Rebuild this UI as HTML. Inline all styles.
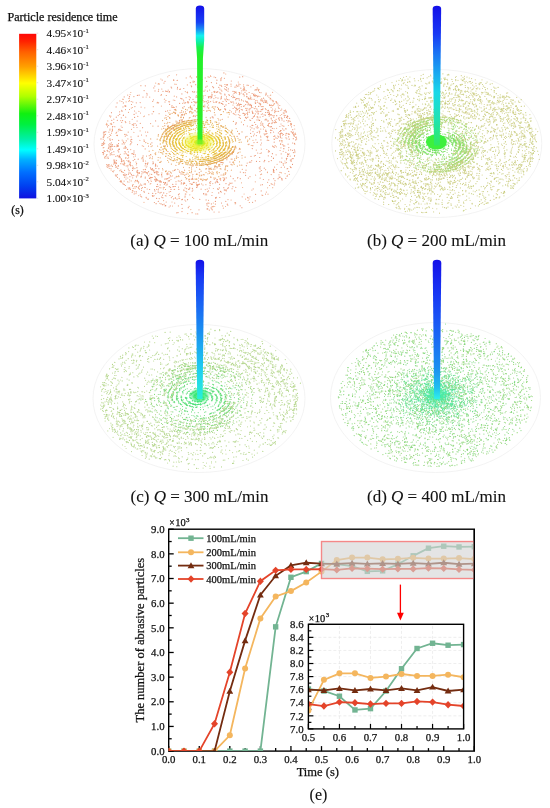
<!DOCTYPE html>
<html><head><meta charset="utf-8"><title>Particle residence time</title>
<style>
html,body{margin:0;padding:0;background:#fff;width:550px;height:808px;overflow:hidden}
svg{display:block;filter:blur(0.3px)}
text{font-family:'Liberation Serif','Times New Roman',serif;fill:#111;stroke:#111;stroke-width:0.25px}
</style></head><body>
<svg width="550" height="808" viewBox="0 0 550 808">
<text x="7.5" y="21.0" font-size="12.1">Particle residence time</text>
<defs><linearGradient id="cb" x1="0" y1="0" x2="0" y2="1"><stop offset="0" stop-color="#ff0808"/><stop offset="0.044" stop-color="#ff2000"/><stop offset="0.11" stop-color="#ff6000"/><stop offset="0.2" stop-color="#ffa000"/><stop offset="0.3" stop-color="#ffff00"/><stop offset="0.38" stop-color="#b0ff00"/><stop offset="0.485" stop-color="#10f010"/><stop offset="0.55" stop-color="#00f040"/><stop offset="0.64" stop-color="#00f0a8"/><stop offset="0.705" stop-color="#00ffff"/><stop offset="0.765" stop-color="#00b0ff"/><stop offset="0.84" stop-color="#0070ff"/><stop offset="0.925" stop-color="#0040f0"/><stop offset="1" stop-color="#1010e0"/></linearGradient></defs>
<rect x="19.1" y="33.8" width="17.2" height="164.6" fill="url(#cb)"/>
<text x="46.5" y="37.1" font-size="11.3" style="stroke-width:0.12px">4.95<tspan font-size="10">×</tspan>10<tspan font-size="6.6" dy="-4.6">-1</tspan></text>
<line x1="36.6" x2="38.2" y1="33.2" y2="33.2" stroke="#ccc" stroke-width="0.6"/>
<text x="46.5" y="53.6" font-size="11.3" style="stroke-width:0.12px">4.46<tspan font-size="10">×</tspan>10<tspan font-size="6.6" dy="-4.6">-1</tspan></text>
<line x1="36.6" x2="38.2" y1="49.7" y2="49.7" stroke="#ccc" stroke-width="0.6"/>
<text x="46.5" y="70.1" font-size="11.3" style="stroke-width:0.12px">3.96<tspan font-size="10">×</tspan>10<tspan font-size="6.6" dy="-4.6">-1</tspan></text>
<line x1="36.6" x2="38.2" y1="66.2" y2="66.2" stroke="#ccc" stroke-width="0.6"/>
<text x="46.5" y="86.6" font-size="11.3" style="stroke-width:0.12px">3.47<tspan font-size="10">×</tspan>10<tspan font-size="6.6" dy="-4.6">-1</tspan></text>
<line x1="36.6" x2="38.2" y1="82.7" y2="82.7" stroke="#ccc" stroke-width="0.6"/>
<text x="46.5" y="103.1" font-size="11.3" style="stroke-width:0.12px">2.97<tspan font-size="10">×</tspan>10<tspan font-size="6.6" dy="-4.6">-1</tspan></text>
<line x1="36.6" x2="38.2" y1="99.2" y2="99.2" stroke="#ccc" stroke-width="0.6"/>
<text x="46.5" y="119.7" font-size="11.3" style="stroke-width:0.12px">2.48<tspan font-size="10">×</tspan>10<tspan font-size="6.6" dy="-4.6">-1</tspan></text>
<line x1="36.6" x2="38.2" y1="115.8" y2="115.8" stroke="#ccc" stroke-width="0.6"/>
<text x="46.5" y="136.2" font-size="11.3" style="stroke-width:0.12px">1.99<tspan font-size="10">×</tspan>10<tspan font-size="6.6" dy="-4.6">-1</tspan></text>
<line x1="36.6" x2="38.2" y1="132.3" y2="132.3" stroke="#ccc" stroke-width="0.6"/>
<text x="46.5" y="152.7" font-size="11.3" style="stroke-width:0.12px">1.49<tspan font-size="10">×</tspan>10<tspan font-size="6.6" dy="-4.6">-1</tspan></text>
<line x1="36.6" x2="38.2" y1="148.8" y2="148.8" stroke="#ccc" stroke-width="0.6"/>
<text x="46.5" y="169.2" font-size="11.3" style="stroke-width:0.12px">9.98<tspan font-size="10">×</tspan>10<tspan font-size="6.6" dy="-4.6">-2</tspan></text>
<line x1="36.6" x2="38.2" y1="165.3" y2="165.3" stroke="#ccc" stroke-width="0.6"/>
<text x="46.5" y="185.7" font-size="11.3" style="stroke-width:0.12px">5.04<tspan font-size="10">×</tspan>10<tspan font-size="6.6" dy="-4.6">-2</tspan></text>
<line x1="36.6" x2="38.2" y1="181.8" y2="181.8" stroke="#ccc" stroke-width="0.6"/>
<text x="46.5" y="202.2" font-size="11.3" style="stroke-width:0.12px">1.00<tspan font-size="10">×</tspan>10<tspan font-size="6.6" dy="-4.6">-3</tspan></text>
<line x1="36.6" x2="38.2" y1="198.3" y2="198.3" stroke="#ccc" stroke-width="0.6"/>
<text x="11.3" y="213.5" font-size="11.8">(s)</text>
<defs><filter id="bl" x="-5%" y="-5%" width="110%" height="110%"><feGaussianBlur stdDeviation="0.45"/></filter></defs>
<ellipse cx="199.5" cy="144.0" rx="105.5" ry="75.5" fill="none" stroke="#f0f0f0" stroke-width="0.8"/>
<g filter="url(#bl)">
<path d="M223.4 159.4h0M200.5 120.2h0M201.2 165.4h0M226.8 157.0h0M190.0 165.0h0M223.3 127.0h0M231.1 153.6h0M229.0 130.7h0M179.6 122.5h0M221.6 125.8h0M232.2 130.7h0M210.0 164.3h0M235.7 146.7h0M177.1 123.8h0M194.3 163.6h0M168.3 155.6h0M224.4 158.7h0M165.9 130.4h0M195.3 119.7h0M194.6 120.1h0M187.7 120.9h0M210.0 164.0h0M208.4 163.9h0M213.6 163.3h0M192.6 164.8h0M208.6 164.2h0M222.8 159.6h0M166.5 130.3h0M207.8 164.4h0M161.3 137.1h0M216.4 122.1h0M190.4 164.9h0M187.9 120.8h0M223.4 159.5h0M163.3 151.0h0M226.4 157.1h0M170.0 159.2h0M219.8 160.9h0M167.8 158.0h0M230.0 154.8h0M170.1 127.6h0M225.4 158.0h0M218.7 161.5h0M217.6 124.5h0M166.6 129.5h0M234.6 149.0h0M161.0 147.4h0M212.5 163.4h0M194.1 120.0h0M179.2 122.9h0M211.5 163.6h0M229.1 155.7h0M161.6 152.7h0M161.1 137.9h0M234.8 149.0h0M218.7 161.5h0M167.8 129.1h0M233.4 152.4h0M235.1 147.6h0M183.1 121.5h0M193.7 120.0h0M206.7 120.0h0M187.0 121.0h0M165.8 130.7h0M238.0 138.2h0M171.2 126.6h0M169.5 127.7h0M186.0 162.4h0M161.3 147.0h0M210.7 121.0h0M234.4 149.6h0M199.3 120.1h0M230.3 154.0h0M231.2 131.6h0M223.4 158.7h0M205.1 164.6h0M235.6 140.9h0M234.3 149.7h0M221.0 125.8h0M164.1 131.9h0M168.2 128.5h0M170.3 126.7h0M225.7 158.1h0M180.3 161.2h0M183.6 122.0h0M191.1 120.6h0M160.3 143.7h0M225.3 158.5h0M213.6 162.9h0M234.1 149.6h0M199.4 165.2h0M232.9 151.6h0M160.5 138.9h0M217.2 162.0h0M189.8 164.8h0M182.4 122.3h0M172.8 160.6h0M233.7 150.5h0M174.3 158.9h0M166.8 153.7h0M227.3 157.1h0M235.3 146.0h0M197.1 119.6h0M229.8 154.9h0M210.9 163.7h0M183.6 121.7h0M185.0 121.1h0M195.8 120.0h0M232.7 134.0h0M200.4 165.1h0M181.8 122.1h0M206.6 164.1h0M165.9 153.6h0M221.5 160.1h0M192.5 120.3h0M171.5 157.7h0M166.8 129.4h0M235.0 147.3h0M158.2 136.1h0M180.0 122.9h0M225.4 125.8h0M166.8 129.6h0M159.5 149.6h0M234.0 136.0h0M225.9 128.1h0M165.6 129.8h0M210.7 122.4h0M174.6 125.4h0M159.8 139.9h0M165.7 130.0h0M160.2 144.1h0M211.2 163.6h0M220.7 160.8h0M220.8 160.6h0M173.7 125.3h0M183.4 121.6h0M184.6 121.3h0M223.8 126.8h0M227.0 157.2h0M183.9 121.6h0M188.6 120.4h0M158.2 135.8h0M162.8 134.5h0M182.2 163.5h0M161.6 136.0h0M171.7 126.0h0M191.9 163.3h0M196.9 165.3h0M178.8 162.9h0M214.4 163.0h0M173.4 160.6h0M199.6 120.5h0M186.3 121.2h0M215.2 162.8h0M233.8 150.2h0M198.0 119.7h0M234.6 137.0h0M168.9 127.7h0M235.1 138.4h0M210.8 120.9h0M216.4 162.6h0M206.1 164.4h0M210.8 122.7h0M160.3 140.7h0M219.1 161.2h0M231.1 153.9h0M228.1 156.0h0M221.9 160.1h0M207.6 120.5h0M176.8 162.2h0M170.0 127.4h0M231.3 132.7h0M217.2 162.2h0M215.6 162.6h0M216.7 162.3h0M206.9 164.4h0M192.2 120.1h0M226.6 128.3h0M234.0 151.0h0M207.4 120.2h0M230.0 154.7h0M171.4 126.3h0M172.3 125.7h0M167.4 129.0h0M226.6 157.6h0M196.8 165.2h0M221.4 160.2h0M186.4 164.1h0M162.9 154.1h0M232.0 130.1h0M231.4 153.9h0M186.4 121.0h0M197.2 120.1h0M189.0 120.8h0M173.7 125.4h0M171.6 157.7h0M178.7 122.8h0M202.6 164.7h0M181.4 161.5h0M210.4 120.6h0M162.9 133.5h0M209.9 164.0h0M217.0 162.0h0M197.7 119.6h0M179.6 163.1h0M194.6 119.8h0M198.1 119.6h0M203.9 164.9h0M210.3 120.5h0M235.5 139.7h0M174.8 159.1h0M221.0 125.7h0M197.1 165.1h0M191.6 120.5h0M181.7 161.4h0M193.6 165.0h0M195.6 165.1h0M170.5 126.9h0M234.6 148.8h0M167.7 128.9h0M181.6 122.1h0M170.8 159.5h0M190.9 164.9h0M225.2 128.1h0M186.0 164.1h0M171.2 160.0h0M174.5 124.9h0M176.9 124.0h0M184.8 121.1h0M173.9 160.8h0M174.4 159.0h0M187.9 164.7h0M176.6 123.8h0M173.7 160.8h0M209.5 163.9h0M235.3 139.7h0M234.5 136.9h0M167.4 128.3h0M219.2 161.2h0M201.7 120.0h0M201.7 165.2h0M225.4 158.1h0M188.3 163.1h0M201.9 163.5h0M239.0 140.1h0M200.0 164.9h0M187.8 163.0h0M239.2 142.4h0M170.1 156.6h0M176.6 159.7h0M210.0 163.8h0M161.0 137.7h0M185.8 163.8h0M172.5 125.4h0M234.0 136.2h0M210.5 164.2h0M166.9 129.5h0M228.9 155.9h0M210.0 164.0h0M202.9 165.3h0M214.9 162.6h0M221.1 160.5h0M223.1 159.9h0M189.8 120.7h0M187.8 164.5h0M216.7 122.5h0M209.7 164.3h0M231.8 152.7h0M168.2 127.8h0M203.2 165.0h0M191.1 120.3h0M201.6 164.9h0M182.2 122.1h0M214.6 162.7h0M218.4 124.7h0M179.8 122.7h0M235.0 147.0h0M214.8 162.6h0M223.3 127.3h0M233.5 151.5h0M225.1 158.3h0M163.8 151.7h0M164.8 131.0h0M228.4 156.4h0M167.7 128.8h0M220.5 125.7h0M190.0 120.8h0M232.7 152.4h0M214.7 162.6h0M175.7 124.6h0M182.3 122.0h0M216.9 162.0h0M165.6 156.5h0M172.0 126.1h0M220.7 160.6h0M232.5 153.1h0M162.2 134.3h0M165.5 131.3h0M182.9 163.6h0M162.9 149.3h0M232.7 151.8h0M215.1 121.9h0M200.7 165.1h0M163.4 132.7h0M227.7 129.5h0M199.3 163.6h0M225.0 158.5h0M207.5 120.4h0M231.9 133.0h0" stroke="#e0a040" stroke-width="1.1" stroke-linecap="round" fill="none" stroke-opacity="0.9"/>
<path d="M165.8 134.1h0M213.5 127.3h0M227.3 153.6h0M229.5 144.7h0M223.0 156.9h0M230.1 151.1h0M178.9 124.9h0M171.1 128.6h0M227.7 149.6h0M230.2 150.2h0M225.2 152.1h0M178.3 127.5h0M184.1 123.5h0M230.0 142.0h0M228.8 147.3h0M199.6 121.7h0M163.4 140.1h0M216.9 157.9h0M185.8 162.2h0M199.4 161.6h0M202.2 123.5h0M209.5 160.0h0M169.7 130.0h0M181.7 126.6h0M190.3 124.0h0M167.0 133.1h0M176.2 125.8h0M186.4 160.7h0M193.0 159.5h0M175.1 129.1h0M224.3 152.6h0M220.6 158.2h0M216.8 158.1h0M165.7 140.7h0M170.4 129.7h0M229.1 151.4h0M178.9 158.4h0M166.9 138.7h0M183.2 123.5h0M180.1 127.1h0M177.2 128.2h0M222.0 157.9h0M186.4 122.8h0M224.8 152.9h0M176.6 125.9h0M229.0 152.2h0M192.8 161.4h0M177.3 125.7h0M222.8 154.1h0M165.2 136.4h0M183.0 124.0h0M211.8 124.8h0M179.7 158.9h0M203.6 163.2h0M202.7 121.7h0M222.5 126.9h0M228.7 138.6h0M169.1 153.2h0M230.2 150.2h0M169.4 130.8h0M229.9 151.4h0M208.1 160.1h0M226.1 155.0h0M229.1 146.1h0M226.4 155.0h0M166.3 133.6h0M189.1 161.3h0M215.9 158.1h0M183.1 124.1h0M181.9 125.9h0M212.9 157.5h0M180.8 160.9h0M172.3 128.8h0M230.8 148.9h0M227.6 136.7h0M232.2 139.6h0M200.0 123.1h0M195.3 123.7h0M166.7 141.5h0M201.4 121.8h0M193.4 122.0h0M214.7 160.1h0M202.2 161.4h0M222.8 157.2h0M181.8 126.1h0M212.5 161.4h0M167.9 131.8h0M229.5 143.4h0M199.5 121.5h0M169.7 130.4h0M226.4 154.7h0M183.2 123.8h0M219.0 159.5h0M164.4 137.8h0M171.3 132.1h0M169.8 133.8h0M229.2 151.1h0M212.8 161.2h0M187.4 160.6h0M173.2 127.5h0M184.5 125.1h0M225.1 155.4h0M220.0 128.0h0M175.7 129.1h0M219.1 156.6h0M217.3 159.9h0M179.6 124.8h0M169.1 133.9h0M226.8 154.2h0M204.4 159.3h0M229.5 145.8h0M174.0 156.4h0M215.5 158.3h0M229.2 139.4h0M172.5 152.5h0M211.4 161.4h0M218.7 129.4h0M164.7 147.7h0M229.6 151.4h0M199.9 125.2h0M167.3 145.1h0M202.7 123.8h0M224.5 156.4h0M183.0 123.8h0M170.5 154.2h0M186.4 123.2h0M213.3 125.3h0M176.7 128.7h0M182.6 125.9h0M171.8 131.7h0M188.6 122.5h0M193.1 125.4h0M176.4 129.0h0M180.4 126.8h0M170.3 132.9h0M231.5 148.7h0M216.9 159.9h0M166.2 143.0h0M223.5 156.8h0M216.5 160.3h0M173.6 153.4h0M163.7 146.0h0M169.5 133.2h0M186.4 124.7h0M165.7 134.5h0M188.7 122.7h0M166.5 144.1h0M187.5 124.9h0M204.7 161.0h0M209.7 161.9h0M183.6 125.7h0M174.7 126.9h0M182.1 159.8h0M219.2 156.2h0M197.9 163.1h0M217.5 157.3h0M168.9 134.3h0M190.3 159.3h0M191.9 123.7h0M181.5 126.2h0M208.0 158.9h0M167.5 137.3h0M184.5 125.5h0M227.5 153.5h0M205.1 162.9h0M175.2 126.7h0M182.3 159.6h0M221.9 154.9h0M209.1 124.5h0M167.8 131.4h0M225.2 152.7h0M166.4 149.8h0M222.3 157.2h0M180.5 126.7h0M171.9 131.6h0M221.4 155.1h0M187.7 124.7h0M203.9 159.4h0M224.6 152.9h0M208.0 162.4h0M227.1 151.2h0M200.4 123.8h0M176.2 126.3h0M169.4 134.0h0M165.8 134.2h0M228.4 148.0h0M163.4 141.0h0M189.9 122.0h0M226.8 154.5h0M177.4 128.1h0M176.3 128.5h0M176.0 126.2h0M182.7 157.3h0M207.3 122.2h0M194.0 121.8h0M180.7 161.0h0M177.2 126.0h0M216.9 160.1h0M175.3 126.7h0M224.1 156.6h0M206.2 122.0h0M214.5 160.8h0M216.9 128.7h0M229.8 142.9h0M221.6 158.0h0M181.8 123.8h0M177.1 157.4h0M224.0 153.4h0M192.0 123.7h0M175.8 129.0h0M181.2 126.3h0M227.9 132.9h0M180.6 124.4h0M215.6 158.5h0M164.1 146.0h0M166.2 133.4h0M222.7 155.0h0M168.6 134.8h0M203.5 161.0h0M228.9 147.2h0M221.4 154.5h0M220.0 130.2h0M228.6 147.4h0M188.1 162.6h0M181.2 126.2h0M164.6 136.4h0M189.5 159.1h0M190.8 122.2h0M226.5 131.4h0M212.3 159.1h0M218.6 156.9h0M189.7 161.0h0M213.1 127.4h0M167.0 132.5h0M232.7 142.0h0M170.3 134.2h0M224.1 153.0h0M178.4 127.3h0M180.6 126.6h0M224.5 153.3h0M219.0 129.7h0M165.8 134.7h0M205.0 163.1h0M221.2 155.4h0M173.4 130.2h0M191.2 161.1h0M174.6 130.4h0M202.6 161.4h0M227.9 148.2h0M173.9 130.2h0M189.6 122.2h0M229.5 144.8h0M189.3 160.8h0M170.6 133.3h0M186.5 122.8h0M171.2 151.3h0M228.3 148.5h0M180.9 126.6h0M185.9 123.3h0M169.7 153.9h0M177.4 125.8h0M184.7 122.9h0M167.5 146.5h0M163.9 137.8h0M181.2 126.3h0M223.3 156.6h0M225.1 155.6h0M179.7 125.2h0M208.8 160.4h0M205.6 161.0h0M229.2 146.4h0M182.0 126.3h0M163.1 142.0h0M218.1 159.7h0M166.6 139.8h0M220.8 158.4h0M199.7 122.0h0M164.6 136.5h0M229.3 142.1h0M190.0 122.6h0M223.7 154.2h0M213.8 158.9h0M206.7 122.1h0M211.2 161.8h0M162.9 142.6h0M176.8 125.7h0M175.9 154.7h0M222.5 157.3h0M178.8 125.1h0M196.4 163.2h0M229.1 145.5h0M228.0 136.9h0M166.4 150.6h0M192.1 161.2h0M232.5 147.3h0M191.8 163.0h0M227.9 152.9h0M182.3 126.4h0M184.3 161.8h0M229.8 135.1h0M202.2 163.1h0M224.0 153.9h0M167.4 136.3h0M177.3 128.2h0M185.7 123.2h0M229.7 141.3h0M179.5 158.6h0M229.0 146.6h0M173.5 127.6h0M183.4 125.7h0M220.0 159.1h0M190.9 124.4h0M223.7 153.5h0M232.4 146.6h0M229.2 146.8h0M208.5 160.6h0M185.1 123.4h0M207.7 124.1h0M180.9 159.1h0M174.9 129.1h0M170.2 130.1h0M216.0 156.3h0M195.0 123.7h0M192.3 122.0h0M209.4 160.4h0M219.3 156.5h0M221.8 155.6h0M190.2 122.1h0M201.6 161.2h0M180.6 126.9h0M231.4 138.3h0M225.3 152.5h0M208.5 160.2h0M221.5 158.1h0M221.7 130.8h0M216.4 157.8h0M178.9 127.7h0M190.6 161.0h0M166.5 139.0h0M180.1 127.0h0M210.3 162.0h0M192.5 161.4h0M164.9 136.8h0M196.4 163.3h0M204.1 124.0h0M164.2 139.1h0M213.7 161.1h0M220.5 155.6h0M176.1 126.2h0M200.2 161.5h0M195.5 161.2h0M228.1 149.1h0M228.8 152.2h0M190.6 124.1h0M228.2 153.0h0M174.4 126.6h0M190.9 162.9h0M223.6 153.2h0M232.9 146.6h0M174.2 154.4h0M174.5 126.7h0M199.7 161.4h0M169.4 133.6h0M166.9 142.1h0M224.6 155.5h0M223.6 156.7h0M190.7 124.3h0M219.5 158.7h0M228.8 140.0h0M166.1 134.0h0M214.3 158.8h0M222.8 156.8h0M225.2 152.3h0M195.0 121.9h0M193.1 161.4h0M227.6 153.8h0M172.0 128.7h0M164.7 148.6h0M203.1 121.8h0M196.3 161.6h0M201.1 125.3h0M225.5 131.1h0M191.7 122.1h0M166.0 133.8h0M194.7 121.9h0M229.1 147.5h0M229.4 141.2h0M183.1 159.7h0M211.8 124.9h0M177.5 159.9h0M169.4 130.6h0M171.2 132.6h0M163.2 140.3h0M171.9 128.6h0M165.1 148.0h0M163.7 140.9h0M168.3 135.3h0M220.9 155.8h0M205.5 162.7h0M207.5 160.8h0M233.2 141.5h0M225.7 152.1h0M183.8 125.7h0M183.1 124.3h0M205.1 162.9h0M218.4 126.9h0M179.6 125.2h0M223.5 154.1h0M211.8 161.8h0M177.8 128.2h0M218.8 156.4h0M179.6 125.0h0M168.3 131.4h0M166.7 138.9h0M206.4 159.2h0M228.0 153.1h0M222.8 157.1h0M229.0 147.3h0M189.8 124.3h0M216.3 160.1h0M217.4 159.7h0M210.9 161.3h0M185.8 125.2h0M203.7 161.2h0M179.0 127.5h0M166.8 133.2h0M166.7 144.1h0M205.8 124.1h0M195.0 160.0h0M231.0 148.6h0M165.8 141.8h0M199.4 122.0h0M168.3 135.7h0M214.8 160.6h0M227.8 136.7h0M226.5 154.2h0M219.0 158.9h0M204.6 125.6h0M225.9 154.5h0M183.9 123.6h0M215.3 158.4h0M224.4 156.3h0M223.7 153.8h0M206.7 160.6h0M201.3 161.4h0M168.5 135.5h0M166.8 133.4h0M219.6 158.8h0M213.5 158.5h0M228.3 147.4h0M229.4 140.0h0M228.9 146.3h0M167.2 138.4h0M188.7 124.2h0M190.9 125.5h0M202.8 121.9h0M195.2 121.8h0M182.4 126.4h0M228.5 152.5h0M163.3 141.9h0M184.1 123.6h0M211.7 157.9h0M204.2 125.4h0M182.1 125.8h0M197.6 123.5h0M186.8 126.3h0M229.2 146.3h0M216.8 160.0h0M226.1 134.3h0M164.2 136.3h0M208.3 162.4h0M164.7 146.5h0M188.9 124.6h0M216.4 158.2h0M229.3 140.6h0M205.1 160.9h0M163.2 140.0h0M188.2 124.2h0M189.5 124.5h0M171.2 128.8h0M215.3 160.3h0M229.0 152.7h0M208.2 162.4h0M225.5 130.6h0M196.8 163.1h0M176.6 126.0h0M215.6 160.2h0M229.3 152.2h0M184.6 125.5h0M168.4 131.7h0M162.9 143.2h0M171.3 129.0h0M176.1 126.1h0M167.1 138.8h0M230.7 150.6h0M189.8 123.7h0M229.6 141.3h0M210.6 160.2h0M196.3 161.9h0M199.9 161.4h0M187.5 124.6h0M178.9 125.4h0M205.5 122.1h0M229.5 151.8h0M164.1 145.8h0M219.5 157.0h0M170.7 133.0h0M192.1 121.9h0M177.6 159.7h0M165.9 149.4h0M212.7 127.0h0M202.4 161.3h0M210.6 160.2h0M222.2 154.8h0M214.0 160.7h0M229.3 144.5h0M177.0 125.9h0M192.5 125.5h0M228.1 148.2h0M190.9 122.0h0M187.1 122.5h0M187.4 124.6h0M196.0 121.6h0M166.9 132.3h0M229.1 146.6h0M203.6 123.8h0M232.2 140.3h0M229.7 140.9h0M198.3 121.5h0M171.7 132.0h0M215.8 160.4h0M227.1 150.7h0M216.7 126.3h0M224.6 152.7h0M185.9 123.0h0M229.1 148.3h0M167.0 138.9h0M174.4 129.9h0M212.1 159.1h0M186.5 124.9h0M220.7 155.5h0M229.0 141.5h0M208.1 124.1h0M189.2 124.0h0M222.7 127.0h0M191.3 125.7h0M191.8 123.7h0M224.8 156.1h0M177.7 125.4h0M204.0 161.2h0M168.0 135.9h0M210.9 161.8h0M229.4 147.1h0M228.1 148.0h0M192.0 121.8h0M174.2 126.8h0M227.9 153.0h0M184.1 125.4h0M181.6 124.1h0M229.0 147.4h0M177.6 157.8h0M169.4 134.2h0M168.0 131.6h0M228.6 137.7h0M174.2 129.8h0M185.9 126.7h0M167.1 137.9h0M215.7 158.3h0M196.9 163.3h0M184.0 125.5h0M190.7 124.2h0M191.3 162.9h0M229.0 145.7h0M231.9 147.5h0M171.2 131.9h0M227.1 132.4h0M203.5 123.7h0M196.0 121.6h0M179.6 124.7h0M208.0 160.3h0M223.5 157.1h0M176.3 128.3h0M212.5 123.2h0M200.1 121.7h0M228.8 139.6h0M230.6 135.2h0M214.6 157.9h0M182.2 161.4h0M164.8 136.3h0M213.3 161.1h0M180.7 159.5h0M219.2 156.7h0M232.2 140.6h0M185.2 123.3h0M222.3 154.5h0M201.5 123.5h0M198.0 123.4h0M203.6 121.8h0M197.6 123.3h0M183.8 125.8h0M169.4 130.5h0M226.4 154.5h0M164.1 136.5h0M211.0 159.6h0M232.2 147.2h0M193.5 124.1h0M199.6 163.1h0M185.4 123.3h0M165.9 149.1h0M226.2 152.5h0M225.0 130.7h0M200.5 161.1h0M167.1 138.1h0M171.3 132.2h0M228.6 147.9h0M164.0 137.9h0M171.0 132.2h0M187.5 124.8h0M216.5 124.3h0" stroke="#e1ab35" stroke-width="1.1" stroke-linecap="round" fill="none" stroke-opacity="0.9"/>
<path d="M170.4 145.9h0M203.6 127.7h0M190.8 125.9h0M169.8 144.5h0M175.9 131.8h0M220.4 136.0h0M170.0 140.9h0M202.3 157.8h0M173.3 142.0h0M216.5 155.1h0M174.4 133.2h0M221.7 148.7h0M180.1 131.9h0M175.5 148.9h0M214.9 156.2h0M195.2 156.3h0M175.5 132.0h0M223.1 140.8h0M202.1 157.9h0M185.3 127.5h0M198.6 128.9h0M218.1 154.6h0M207.6 158.5h0M170.4 138.7h0M174.5 136.4h0M188.5 126.6h0M187.7 126.5h0M177.2 133.0h0M218.7 151.1h0M226.1 145.4h0M173.3 145.3h0M172.2 135.1h0M172.7 142.6h0M220.3 132.7h0M223.9 150.1h0M222.1 147.4h0M181.9 130.8h0M225.4 142.6h0M175.5 135.9h0M217.7 131.3h0M172.6 143.4h0M222.9 142.3h0M176.8 134.0h0M175.9 132.0h0M174.3 146.1h0M223.4 145.4h0M215.0 156.3h0M209.9 130.6h0M222.9 143.0h0M225.0 139.2h0M176.9 133.6h0M221.6 133.4h0M176.4 134.1h0M174.0 136.9h0M174.7 147.5h0M189.9 128.2h0M170.2 138.0h0M172.9 144.3h0M215.8 153.3h0M170.5 137.7h0M173.1 145.5h0M221.1 148.6h0M173.6 150.4h0M227.0 143.1h0M223.9 150.5h0M176.4 149.5h0M222.4 152.0h0M178.7 129.7h0M225.3 137.5h0M174.9 136.6h0M169.4 141.8h0M206.0 127.6h0M175.8 134.8h0M220.0 150.6h0M215.5 132.8h0M219.5 151.4h0M176.8 153.1h0M184.3 129.9h0M182.2 153.1h0M223.4 143.9h0M201.7 155.8h0M174.1 138.4h0M177.5 153.3h0M227.0 146.0h0M175.6 131.6h0M172.4 149.4h0M221.3 136.6h0M173.2 138.6h0M197.5 129.0h0M223.1 150.5h0M210.9 157.8h0M173.3 140.4h0M177.1 130.8h0M175.6 151.6h0M226.3 145.3h0M195.7 128.8h0M175.3 135.3h0M225.6 143.5h0M178.4 129.8h0M216.6 155.6h0M177.5 130.6h0M173.9 138.4h0M197.2 159.6h0M193.9 129.1h0M223.2 145.2h0M176.5 134.1h0M224.7 149.9h0M171.5 148.2h0M191.8 129.4h0M220.0 135.6h0M217.1 155.4h0M173.8 137.6h0M218.7 154.4h0M217.4 131.5h0M182.5 130.2h0M218.2 154.7h0M220.4 153.2h0M206.5 157.1h0M225.3 138.6h0M173.1 139.4h0M198.5 157.9h0M221.2 134.1h0M219.6 154.2h0M219.9 154.0h0M170.1 140.1h0M222.8 140.0h0M220.3 153.3h0M174.1 138.1h0M222.2 146.6h0M179.6 131.6h0M177.3 130.8h0M212.8 155.0h0M171.7 136.5h0M172.3 134.5h0M174.7 136.8h0M221.8 148.2h0M221.8 147.9h0M223.1 143.7h0M221.3 136.5h0M223.4 144.7h0M203.0 129.3h0M200.2 159.5h0M201.0 127.1h0M182.9 155.7h0M169.3 142.9h0M214.3 156.5h0M170.1 138.9h0M223.1 142.3h0M220.9 152.4h0M183.5 128.4h0M208.6 158.3h0M213.7 154.6h0M223.9 149.4h0M226.4 141.7h0M173.9 137.8h0M216.1 132.8h0M174.2 133.1h0M169.8 143.5h0M213.6 157.1h0M218.1 154.1h0M187.3 126.7h0M226.4 142.3h0M204.6 127.4h0M173.9 137.0h0M191.7 126.1h0M208.2 156.3h0M219.1 154.4h0M225.5 146.4h0M174.4 146.4h0M223.1 144.9h0M177.5 133.5h0M213.9 152.4h0M172.7 134.6h0M175.9 134.8h0M171.0 137.2h0M175.8 135.0h0M223.9 150.0h0M217.7 131.4h0M174.6 136.1h0M178.3 130.3h0M219.5 153.4h0M223.3 149.8h0M186.6 128.7h0M176.5 134.1h0M173.0 143.8h0M207.3 158.7h0M176.8 133.7h0M225.2 148.7h0M175.8 151.5h0M178.0 130.2h0M223.3 143.8h0M214.6 153.6h0M222.6 146.8h0M224.5 148.5h0M186.2 156.5h0M182.6 155.9h0M213.3 157.2h0M223.7 149.8h0M210.4 157.9h0M173.9 133.2h0M220.4 149.6h0M222.1 147.1h0M171.1 136.6h0M174.9 136.5h0M185.0 128.9h0M175.4 132.2h0M170.5 138.7h0M223.4 142.2h0M221.2 148.5h0M185.3 127.0h0M181.3 129.0h0M172.6 134.4h0M207.7 158.7h0M171.0 146.8h0M183.4 127.9h0M202.9 157.3h0M175.5 148.6h0M218.9 134.8h0M169.5 140.8h0M169.7 142.4h0M221.1 136.8h0M219.5 150.8h0M170.4 137.9h0M201.0 157.8h0M199.9 159.6h0M214.9 154.4h0M215.4 132.9h0M218.4 154.9h0M188.0 126.4h0M177.4 153.5h0M208.9 156.4h0M170.0 141.0h0M180.0 152.3h0M219.6 151.0h0M174.3 136.2h0M172.4 134.6h0M179.3 129.4h0M174.3 136.7h0M183.4 127.9h0M174.0 145.0h0M219.8 135.6h0M170.3 139.1h0M205.2 157.2h0M200.9 159.4h0M185.4 127.1h0M180.9 128.4h0M221.5 138.5h0M174.8 150.9h0M177.9 132.8h0M214.7 153.8h0M215.8 153.5h0M181.0 155.3h0M172.0 135.2h0M217.5 155.4h0M170.4 143.9h0M169.6 140.9h0M226.1 145.8h0M208.5 158.4h0M169.7 139.8h0M176.5 149.7h0M182.2 155.2h0M177.3 150.1h0M178.7 154.1h0M219.6 150.9h0M214.8 153.7h0M179.8 129.0h0M221.9 152.6h0M171.9 135.5h0M218.2 154.4h0M226.5 142.3h0M172.3 135.7h0M193.5 129.1h0M174.9 133.3h0M180.2 129.5h0M221.3 152.8h0M198.6 159.6h0M196.4 125.6h0M210.0 130.7h0M171.1 136.8h0M180.0 131.7h0M220.9 148.7h0M177.1 150.4h0M223.5 143.2h0M197.3 157.6h0M172.5 141.9h0M224.4 149.5h0M219.8 132.0h0M170.2 138.2h0M173.4 137.8h0M214.5 156.4h0M198.8 126.9h0M225.0 136.8h0M185.6 127.1h0M217.1 133.5h0M170.6 137.4h0M207.3 129.5h0M215.5 155.8h0M212.2 127.3h0M220.2 135.8h0M174.5 148.3h0M202.4 126.9h0M171.7 135.8h0M225.0 147.9h0M189.0 128.4h0M181.0 131.2h0M226.3 144.9h0M220.1 150.6h0M189.3 126.0h0M223.7 150.6h0M169.3 143.1h0M175.2 151.4h0M221.9 138.1h0M180.3 128.9h0M174.3 136.8h0M225.5 138.6h0M209.0 158.1h0M209.0 156.2h0M207.4 156.2h0M171.9 135.3h0M188.3 126.6h0M223.4 144.4h0M217.1 133.9h0M220.0 150.0h0M226.7 141.7h0M225.0 138.4h0M175.7 132.0h0M173.4 138.1h0M215.0 156.1h0M172.0 135.4h0M173.5 137.6h0M204.7 159.3h0M222.6 139.9h0M176.0 134.8h0M223.0 145.4h0M170.3 139.6h0M198.9 127.2h0M216.9 155.3h0M202.9 159.5h0M169.3 139.8h0M169.7 140.0h0M169.9 141.2h0M172.6 143.6h0M216.6 152.8h0M172.2 134.8h0M183.6 130.1h0M215.2 153.7h0M223.1 141.0h0M174.9 135.7h0M169.7 141.2h0M219.6 132.6h0M203.6 159.1h0M188.8 128.0h0M198.1 156.2h0M220.2 153.2h0M170.2 145.1h0M222.9 142.6h0M178.2 132.6h0M173.6 145.1h0M196.5 157.8h0M186.7 130.8h0M208.3 156.5h0M179.2 132.7h0M177.6 132.9h0M172.3 141.6h0M173.8 137.3h0M225.6 139.2h0M177.7 130.3h0M221.7 137.9h0M176.1 131.0h0M170.5 137.9h0M194.9 158.2h0M189.2 128.4h0M215.1 156.2h0M225.5 145.9h0M221.0 133.7h0M171.1 148.1h0M181.8 155.1h0M225.9 143.9h0M219.3 151.0h0M174.8 135.6h0M226.2 145.8h0M176.5 149.5h0M216.9 153.0h0M189.2 128.2h0M173.3 145.9h0M210.0 126.8h0M176.2 134.6h0M173.1 142.9h0M173.0 138.8h0M218.3 154.6h0M176.6 130.9h0M221.8 148.2h0M223.0 140.5h0M202.1 125.5h0M223.0 146.0h0M183.3 155.4h0M222.6 140.2h0M176.0 131.6h0M205.7 156.7h0M185.1 128.9h0M223.1 143.4h0M178.2 132.8h0M183.6 128.1h0M172.2 144.2h0M221.9 138.3h0M222.9 146.3h0M225.2 138.0h0M173.7 146.6h0M175.4 136.3h0M175.8 134.7h0M221.7 147.7h0M182.3 130.6h0M174.2 133.1h0M171.5 136.8h0M170.5 137.8h0M173.4 137.8h0M222.9 145.3h0M196.6 156.1h0M208.5 156.3h0M219.4 135.7h0M220.1 153.7h0M174.2 137.3h0M170.1 138.0h0M222.4 151.7h0M213.3 156.8h0M216.3 155.5h0M173.0 143.3h0M173.9 137.7h0M172.3 142.1h0M205.6 159.1h0M195.5 158.0h0M210.8 158.0h0M220.3 149.6h0M175.3 148.0h0M220.4 153.0h0M225.4 147.7h0M218.8 154.5h0M181.2 128.8h0M220.8 152.9h0M172.7 140.9h0M224.1 137.1h0M176.6 149.2h0M170.1 138.7h0M196.7 127.3h0M169.5 139.3h0M220.6 149.8h0M174.3 137.0h0M192.5 157.8h0M221.1 148.7h0M210.8 157.7h0" stroke="#e3b52b" stroke-width="1.1" stroke-linecap="round" fill="none" stroke-opacity="0.9"/>
<path d="M215.0 114.9h0M162.9 169.8h0M240.4 149.0h0M206.5 111.1h0M174.3 112.4h0M173.4 128.4h0M151.1 146.6h0M166.9 139.0h0M214.4 112.6h0M165.7 129.1h0M175.9 165.3h0M179.7 121.2h0M207.2 110.8h0M181.1 116.0h0M189.3 167.7h0M227.4 157.8h0M197.7 107.2h0M174.0 125.5h0M188.9 107.7h0M203.5 106.2h0M207.7 165.1h0M200.4 179.1h0M210.4 117.9h0M219.1 166.0h0M175.2 169.7h0M239.2 133.9h0M150.6 144.2h0M234.8 160.4h0M164.5 140.7h0M225.7 166.4h0M177.3 122.0h0M238.1 157.5h0M205.8 168.9h0M249.6 138.9h0M170.6 172.2h0M171.4 164.1h0M162.2 136.2h0M201.5 105.5h0M150.7 138.9h0M210.3 168.9h0M233.4 121.4h0M165.9 156.2h0M220.7 114.6h0M199.7 112.1h0M242.0 155.6h0M183.5 117.4h0M201.1 171.2h0M179.4 171.0h0M170.4 114.0h0M189.7 112.6h0M210.8 176.9h0M237.4 166.1h0M225.9 172.9h0M221.3 126.3h0M164.8 125.7h0M204.8 106.8h0M185.4 177.3h0M197.4 108.5h0M231.1 132.4h0M155.1 153.7h0M182.2 119.7h0M186.3 178.9h0M169.8 122.5h0M220.2 156.3h0M169.6 117.7h0M211.9 173.6h0M237.5 131.3h0M222.2 162.6h0M223.2 162.8h0M176.0 121.0h0M238.3 152.5h0M166.8 134.8h0M209.2 168.3h0M245.1 157.2h0M168.7 127.1h0M152.9 126.1h0M203.3 174.7h0M162.6 120.6h0M179.5 120.4h0M158.4 134.6h0M215.2 166.2h0M242.0 131.9h0M173.3 125.5h0M225.1 169.8h0M201.1 114.7h0M191.1 172.7h0M219.0 123.1h0M218.8 166.1h0M213.4 169.1h0M211.0 168.2h0M178.6 175.8h0M178.9 127.8h0M208.9 110.3h0M228.5 155.6h0M241.8 165.2h0M196.9 112.1h0M217.2 166.9h0M171.3 173.1h0" stroke="#e49a60" stroke-width="1.2" stroke-linecap="round" fill="none" stroke-opacity="0.9"/>
<path d="M216.8 144.5h0M212.1 136.0h0M182.3 148.3h0M176.2 143.0h0M207.6 132.3h0M190.7 133.7h0M212.1 135.9h0M177.8 137.6h0M215.0 151.2h0M205.8 133.5h0M220.5 142.7h0M175.6 142.6h0M212.2 136.0h0M179.1 135.2h0M214.7 138.3h0M217.2 143.6h0M217.2 148.3h0M191.2 154.1h0M214.7 151.3h0M208.6 132.1h0M200.9 132.5h0M179.9 145.1h0M180.7 150.1h0M188.7 130.3h0M179.5 144.8h0M218.5 138.0h0M190.3 151.4h0M179.6 149.1h0M220.3 143.5h0M181.3 150.4h0M184.0 152.0h0M193.9 155.7h0M208.9 154.3h0M176.6 139.0h0M179.8 145.2h0M205.3 151.3h0M175.6 139.4h0M185.0 149.6h0M207.7 133.7h0M212.1 135.9h0M216.1 140.2h0M216.4 146.1h0M175.7 143.1h0M216.4 136.1h0M215.1 151.3h0M208.7 150.0h0M190.1 151.7h0M216.2 139.6h0M179.1 139.9h0M219.0 139.7h0M217.7 137.6h0M179.4 144.4h0M180.7 150.1h0M215.2 138.0h0M184.2 132.0h0M180.1 145.2h0M209.0 131.9h0M197.6 152.6h0M197.5 154.2h0M181.3 147.0h0M176.0 140.4h0M181.2 147.2h0M219.1 147.3h0M182.5 135.5h0M191.3 151.9h0M216.8 143.0h0M176.7 144.2h0M188.5 151.4h0M216.6 150.5h0M211.8 135.9h0M181.0 133.5h0M219.7 139.1h0M179.0 140.1h0M178.2 147.8h0M183.8 134.2h0M178.4 136.5h0M197.1 152.2h0M219.1 139.1h0M215.5 135.1h0M179.7 144.0h0M215.1 138.3h0M216.7 142.9h0M182.2 150.7h0M181.1 147.1h0M210.5 135.1h0M180.2 150.0h0M179.9 145.1h0M219.8 142.0h0M178.9 148.3h0M215.7 150.9h0M197.6 154.3h0M192.0 133.5h0M217.2 149.2h0M179.0 143.0h0M180.1 145.6h0M188.8 132.2h0M217.3 141.9h0M213.3 136.8h0M176.6 145.3h0M216.6 144.4h0M219.5 139.6h0M219.1 146.5h0M219.2 147.0h0M212.9 150.2h0M176.7 139.3h0M181.0 134.1h0M190.0 153.6h0M180.2 143.9h0M218.9 139.3h0M215.6 146.9h0M199.5 132.8h0M176.4 138.6h0M177.8 147.3h0M179.3 139.4h0M194.1 152.1h0M220.6 142.7h0M216.5 143.2h0M180.3 134.4h0M179.4 134.8h0M182.5 148.5h0M208.5 150.1h0M190.6 153.6h0M176.3 138.5h0M219.8 145.5h0M179.2 142.9h0M181.8 147.2h0M210.0 151.6h0M212.2 135.8h0M182.6 148.8h0M214.4 137.3h0M200.2 152.2h0M219.2 146.8h0M211.4 153.3h0M176.0 139.3h0M187.4 150.9h0M218.4 138.4h0M220.6 145.3h0M211.4 135.3h0M216.2 136.3h0M209.6 134.1h0M182.3 136.0h0M212.7 152.4h0M175.8 141.9h0M220.1 143.5h0M212.6 133.7h0M184.6 149.5h0M217.6 136.9h0M217.1 141.1h0M214.1 148.6h0M195.4 130.8h0M179.8 143.6h0M212.9 149.6h0M181.4 147.7h0M208.7 132.3h0M176.1 140.4h0M219.7 140.2h0M219.7 142.9h0M220.1 141.6h0M178.7 135.7h0M216.9 145.7h0M219.4 146.6h0M178.8 141.5h0M216.9 136.6h0M176.4 143.6h0M214.8 137.6h0M176.0 144.5h0M214.3 137.2h0M199.8 132.6h0M185.0 131.5h0M207.5 154.5h0M200.1 131.0h0M213.8 136.9h0M187.0 153.0h0M181.4 146.8h0M186.3 133.7h0M204.7 153.3h0M178.8 143.6h0M211.4 150.7h0M213.1 134.1h0M183.8 132.4h0M176.5 143.6h0M216.7 143.6h0M192.1 153.8h0M176.1 140.1h0M200.5 130.5h0M180.8 145.9h0M216.9 143.7h0M209.6 134.5h0M208.3 132.2h0M178.7 135.8h0M210.2 134.8h0M217.2 142.4h0M190.4 152.2h0M197.4 152.4h0M190.2 151.8h0M217.1 136.8h0M182.2 133.6h0M176.8 139.7h0M219.5 140.9h0M178.3 136.4h0M179.7 149.6h0M178.9 142.3h0M176.1 142.8h0M180.5 145.7h0M211.4 153.2h0M219.5 146.8h0M184.3 133.9h0M218.5 147.5h0M218.9 137.2h0M213.7 149.9h0M176.3 139.8h0M175.9 142.3h0M216.0 139.0h0M219.8 143.7h0M181.5 133.7h0M181.4 137.0h0M218.8 147.5h0M217.1 145.5h0M219.2 147.0h0M175.5 143.0h0M191.1 129.7h0M178.8 142.2h0M180.7 146.1h0M176.2 140.4h0M180.9 134.4h0M186.6 131.0h0M181.9 150.8h0M216.0 139.3h0M175.7 142.7h0M200.7 152.1h0M178.9 143.7h0M218.7 138.8h0M179.1 139.3h0M215.0 138.3h0M208.4 154.4h0M179.9 134.7h0M176.8 138.6h0M194.3 154.3h0M178.4 135.4h0M175.4 141.9h0M187.8 151.4h0M179.0 148.4h0M219.6 140.7h0M219.9 144.9h0M216.7 140.8h0M179.6 138.9h0M202.8 132.6h0M190.1 130.1h0M218.3 138.9h0M177.0 146.2h0M216.7 142.8h0M215.2 151.1h0M213.4 152.4h0M205.7 153.1h0M206.4 131.4h0M212.0 132.9h0M180.0 134.7h0M203.2 132.8h0M179.4 142.4h0M195.1 132.7h0M204.5 153.8h0M183.0 132.6h0M214.7 147.7h0M220.1 145.7h0M177.9 136.2h0M216.2 139.6h0M180.4 138.2h0M216.5 145.7h0M189.5 130.4h0M214.3 148.5h0M203.8 132.8h0M178.9 140.8h0M180.1 138.4h0M183.3 132.2h0M178.7 148.2h0M176.5 139.8h0M197.6 152.4h0M213.8 148.9h0M177.4 138.8h0M213.0 136.7h0M217.6 149.2h0M200.1 132.5h0M216.2 140.0h0M176.0 143.4h0M182.4 148.2h0M219.2 142.3h0M185.0 149.8h0M180.5 146.6h0M190.5 151.7h0M217.1 142.6h0M215.8 139.8h0M219.6 140.2h0M177.2 138.7h0M217.1 141.8h0M184.0 149.5h0M219.4 147.1h0M179.7 144.8h0M215.7 139.0h0M182.8 148.2h0M176.6 143.9h0M209.5 151.9h0M194.4 152.4h0M185.5 152.0h0M219.7 144.8h0M218.3 147.9h0M183.6 151.8h0M203.5 131.1h0M216.3 141.1h0M220.1 145.5h0M220.1 140.3h0M194.9 152.3h0M208.4 133.8h0M218.4 138.7h0M217.4 143.0h0M203.7 132.7h0M180.5 138.1h0M216.5 146.1h0M178.2 136.0h0M182.8 148.4h0M191.4 152.0h0M176.9 147.0h0M206.5 133.7h0M219.6 146.1h0M186.5 150.2h0M183.5 137.6h0M218.1 148.2h0M189.3 133.9h0M212.8 152.4h0M176.1 143.3h0M186.2 150.6h0M175.9 140.8h0M179.2 148.6h0M182.3 151.1h0M214.0 152.1h0M180.6 146.2h0M211.2 135.2h0M176.3 145.7h0M183.5 148.5h0M190.2 151.7h0M218.1 137.6h0M182.4 151.1h0M203.0 130.9h0M179.6 139.0h0M216.7 141.2h0M216.3 139.7h0M216.1 146.4h0M175.7 141.6h0M211.9 135.5h0M203.2 153.5h0M183.7 132.4h0" stroke="#e4c020" stroke-width="1.1" stroke-linecap="round" fill="none" stroke-opacity="0.9"/>
<path d="M182.6 140.0h0M187.6 145.9h0M200.8 134.4h0M188.4 146.2h0M188.9 146.6h0M208.0 136.3h0M206.6 135.6h0M212.6 147.0h0M196.9 148.9h0M193.9 148.6h0M200.3 135.9h0M201.2 148.3h0M206.9 148.7h0M201.2 136.4h0M197.4 136.2h0M183.4 145.5h0M199.8 136.3h0M197.3 150.8h0M208.7 139.6h0M190.9 149.9h0M184.6 147.1h0M210.9 138.5h0M205.1 135.1h0M213.6 141.4h0M183.1 145.5h0M213.2 144.9h0M190.0 147.5h0M202.9 136.4h0M182.4 143.0h0M204.3 147.4h0M211.5 147.8h0M193.1 148.6h0M189.6 134.4h0M200.9 134.5h0M190.7 138.1h0M182.3 142.1h0M188.5 146.2h0M186.3 145.4h0M197.5 133.0h0M201.8 136.1h0M189.3 146.8h0M185.6 147.5h0M184.1 138.2h0M191.2 147.9h0M213.7 142.0h0M185.0 147.4h0M206.4 148.7h0M196.5 150.8h0M182.5 145.1h0M203.0 136.9h0M209.5 140.6h0M209.4 149.4h0M192.9 148.5h0M210.9 143.3h0M200.5 150.7h0M192.5 150.1h0M196.7 148.9h0M188.2 146.2h0M203.1 136.9h0M213.2 140.6h0M212.8 138.4h0M185.3 147.1h0M210.3 145.3h0M185.8 144.0h0M212.4 140.0h0M207.9 138.7h0M191.0 149.7h0M207.3 137.9h0M213.0 140.3h0M194.1 148.5h0M188.8 146.6h0M202.7 147.9h0M190.8 138.4h0M204.5 135.0h0M214.3 143.5h0M209.5 139.8h0M208.8 147.0h0M213.5 144.4h0M188.0 145.8h0M200.9 148.6h0M185.5 140.3h0M211.9 138.9h0M213.5 141.0h0M212.8 140.2h0M191.2 138.1h0M206.5 137.8h0M188.6 147.0h0M204.7 135.2h0M203.5 137.0h0M183.3 138.2h0M202.7 134.7h0M193.9 136.6h0M210.9 137.9h0M201.5 150.3h0M182.7 145.1h0M206.5 145.6h0M191.6 147.8h0M187.1 138.3h0M207.5 135.9h0M201.1 150.2h0M196.2 148.5h0M188.7 146.4h0M190.6 147.2h0M204.8 135.2h0M185.4 147.5h0M188.0 141.8h0M203.8 137.0h0M199.0 134.6h0M183.0 144.5h0M191.9 149.9h0M190.5 136.2h0M198.0 135.9h0M190.2 149.3h0M191.7 150.0h0M208.0 136.1h0M192.4 150.4h0M185.7 142.0h0M199.5 150.4h0M188.1 149.1h0M195.3 149.1h0M208.0 136.1h0M192.8 150.3h0M195.6 150.5h0M198.3 149.0h0M184.8 146.7h0M195.8 148.5h0M188.9 147.1h0M185.8 141.0h0M196.3 149.0h0M209.6 136.4h0M204.9 137.4h0M206.8 135.9h0M210.4 145.0h0M182.0 142.7h0M196.0 136.3h0M204.9 135.2h0M208.8 149.6h0M191.4 147.9h0M185.6 143.0h0M207.5 136.0h0M186.0 147.8h0M193.3 148.7h0M192.0 137.4h0M203.6 134.6h0M200.4 148.5h0M191.4 150.1h0M205.0 135.4h0M207.6 138.5h0M185.4 142.0h0M210.7 143.9h0M195.9 150.5h0M184.8 146.7h0M182.4 141.9h0M198.0 149.0h0M206.4 145.9h0M209.8 139.7h0M209.9 137.5h0M213.7 140.8h0M188.9 146.8h0M208.4 135.9h0M183.6 145.5h0M202.7 136.3h0M184.7 137.1h0M207.3 145.3h0M199.8 148.8h0M193.2 136.9h0M197.0 136.2h0M194.7 150.9h0M201.1 134.4h0M206.3 134.9h0M187.2 138.7h0M200.4 136.1h0M184.4 146.7h0M209.3 136.8h0M213.2 142.1h0M182.8 143.7h0M211.8 139.3h0M193.5 136.8h0M207.6 138.7h0M208.3 136.3h0M213.3 140.3h0M182.4 141.8h0M211.8 138.9h0M182.1 142.2h0M187.7 146.2h0M182.2 144.0h0M201.4 150.1h0M213.4 141.8h0M211.4 138.0h0M184.5 146.6h0M195.0 136.6h0M208.9 137.2h0M182.0 140.6h0M204.3 136.7h0M196.4 148.9h0M213.9 141.2h0M209.5 136.7h0M209.2 136.6h0M212.6 139.0h0M211.1 137.8h0M186.4 144.5h0M187.6 145.9h0M182.9 138.9h0M212.1 139.4h0M183.1 145.6h0M182.4 141.1h0M195.0 150.4h0M195.3 148.9h0M192.4 150.2h0M182.3 142.9h0M211.5 138.5h0M202.4 136.5h0M204.0 136.3h0M198.0 136.3h0M208.7 136.8h0M185.6 147.5h0M184.5 146.6h0M193.8 148.7h0M197.5 149.1h0M194.3 136.8h0M187.3 145.8h0M191.1 150.1h0M210.5 137.0h0M210.1 149.0h0M214.0 144.0h0M185.9 139.7h0M207.8 136.0h0M203.5 149.8h0M211.4 137.9h0M194.2 148.5h0M210.0 137.1h0M213.8 141.0h0M206.1 146.0h0M186.1 145.4h0M183.3 144.8h0M203.6 134.7h0M212.4 138.8h0M207.3 138.1h0M208.0 147.4h0M212.7 140.3h0M190.0 136.1h0M209.8 149.0h0M201.7 148.3h0M185.7 141.4h0" stroke="#e5cb15" stroke-width="1.1" stroke-linecap="round" fill="none" stroke-opacity="0.9"/>
<path d="M265.8 130.2h0M175.5 109.3h0M253.6 135.8h0M121.9 101.5h0M195.9 102.6h0M294.5 156.1h0M252.6 202.3h0M136.9 171.0h0M173.7 79.9h0M265.5 134.0h0M255.6 194.3h0M128.6 155.3h0M280.1 177.0h0M210.1 183.4h0M233.2 178.7h0M158.0 172.3h0M119.0 149.3h0M279.0 108.4h0M116.0 175.2h0M191.7 102.4h0M185.7 201.0h0M169.0 174.0h0M111.3 154.0h0M215.3 182.8h0M215.6 77.6h0M134.0 152.8h0M271.3 160.6h0M223.0 101.5h0M137.6 172.5h0M211.8 209.0h0M258.7 106.4h0M201.2 91.6h0M141.7 185.2h0M118.3 165.8h0M106.9 154.6h0M221.2 98.1h0M123.4 115.2h0M255.8 111.0h0M232.0 183.1h0M124.2 143.9h0M146.7 172.5h0M283.4 165.1h0M145.1 171.7h0M134.0 150.9h0M203.1 96.9h0M259.4 120.4h0M243.1 113.3h0M273.4 171.3h0M187.2 92.4h0M129.1 170.7h0M260.8 111.4h0M251.5 105.6h0M287.4 116.7h0M108.7 147.2h0M125.3 146.4h0M154.4 202.5h0M296.6 138.9h0M134.9 106.6h0M256.9 112.0h0M259.7 161.5h0M145.2 178.1h0M185.3 194.0h0M137.1 172.2h0M214.3 179.2h0M122.0 111.5h0M272.3 120.6h0M249.3 112.2h0M253.0 131.6h0M211.1 207.9h0M223.9 72.9h0M268.2 112.0h0M199.9 87.5h0M159.2 198.6h0M245.0 92.3h0M127.0 135.3h0M261.6 174.1h0M191.6 86.7h0M276.2 122.4h0M267.3 140.2h0M155.9 180.3h0M193.0 99.4h0M265.5 112.5h0M268.5 123.9h0M126.3 140.8h0M121.1 181.9h0M141.7 188.6h0M272.4 128.3h0M119.4 156.6h0M275.9 137.9h0M294.5 143.3h0M183.4 183.9h0M211.4 82.6h0M108.8 144.9h0M286.8 158.4h0M107.8 151.2h0M262.1 124.8h0M128.2 155.3h0M288.6 136.8h0M110.2 139.0h0M226.5 96.8h0M264.7 100.0h0M225.1 86.5h0M151.7 174.4h0M197.0 185.4h0M280.4 137.6h0M102.7 145.0h0M235.0 202.6h0M216.1 181.8h0M265.4 115.2h0M268.5 126.0h0M126.0 134.3h0M291.2 131.7h0M208.6 97.4h0M292.7 129.7h0M250.6 120.3h0M269.6 104.8h0M112.8 126.6h0M186.7 188.7h0M262.9 108.9h0M200.5 96.8h0M197.2 185.8h0M257.7 153.0h0M161.8 89.0h0M165.6 91.1h0M219.9 85.2h0M287.7 168.5h0M253.6 94.6h0M143.1 155.9h0M280.6 130.6h0M184.9 103.2h0M235.5 92.3h0M270.5 130.2h0M158.8 174.7h0M103.7 137.1h0M247.1 117.4h0M295.7 139.9h0M257.1 116.8h0M234.9 87.1h0M120.2 181.4h0M133.6 125.2h0M152.6 170.0h0M271.9 123.6h0M266.1 94.3h0M157.0 180.0h0M128.2 132.1h0M145.8 142.6h0M196.6 77.1h0M121.8 130.5h0M246.9 96.8h0M132.3 124.7h0M165.1 182.6h0M246.3 110.4h0M136.4 191.8h0M103.7 144.2h0M271.3 114.8h0M162.8 197.7h0M112.3 166.4h0M153.4 163.2h0M288.8 147.6h0M156.3 178.9h0M265.3 102.3h0M260.5 104.2h0M236.4 85.2h0M247.9 197.8h0M254.1 128.8h0M104.3 132.6h0M166.2 202.0h0M270.1 98.8h0M294.8 144.1h0M219.3 187.9h0M152.7 101.3h0M286.3 162.6h0M254.6 122.3h0M183.8 88.5h0M241.3 109.5h0M259.0 89.6h0M292.4 150.3h0M173.3 107.0h0M252.9 113.2h0M127.9 165.3h0M117.5 177.3h0M147.2 172.7h0M235.0 180.8h0M193.2 82.2h0M257.3 96.8h0M250.8 97.5h0M273.7 117.2h0M238.6 103.3h0M193.9 92.1h0M266.1 93.2h0M166.3 95.5h0M284.2 115.6h0M164.8 179.1h0M165.0 102.0h0M207.1 208.9h0M243.4 172.6h0M233.0 101.8h0M155.9 168.4h0M261.1 100.8h0M111.3 142.8h0M155.8 181.4h0M224.7 193.8h0M152.4 195.6h0M145.1 183.6h0M128.4 174.2h0M173.4 107.3h0M204.8 101.6h0M160.9 181.6h0M120.1 157.1h0M117.8 168.4h0M124.0 161.0h0M118.5 143.6h0M134.7 159.4h0M162.0 176.8h0M123.4 115.4h0M168.3 180.9h0M293.5 132.0h0M265.3 119.3h0M219.6 184.3h0M110.5 146.7h0M132.6 168.6h0M103.8 147.5h0M273.5 158.4h0M219.8 197.5h0M259.5 92.3h0M270.0 126.7h0M207.2 189.0h0M178.5 194.7h0M196.0 97.1h0M166.8 179.1h0M210.1 185.3h0M152.8 196.0h0M294.9 151.1h0M255.3 103.0h0M160.2 180.5h0M248.8 98.7h0M281.3 117.8h0M119.3 149.4h0M163.0 91.3h0M248.0 104.8h0M128.3 169.1h0M125.4 185.5h0M143.2 159.1h0M260.1 117.1h0M291.1 161.3h0M118.7 140.4h0M181.8 199.7h0M118.2 115.6h0M272.6 146.1h0M114.3 161.8h0M214.8 92.0h0M200.0 82.1h0M157.8 171.9h0M176.8 212.8h0M167.7 178.5h0M255.7 102.9h0M119.2 129.9h0M144.0 191.4h0M164.0 83.1h0M260.8 137.0h0M293.4 152.6h0M260.3 166.8h0M240.2 104.3h0M240.3 172.1h0M105.2 156.7h0M199.3 76.7h0M160.0 192.9h0M283.8 148.7h0M138.3 187.5h0M124.1 181.1h0M220.5 191.4h0M106.5 155.1h0M251.9 127.9h0M260.9 139.9h0M180.0 181.2h0M273.4 158.1h0M250.2 126.8h0M154.4 172.5h0M250.4 98.7h0M255.0 90.1h0M147.6 180.4h0M208.8 97.8h0M244.2 105.8h0M248.8 99.0h0M225.4 109.0h0M118.6 129.3h0M151.7 169.7h0M110.9 150.0h0M139.1 186.4h0M246.6 101.8h0M197.3 101.3h0M176.3 106.8h0M128.2 161.6h0M203.0 185.0h0M260.1 153.5h0M283.8 126.2h0M224.9 84.5h0M283.9 148.5h0M268.1 125.4h0M216.3 197.3h0M271.2 174.6h0M239.5 110.6h0M259.3 167.9h0M226.2 177.9h0M192.8 190.0h0M279.1 177.0h0M149.9 178.3h0M135.0 186.6h0M153.0 161.8h0M192.1 212.7h0M154.5 189.6h0M225.6 109.8h0M133.9 96.6h0M198.5 184.6h0M104.1 135.2h0M287.8 154.8h0M293.3 138.7h0M290.2 156.1h0M115.4 175.0h0M248.4 178.1h0M137.7 174.1h0M118.4 146.1h0M142.4 187.5h0M129.5 109.5h0M279.0 174.8h0M161.1 203.9h0M265.8 131.3h0M241.3 104.5h0M274.9 120.6h0M193.9 101.5h0M284.2 110.7h0M157.4 102.3h0M268.7 140.3h0M119.3 178.9h0M292.8 133.6h0M238.3 105.0h0M167.1 184.7h0M288.9 120.8h0M124.2 165.1h0M156.6 198.4h0M276.2 101.9h0M131.5 104.5h0M267.9 110.6h0M112.8 146.5h0M290.2 121.3h0M266.7 101.1h0M233.4 96.9h0M260.1 178.1h0M265.1 120.0h0M283.5 145.9h0M163.6 182.4h0M110.7 135.5h0M133.0 167.0h0M144.1 90.6h0M133.1 184.6h0M165.1 205.8h0M278.1 178.7h0M224.3 189.9h0M155.8 193.6h0" stroke="#e6906a" stroke-width="1.2" stroke-linecap="round" fill="none" stroke-opacity="0.9"/>
<path d="M196.2 140.5h0M197.5 147.1h0M206.4 145.4h0M206.9 144.8h0M197.7 137.6h0M197.5 147.2h0M204.0 143.4h0M191.1 142.4h0M194.5 142.4h0M201.1 137.9h0M201.4 137.8h0M198.5 145.0h0M203.9 144.2h0M192.5 146.5h0M197.9 145.3h0M192.3 146.4h0M196.2 138.0h0M197.0 138.1h0M201.6 138.1h0M192.2 140.9h0M193.4 139.2h0M193.6 146.6h0M203.2 145.3h0M191.6 141.1h0M196.1 138.3h0M203.4 144.7h0M197.8 137.8h0M195.0 144.9h0M192.9 139.5h0M196.4 147.0h0M193.5 144.4h0M203.7 144.9h0M204.4 143.6h0M192.1 140.5h0M191.2 138.6h0M191.4 142.4h0M204.1 144.5h0M194.6 147.0h0M202.7 140.5h0M204.2 143.3h0M191.7 141.1h0M205.0 139.3h0M193.7 144.9h0M191.1 138.4h0M202.2 145.8h0M198.3 138.0h0M201.5 146.4h0M196.7 147.1h0M206.5 145.2h0M196.8 138.0h0M202.3 146.1h0M197.7 139.9h0M193.4 139.3h0M199.1 147.0h0M203.7 141.6h0M193.7 139.0h0M192.5 140.2h0M194.8 141.1h0M192.7 146.1h0M192.9 139.7h0M191.8 140.8h0M207.1 140.8h0M199.6 137.9h0M207.6 142.2h0M195.1 141.5h0M204.7 143.9h0M198.9 147.1h0M207.5 143.2h0M202.8 145.8h0M195.3 147.0h0M202.3 138.3h0M206.6 140.8h0M189.2 143.1h0M198.8 147.1h0M203.1 145.1h0M197.7 138.0h0M192.2 140.0h0M192.9 146.3h0M201.4 143.9h0M198.7 139.8h0M199.5 146.7h0M201.6 138.4h0M202.8 138.3h0M195.3 144.8h0M204.3 142.7h0M194.9 147.2h0M192.4 140.1h0M202.1 145.6h0M191.4 141.4h0M190.8 145.1h0M192.7 137.7h0M198.9 138.0h0M192.0 141.1h0M199.5 145.2h0M203.0 145.5h0M197.0 140.0h0M191.4 142.4h0M201.8 140.0h0M197.4 146.7h0M195.9 140.8h0M198.1 146.7h0M196.3 145.3h0M197.4 137.7h0M206.9 143.9h0M196.9 138.1h0M203.8 143.9h0M203.6 143.0h0M191.2 142.4h0M204.0 144.3h0M195.9 138.0h0M200.2 139.8h0M203.0 145.1h0M205.2 143.4h0M189.1 143.5h0M194.7 141.4h0M202.0 145.7h0M192.2 140.5h0M204.5 138.9h0M198.8 139.6h0" stroke="#e7d50b" stroke-width="1.1" stroke-linecap="round" fill="none" stroke-opacity="0.9"/>
<path d="M272.9 115.6h0M133.5 154.3h0M132.1 175.7h0M268.4 151.9h0M165.0 81.3h0M154.9 190.9h0M194.7 91.8h0M155.6 164.0h0M130.9 141.5h0M281.6 162.2h0M103.8 142.1h0M208.7 102.2h0M147.4 173.8h0M262.6 101.1h0M165.5 182.6h0M269.4 113.4h0M244.3 87.8h0M139.3 173.2h0M116.1 106.9h0M274.6 167.1h0M155.5 165.2h0M104.0 136.1h0M258.1 113.9h0M294.4 149.9h0M188.6 102.0h0M194.2 105.2h0M268.5 114.4h0M164.4 184.2h0M141.4 176.1h0M156.1 203.7h0M109.3 151.8h0M284.0 121.1h0M221.3 97.9h0M263.6 98.2h0M156.9 173.6h0M254.1 99.3h0M171.0 189.4h0M124.4 184.6h0M234.7 97.4h0M220.9 80.6h0M244.4 89.0h0M285.0 112.0h0M134.6 117.4h0M130.0 162.1h0M190.2 97.7h0M115.5 165.7h0M225.2 190.2h0M130.9 143.7h0M217.2 181.4h0M108.4 148.5h0M252.3 148.6h0M236.7 108.3h0M217.1 91.9h0M270.7 132.7h0M117.7 145.4h0M197.4 86.0h0M290.4 160.1h0M245.6 101.1h0M280.6 144.2h0M116.2 176.2h0M213.6 87.7h0M261.3 109.7h0M255.1 95.9h0M233.1 108.5h0M266.7 119.8h0M107.5 126.8h0M177.0 199.1h0M238.9 84.1h0M227.3 84.9h0M149.6 189.5h0M112.4 144.5h0M224.6 106.3h0M149.4 178.5h0M252.1 93.5h0M182.5 199.3h0M121.8 160.2h0M130.7 140.0h0M224.6 179.2h0M157.2 179.9h0M243.5 101.0h0M139.1 95.2h0M158.4 91.2h0M239.2 92.5h0M130.5 165.7h0M117.3 120.3h0M151.0 168.9h0M292.3 158.6h0M262.3 109.6h0M268.9 161.6h0M115.8 163.8h0M223.7 180.4h0M250.6 133.3h0M261.3 170.5h0M240.1 104.3h0M174.1 186.5h0M286.2 133.4h0M239.6 108.0h0M189.4 188.9h0M276.5 102.8h0M137.1 121.0h0M136.9 167.7h0M103.3 152.4h0M286.0 129.0h0M104.8 151.4h0M197.7 185.6h0M112.3 139.6h0M274.2 147.5h0M154.4 172.7h0M265.3 101.1h0M108.8 166.2h0M188.3 207.7h0M290.8 123.6h0M181.4 182.8h0M271.4 126.5h0M226.0 183.6h0M234.6 107.2h0M256.4 89.8h0M195.7 84.7h0M165.5 189.5h0M292.5 164.4h0M130.4 189.3h0M158.2 191.0h0M247.0 108.3h0M221.5 203.0h0M252.2 118.4h0M180.5 89.0h0M219.9 89.1h0M122.6 120.6h0M227.3 204.2h0M211.3 97.6h0M146.9 93.3h0M167.3 173.8h0M220.6 179.9h0M126.0 179.0h0M169.9 195.5h0M289.0 153.8h0M207.4 91.1h0M250.1 108.7h0M293.9 135.2h0M209.6 90.0h0M281.5 133.2h0M169.3 186.7h0M146.3 135.8h0M207.1 86.2h0M106.8 164.7h0M237.6 109.7h0M272.0 110.6h0M165.6 205.5h0M156.7 179.4h0M161.4 182.0h0M268.4 110.3h0M124.1 164.0h0M122.0 161.5h0M162.7 204.7h0M286.0 137.8h0M136.6 163.3h0M279.5 140.8h0M238.9 98.7h0M209.8 96.6h0M108.3 158.5h0M113.8 160.0h0M165.7 111.3h0M259.7 157.5h0M121.6 171.4h0M113.7 164.0h0M111.8 120.3h0M273.5 170.4h0M266.1 100.9h0M177.2 80.4h0M252.8 145.7h0M136.3 176.1h0M218.7 192.9h0M190.3 82.7h0M131.7 139.4h0M143.0 97.1h0M280.5 133.3h0M153.6 111.6h0M181.9 204.4h0M257.5 126.1h0M254.4 134.0h0M259.6 132.8h0M206.6 81.3h0M174.2 189.5h0M245.7 104.6h0M156.8 171.4h0M116.0 167.3h0M127.6 149.4h0M138.2 136.2h0M208.9 203.2h0M147.2 163.4h0M110.1 149.6h0M217.6 188.9h0M228.8 103.5h0M282.1 179.9h0M213.9 102.5h0M122.1 127.3h0M229.9 110.3h0M271.2 118.2h0M193.4 182.4h0M272.1 184.3h0M137.7 170.3h0M259.6 120.5h0M207.0 205.0h0M240.2 205.8h0M292.7 143.0h0M215.8 198.2h0M114.3 162.4h0M216.9 80.2h0M278.4 136.9h0M226.6 87.6h0M221.0 79.0h0M242.3 109.9h0M157.1 174.3h0M235.7 99.7h0M203.6 193.8h0M215.4 201.4h0M125.0 151.5h0M119.5 155.9h0M136.5 186.7h0M267.6 137.7h0M246.3 118.5h0M274.9 136.1h0M111.3 146.6h0M280.0 172.4h0M159.9 181.9h0M180.9 98.4h0M248.7 98.1h0M239.3 111.9h0M255.3 200.8h0M286.5 111.9h0M227.6 99.6h0M279.5 140.8h0M214.4 92.1h0M133.2 160.6h0M137.4 95.4h0M147.1 94.9h0M124.9 174.1h0M228.3 88.9h0M260.0 103.9h0M145.3 85.8h0M282.0 119.9h0M264.7 134.8h0M105.8 131.7h0M280.3 136.2h0M281.9 158.0h0M253.2 85.3h0M273.9 170.3h0M225.0 95.0h0M165.1 183.5h0M129.5 96.7h0M206.0 193.9h0M199.8 199.3h0M155.3 177.8h0M245.6 175.3h0M254.0 94.0h0M182.0 211.6h0M173.0 186.7h0M286.8 120.5h0M226.5 90.1h0M151.4 177.6h0M157.0 186.6h0M217.8 182.4h0M276.7 115.7h0M116.1 162.3h0M150.4 167.8h0M287.6 156.4h0M280.4 136.2h0M217.8 91.8h0M251.1 105.5h0M165.7 205.7h0M134.6 111.0h0M167.7 174.0h0M130.4 164.1h0M117.1 135.4h0M270.9 114.8h0M116.4 163.3h0M247.8 197.3h0M182.0 98.9h0M208.3 105.0h0M258.9 111.3h0M235.8 108.2h0M269.9 114.8h0M221.4 103.4h0M175.2 198.2h0M172.8 184.4h0M141.5 135.0h0M170.6 187.3h0M255.7 124.5h0M271.8 130.3h0M129.0 98.4h0M145.2 169.3h0M236.3 98.6h0M116.3 117.2h0M121.8 160.1h0M221.0 93.8h0M204.0 91.2h0M235.6 202.9h0M169.5 91.7h0M141.0 196.4h0M176.1 177.0h0M137.9 181.6h0M258.0 96.1h0M134.1 114.4h0M219.0 212.0h0M218.0 98.1h0M282.5 135.0h0M141.1 176.6h0M177.5 87.3h0M187.6 199.7h0M174.7 203.0h0M249.1 92.5h0M101.9 145.4h0M163.7 192.9h0M120.4 130.2h0M145.5 169.6h0M288.2 154.6h0M207.7 208.9h0M257.6 111.0h0M125.8 148.1h0M222.5 103.8h0M123.6 142.6h0M171.1 87.0h0M264.7 160.4h0M246.8 96.3h0M246.4 165.7h0M281.0 130.5h0M138.2 159.2h0M272.8 100.3h0M145.6 163.9h0M178.0 212.6h0M216.6 83.2h0M287.8 116.3h0M227.8 188.6h0M101.0 138.9h0M111.7 124.3h0M289.2 139.2h0M182.2 208.3h0M171.6 107.0h0M221.2 192.1h0M158.6 102.8h0M290.6 149.8h0M187.9 102.2h0M233.0 97.6h0M211.0 97.9h0M158.9 168.7h0M262.3 184.7h0M153.9 170.1h0M108.0 157.1h0M257.2 142.4h0M231.6 102.2h0M156.6 186.5h0M272.4 153.7h0M259.1 103.2h0M133.8 175.3h0M226.0 104.9h0M273.4 169.4h0M243.3 94.0h0M274.4 122.7h0M234.1 93.3h0" stroke="#e88866" stroke-width="1.2" stroke-linecap="round" fill="none" stroke-opacity="0.9"/>
<path d="M192.5 178.2h0M199.3 172.7h0M165.7 171.6h0M165.4 145.9h0M243.5 124.7h0M239.3 149.2h0M177.9 169.3h0M184.6 170.2h0M236.7 156.0h0M232.0 159.2h0M192.3 179.0h0M220.2 109.8h0M212.9 117.1h0M181.7 112.2h0M174.6 170.4h0M199.3 111.0h0M236.0 147.9h0M212.2 116.9h0M235.6 124.2h0M182.3 114.3h0M181.0 173.9h0M193.2 116.3h0M172.3 125.5h0M175.0 125.7h0M165.9 115.3h0M213.1 117.8h0M208.8 169.0h0M218.5 109.4h0M151.9 142.8h0M189.1 179.2h0M167.9 151.4h0M220.8 162.6h0M185.5 111.8h0M179.9 172.4h0M189.6 111.5h0M150.6 154.5h0M181.0 119.9h0M221.7 162.4h0M229.9 162.0h0M245.8 136.8h0M175.1 113.6h0M178.7 123.3h0M232.7 152.6h0M236.2 122.6h0M180.3 162.1h0M152.5 156.8h0M249.0 144.2h0M210.9 177.3h0M221.1 175.0h0M215.0 166.4h0M201.7 175.6h0M192.9 165.9h0M231.1 164.4h0M184.7 175.2h0M201.3 112.7h0M158.1 126.2h0M225.5 174.2h0M207.4 106.9h0M195.3 116.6h0M182.5 121.3h0M239.1 133.6h0M236.1 123.5h0M182.0 115.2h0M168.3 126.1h0M217.0 167.8h0M182.3 172.0h0M175.6 112.9h0M192.9 174.3h0M232.9 162.3h0M232.3 153.9h0M193.7 116.0h0M182.8 107.5h0M191.3 179.2h0M148.5 146.1h0M181.7 114.5h0M171.7 128.9h0M237.1 136.4h0M184.3 114.9h0M222.2 119.3h0" stroke="#e89070" stroke-width="1.2" stroke-linecap="round" fill="none" stroke-opacity="0.9"/>
<path d="M209.0 171.2h0M190.0 117.5h0M214.0 177.9h0M183.3 172.5h0M181.7 110.5h0M168.8 136.3h0M164.8 118.1h0M248.2 144.6h0M178.9 164.4h0M169.1 158.5h0M225.0 169.2h0M247.0 136.3h0M214.9 169.1h0M214.6 109.8h0M220.7 109.5h0M182.2 174.0h0M192.3 109.1h0M166.1 117.7h0M239.8 165.2h0M179.0 176.6h0M217.2 173.7h0M173.0 170.8h0M186.4 113.6h0M208.8 166.8h0M158.8 152.0h0M215.0 165.9h0M158.1 160.2h0M197.8 115.6h0M186.1 174.4h0M157.6 146.1h0M185.5 109.4h0M195.2 110.9h0M158.2 157.5h0M181.9 120.3h0M176.7 176.3h0M223.9 174.9h0M242.1 158.0h0M196.5 108.7h0M196.9 173.8h0M175.1 160.5h0M196.3 174.3h0M163.7 146.3h0M206.1 117.3h0M221.0 169.0h0M229.8 153.7h0M219.7 110.2h0M149.2 151.2h0M247.6 141.6h0M226.1 165.7h0M166.6 119.4h0M161.1 161.3h0M191.5 167.9h0M183.5 117.9h0M197.2 174.5h0M209.9 110.3h0M190.5 106.4h0M178.4 116.0h0M206.6 168.7h0M152.2 145.8h0M218.0 161.4h0M199.5 169.2h0M163.7 128.4h0M157.2 139.2h0M199.3 175.0h0M212.2 107.2h0M228.6 112.4h0M199.9 169.3h0M218.7 164.7h0M189.3 118.0h0M166.6 135.0h0M165.3 133.2h0M192.8 179.5h0M184.2 114.5h0M169.9 118.2h0M183.5 167.3h0M167.0 123.6h0M212.5 106.8h0M209.3 173.3h0M160.6 162.2h0M210.1 172.6h0M251.3 136.6h0M191.0 108.6h0M219.8 164.5h0M167.5 126.5h0M185.1 113.6h0M196.8 179.0h0M166.2 170.9h0M218.5 108.4h0M172.1 113.4h0M162.6 153.0h0M209.0 171.4h0M160.2 157.8h0M201.2 179.6h0M220.2 168.7h0M190.8 107.3h0M175.8 109.8h0M201.7 114.5h0M211.7 169.5h0M159.7 162.4h0" stroke="#e8a060" stroke-width="1.2" stroke-linecap="round" fill="none" stroke-opacity="0.9"/>
<path d="M152.2 158.7h0M197.7 164.9h0M232.1 164.9h0M201.2 175.1h0M208.8 107.9h0M169.8 128.2h0M155.7 152.8h0M216.6 172.2h0M239.5 148.3h0M240.1 139.7h0M223.0 175.0h0M189.6 172.4h0M200.6 111.0h0M247.8 140.2h0M233.3 161.9h0M216.5 163.7h0M214.8 167.6h0M201.7 116.1h0M210.0 162.7h0M237.8 153.3h0M199.0 113.0h0M177.9 176.6h0M177.3 123.0h0M209.8 169.1h0M183.5 111.9h0M221.5 114.5h0M214.0 106.8h0M197.7 106.0h0M184.0 172.4h0M191.8 165.9h0M212.0 173.8h0M203.8 110.5h0M236.5 158.5h0M191.6 169.8h0M195.7 179.2h0M236.4 157.1h0M188.2 174.0h0M192.3 113.1h0M180.9 117.6h0M152.9 150.3h0M208.4 108.2h0M213.9 108.4h0M178.5 115.6h0M199.7 175.9h0M203.1 180.0h0M162.9 126.5h0M183.7 172.5h0M206.4 179.8h0M219.4 160.9h0M168.9 112.8h0M193.9 115.6h0M199.6 113.8h0M165.6 171.3h0M220.4 120.1h0M218.8 176.7h0M175.9 110.6h0M227.7 165.9h0M231.6 149.7h0M239.5 161.8h0M196.1 115.3h0M176.8 127.1h0M188.7 176.4h0M175.4 113.4h0M160.9 150.1h0M206.8 179.5h0M228.2 117.0h0M160.6 152.5h0M222.6 160.3h0M206.0 172.6h0M227.1 112.7h0M205.1 179.5h0M190.4 106.2h0M190.8 111.3h0M232.6 147.0h0M234.2 164.5h0M187.2 109.9h0M167.6 160.5h0M232.2 153.0h0M147.9 143.4h0M241.2 142.2h0M196.7 179.1h0M203.4 106.6h0M169.7 114.4h0M173.5 112.2h0M213.4 172.8h0M155.7 154.6h0M168.0 125.8h0M225.4 167.9h0M229.3 114.1h0M173.0 124.1h0M168.6 162.1h0M234.7 158.8h0M191.6 112.8h0M196.5 164.2h0M229.1 112.5h0M167.8 122.3h0M161.7 129.0h0M219.3 172.6h0M225.3 172.9h0M176.2 122.0h0M163.2 148.9h0M183.0 108.5h0M207.1 165.6h0M240.1 152.0h0M223.4 111.7h0M217.3 171.9h0M233.1 151.7h0M233.8 163.1h0M219.1 165.7h0M189.1 170.5h0" stroke="#e8a458" stroke-width="1.2" stroke-linecap="round" fill="none" stroke-opacity="0.9"/>
<path d="M201.0 143.1h0M195.6 143.0h0M200.4 142.0h0M200.8 142.5h0M195.4 143.3h0M200.8 142.2h0M200.4 142.1h0M200.9 141.9h0M195.4 142.5h0" stroke="#e8e000" stroke-width="1.1" stroke-linecap="round" fill="none" stroke-opacity="0.9"/>
<path d="M136.4 125.2h0M111.8 152.6h0M136.3 102.8h0M208.0 100.6h0M280.3 134.7h0M150.7 177.6h0M254.0 142.6h0M268.7 150.6h0M161.4 94.6h0M274.2 142.2h0M181.9 93.9h0M132.5 185.3h0M265.7 95.1h0M183.9 182.9h0M141.9 171.6h0M225.7 89.6h0M237.8 177.6h0M110.0 166.0h0M199.2 184.4h0M109.9 143.7h0M198.4 180.9h0M121.3 117.8h0M189.8 187.9h0M129.8 188.7h0M117.5 146.5h0M167.6 110.8h0M191.8 184.4h0M236.3 93.0h0M107.8 167.5h0M139.5 172.8h0M266.3 131.6h0M287.1 176.5h0M179.6 103.4h0M239.8 77.1h0M288.7 171.4h0M233.0 95.1h0M275.0 180.7h0M208.1 76.8h0M211.7 97.2h0M240.3 178.7h0M167.1 174.6h0M121.4 159.3h0M215.6 106.8h0M209.3 210.1h0M132.7 177.8h0M226.3 190.8h0M234.3 114.2h0M224.1 179.1h0M184.2 106.6h0M221.6 77.8h0M285.6 110.0h0M103.4 132.9h0M280.9 110.3h0M218.8 87.4h0M254.3 116.3h0M278.4 107.1h0M228.8 185.0h0M123.4 102.9h0M117.1 102.9h0M125.8 122.6h0M224.8 94.2h0M124.0 148.2h0M279.9 126.5h0M285.1 163.0h0M230.6 176.2h0M112.0 131.5h0M144.1 171.9h0M161.6 174.4h0M247.6 114.7h0M248.9 104.1h0M123.9 175.2h0M210.6 101.6h0M277.7 103.1h0M137.5 144.6h0M103.3 154.6h0M247.4 101.9h0M159.3 181.2h0M200.7 96.3h0M252.8 125.4h0M295.8 137.4h0M269.6 123.3h0M128.8 160.5h0M234.6 190.9h0M137.4 180.4h0M247.1 85.2h0M153.5 99.8h0M114.0 154.6h0M185.7 102.5h0M128.8 188.9h0M235.6 112.1h0M205.8 87.2h0M112.5 149.2h0M239.6 93.5h0M214.1 77.0h0M239.3 100.1h0M251.4 106.3h0M174.4 109.7h0M276.1 119.3h0M190.1 183.5h0M134.8 191.8h0M144.9 187.4h0M254.9 95.4h0M249.4 162.2h0M237.8 104.6h0M285.9 152.3h0M261.2 190.9h0M260.1 168.9h0M262.7 195.5h0M190.1 76.8h0M261.5 143.0h0M284.5 117.2h0M196.5 187.5h0M268.8 179.8h0M227.2 84.6h0M159.9 187.6h0M262.4 113.8h0M234.8 92.1h0M190.1 183.7h0M121.8 110.4h0M269.7 105.4h0M168.8 178.0h0M233.7 103.0h0M242.7 76.7h0M142.6 127.7h0M162.2 80.1h0M254.3 108.6h0M264.1 114.8h0M285.8 178.3h0M148.7 193.3h0M133.2 167.8h0M118.7 156.8h0M123.1 99.5h0M213.0 206.7h0M203.7 193.6h0M111.5 112.7h0M121.3 181.1h0M279.9 161.9h0M125.9 106.1h0M267.8 95.9h0M231.3 81.0h0M121.5 161.2h0M202.5 99.9h0M269.5 151.6h0M119.1 149.4h0M271.0 126.9h0M179.0 198.5h0M114.8 160.1h0M156.3 172.7h0M148.2 199.2h0M256.2 127.0h0M155.6 120.9h0M176.0 184.2h0M126.0 147.7h0M103.5 142.8h0M215.4 204.1h0M135.5 156.0h0M117.8 145.1h0M239.8 94.0h0M228.9 94.6h0M140.5 113.0h0M284.5 167.1h0M274.8 110.7h0M285.3 115.5h0M183.9 102.0h0M260.4 105.0h0M219.1 102.9h0M268.3 155.8h0M145.3 177.1h0M217.5 107.3h0M253.4 116.9h0M233.0 91.4h0M255.5 103.5h0M268.2 120.8h0M138.7 182.1h0M239.9 115.4h0M125.1 105.7h0M212.7 86.7h0M250.9 104.8h0M169.2 177.3h0M216.7 179.9h0M121.7 122.3h0M120.8 163.7h0M267.0 133.5h0M257.2 128.0h0M152.9 163.8h0M157.4 184.4h0M169.1 92.0h0M125.7 158.2h0M143.0 172.8h0M262.6 100.0h0M281.9 118.4h0M110.2 154.9h0M258.2 113.1h0M198.7 92.3h0M291.4 159.9h0M154.8 86.1h0M286.4 158.5h0M184.7 183.5h0M140.3 194.8h0M114.7 146.4h0M224.6 108.9h0M239.2 117.3h0M154.7 179.7h0M216.4 92.5h0M246.8 94.0h0M247.0 113.5h0M286.5 117.4h0M273.6 132.1h0M250.8 162.2h0M281.2 167.3h0M169.6 104.4h0M119.6 111.8h0M131.2 101.5h0M140.2 102.6h0M264.3 168.2h0M179.3 193.8h0M274.2 184.9h0M256.5 95.6h0M109.0 164.6h0M215.9 97.6h0M195.0 101.8h0M197.6 184.7h0M269.6 114.5h0M243.3 113.4h0M178.3 180.9h0M117.3 174.6h0M252.5 112.2h0M271.5 156.6h0M106.9 125.1h0M273.3 146.7h0M207.4 103.2h0M104.1 131.7h0M153.8 87.9h0M261.0 92.7h0M279.3 119.2h0M162.5 195.2h0M134.2 193.9h0M116.5 160.3h0M155.0 90.9h0M211.9 195.5h0M205.9 180.5h0M251.0 156.4h0M107.2 150.4h0M252.7 113.2h0M206.9 203.7h0M279.6 131.5h0M170.9 176.6h0M255.5 106.7h0M266.4 136.7h0M278.4 132.9h0M239.3 94.6h0M283.3 112.9h0M112.5 126.8h0M116.6 132.3h0M255.3 113.9h0M185.0 197.1h0M172.3 196.5h0M223.8 187.7h0M192.4 188.4h0M141.1 107.1h0M261.0 99.6h0M273.7 178.7h0M208.4 96.5h0M272.6 109.0h0M250.0 196.8h0M211.4 203.9h0M241.8 90.8h0M202.3 79.6h0M252.0 125.4h0M214.1 212.0h0M211.8 96.2h0M197.7 96.7h0M281.8 178.3h0M139.5 189.1h0M237.1 105.6h0M206.1 199.9h0M126.4 174.7h0M171.6 87.9h0M197.1 187.1h0M119.7 114.4h0M147.7 132.2h0M255.5 155.5h0M194.4 81.7h0M288.9 134.5h0M258.4 90.8h0M158.5 189.1h0M152.7 193.4h0M152.3 177.5h0M102.5 152.6h0M291.4 124.0h0M245.0 114.3h0M161.6 197.1h0M210.7 181.7h0M148.6 171.7h0M273.2 101.1h0M224.8 99.0h0M131.4 174.4h0M110.2 140.5h0M291.1 167.6h0M150.2 177.4h0M266.3 102.6h0M229.8 183.1h0M118.0 150.7h0M273.0 122.1h0M152.5 168.5h0M152.9 196.5h0M236.0 87.0h0M216.2 102.4h0M166.4 91.3h0M199.5 99.8h0M177.4 88.9h0M115.2 162.2h0M253.8 95.6h0M113.3 171.8h0M291.5 126.8h0M263.4 179.5h0M173.5 198.9h0M200.9 71.6h0M255.9 89.7h0M125.1 175.4h0M292.2 132.4h0M169.3 180.9h0M123.3 184.2h0M132.5 170.5h0M251.4 107.6h0M243.5 88.9h0M128.9 161.6h0M228.3 187.7h0M243.6 106.3h0M287.3 115.9h0M145.2 184.6h0M241.2 93.0h0M178.5 187.1h0M212.1 95.0h0M145.4 163.3h0M244.8 113.7h0M257.2 132.4h0M190.4 76.0h0M262.9 125.1h0M278.6 111.3h0M265.5 194.1h0M168.9 101.7h0M249.8 105.2h0M170.3 205.9h0M279.1 117.5h0M158.3 201.4h0M267.3 112.6h0M256.5 161.4h0M243.2 94.1h0M103.2 137.2h0M206.3 101.7h0M118.7 151.9h0M246.9 110.0h0M129.9 176.7h0M262.9 116.5h0M261.3 106.6h0M270.4 105.3h0M174.8 100.3h0M258.0 96.3h0M248.7 98.3h0M136.1 113.0h0M197.1 97.5h0M175.4 186.5h0M241.9 207.7h0M282.8 144.7h0M245.5 117.4h0M170.6 191.5h0M275.4 111.3h0M146.1 197.3h0M109.7 146.1h0M192.5 91.7h0M240.8 88.2h0M264.1 161.7h0M279.8 177.5h0M199.0 209.8h0M178.8 189.4h0M129.0 172.8h0M232.9 186.7h0M293.6 134.6h0M124.2 96.9h0M221.7 86.5h0M260.0 171.6h0M209.3 188.0h0M137.0 127.5h0M281.0 124.0h0" stroke="#ea9474" stroke-width="1.2" stroke-linecap="round" fill="none" stroke-opacity="0.9"/>
<path d="M204.8 179.6h0M219.3 164.3h0M188.8 179.9h0M169.2 131.7h0M216.3 166.5h0M197.4 111.5h0M183.3 174.2h0M223.8 173.9h0M213.2 174.3h0M150.8 154.9h0M231.1 159.1h0M168.1 116.4h0M201.3 179.0h0M192.6 176.0h0M194.1 179.0h0M220.0 166.3h0M172.4 127.8h0M226.1 158.1h0M194.8 110.5h0M178.2 114.8h0M195.1 171.2h0M177.6 115.1h0M203.1 179.1h0M164.7 123.3h0M202.6 180.6h0M251.3 145.5h0M210.5 111.1h0M218.0 118.5h0M189.7 175.7h0M190.9 111.4h0M197.7 108.8h0M190.5 107.4h0M212.2 171.9h0M198.6 178.1h0M236.2 128.6h0M207.9 173.8h0M189.4 179.5h0M180.1 112.7h0M204.3 174.8h0M207.4 178.9h0M181.1 117.4h0M182.5 114.8h0M167.8 172.9h0M169.0 171.4h0M231.8 136.5h0M226.8 159.7h0M245.5 137.8h0M227.5 170.7h0M231.4 170.2h0M222.2 164.6h0M196.6 167.4h0M203.8 106.5h0M185.3 125.1h0M166.5 136.4h0M191.5 171.4h0M193.0 112.3h0M173.5 125.4h0M173.3 129.8h0M191.9 107.8h0M187.1 173.0h0M233.8 146.9h0M178.8 127.4h0M227.3 166.3h0M162.5 168.5h0M241.4 122.1h0M186.8 178.4h0M218.7 119.9h0M215.6 178.2h0M181.8 171.7h0M191.8 109.5h0" stroke="#eca870" stroke-width="1.2" stroke-linecap="round" fill="none" stroke-opacity="0.9"/>
<path d="M251.7 160.7h0M239.5 92.7h0M174.9 84.2h0M122.9 163.9h0M237.3 98.6h0M140.3 123.4h0M295.7 134.5h0M188.2 102.9h0M258.8 119.9h0M226.5 98.8h0M112.4 129.5h0M148.6 181.9h0M208.5 200.3h0M285.8 135.2h0M198.3 90.9h0M197.6 87.6h0M116.7 145.0h0M287.5 118.0h0M132.4 190.7h0M187.5 101.8h0M257.7 116.8h0M196.2 183.0h0M118.4 165.9h0M166.0 195.9h0M192.6 197.4h0M131.7 142.2h0M275.5 121.6h0M127.5 181.8h0M233.3 113.4h0M171.4 197.6h0M145.5 132.0h0M176.6 96.9h0M112.4 129.1h0M125.3 121.7h0M157.3 166.1h0M261.1 100.3h0M130.4 173.2h0M114.2 161.1h0M127.8 166.8h0M165.9 178.8h0M146.4 198.0h0M132.4 107.5h0M260.7 174.6h0M260.8 129.1h0M274.6 183.1h0M230.8 183.4h0M154.0 195.7h0M133.7 123.9h0M208.2 206.3h0M289.1 134.4h0M168.2 90.1h0M121.2 158.7h0M228.0 91.2h0M142.3 145.8h0M196.9 76.6h0M274.2 115.7h0M158.7 83.7h0M149.2 155.7h0M124.6 170.4h0M257.6 102.2h0M131.9 153.7h0M150.9 180.0h0M198.1 91.6h0M280.1 150.5h0M181.6 180.3h0M128.4 151.9h0M123.4 174.6h0M224.6 88.8h0M243.6 84.8h0M269.3 112.1h0M192.5 184.1h0M266.4 133.8h0M226.2 189.9h0M143.2 160.6h0M206.7 194.8h0M278.1 104.9h0M262.0 195.1h0M237.4 86.2h0M201.1 189.2h0M130.2 173.0h0M242.3 169.3h0M272.1 122.8h0M257.2 87.9h0M244.2 89.9h0M109.9 130.1h0M115.8 156.3h0M186.4 185.3h0M119.9 170.7h0M195.9 213.9h0M203.0 100.4h0M125.5 109.6h0M167.6 91.6h0M238.8 85.9h0M265.4 108.7h0M131.0 136.9h0M235.9 114.8h0M148.0 162.9h0M221.9 91.1h0M111.0 168.6h0M294.6 155.5h0M110.9 116.1h0M185.9 194.0h0M137.8 172.4h0M221.2 85.4h0M126.4 153.9h0M278.5 118.7h0M148.7 175.6h0M207.7 191.7h0M135.5 180.4h0M149.7 97.1h0M117.3 155.8h0M107.0 166.7h0M213.2 101.0h0M191.6 184.2h0M248.3 103.1h0M169.1 207.0h0M196.4 182.8h0M287.5 153.8h0M175.5 197.8h0M109.6 115.9h0M254.4 155.9h0M104.7 157.5h0M258.5 90.3h0M187.6 92.8h0M205.2 77.9h0M144.0 139.9h0M103.2 147.8h0M158.2 192.5h0M290.6 124.9h0M283.5 134.5h0M189.1 96.6h0M247.4 126.0h0M243.8 86.7h0M279.8 105.5h0M281.7 109.1h0M109.6 139.0h0M135.1 154.6h0M179.8 89.4h0M101.9 143.8h0M245.6 199.1h0M103.6 144.1h0M121.2 181.9h0M246.0 170.2h0M226.4 101.4h0M141.5 190.5h0M133.0 190.9h0M277.2 138.5h0M283.2 163.7h0M136.0 193.6h0M145.2 148.9h0M250.3 104.4h0M210.5 75.9h0M276.5 169.6h0M246.1 90.7h0M146.2 97.0h0M125.3 152.9h0M194.9 102.3h0M160.2 184.9h0M259.7 131.5h0M264.1 133.8h0M125.5 106.5h0M287.1 168.8h0M240.4 118.4h0M158.1 180.6h0M265.3 102.5h0M247.1 102.6h0M105.4 134.4h0M147.2 189.0h0M255.8 100.6h0M282.6 128.8h0M296.3 137.1h0M150.8 183.5h0M217.5 179.6h0M140.5 184.0h0M132.8 153.7h0M140.0 185.3h0M267.6 182.3h0M272.6 92.3h0M186.1 97.6h0M291.5 124.7h0M251.8 99.2h0M196.6 184.7h0M258.0 117.8h0M135.1 123.6h0M161.1 192.4h0M262.8 123.3h0M267.9 125.3h0M253.2 188.9h0M225.4 99.9h0M288.1 144.2h0M244.3 95.0h0M268.3 125.0h0M282.2 125.7h0M108.9 132.2h0M249.1 109.1h0M160.6 181.7h0M184.9 200.0h0M178.4 205.9h0M212.3 209.8h0M226.3 84.9h0M205.1 95.5h0M249.2 110.0h0M137.8 116.4h0M287.9 122.0h0M143.2 161.4h0M119.2 149.1h0M249.4 202.5h0M273.9 104.2h0M284.7 145.9h0M103.2 139.2h0M152.0 169.4h0M212.1 206.7h0M224.4 78.3h0M102.7 143.5h0M252.2 111.2h0M132.8 102.1h0M257.0 119.9h0M280.9 147.8h0M174.8 178.0h0M223.8 180.7h0M289.4 118.3h0M229.2 184.6h0M189.4 181.4h0M288.8 120.9h0M164.3 187.5h0M150.6 123.6h0M292.9 132.9h0M112.7 171.3h0M189.8 194.8h0M164.1 204.2h0M271.6 105.2h0M204.8 105.1h0M198.7 86.4h0M127.6 155.5h0M169.1 75.5h0M129.7 121.8h0M126.2 165.9h0M130.5 162.6h0M281.7 114.5h0M269.6 185.5h0M283.9 130.2h0M132.2 192.3h0M227.8 205.2h0M146.5 156.1h0M294.2 125.6h0M257.0 109.2h0M151.3 181.5h0M260.8 123.2h0M184.4 182.9h0M201.1 95.0h0M269.2 116.1h0M274.0 139.0h0M215.5 197.6h0M256.4 135.6h0M231.5 96.5h0M128.8 101.3h0M229.0 99.8h0M155.5 166.2h0M172.5 206.0h0M231.1 200.0h0M121.4 161.7h0M295.0 133.8h0M181.2 183.9h0M281.2 153.9h0M236.3 103.2h0M290.5 167.4h0M172.0 105.7h0M173.7 80.3h0M145.1 172.5h0M139.9 140.3h0M113.8 119.2h0M239.3 104.5h0M183.6 100.2h0M154.8 176.5h0M197.7 213.9h0M289.7 118.5h0M113.7 122.6h0M274.2 172.2h0M124.8 163.6h0M132.1 165.6h0M276.1 154.8h0M247.2 163.1h0M205.2 194.8h0M107.8 165.4h0M216.8 101.6h0M266.1 109.6h0M234.3 91.5h0M166.1 185.0h0M122.2 143.9h0M274.5 136.0h0M225.8 201.4h0M112.5 130.3h0M191.2 85.8h0M191.7 77.9h0M152.1 113.8h0M164.4 99.2h0M241.5 99.5h0M219.9 92.3h0M122.2 140.0h0M123.0 106.9h0M219.4 102.4h0M254.9 96.1h0M256.3 150.1h0M245.2 172.7h0M144.2 141.5h0M255.6 175.1h0M255.9 139.8h0M156.8 189.4h0M155.8 165.0h0M127.7 95.1h0M285.6 110.9h0M144.3 192.5h0M130.7 149.6h0M188.6 189.4h0M266.4 192.1h0M161.7 175.2h0M127.9 158.5h0M189.1 206.3h0M189.4 99.7h0M140.9 85.7h0M248.1 200.5h0M263.6 126.7h0M281.7 178.9h0M270.6 98.4h0M155.4 172.0h0M228.0 199.6h0M208.5 190.8h0M212.0 94.5h0M148.8 175.8h0M125.3 136.2h0M129.7 187.7h0M246.8 93.9h0M192.2 191.2h0M167.1 183.0h0M238.3 114.6h0M138.5 183.0h0M276.1 101.6h0M258.1 127.7h0M205.1 90.0h0M223.1 177.6h0M110.0 134.5h0M114.8 126.7h0M185.1 187.9h0M163.6 200.6h0M261.3 152.9h0M250.0 176.7h0M209.7 182.3h0M263.6 102.6h0M123.3 164.6h0M158.0 186.3h0M254.5 115.6h0M232.1 188.7h0M231.0 84.2h0M250.5 129.8h0M214.8 91.3h0M286.5 159.7h0M108.6 125.5h0M117.2 135.6h0M242.2 196.8h0M147.0 166.0h0M125.7 117.2h0M260.8 144.9h0M176.6 74.8h0M267.5 172.2h0M184.0 190.6h0M104.7 143.5h0M263.2 106.6h0M114.7 163.3h0M127.9 154.5h0M128.2 187.9h0M103.7 153.3h0M185.1 196.1h0M235.8 187.4h0M260.6 185.0h0M120.8 180.8h0" stroke="#ee9c78" stroke-width="1.2" stroke-linecap="round" fill="none" stroke-opacity="0.9"/>
<path d="M133.8 127.3h0M279.4 120.5h0M224.4 178.2h0M142.8 157.4h0M270.7 95.0h0M132.6 186.5h0M172.3 175.9h0M116.8 166.7h0M172.6 107.3h0M231.5 111.8h0M274.5 139.4h0M106.3 124.4h0M267.9 112.5h0M212.2 192.5h0M167.0 178.6h0M255.3 181.8h0M257.9 89.2h0M135.0 168.3h0M285.1 173.6h0M187.4 92.1h0M268.0 194.2h0M213.4 188.5h0M193.7 198.5h0M248.0 117.0h0M203.1 98.5h0M281.1 140.7h0M114.0 170.6h0M104.1 150.7h0M123.6 160.7h0M290.2 166.5h0M132.2 119.3h0M169.2 191.9h0M174.6 189.3h0M104.0 134.4h0M212.8 183.6h0M249.0 198.9h0M104.5 140.6h0M160.9 79.0h0M129.9 163.9h0M110.5 117.1h0M221.2 90.2h0M288.4 125.5h0M196.9 102.3h0M201.6 183.9h0M274.5 112.0h0M261.3 149.2h0M281.4 172.8h0M141.8 173.9h0M244.4 115.4h0M255.2 102.0h0M111.1 170.1h0M272.4 105.7h0M135.9 162.0h0M124.5 177.2h0M148.9 114.7h0M276.6 128.3h0M120.3 154.4h0M250.3 96.0h0M271.1 107.4h0M165.3 195.5h0M211.8 92.8h0M174.4 107.5h0M288.7 133.7h0M158.1 175.1h0M141.9 158.7h0M167.8 76.8h0M109.3 136.5h0M146.3 167.1h0M111.3 123.3h0M129.5 100.4h0M223.0 104.4h0M286.8 138.8h0M127.9 138.9h0M218.4 189.4h0M252.8 107.5h0M264.0 101.0h0M120.0 157.7h0M124.4 162.3h0M167.0 173.4h0M110.7 144.7h0M124.6 134.4h0M111.8 145.1h0M153.3 106.7h0M108.6 164.8h0M120.9 169.9h0M229.4 95.4h0M274.8 112.7h0M116.8 146.6h0M117.9 155.7h0M197.9 102.3h0M155.7 83.1h0M287.0 133.7h0M293.3 158.6h0M138.2 173.2h0M259.9 96.3h0M165.9 100.4h0M256.0 108.5h0M146.3 172.9h0M231.3 112.0h0M137.2 172.0h0M250.9 86.8h0M268.0 136.3h0M125.9 157.5h0M294.9 152.6h0M287.3 175.3h0M144.8 107.8h0M110.4 123.9h0M280.7 143.8h0M282.4 133.5h0M124.9 106.0h0M138.1 173.1h0M203.8 101.9h0M185.3 91.6h0M107.0 158.1h0M110.3 153.5h0M213.2 206.4h0M122.8 183.2h0M136.2 180.9h0M186.0 191.4h0M129.9 123.5h0M269.0 97.3h0M249.9 99.1h0M119.9 100.9h0M118.2 131.0h0M123.6 172.5h0M129.4 164.7h0M166.8 193.6h0M241.3 106.7h0M109.3 168.4h0M157.2 102.9h0M233.0 105.1h0M119.8 129.1h0M159.1 113.7h0M275.2 145.7h0M131.3 108.1h0M280.3 115.5h0M122.3 172.2h0M195.9 103.0h0M133.8 168.8h0M245.3 114.6h0M136.3 164.8h0M271.4 119.1h0M190.8 209.6h0M199.7 88.8h0M207.8 203.0h0M179.6 198.5h0M126.1 101.8h0M130.8 92.5h0M174.3 96.2h0M270.3 95.3h0M263.4 129.1h0M140.1 130.9h0M150.2 157.3h0M196.3 95.9h0M123.1 141.2h0M112.4 130.2h0M110.9 148.1h0M112.1 154.7h0M173.3 100.0h0M273.4 172.5h0M267.4 172.6h0M210.9 76.3h0M276.4 146.8h0M117.1 135.4h0M294.3 136.4h0M169.6 101.8h0M140.9 177.2h0M237.5 178.0h0M144.1 184.2h0M295.3 133.2h0M274.1 128.6h0M129.0 182.1h0M242.6 187.5h0M239.5 105.7h0M144.5 116.0h0M281.9 138.1h0M205.9 184.7h0M126.0 177.0h0M273.4 105.2h0M122.0 171.9h0M112.1 145.3h0M107.1 124.3h0M145.6 161.0h0M144.4 141.1h0M274.6 103.6h0M170.0 110.3h0M158.1 84.0h0M124.4 163.5h0M243.1 89.7h0M245.7 108.4h0M161.4 106.1h0M283.2 151.3h0M277.0 111.4h0M294.7 129.0h0M294.2 134.9h0M225.5 206.5h0M238.8 108.7h0M143.4 169.7h0M291.0 123.3h0M260.7 104.2h0M271.2 183.7h0M248.3 85.4h0M183.8 189.8h0M240.1 84.5h0M128.5 112.4h0M124.2 153.8h0M249.6 120.0h0M176.2 84.3h0M182.7 103.4h0M266.8 149.5h0M153.6 170.3h0M150.2 184.0h0M247.9 98.0h0M267.3 136.4h0M279.7 134.0h0M282.0 141.9h0M235.2 203.8h0M138.6 188.6h0M122.9 99.2h0M247.3 113.1h0M133.9 132.3h0M127.8 178.0h0M159.9 203.3h0M170.4 175.4h0M107.8 137.7h0M203.0 95.7h0M159.3 84.1h0M267.8 121.1h0M288.5 150.2h0M131.5 129.4h0M235.8 110.8h0M191.5 184.5h0M273.6 136.5h0M244.2 96.0h0M129.6 179.8h0M147.9 199.2h0M243.9 90.6h0M106.0 156.2h0M244.7 89.5h0M110.0 129.1h0M271.1 99.8h0M133.8 156.8h0M205.3 189.6h0M260.6 136.1h0M275.4 109.0h0M209.2 77.3h0M138.9 111.4h0M241.8 100.6h0M258.2 89.7h0M137.8 175.7h0M255.3 94.9h0M244.1 194.0h0M220.6 178.4h0M111.5 133.2h0M105.0 158.5h0M161.0 187.8h0M253.0 140.3h0M179.1 196.8h0M169.6 180.5h0M187.4 84.9h0M285.8 128.5h0M163.4 188.9h0M284.1 113.7h0M220.8 78.9h0M158.7 89.3h0M133.3 188.4h0M277.1 164.3h0M126.9 160.5h0M149.9 174.1h0M121.1 126.0h0M244.6 120.4h0M124.9 147.9h0M219.8 102.7h0M116.0 133.2h0M147.5 164.4h0M196.3 95.9h0M138.7 195.6h0M236.0 110.6h0M266.1 119.2h0M199.2 184.2h0M220.8 99.1h0M143.8 116.6h0M138.7 188.4h0M284.9 161.0h0M125.1 142.6h0M261.3 114.5h0M219.7 178.9h0M247.7 112.2h0M126.6 189.4h0M199.2 101.7h0M113.8 151.7h0M289.3 174.4h0M109.9 147.9h0M230.5 101.8h0M282.1 140.7h0M231.1 86.2h0M171.0 179.5h0M136.5 177.1h0M196.6 95.5h0M213.9 91.7h0M225.7 74.0h0M277.8 136.0h0M214.7 206.5h0M259.2 131.1h0M111.4 165.2h0M155.3 179.7h0M176.0 181.7h0M149.8 158.4h0M215.0 95.7h0M275.8 122.6h0M281.3 172.8h0M130.2 144.7h0M273.1 101.7h0M280.3 131.3h0M130.1 94.6h0M265.6 169.7h0M161.9 172.9h0M236.0 91.9h0M223.4 208.2h0M213.4 203.0h0M161.0 95.4h0M262.5 106.6h0M145.2 187.5h0M260.7 125.2h0M210.7 96.4h0M267.6 187.8h0M143.6 146.3h0M238.3 82.0h0M241.5 182.8h0M183.4 183.7h0M134.9 181.8h0M261.7 98.6h0M142.1 157.9h0M186.8 192.1h0M215.9 101.8h0M274.9 145.9h0M137.7 181.5h0M194.3 182.3h0M264.6 127.5h0M172.0 202.0h0M135.1 188.2h0M106.7 123.3h0M153.3 111.6h0M187.7 213.6h0M153.8 171.2h0M261.5 121.8h0M193.1 81.2h0M213.9 98.6h0M222.7 205.9h0M128.6 157.2h0M267.6 103.1h0M251.9 190.1h0M196.9 92.1h0M186.2 77.9h0M163.3 187.3h0M144.0 202.3h0M236.7 109.5h0M120.7 120.6h0M257.1 100.5h0M141.7 197.0h0M131.2 180.9h0M221.4 96.4h0M107.8 120.9h0M145.1 165.8h0M272.7 187.7h0M220.1 93.5h0" stroke="#f0a882" stroke-width="1.2" stroke-linecap="round" fill="none" stroke-opacity="0.9"/>
</g>
<defs><radialGradient id="ga"><stop offset="0" stop-color="#ecf020" stop-opacity="0.85"/><stop offset="0.6" stop-color="#ecf020" stop-opacity="0.595"/><stop offset="1" stop-color="#ecf020" stop-opacity="0"/></radialGradient></defs>
<ellipse cx="198.5" cy="142.5" rx="17" ry="11" fill="url(#ga)"/>
<defs><linearGradient id="sa" gradientUnits="userSpaceOnUse" x1="0" y1="5.6" x2="0" y2="144"><stop offset="0" stop-color="#1410e8"/><stop offset="0.12" stop-color="#1840f4"/><stop offset="0.17" stop-color="#1a8cf4"/><stop offset="0.217" stop-color="#14f0f0"/><stop offset="0.26" stop-color="#10f0a8"/><stop offset="0.3" stop-color="#18f050"/><stop offset="0.36" stop-color="#22f02a"/><stop offset="1" stop-color="#30ee28"/></linearGradient></defs>
<path d="M195.80,8.62 A4.20,3.02 0 0 1 204.20,8.62 L204.20,40.00 L202.95,58.00 L202.45,144.00 L197.55,144.00 L197.05,58.00 L195.80,40.00 Z" fill="url(#sa)"/>
<defs><radialGradient id="ga2"><stop offset="0" stop-color="#90f020" stop-opacity="0.9"/><stop offset="0.6" stop-color="#90f020" stop-opacity="0.63"/><stop offset="1" stop-color="#90f020" stop-opacity="0"/></radialGradient></defs>
<ellipse cx="200" cy="142.5" rx="6" ry="4" fill="url(#ga2)"/>
<ellipse cx="436.8" cy="143.5" rx="105" ry="74" fill="none" stroke="#f0f0f0" stroke-width="0.8"/>
<g filter="url(#bl)">
<path d="M440.1 144.3h0M434.6 143.4h0M440.2 143.8h0M434.4 144.9h0" stroke="#48e040" stroke-width="1.1" stroke-linecap="round" fill="none" stroke-opacity="0.9"/>
<path d="M432.6 140.0h0M431.0 144.5h0M440.3 138.7h0M438.0 138.6h0M433.0 140.3h0M430.8 142.1h0M437.8 139.0h0M429.4 148.0h0M442.7 145.2h0M441.4 140.8h0M441.9 148.7h0M428.7 148.0h0M439.1 138.3h0M447.9 142.3h0M435.2 142.7h0M444.8 147.9h0M439.3 138.7h0M439.5 138.2h0M433.1 147.5h0M434.5 150.1h0M437.9 149.8h0M430.3 141.4h0M435.3 138.2h0M444.2 148.3h0M445.7 145.7h0M439.0 150.6h0M436.0 150.6h0M435.6 151.1h0M430.3 149.2h0M436.4 150.5h0M435.6 150.6h0M439.9 138.1h0M437.5 141.3h0M443.2 149.0h0M429.0 147.6h0M441.4 146.7h0M440.5 140.9h0M442.2 145.5h0M444.0 139.9h0M444.4 139.3h0M435.5 141.0h0M439.9 147.0h0M445.2 139.3h0M432.6 150.4h0M434.9 150.8h0M437.8 150.7h0M429.6 148.5h0M433.3 150.0h0M430.4 149.4h0M443.2 149.2h0M430.5 145.9h0M440.7 150.3h0M442.0 138.7h0M435.9 147.8h0M435.2 141.5h0M442.2 147.4h0M435.6 138.9h0M435.8 148.0h0M447.8 144.1h0M435.4 141.7h0M440.9 147.1h0M435.1 149.2h0M438.0 151.3h0M445.5 140.4h0M434.6 147.2h0M435.2 139.2h0M434.2 139.0h0M434.3 150.4h0M433.6 140.0h0M438.7 147.6h0M431.7 141.6h0M427.5 143.8h0M438.3 137.7h0M443.6 139.7h0M435.0 150.6h0M440.6 147.0h0M448.6 145.4h0M430.8 143.7h0M440.9 139.3h0M432.0 149.6h0M435.8 150.9h0M434.0 143.7h0M433.2 149.9h0M434.4 142.8h0M441.4 146.5h0M444.5 145.9h0M435.1 138.2h0M443.3 148.8h0M429.8 147.0h0M432.1 140.7h0M441.3 145.8h0M432.8 139.9h0M442.5 138.8h0M432.2 140.0h0M434.7 138.8h0M434.1 139.2h0M439.9 138.8h0M430.6 149.8h0M446.4 144.9h0M434.1 139.2h0M440.3 138.9h0M442.3 139.6h0M439.9 139.3h0M444.0 148.6h0M445.0 143.1h0M438.0 150.0h0M434.1 147.8h0M441.9 138.3h0M430.3 145.3h0M427.8 141.8h0M429.4 143.8h0M434.3 139.3h0M434.4 150.2h0M434.0 144.2h0M430.5 141.5h0M435.6 150.9h0" stroke="#59de48" stroke-width="1.1" stroke-linecap="round" fill="none" stroke-opacity="0.9"/>
<path d="M427.5 137.5h0M453.8 141.0h0M448.2 139.1h0M425.1 149.6h0M436.2 136.4h0M442.3 152.0h0M448.5 135.7h0M437.4 133.5h0M434.5 152.6h0M455.3 141.1h0M419.8 144.1h0M424.0 140.2h0M444.3 137.1h0M430.3 151.6h0M447.1 137.9h0M426.7 149.7h0M436.6 155.3h0M425.5 153.1h0M450.7 140.1h0M446.6 137.2h0M422.1 144.6h0M455.2 145.9h0M449.1 143.3h0M440.3 154.5h0M423.9 151.8h0M448.6 138.2h0M436.4 136.5h0M435.4 136.6h0M436.7 154.8h0M452.5 138.3h0M424.3 139.7h0M447.4 137.8h0M426.2 142.2h0M426.7 153.3h0M439.5 136.1h0M420.2 143.6h0M443.4 151.9h0M423.8 145.8h0M439.5 153.3h0M427.3 139.7h0M451.9 142.8h0M425.4 149.1h0M428.0 149.0h0M422.2 149.0h0M455.6 143.9h0M425.8 148.9h0M441.6 136.7h0M420.9 145.6h0M421.1 148.3h0M426.7 136.8h0M448.1 148.4h0M420.7 145.5h0M444.9 136.6h0M444.3 151.5h0M435.0 152.9h0M451.8 142.8h0M428.2 140.0h0M436.1 152.1h0M429.7 139.1h0M430.3 154.5h0M425.8 152.9h0M437.5 152.2h0M442.7 137.0h0M420.9 148.2h0M453.0 140.1h0M423.9 151.6h0M454.0 140.2h0M443.2 136.5h0M420.3 146.4h0M439.5 136.3h0M440.3 135.7h0M426.9 149.8h0M437.4 136.7h0M439.5 136.7h0M450.7 136.5h0M452.6 145.8h0M446.7 137.4h0M451.2 138.7h0M443.4 155.2h0M454.8 141.5h0M420.0 146.0h0M436.2 154.6h0M428.5 139.8h0M442.9 134.1h0M428.0 137.2h0M456.0 143.4h0M445.1 151.3h0M448.8 136.1h0M448.6 143.0h0M454.5 139.8h0M420.6 148.4h0M420.7 145.9h0M448.7 146.4h0M425.1 149.1h0M423.5 137.6h0M441.2 154.7h0M440.6 136.4h0M445.8 134.7h0M452.8 143.5h0M436.4 135.5h0M436.1 153.0h0M423.8 146.7h0M453.5 138.6h0M419.7 143.1h0M428.3 151.2h0M422.9 145.7h0M428.7 153.8h0M445.9 149.4h0M455.1 148.5h0M436.6 153.3h0M451.9 137.9h0M449.7 140.4h0M449.2 139.2h0M454.3 140.6h0M456.0 145.3h0M451.7 144.3h0M434.9 136.5h0M448.5 137.9h0M429.4 151.6h0M435.2 152.6h0M444.8 134.3h0M438.5 136.6h0M448.9 138.3h0M452.8 144.2h0M425.4 148.8h0M447.1 152.5h0M427.3 149.2h0M440.7 133.3h0M441.6 151.4h0M429.4 151.1h0M431.2 138.5h0M433.2 152.2h0M452.4 143.8h0M432.3 152.4h0M449.8 141.1h0M445.6 137.1h0M455.8 145.4h0M426.5 137.3h0M450.6 137.7h0M433.7 137.1h0M440.4 155.1h0M439.2 152.7h0M432.8 152.4h0M453.8 150.2h0M435.0 136.2h0M426.4 145.4h0M442.3 152.1h0M419.8 144.1h0M438.3 153.0h0M422.0 148.0h0M435.3 152.5h0M423.2 151.1h0M448.0 138.9h0M432.9 154.6h0M450.1 139.7h0M440.0 135.9h0M450.7 136.4h0M419.8 143.7h0M448.8 138.7h0M453.5 141.9h0M453.4 139.1h0M452.3 137.7h0M426.1 138.3h0M432.3 152.2h0M423.5 142.6h0M452.2 142.3h0M451.5 150.3h0M447.4 138.0h0M423.0 148.0h0M429.3 138.5h0M446.6 138.0h0M425.5 152.6h0M434.0 137.0h0M436.3 136.3h0M454.8 140.5h0M451.7 138.0h0M446.9 137.9h0M441.4 136.2h0M440.0 136.9h0M438.2 152.9h0M428.3 136.7h0M453.7 139.6h0M451.4 140.7h0M435.2 153.3h0M428.5 136.6h0M428.8 150.8h0M447.2 137.9h0M424.5 146.9h0M422.8 147.0h0M431.4 154.9h0M449.1 138.7h0M453.5 139.2h0M427.5 150.2h0M425.5 152.6h0M422.6 149.3h0M444.4 136.7h0M424.9 152.6h0M456.0 144.8h0M425.0 152.1h0M443.8 154.6h0M430.4 151.0h0M454.5 147.6h0M451.4 149.0h0M453.2 143.0h0M431.1 155.2h0M423.1 151.3h0M449.7 137.1h0M440.1 135.9h0M453.0 146.0h0M438.5 133.3h0M424.1 144.3h0M432.4 155.4h0M455.7 145.5h0M428.3 154.1h0M424.7 147.0h0M424.9 152.7h0M424.3 146.6h0M424.1 151.5h0M419.8 144.4h0M454.7 141.5h0M455.8 142.4h0M421.3 140.1h0M438.7 133.9h0M443.2 137.2h0M448.8 136.7h0M443.5 136.3h0M427.0 150.8h0M444.8 134.1h0M420.0 146.5h0M447.8 138.7h0M450.6 141.1h0M452.6 144.8h0M428.0 153.8h0M453.2 140.0h0M451.1 142.1h0M455.0 142.5h0M434.8 136.9h0M432.2 152.7h0M430.2 151.7h0M432.9 152.1h0M447.2 150.1h0M450.8 140.8h0M440.4 133.8h0" stroke="#6bdc50" stroke-width="1.1" stroke-linecap="round" fill="none" stroke-opacity="0.9"/>
<path d="M419.9 152.5h0M452.1 157.3h0M416.1 143.2h0M462.5 148.2h0M424.2 135.8h0M418.8 144.1h0M419.8 147.3h0M440.9 131.2h0M459.2 142.2h0M455.9 141.5h0M420.7 152.7h0M444.4 156.7h0M459.3 145.1h0M458.7 148.7h0M438.4 129.7h0M422.1 151.2h0M459.5 140.1h0M422.7 133.4h0M412.6 143.4h0M447.1 132.5h0M454.7 136.9h0M421.3 134.6h0M459.3 146.8h0M454.5 135.4h0M458.9 135.4h0M458.5 147.0h0M455.5 154.3h0M415.0 136.9h0M455.2 139.7h0M456.6 143.6h0M458.3 138.1h0M413.9 138.8h0M462.8 148.2h0M454.6 136.7h0M439.3 131.4h0M416.9 147.4h0M454.8 139.0h0M451.0 157.0h0M419.9 140.4h0M456.4 151.1h0M420.3 140.4h0M460.6 151.9h0M418.5 135.7h0M429.5 130.5h0M452.5 134.2h0M452.5 135.2h0M460.9 147.8h0M460.9 143.6h0M458.2 144.0h0M458.6 148.0h0M456.9 146.3h0M413.9 150.3h0M449.2 156.8h0M442.8 159.1h0M442.6 156.8h0M437.1 129.3h0M461.4 150.7h0M418.9 150.9h0M422.2 134.2h0M456.4 153.3h0M418.2 150.7h0M462.1 140.1h0M426.5 134.3h0M446.4 157.0h0M418.8 151.6h0M414.7 138.2h0M419.5 145.8h0M459.6 141.8h0M418.8 137.1h0M419.6 147.2h0M413.5 140.9h0M420.3 152.4h0M444.2 158.6h0M415.6 136.3h0M459.2 148.3h0M457.0 143.5h0M416.3 148.1h0M413.0 145.5h0M412.3 143.4h0M418.1 136.3h0M423.5 133.1h0M427.4 154.4h0M457.8 150.4h0M460.4 141.1h0M415.9 143.5h0M452.4 158.2h0M451.7 153.4h0M419.6 142.4h0M461.9 140.4h0M458.4 149.8h0M459.6 147.4h0M457.8 140.2h0M453.7 154.6h0M452.2 136.7h0M456.7 138.4h0M424.0 152.6h0M418.3 155.3h0M459.3 143.1h0M416.9 147.2h0M418.1 150.2h0M457.6 151.5h0M459.6 140.1h0M426.7 134.5h0M417.8 146.9h0M414.9 145.8h0M460.2 142.6h0M462.7 141.8h0M417.5 150.5h0M457.0 137.9h0M420.2 134.9h0M444.6 159.4h0M419.4 151.1h0M412.3 144.9h0M416.9 145.3h0M435.9 159.8h0M458.8 150.0h0M418.3 136.1h0M461.3 142.7h0M461.8 150.3h0M412.8 147.2h0M439.0 160.1h0M420.9 152.2h0M463.2 145.3h0M427.2 131.5h0M418.7 140.2h0M418.6 144.0h0M416.9 146.8h0M416.4 146.5h0M458.0 139.3h0M448.9 130.3h0M454.8 133.0h0M454.1 151.2h0M455.5 140.6h0M418.3 149.3h0M422.6 153.2h0M419.0 144.1h0M429.2 157.2h0M426.4 154.1h0M419.4 145.3h0M416.7 138.8h0M460.0 136.8h0M454.8 133.2h0M455.5 153.1h0M415.0 138.0h0M461.5 138.7h0M420.6 152.3h0M453.1 132.1h0M413.1 146.3h0M421.2 133.9h0M419.2 151.1h0M420.2 152.6h0M417.0 148.2h0M459.1 142.8h0M417.4 149.2h0M452.0 135.4h0M460.1 142.3h0M416.3 141.1h0M449.6 133.7h0M419.8 134.9h0M459.2 143.7h0M459.8 142.4h0M416.7 148.1h0M456.7 142.6h0M419.4 136.2h0M459.2 142.4h0M415.0 141.3h0M460.1 146.8h0M454.6 136.6h0M420.3 148.3h0M416.6 142.4h0M428.0 130.3h0M462.0 140.1h0M459.0 139.9h0M416.8 138.1h0M456.1 141.7h0M417.5 138.4h0M459.6 148.3h0M456.7 148.5h0M460.2 147.3h0M454.2 154.7h0M459.8 141.9h0M452.4 153.9h0M420.5 153.1h0M454.6 136.0h0M415.8 140.4h0M460.0 152.0h0M416.3 146.9h0M459.3 136.1h0M459.2 139.8h0M440.7 128.6h0M458.7 141.7h0M424.4 132.7h0M434.5 130.1h0M455.9 137.8h0M427.0 130.4h0M419.6 141.7h0M422.5 131.1h0M458.7 141.1h0M431.1 160.0h0M449.6 157.3h0M419.4 151.1h0M447.8 132.7h0M459.0 143.5h0M459.7 144.6h0M412.6 141.6h0M416.8 138.8h0M458.2 135.4h0M420.7 153.3h0M415.7 143.6h0M413.1 148.2h0M423.2 134.3h0M460.3 144.0h0M457.3 138.8h0M421.7 150.3h0M459.7 145.7h0M415.6 141.8h0M459.7 143.5h0M458.0 139.3h0M416.8 142.1h0M426.9 134.0h0M450.2 133.5h0M450.4 135.8h0M462.3 145.6h0M416.0 143.2h0M446.1 158.3h0M459.0 141.7h0M456.4 145.0h0M456.9 153.0h0M460.1 144.6h0M442.8 157.0h0M412.4 144.0h0M414.6 150.9h0M416.0 140.3h0M449.8 157.3h0M431.3 156.8h0M457.5 139.5h0M452.8 135.8h0M430.2 129.9h0M455.2 133.4h0M415.5 142.9h0M441.0 129.4h0M416.9 141.5h0M419.4 135.6h0M448.8 132.8h0M453.7 135.0h0M456.2 145.5h0M419.1 150.5h0M418.6 151.9h0M463.0 144.6h0M422.4 132.7h0M418.2 137.3h0M434.1 131.7h0M422.5 154.4h0M438.2 128.6h0M419.4 139.6h0M423.8 136.0h0M416.2 138.5h0M421.7 150.5h0M453.8 138.5h0M455.7 153.1h0M419.3 145.3h0M463.0 145.7h0M419.2 141.5h0M415.9 143.5h0M461.0 147.0h0M454.9 132.6h0M459.7 147.2h0M459.1 142.1h0M463.3 145.0h0M420.8 155.8h0M418.8 153.8h0M412.9 148.2h0M459.6 144.9h0M457.4 140.0h0M458.7 148.7h0M419.3 137.3h0M459.5 148.1h0M462.0 140.6h0M419.4 145.2h0M414.7 142.6h0M415.6 149.0h0M416.7 146.5h0M456.3 133.3h0M416.2 146.4h0M417.9 136.5h0M459.2 142.0h0M456.6 138.7h0M459.1 142.5h0M417.3 149.2h0M420.4 140.3h0M463.3 142.9h0M462.7 140.4h0M418.5 142.6h0M457.4 134.5h0M460.8 144.9h0M449.0 132.1h0M415.6 150.6h0M458.2 149.3h0M413.2 143.2h0M434.1 129.0h0M420.1 136.3h0M462.6 142.5h0M418.5 136.8h0M418.4 145.0h0M420.5 153.2h0M452.6 155.7h0M456.2 151.6h0M436.5 131.1h0M460.3 145.6h0M458.3 142.0h0M460.7 138.7h0M428.1 133.9h0M459.7 137.6h0M417.0 140.8h0M417.0 147.7h0M422.1 137.3h0M456.6 137.1h0M418.3 137.0h0M455.2 139.5h0M453.7 155.1h0M416.1 152.6h0M417.2 138.2h0M462.8 144.8h0M457.6 139.2h0M420.6 135.6h0M458.1 150.2h0M458.2 140.9h0M416.1 141.4h0M455.5 150.1h0M456.4 151.8h0M426.9 131.4h0M415.7 146.8h0M421.5 150.1h0M457.6 140.3h0M413.9 149.6h0M416.7 149.8h0M459.8 145.9h0M415.5 140.3h0M462.2 149.5h0M440.3 131.4h0M415.1 143.1h0M454.8 150.7h0M457.5 151.8h0M430.9 132.1h0M462.2 142.2h0M448.9 154.4h0M457.9 154.9h0M463.1 143.2h0M427.8 133.5h0M413.1 141.2h0M461.1 138.2h0M452.5 135.3h0M420.4 134.8h0M453.2 134.5h0M458.9 149.8h0M414.5 137.9h0M455.6 147.7h0M418.9 142.2h0M416.2 145.3h0" stroke="#7cda58" stroke-width="1.1" stroke-linecap="round" fill="none" stroke-opacity="0.9"/>
<path d="M412.4 152.4h0M422.0 127.3h0M444.8 163.8h0M416.8 132.9h0M429.9 125.3h0M409.4 149.4h0M461.7 156.7h0M458.2 155.5h0M426.3 164.6h0M464.1 136.2h0M454.9 161.3h0M411.6 147.7h0M442.9 164.3h0M423.4 129.8h0M454.2 158.6h0M410.1 137.2h0M409.8 138.5h0M420.6 162.0h0M466.5 142.9h0M411.0 146.1h0M459.8 158.3h0M437.6 162.3h0M417.6 130.5h0M419.6 160.7h0M412.6 140.2h0M463.9 153.7h0M466.2 152.4h0M463.8 152.1h0M412.8 151.3h0M464.2 136.7h0M463.8 144.1h0M414.3 133.1h0M465.6 140.8h0M414.3 131.7h0M415.5 131.0h0M460.0 154.3h0M409.0 144.1h0M433.6 124.4h0M462.3 156.2h0M409.4 141.1h0M439.3 164.4h0M464.5 137.4h0M411.7 144.0h0M458.2 156.7h0M446.0 161.3h0M446.3 163.7h0M422.1 127.7h0M429.4 125.3h0M411.5 152.8h0M468.6 137.6h0M465.3 150.8h0M412.7 139.6h0M408.9 139.4h0M419.4 131.8h0M435.8 165.3h0M410.7 135.3h0M409.1 143.3h0M408.9 154.0h0M457.4 159.1h0M417.3 133.9h0M414.4 158.2h0M441.2 164.3h0M423.1 127.1h0M415.4 130.1h0M461.0 153.9h0M409.2 140.0h0M420.5 128.4h0M408.7 146.1h0M463.3 154.6h0M419.6 132.1h0M415.0 131.8h0M463.7 149.9h0M461.3 156.6h0M435.8 127.3h0M406.5 138.2h0M434.7 127.3h0M468.4 152.0h0M467.7 153.5h0M409.5 149.6h0M468.6 152.1h0M411.8 135.7h0M409.2 139.9h0M416.2 135.2h0M459.2 158.6h0M433.3 126.9h0M413.4 132.3h0M450.1 160.3h0M409.1 143.0h0M463.1 139.7h0M408.6 146.5h0M434.8 127.0h0M418.0 133.2h0M454.4 157.5h0M465.9 148.8h0M431.8 125.2h0M412.0 144.6h0M426.4 126.5h0M442.2 123.6h0M417.1 128.7h0M461.2 156.3h0M448.9 163.2h0M466.7 135.2h0M410.8 149.9h0M413.5 134.7h0M429.9 162.7h0M466.5 146.0h0M467.1 145.5h0M460.3 153.0h0M464.1 143.2h0M464.0 135.1h0M411.8 144.0h0M417.2 130.6h0M413.6 136.9h0M423.1 130.2h0M423.0 126.5h0M441.6 124.3h0M414.0 136.2h0M407.0 138.2h0M415.0 136.7h0M413.0 156.8h0M453.8 158.7h0M460.7 133.9h0M415.6 135.6h0M462.3 135.0h0M451.5 158.8h0M453.5 162.3h0M455.8 159.8h0M451.9 126.0h0M413.2 135.7h0M425.1 124.9h0M407.5 136.0h0M463.4 147.5h0M435.1 162.7h0M427.1 125.4h0M414.2 156.2h0M408.4 146.8h0M456.0 160.2h0M409.1 138.3h0M451.9 128.8h0M427.7 161.1h0M409.8 143.0h0M417.4 129.7h0M465.8 149.4h0M423.7 126.7h0M417.8 132.8h0M410.2 154.4h0M449.7 162.8h0M412.0 142.4h0M466.8 149.8h0M410.5 137.7h0M466.5 148.4h0M464.7 156.9h0M453.2 126.7h0M449.0 163.4h0M450.2 164.3h0M412.7 133.8h0M448.2 124.9h0M456.5 156.8h0M408.9 140.1h0M467.3 148.2h0M411.2 136.1h0M412.3 133.6h0M460.5 153.7h0M419.9 161.7h0M458.4 158.6h0M428.6 163.8h0M413.1 133.2h0M425.6 126.0h0M406.6 151.2h0M456.8 159.3h0M448.1 128.1h0M425.6 128.3h0M453.9 161.5h0M414.1 132.0h0M457.2 160.1h0M423.4 126.6h0M457.1 159.7h0M417.7 133.4h0M468.1 152.6h0M434.2 162.2h0M460.4 157.4h0M412.6 139.9h0M461.2 151.6h0M423.0 126.9h0M457.2 159.8h0M461.6 152.0h0M411.1 136.1h0M465.1 152.8h0M441.2 162.1h0M439.7 164.8h0M434.1 124.0h0M465.0 150.2h0M422.6 162.5h0M453.7 129.0h0M463.9 145.4h0M414.5 131.9h0M464.2 135.8h0M466.8 147.6h0M425.8 128.5h0M405.0 145.2h0M411.6 142.2h0M412.2 139.0h0M422.7 127.5h0M455.5 157.9h0M411.8 134.7h0M456.8 130.4h0M462.7 149.2h0M423.0 163.0h0M421.2 128.2h0M464.9 152.1h0M459.7 157.7h0M408.1 140.3h0M463.5 141.3h0M412.7 138.8h0M408.2 144.6h0M415.9 131.9h0M415.3 132.0h0M412.1 139.9h0M409.6 142.7h0M464.0 151.4h0M411.4 152.0h0M430.5 128.3h0M450.1 163.1h0M465.0 133.7h0M434.1 164.4h0M449.9 159.8h0M466.9 144.9h0M411.1 136.5h0M453.4 126.4h0M465.7 152.6h0M443.1 161.4h0M465.8 139.1h0M435.8 124.5h0M416.8 134.3h0M450.5 162.0h0M464.4 148.5h0M409.4 134.3h0M463.4 148.1h0M440.1 126.6h0M426.9 125.9h0M463.4 146.1h0M419.0 157.7h0M420.7 162.1h0M466.6 142.4h0M413.0 151.0h0M416.2 154.0h0M410.5 136.3h0M464.3 153.0h0M449.8 159.5h0M436.1 165.2h0M450.8 159.5h0M417.0 129.7h0M459.0 158.6h0M456.6 160.6h0M463.8 141.2h0M430.9 125.6h0M405.5 142.8h0M454.4 157.9h0M412.8 154.3h0M418.1 129.3h0M419.6 131.8h0M455.4 126.9h0M464.4 145.3h0M411.3 136.3h0M436.2 164.7h0M462.2 134.8h0M404.8 143.0h0M415.2 132.4h0M446.4 164.2h0M458.9 128.2h0M420.5 127.9h0M433.7 126.7h0M432.1 124.4h0M406.1 150.7h0M448.9 164.1h0M433.8 125.1h0M436.7 126.6h0M409.8 136.4h0M411.0 135.4h0M423.7 129.6h0M462.9 154.9h0M452.6 161.8h0M468.4 151.8h0M411.5 142.6h0M439.4 164.9h0M426.3 126.6h0M466.7 145.9h0M464.9 144.5h0M451.8 159.0h0M462.5 131.5h0M418.5 131.3h0M415.8 131.3h0M464.7 138.7h0M463.4 135.9h0M441.9 161.9h0M453.9 158.4h0M456.5 159.4h0M405.1 141.7h0M448.9 160.0h0M408.1 148.1h0M457.5 159.6h0M414.1 136.6h0M463.8 143.4h0M417.6 155.6h0M470.1 143.8h0M410.9 156.3h0M409.3 139.5h0M460.0 153.4h0M446.1 164.0h0M410.6 135.7h0M461.0 152.2h0M452.6 159.2h0M418.4 131.8h0M412.1 135.7h0M466.8 147.8h0M464.8 152.8h0M446.3 164.0h0M459.1 134.4h0M428.4 125.2h0M461.2 152.3h0M470.6 146.8h0M462.9 148.7h0M412.9 138.7h0M410.8 136.0h0M415.5 128.9h0M425.3 126.4h0M461.1 133.5h0M419.2 128.9h0M409.9 139.1h0M427.7 127.6h0M417.8 158.6h0M406.2 139.2h0M466.3 151.8h0M422.5 127.9h0M408.3 143.9h0M454.1 161.2h0M409.8 149.9h0M407.7 142.5h0M464.6 153.2h0M429.7 126.9h0M457.7 156.6h0M437.7 165.2h0M462.4 150.0h0M442.8 163.9h0M466.1 146.8h0M409.3 145.0h0M421.2 159.5h0M463.7 144.2h0M405.5 141.0h0M461.9 137.6h0M466.0 151.1h0M438.4 164.7h0M424.6 126.6h0M420.7 129.7h0M412.1 142.2h0M410.5 137.1h0M420.2 130.2h0M408.9 142.1h0M418.8 128.6h0M434.1 124.4h0M412.4 134.6h0M468.0 140.2h0M462.7 151.4h0M462.7 154.9h0M457.7 159.1h0M417.8 133.8h0M453.7 162.3h0M452.0 161.6h0M420.3 130.6h0M436.7 165.2h0M420.0 158.8h0M440.1 161.7h0M453.6 126.6h0M415.5 135.9h0M453.3 126.4h0M444.0 163.8h0M456.2 157.1h0M409.0 147.7h0M446.7 161.6h0M408.9 142.4h0M470.5 144.1h0M417.5 157.3h0M407.9 145.1h0M405.8 140.3h0M457.6 156.7h0M465.3 152.2h0M466.2 145.9h0M462.6 139.8h0M459.8 157.5h0M439.9 123.7h0M409.0 146.8h0M414.5 132.4h0M424.9 129.3h0M465.7 153.1h0M413.1 133.9h0M415.9 134.3h0M414.4 137.3h0M454.0 128.1h0M459.8 153.8h0M466.7 149.0h0M411.5 131.5h0M412.2 135.7h0M407.4 143.1h0M462.0 155.6h0M469.1 151.4h0M441.7 126.9h0M405.0 146.7h0M463.8 150.8h0M447.7 161.5h0M412.3 140.4h0M465.6 141.6h0M422.1 130.7h0M466.5 134.9h0M408.0 143.2h0M414.9 135.6h0M422.0 130.1h0M443.3 164.9h0M463.5 140.9h0M413.6 130.1h0M421.6 127.6h0M412.3 138.5h0M469.0 149.1h0M425.2 161.3h0M419.6 128.6h0M470.8 144.3h0M461.0 153.6h0M411.6 135.9h0M458.1 158.1h0M409.1 138.2h0M408.8 143.1h0M430.2 125.6h0M465.2 152.0h0M451.7 163.1h0M426.3 126.2h0M466.0 147.7h0M420.4 132.0h0M418.0 129.6h0M409.2 139.6h0M464.9 153.4h0M445.9 162.8h0M410.8 152.2h0M422.8 126.8h0M449.2 163.0h0M410.2 137.1h0M419.3 161.7h0M441.6 164.3h0M440.4 124.8h0M450.0 162.3h0M452.8 129.6h0M454.9 160.8h0M452.0 162.6h0M467.1 149.2h0M470.7 143.4h0M429.3 127.4h0M415.6 133.8h0M408.4 141.2h0M466.8 150.9h0M419.6 158.6h0M460.6 158.0h0M456.6 157.7h0M435.6 125.0h0M457.1 159.6h0M425.6 129.0h0M432.4 124.8h0M440.8 123.9h0M410.5 133.1h0M452.6 129.3h0M462.8 140.4h0M433.4 164.9h0M411.3 146.3h0M463.5 144.2h0M413.8 136.4h0M467.0 147.0h0M470.2 147.4h0M412.7 134.3h0M408.4 146.8h0M425.4 128.5h0M461.8 151.6h0" stroke="#8dd860" stroke-width="1.1" stroke-linecap="round" fill="none" stroke-opacity="0.9"/>
<path d="M458.0 122.4h0M423.1 121.7h0M407.2 129.4h0M455.8 163.4h0M433.9 122.5h0M432.5 119.9h0M459.0 165.4h0M447.5 168.9h0M477.7 142.0h0M457.3 162.2h0M441.4 119.4h0M459.1 161.3h0M434.6 169.8h0M451.2 168.0h0M456.6 166.0h0M417.5 126.7h0M424.1 124.3h0M420.8 120.9h0M452.1 167.6h0M454.6 166.1h0M455.4 166.5h0M414.5 128.1h0M418.8 167.0h0M460.3 162.8h0M428.6 120.3h0M471.1 159.1h0M476.6 151.6h0M433.2 119.3h0M464.0 129.1h0M417.5 162.9h0M415.8 124.8h0M452.5 167.3h0M452.7 167.0h0M423.4 120.9h0M402.4 138.6h0M451.7 166.6h0M465.0 162.1h0M447.4 165.2h0M455.2 122.2h0M468.4 158.4h0M437.3 119.6h0M417.2 127.7h0M421.2 122.2h0M422.6 167.4h0M443.5 169.2h0M432.5 122.7h0M470.3 149.1h0M473.6 133.0h0M409.2 126.0h0M402.2 155.6h0M420.9 124.0h0M413.8 128.8h0M435.9 121.9h0M410.0 128.1h0M454.5 125.1h0M424.5 120.9h0M405.0 129.3h0M435.3 169.5h0M470.9 156.5h0M449.0 122.6h0M436.6 169.5h0M465.9 129.9h0M406.2 131.8h0M471.1 148.0h0M403.3 134.4h0M424.8 165.7h0M466.3 127.8h0M412.3 130.7h0M409.7 158.6h0M404.9 132.8h0M419.1 125.4h0M471.0 149.2h0M427.7 120.3h0M413.1 129.8h0M468.3 152.9h0M413.5 129.0h0M440.2 166.3h0M433.6 167.1h0M406.5 131.1h0M412.7 129.1h0M404.7 132.9h0M420.4 125.2h0M477.0 140.4h0M470.1 149.4h0M477.2 149.1h0M455.0 164.2h0M418.4 124.0h0M426.1 123.7h0M450.5 167.8h0M431.1 120.1h0M465.9 160.4h0M473.2 156.0h0M469.9 150.0h0M422.9 122.5h0M405.1 140.5h0M454.0 121.2h0M400.9 153.1h0M456.7 166.3h0M432.4 119.6h0M449.6 168.0h0M440.1 119.8h0M404.9 140.8h0M444.7 122.2h0M414.9 124.5h0M426.4 122.8h0M436.7 120.3h0M417.0 165.8h0M460.3 160.6h0M461.4 161.7h0M421.3 125.1h0M437.9 121.9h0M410.6 131.9h0M408.9 132.7h0M420.0 125.8h0M449.7 164.9h0M446.3 120.0h0M404.6 143.0h0M409.6 128.1h0M476.9 139.0h0M436.4 167.1h0M470.5 131.2h0M452.7 167.6h0M447.4 166.3h0M441.6 166.6h0M420.1 122.7h0M464.9 161.0h0M422.8 165.8h0M428.0 120.8h0M407.1 134.9h0M400.2 153.1h0M416.6 123.9h0M474.3 145.6h0M432.9 120.7h0M427.3 122.7h0M400.8 148.3h0M470.0 151.8h0M469.1 128.8h0M466.2 126.8h0M462.2 160.1h0M457.1 162.9h0M450.0 165.8h0M397.9 148.5h0M447.8 168.4h0M405.0 132.7h0M469.7 137.3h0M468.9 132.4h0M411.3 131.6h0M464.1 158.6h0M404.0 141.2h0M436.5 119.5h0M409.5 128.2h0M470.9 155.8h0M471.2 155.0h0M465.4 160.8h0M448.3 165.4h0M461.3 160.0h0M461.3 160.7h0M425.3 122.8h0M455.8 167.2h0M471.9 132.0h0M456.4 162.7h0M455.6 163.6h0M401.3 140.6h0M461.8 123.7h0M408.9 160.7h0M463.0 159.5h0M406.1 129.1h0M438.1 122.0h0M469.6 157.7h0M409.9 128.2h0M444.0 119.4h0M408.9 133.2h0M426.3 123.4h0M408.1 129.4h0M428.0 122.8h0M430.5 122.4h0M449.5 167.4h0M442.9 170.4h0M450.5 168.5h0M445.7 168.5h0M445.9 169.2h0M463.3 159.8h0M423.5 121.6h0M419.1 123.9h0M406.4 136.8h0M457.3 122.9h0M440.6 169.5h0M417.8 123.4h0M419.2 165.0h0M428.2 168.7h0M420.1 125.5h0M470.0 156.8h0M450.9 123.5h0M413.0 126.3h0M426.9 123.4h0M457.9 162.7h0M415.2 123.9h0M467.6 154.9h0M411.6 131.0h0M449.8 166.5h0M425.8 121.5h0M475.4 139.7h0M471.0 130.2h0M457.4 122.9h0M426.7 121.8h0M406.7 136.9h0M415.6 165.9h0M405.5 159.5h0M397.9 145.6h0M408.7 133.3h0M404.6 142.3h0M429.9 169.2h0M454.3 163.8h0M448.2 166.4h0M459.2 164.7h0M440.5 119.4h0M426.4 165.9h0M453.2 123.6h0M461.1 127.0h0M401.2 141.9h0M424.0 124.0h0M405.6 137.6h0M444.3 120.2h0M465.3 126.8h0M454.3 167.1h0M401.6 132.9h0M420.8 167.3h0M449.6 121.1h0M432.5 120.7h0M474.7 143.9h0M413.0 129.3h0M466.6 155.5h0M404.9 159.7h0M404.4 141.7h0M459.8 164.6h0M458.3 162.4h0M452.4 167.5h0M457.4 126.6h0M445.6 168.2h0M411.0 160.2h0M424.9 168.8h0M414.7 127.5h0M473.8 148.9h0M457.0 164.9h0M415.9 127.2h0M434.4 122.3h0M451.0 121.1h0M398.7 150.5h0M444.9 166.7h0M420.7 122.0h0M428.2 166.8h0M469.3 157.3h0M457.6 165.2h0M474.0 140.2h0M441.0 169.0h0M467.5 158.2h0M475.7 153.4h0M467.9 154.5h0M403.8 133.5h0M474.5 150.9h0M409.3 126.0h0M453.4 121.1h0M448.8 168.3h0M465.5 160.8h0M407.5 132.9h0M454.8 167.0h0M469.8 150.0h0M455.5 166.8h0M432.3 122.7h0M404.2 132.4h0M408.0 160.6h0M420.4 122.9h0M426.3 123.2h0M456.6 162.4h0M458.8 162.0h0M469.2 151.8h0M461.8 160.2h0M425.6 123.2h0M450.4 120.4h0M471.6 137.0h0M402.8 136.3h0M425.8 123.5h0M449.1 165.3h0M422.3 121.9h0M440.1 119.1h0M444.9 120.6h0M418.2 126.4h0M406.8 160.2h0M459.6 165.5h0M468.7 157.3h0M440.1 119.4h0M443.2 122.0h0M409.2 128.9h0M451.5 167.7h0M464.6 128.8h0M457.9 162.7h0M451.7 164.6h0M474.7 135.7h0M455.5 163.8h0M414.2 128.4h0M439.0 119.7h0M413.5 128.9h0M473.5 143.9h0M456.0 125.3h0M460.5 162.8h0M423.3 168.8h0M448.9 165.4h0M419.0 167.0h0M460.7 161.0h0M449.4 165.3h0M442.1 122.7h0M453.7 166.8h0M414.6 128.1h0M406.7 130.5h0M439.9 166.6h0M402.9 156.5h0M462.2 163.1h0M439.6 120.5h0M416.5 128.0h0M404.5 142.8h0M435.8 119.1h0M412.3 127.1h0M456.8 165.6h0M399.1 138.1h0M477.5 143.1h0M471.2 141.9h0M441.0 119.5h0M465.2 132.1h0M471.2 155.0h0M418.1 126.6h0M428.4 122.8h0M448.4 165.3h0M441.1 168.9h0M412.7 126.2h0M460.9 164.6h0M461.9 159.9h0M465.6 156.8h0M462.9 159.0h0M408.3 134.6h0M436.6 122.4h0M412.5 160.8h0M434.1 169.7h0M462.8 159.3h0M465.9 157.4h0M428.7 169.5h0M459.4 161.9h0M400.9 142.3h0M466.8 160.0h0M471.6 136.3h0M431.9 120.0h0M466.6 126.8h0M415.2 127.9h0M423.2 122.2h0M398.1 146.8h0M404.6 143.3h0M462.3 160.7h0M439.8 119.5h0M424.9 165.6h0M408.6 133.3h0M472.4 154.4h0M459.8 122.8h0M434.4 119.5h0M462.4 159.8h0M410.1 132.4h0M468.1 154.0h0M467.3 130.8h0M436.8 166.9h0M452.5 165.2h0M419.3 123.0h0M427.4 122.8h0M423.4 165.5h0M445.0 167.1h0M466.1 129.6h0M471.0 159.4h0M416.6 127.3h0M464.9 161.1h0M439.0 168.7h0M449.8 167.6h0M405.4 138.9h0M425.4 123.3h0M437.5 169.2h0M474.1 149.6h0M465.1 126.0h0M431.8 120.3h0M452.4 165.4h0M401.3 145.0h0M407.6 130.0h0M472.7 138.5h0M404.6 142.0h0M455.1 163.9h0M448.3 169.2h0M420.6 124.2h0M459.2 161.8h0M440.6 121.6h0M402.2 140.1h0M454.6 166.7h0M414.8 128.0h0M458.2 161.8h0M452.7 167.1h0M431.6 119.7h0M462.7 162.5h0M408.5 130.7h0M404.0 134.2h0M407.3 156.6h0M456.5 166.1h0M471.9 155.1h0M467.8 154.8h0M423.3 166.0h0M443.1 169.2h0M465.3 161.2h0M429.3 120.0h0M468.7 158.1h0M441.4 122.2h0M475.2 148.9h0M463.3 162.2h0M474.0 151.8h0M465.8 157.2h0M451.9 167.1h0M441.4 169.1h0M413.6 129.5h0M417.2 124.1h0M407.1 131.2h0M454.6 163.7h0M457.9 161.7h0M417.1 124.7h0M427.8 120.3h0M461.1 159.9h0M427.3 120.5h0M414.0 125.4h0M471.4 154.5h0M454.9 166.9h0M462.3 162.4h0M470.8 156.1h0M426.1 121.0h0M406.5 136.9h0M471.0 144.2h0M417.5 125.0h0M411.3 131.2h0M403.0 138.4h0M398.0 145.8h0M417.9 124.4h0M405.4 132.6h0M415.0 126.2h0M410.8 130.9h0M446.7 119.9h0M417.8 165.6h0M425.2 165.4h0M414.5 124.7h0M427.4 123.5h0M452.8 121.0h0M440.6 169.4h0M470.2 151.4h0M466.5 155.5h0M454.6 124.3h0M452.7 165.3h0M458.3 162.0h0M416.8 123.6h0M463.6 129.2h0M410.0 131.5h0M435.2 169.9h0M466.3 129.5h0M456.3 164.0h0M417.4 126.5h0M414.6 125.2h0M432.8 119.2h0M471.6 154.2h0M458.1 162.8h0M463.7 158.3h0M442.7 122.2h0M450.7 168.4h0M423.1 123.8h0M409.0 133.2h0M449.6 167.7h0M437.5 122.2h0M398.6 148.9h0M434.7 169.6h0M471.3 135.1h0M466.1 156.8h0M448.2 168.8h0M423.0 124.1h0M439.0 166.6h0M408.4 132.9h0M441.8 119.6h0M440.1 120.3h0M411.3 131.3h0M473.2 133.2h0M434.9 169.0h0M469.7 160.2h0M439.2 121.6h0M445.4 168.8h0M408.7 129.3h0M413.4 125.6h0M446.4 120.6h0M450.2 120.2h0M449.3 119.6h0M459.3 162.0h0M458.3 161.9h0M422.2 167.9h0M436.2 122.7h0M466.7 160.5h0M432.8 120.1h0M475.7 152.9h0M437.9 169.6h0M475.8 136.9h0M439.5 119.1h0M463.8 158.1h0M473.8 138.1h0M440.1 119.3h0M465.8 126.2h0M428.1 123.0h0M471.8 146.7h0M401.8 151.8h0M452.7 167.3h0M411.2 126.2h0M401.9 136.0h0M458.7 122.9h0M461.9 127.6h0M445.5 121.4h0M449.6 168.1h0M409.0 133.1h0M429.0 123.3h0M413.6 129.6h0M439.1 120.1h0M442.7 119.9h0M468.4 161.5h0M430.0 167.0h0M439.0 169.4h0M460.6 163.9h0M405.5 132.6h0M464.3 157.8h0M434.8 168.8h0M406.2 155.7h0M400.4 143.1h0M460.2 161.8h0M464.1 125.3h0M455.2 163.6h0M400.7 134.1h0M403.2 134.6h0M437.3 166.9h0M438.8 167.6h0M414.7 124.9h0M413.6 125.9h0M426.9 120.9h0M467.2 155.0h0M437.5 122.1h0M401.2 142.8h0M403.8 134.3h0M416.9 163.4h0M462.4 123.8h0M406.8 136.1h0M453.1 120.8h0M453.6 164.6h0M477.1 140.5h0M437.9 121.9h0M448.3 123.0h0M453.6 164.8h0M451.7 124.1h0M403.1 134.8h0M454.9 164.6h0M464.4 125.5h0M421.6 121.8h0M417.3 126.7h0M453.3 164.5h0M466.8 131.2h0M453.7 164.5h0M416.1 125.0h0M440.2 167.2h0M458.3 162.7h0M460.9 161.0h0M437.2 167.7h0M410.2 132.5h0M435.9 169.8h0M423.5 121.8h0M414.7 127.7h0M444.8 166.8h0M463.5 159.2h0M452.3 164.7h0M422.6 125.1h0M403.6 135.4h0M457.2 163.5h0M432.9 168.8h0M467.4 159.0h0M424.3 124.4h0M403.2 136.2h0M463.1 162.3h0M466.9 160.4h0M407.7 134.9h0M406.6 130.0h0M402.1 137.7h0M436.6 121.5h0M401.5 144.6h0M430.8 169.0h0M453.3 165.1h0M428.2 120.7h0M451.4 167.4h0M406.0 159.3h0M439.5 169.1h0M470.1 133.4h0M461.7 124.0h0M447.4 119.6h0M469.9 151.8h0M402.1 148.2h0M436.5 167.7h0M462.7 124.2h0M425.1 123.5h0M403.5 135.9h0M470.9 142.6h0M412.2 163.0h0M440.6 122.2h0M430.8 166.9h0M411.8 126.4h0M431.3 119.8h0M425.6 167.8h0M407.4 129.9h0M423.3 122.4h0M453.5 164.2h0M415.6 125.6h0M413.9 126.0h0M458.3 165.9h0M465.8 157.4h0M469.7 150.5h0M425.4 123.2h0M409.5 128.9h0M454.3 166.6h0M455.3 163.4h0M454.7 164.1h0M472.0 148.0h0M458.8 161.5h0M409.7 129.0h0M471.9 153.4h0M420.7 125.3h0M419.7 126.2h0M466.1 126.1h0M472.6 153.8h0M414.3 125.5h0" stroke="#9fd668" stroke-width="1.1" stroke-linecap="round" fill="none" stroke-opacity="0.9"/>
<path d="M431.9 117.4h0M453.4 120.1h0M428.6 117.8h0M447.0 117.1h0M403.1 130.3h0M450.2 170.6h0M435.8 171.9h0M423.7 170.8h0M414.8 122.5h0M465.3 164.6h0M412.4 123.4h0M432.2 116.8h0M437.3 172.0h0M474.2 162.1h0M434.2 117.1h0M422.1 119.8h0M398.0 137.7h0M427.4 118.1h0M466.2 163.4h0M457.8 170.8h0M447.9 170.6h0M436.3 116.5h0M426.3 118.5h0M448.9 170.9h0M433.0 171.7h0M452.8 118.8h0M461.0 166.5h0M460.0 167.6h0M440.4 171.9h0M428.1 118.1h0M440.9 116.9h0M398.5 132.9h0M427.8 117.8h0M457.5 167.5h0M435.7 171.2h0M480.8 136.5h0M460.6 166.4h0M397.3 145.0h0M401.8 160.2h0M422.1 119.2h0M452.9 169.7h0M413.8 122.1h0M416.4 121.4h0M398.1 149.7h0M399.7 135.4h0M428.6 118.4h0M434.6 171.6h0M417.6 121.0h0M423.6 118.7h0M437.0 117.6h0M429.1 117.6h0M395.6 139.3h0M441.6 171.8h0M429.4 171.8h0M403.8 129.0h0M415.2 168.2h0M466.2 164.0h0M462.3 165.8h0M473.6 158.5h0M452.3 119.2h0M421.4 117.0h0M442.3 117.2h0M403.2 130.3h0M456.1 168.4h0M481.9 140.2h0M420.0 119.5h0M408.5 125.4h0M409.2 125.9h0M429.7 118.0h0M438.7 171.7h0M452.9 170.2h0M416.4 118.8h0M432.3 114.9h0M404.4 163.0h0M395.0 144.1h0M430.2 117.9h0M425.4 118.6h0M452.1 118.8h0M410.7 125.0h0M431.5 117.6h0M449.2 170.7h0M424.1 170.4h0M427.5 170.8h0M454.3 169.3h0M480.0 139.0h0M444.3 117.7h0M472.7 159.4h0M445.6 116.9h0M424.1 118.9h0M456.8 168.4h0M440.0 117.8h0M417.8 121.6h0M410.8 123.7h0M429.9 172.8h0M455.9 169.6h0M448.2 118.2h0M444.5 170.5h0M435.8 172.3h0M427.3 117.6h0M449.7 118.0h0M438.0 118.0h0M449.4 117.6h0M456.8 168.1h0M428.8 118.3h0M471.1 164.1h0M448.6 118.1h0M453.0 169.6h0M436.5 117.5h0M403.4 160.4h0M427.0 172.0h0M418.5 121.3h0M443.3 117.0h0M423.5 119.0h0M474.6 129.3h0M421.1 119.6h0M453.2 169.4h0M472.8 127.5h0M456.1 169.4h0M477.6 150.6h0M419.5 120.1h0M410.4 124.1h0M472.7 127.8h0M446.5 170.9h0M403.5 130.0h0M408.3 123.0h0M440.2 171.2h0M477.7 150.3h0M477.0 153.5h0M439.0 116.8h0M429.2 117.4h0M442.9 172.4h0M397.2 139.1h0M442.7 171.0h0M458.4 120.5h0M478.1 133.9h0M456.0 168.6h0M427.6 171.4h0M467.9 163.2h0M394.2 138.8h0M397.1 140.4h0M413.7 121.8h0M414.2 120.9h0M412.6 122.9h0M400.3 158.3h0M404.7 128.7h0M471.9 159.7h0M414.0 167.4h0M429.0 117.8h0M410.6 120.4h0M448.7 170.9h0M426.3 118.5h0M425.7 118.0h0M431.8 117.6h0M434.9 172.3h0M405.2 128.7h0M481.7 141.5h0M460.3 169.6h0M421.6 119.9h0M427.4 118.0h0M433.1 118.0h0M398.2 139.2h0M478.2 133.0h0M465.5 167.9h0M398.0 139.4h0M396.8 141.5h0M445.2 171.7h0M450.1 170.7h0M415.8 121.2h0M445.6 117.2h0M431.9 171.5h0M416.6 168.8h0M473.8 162.0h0M424.3 170.2h0M404.5 129.4h0M405.7 128.3h0M408.8 125.8h0M398.2 137.6h0M410.4 120.8h0M434.1 117.4h0M446.7 172.3h0M429.3 171.8h0M440.5 171.5h0M400.3 129.8h0M466.4 163.8h0M468.3 162.7h0M417.2 121.2h0M466.4 124.3h0M430.7 117.5h0M420.5 117.0h0M445.8 171.3h0M413.6 122.9h0M446.2 171.4h0M476.4 152.3h0M471.9 158.7h0M407.5 126.0h0M446.7 171.2h0M400.5 128.6h0M405.4 127.2h0M478.2 148.0h0M482.1 146.9h0M463.8 122.0h0M442.3 117.6h0M438.4 116.9h0M475.7 155.5h0M456.6 168.2h0M469.3 161.7h0M468.4 163.1h0M405.4 123.7h0M412.6 122.7h0M432.7 117.8h0M402.5 131.6h0M406.8 124.4h0M446.1 170.3h0M397.5 140.2h0M452.8 118.4h0M450.2 170.3h0M449.2 117.5h0M405.9 127.8h0M413.6 122.2h0M431.2 171.9h0M422.6 119.1h0M460.1 167.5h0M400.6 133.6h0M393.7 142.0h0M412.7 122.9h0M398.1 137.5h0M440.9 172.1h0M466.8 123.6h0M413.8 122.2h0M444.5 117.8h0M466.8 163.3h0M427.3 118.5h0M465.6 123.7h0M453.6 118.5h0M432.5 117.3h0M475.4 129.1h0M457.9 170.6h0M409.7 124.0h0M458.1 168.8h0M463.0 165.2h0M414.5 121.5h0M412.3 122.8h0M398.4 138.4h0M429.2 172.1h0M455.1 169.3h0M436.8 116.3h0M428.2 118.7h0M415.5 168.2h0M430.9 118.5h0M446.4 117.3h0M446.5 170.6h0M421.1 119.6h0M393.2 146.1h0M435.5 171.9h0M413.9 122.8h0M472.1 159.0h0M460.8 166.6h0M456.3 168.3h0M467.8 162.9h0M415.9 168.0h0M418.5 120.1h0M450.4 118.1h0M460.4 120.1h0M453.0 118.0h0M476.8 135.9h0M427.7 115.1h0M433.4 117.1h0M411.1 120.5h0M468.7 161.8h0M448.0 171.1h0M432.9 171.7h0M473.0 158.8h0M433.8 172.1h0M425.7 170.9h0M452.4 169.6h0M447.1 171.0h0M455.1 168.7h0M421.1 119.7h0M404.7 127.5h0M441.8 171.0h0M401.5 128.0h0M442.6 172.2h0M478.0 157.5h0M475.7 154.7h0M415.6 167.9h0M460.2 120.4h0M455.7 168.6h0M427.1 117.8h0M421.4 119.5h0M412.1 123.4h0M428.3 118.6h0M457.4 119.6h0M404.9 123.9h0M463.3 169.0h0M453.2 118.5h0M430.3 172.1h0M434.1 171.5h0M414.3 121.9h0M448.4 170.5h0M409.7 165.3h0M432.1 117.8h0M448.8 170.5h0M397.4 140.9h0M446.8 171.1h0M443.6 171.6h0M395.0 141.9h0M453.5 169.2h0M430.6 117.1h0M458.1 120.3h0M424.0 118.8h0M449.7 170.9h0M439.8 172.6h0M454.0 169.9h0M443.6 117.2h0M410.6 122.3h0M433.3 117.3h0M450.6 118.2h0M404.5 128.3h0M417.1 121.3h0M441.4 174.3h0M437.7 116.8h0M445.2 171.0h0M400.4 160.8h0M454.5 118.5h0M428.3 118.3h0M433.9 116.5h0M464.2 164.6h0M458.4 121.0h0M451.5 169.7h0M399.9 133.8h0M456.0 119.3h0M450.5 170.9h0M408.6 121.3h0M448.0 170.5h0M413.2 122.8h0M474.3 130.4h0M427.2 117.7h0M421.2 120.2h0M477.9 150.7h0M456.6 119.6h0M421.0 169.8h0M448.0 171.3h0M448.3 171.0h0M399.6 129.7h0M419.6 120.6h0M438.9 171.3h0M479.4 149.8h0M439.0 171.7h0M439.4 171.6h0M481.1 140.8h0M429.5 171.4h0M430.7 170.9h0M452.1 118.1h0M436.9 171.8h0M449.1 170.8h0M406.2 164.1h0M421.2 118.9h0M432.2 117.9h0M472.6 159.4h0M393.6 143.6h0M460.7 120.7h0M445.4 171.7h0M410.9 124.4h0M408.5 124.4h0M459.4 167.8h0" stroke="#b0d470" stroke-width="1.1" stroke-linecap="round" fill="none" stroke-opacity="0.9"/>
<path d="M389.3 118.8h0M475.7 104.0h0M465.2 112.4h0M397.4 162.2h0M357.8 134.2h0M503.7 118.1h0M399.9 118.7h0M511.2 119.9h0M345.3 163.6h0M363.3 163.8h0M456.2 166.2h0M435.2 93.9h0M380.4 181.9h0M462.6 190.7h0M485.0 201.1h0M422.7 113.5h0M414.1 187.0h0M358.0 159.0h0M340.4 143.9h0M456.8 131.7h0M430.0 199.0h0M399.6 193.9h0M400.6 155.0h0M363.4 102.1h0M518.5 167.1h0M451.2 205.2h0M411.1 144.9h0M398.2 183.7h0M355.2 180.6h0M463.6 170.2h0M498.1 87.4h0M512.1 100.1h0M421.8 181.4h0M507.5 106.0h0M349.6 130.7h0M409.5 170.5h0M409.0 134.6h0M355.7 144.0h0M372.2 172.7h0M532.8 141.5h0M434.5 193.9h0M392.7 126.4h0M438.7 162.4h0M499.2 197.8h0M449.0 171.0h0M411.3 189.8h0M398.8 167.5h0M502.3 110.6h0M369.0 119.0h0M508.9 103.1h0M390.8 178.5h0M360.5 116.5h0M405.1 184.1h0M472.7 176.9h0M385.5 190.6h0M408.0 79.0h0M455.9 168.3h0M468.5 184.8h0M511.4 126.0h0M413.5 209.0h0M416.2 183.6h0M431.0 102.0h0M366.7 155.3h0M370.8 130.5h0M472.4 103.9h0M438.3 183.2h0M406.3 103.4h0M390.8 135.9h0M509.6 107.9h0M426.9 110.3h0M515.8 106.4h0M398.7 153.8h0M393.7 191.3h0M507.0 116.1h0M484.8 114.1h0M423.6 109.2h0M455.1 95.2h0M441.5 174.5h0M462.7 159.8h0M452.3 166.3h0M375.6 119.9h0M485.5 89.7h0M452.8 103.9h0M349.0 151.1h0M501.9 127.8h0M372.2 132.2h0M370.5 187.8h0M461.4 115.7h0M407.1 100.8h0M470.8 117.1h0M387.7 174.1h0M490.8 187.3h0M452.8 103.6h0M454.5 165.9h0M362.5 152.5h0M417.7 143.0h0M525.4 120.4h0M403.3 83.6h0M495.7 150.0h0M454.4 180.4h0M462.3 80.6h0M361.2 99.7h0M492.6 147.5h0M366.3 107.0h0M470.6 163.1h0M389.2 166.9h0M514.9 132.3h0M390.8 100.4h0M498.4 166.3h0M457.4 164.5h0M444.6 207.6h0M348.7 145.5h0M489.7 159.4h0M515.0 119.2h0M369.5 173.3h0M416.9 201.4h0M441.9 169.5h0M392.6 131.5h0M481.0 127.1h0M363.2 119.2h0M498.6 143.8h0M400.8 162.9h0M425.7 188.7h0M356.0 155.6h0M430.8 201.5h0M501.0 109.5h0M349.4 126.8h0M400.0 120.7h0M411.8 210.0h0M433.3 115.7h0M534.8 137.1h0M377.7 186.5h0M399.0 192.6h0M445.1 96.9h0M524.6 158.0h0M410.3 146.2h0M480.1 97.1h0M515.1 184.1h0M408.3 88.3h0M350.1 179.1h0M355.5 106.4h0M474.6 153.2h0M438.4 117.1h0M535.0 139.0h0M347.3 154.6h0M374.7 190.0h0M486.6 98.9h0M424.7 189.2h0M415.1 195.3h0M365.1 104.8h0M519.7 146.0h0M480.1 99.5h0M356.8 155.6h0M392.3 200.6h0M416.6 92.9h0M358.8 144.2h0M392.6 172.4h0M397.9 114.1h0M496.3 93.7h0M388.7 204.5h0M454.9 116.8h0M345.5 134.6h0M511.3 153.2h0M436.1 92.2h0M409.7 114.9h0M417.3 108.8h0M489.2 119.3h0M505.3 175.7h0M341.5 126.4h0M425.5 88.2h0M472.8 113.5h0M371.9 170.5h0M397.3 189.1h0M386.9 115.6h0M426.1 178.0h0M525.3 157.5h0M524.4 106.1h0M467.9 87.4h0M508.1 112.6h0M423.2 78.4h0M383.9 122.0h0M452.6 189.7h0M514.6 162.6h0M505.5 129.7h0M444.6 79.7h0M496.6 114.8h0M413.8 106.7h0M505.7 109.4h0M442.2 204.4h0M377.9 188.3h0M417.9 144.0h0M408.8 147.5h0M422.3 188.4h0M490.0 100.5h0M515.6 162.8h0M412.0 85.3h0M413.2 107.0h0M513.8 126.2h0M468.1 174.9h0M521.7 127.3h0M426.7 164.3h0M365.5 98.3h0M436.0 97.0h0M356.4 154.4h0M530.0 157.8h0M429.8 190.6h0M439.5 167.4h0M400.5 157.5h0M468.7 106.1h0M490.3 200.4h0M484.1 125.2h0M429.4 119.2h0M455.3 89.4h0M482.9 92.5h0M408.2 124.4h0M464.6 170.1h0M497.4 155.2h0M398.7 206.2h0M446.8 174.2h0M353.6 142.1h0M481.2 199.8h0M512.1 162.2h0M487.8 182.9h0M403.2 177.6h0M464.2 170.2h0M382.1 145.3h0M374.6 177.0h0M360.6 184.1h0M502.7 129.9h0M389.1 177.1h0M462.0 94.5h0M488.4 101.9h0M519.2 111.0h0M461.3 100.7h0M352.7 155.7h0M474.7 114.9h0M380.6 170.8h0M415.7 130.0h0M484.9 87.4h0M418.7 195.2h0M412.3 125.4h0M453.5 89.7h0M504.5 191.4h0M364.8 153.9h0M383.8 199.2h0M372.6 161.1h0M376.8 174.5h0M510.6 136.6h0M469.0 97.7h0M440.6 83.5h0M449.1 88.6h0M516.3 164.7h0M422.7 188.4h0M462.6 100.7h0M529.6 144.7h0M449.6 177.4h0M441.8 178.8h0M439.7 117.2h0M415.0 190.1h0M422.9 130.2h0M485.1 150.6h0M433.1 192.2h0M485.2 187.7h0M359.0 121.1h0M483.3 116.4h0M342.3 131.8h0M468.2 173.3h0M497.3 194.7h0M505.2 117.5h0M451.9 93.9h0M438.3 117.4h0M446.0 103.4h0M436.6 178.9h0M422.6 152.9h0M399.7 176.3h0M378.3 164.4h0M397.7 203.9h0M456.3 90.7h0M504.1 97.9h0M390.8 196.4h0M503.8 108.4h0M513.1 175.8h0M472.2 169.1h0M471.4 130.1h0M468.8 153.9h0M522.2 156.1h0M459.7 109.7h0M421.3 186.4h0M527.7 126.9h0M439.7 113.7h0M402.2 79.3h0M476.5 145.7h0M351.5 161.9h0M503.2 193.3h0M435.4 122.5h0M502.9 109.0h0M454.8 113.8h0M384.4 180.6h0M465.5 170.7h0M396.8 179.9h0M393.3 183.2h0M421.4 125.2h0M349.9 137.4h0M529.5 162.8h0M486.7 178.4h0M356.2 168.4h0M406.3 123.9h0M398.3 198.2h0M370.2 134.2h0M446.4 208.2h0M434.5 186.0h0M512.8 167.5h0M474.9 111.9h0M497.1 135.6h0M455.1 104.7h0M461.3 163.5h0M456.2 187.4h0M504.2 162.6h0M501.6 109.1h0M487.1 112.5h0M395.3 101.4h0M387.8 168.4h0M495.1 119.3h0M397.6 90.6h0M441.0 82.5h0M399.5 149.4h0M510.7 156.3h0M386.8 173.4h0M387.9 174.0h0M518.3 152.4h0M386.2 137.3h0M422.9 212.6h0M518.9 125.3h0M445.6 101.0h0M335.5 137.9h0M354.6 175.9h0M353.4 171.5h0M496.6 197.7h0M392.7 171.1h0M495.9 197.9h0M383.6 164.3h0M341.2 170.7h0M474.3 177.9h0M399.8 141.7h0M467.3 166.8h0M487.6 158.9h0M450.7 198.3h0M476.1 85.8h0M344.2 140.8h0M435.0 105.3h0M456.8 165.8h0M504.6 150.8h0M473.9 162.3h0M441.9 188.2h0M496.8 168.7h0M375.8 165.4h0M373.2 136.8h0M483.4 156.7h0M368.9 155.7h0M378.5 165.3h0M347.3 139.4h0M458.3 89.3h0M455.3 88.2h0M355.1 167.9h0M350.5 154.2h0M456.5 136.6h0M396.8 208.1h0M359.1 115.8h0M517.9 168.6h0M479.4 115.0h0M510.1 112.1h0M377.4 155.2h0M422.8 110.1h0M438.2 183.1h0M367.3 170.8h0M495.4 129.7h0M355.3 152.2h0M440.2 103.1h0M392.5 138.3h0M360.3 138.5h0M524.2 155.3h0M493.4 103.9h0M365.8 106.2h0M409.3 183.0h0M380.3 173.1h0M386.0 192.6h0M521.3 110.5h0M486.5 186.1h0M405.9 196.0h0M446.3 167.9h0M400.9 146.2h0M342.1 151.3h0M507.1 108.7h0M407.3 173.5h0M455.6 131.2h0M380.9 191.0h0M384.8 197.2h0M365.5 160.7h0M479.7 201.5h0M472.2 144.6h0M474.2 100.6h0M367.4 172.8h0M405.8 111.0h0M469.3 103.3h0M428.2 163.7h0M404.3 108.7h0M363.3 171.4h0M513.3 100.2h0M340.0 152.6h0M362.2 100.4h0M458.1 155.2h0M370.6 107.1h0M419.0 108.7h0M343.0 121.5h0M421.8 94.8h0M418.3 169.4h0M508.1 107.4h0M368.0 168.0h0M390.0 188.0h0M428.3 185.0h0M398.4 181.5h0M496.8 124.5h0M431.3 97.3h0M335.5 150.9h0M449.4 111.7h0M396.1 172.6h0M513.7 185.9h0M411.7 140.5h0M533.2 135.8h0M457.1 134.5h0M341.8 151.9h0M503.9 96.2h0M496.7 164.9h0M362.5 169.7h0M353.8 122.0h0M392.5 201.4h0M376.3 155.7h0M412.4 107.8h0M439.9 179.3h0M451.9 160.3h0M465.8 182.8h0M518.8 111.0h0M419.8 115.4h0M376.8 150.1h0M362.9 183.4h0M402.6 80.3h0M394.9 201.2h0M451.7 198.1h0M440.5 95.8h0M451.1 181.4h0M396.4 96.6h0M450.8 122.3h0M389.6 134.0h0M463.6 106.2h0M375.5 173.5h0M380.7 131.2h0M370.5 188.4h0M506.4 105.8h0M400.9 180.3h0M381.0 161.8h0M391.3 89.7h0M489.7 117.4h0M496.9 109.3h0M525.0 150.9h0M494.5 178.7h0M342.8 139.9h0M520.2 164.2h0M469.6 103.4h0M399.1 208.7h0M443.7 86.1h0M494.1 97.2h0M385.5 84.0h0M415.7 174.7h0M380.7 147.4h0M340.7 137.2h0M448.3 164.9h0M415.9 112.9h0M403.3 184.4h0M492.7 116.8h0M456.2 150.4h0M523.8 138.3h0M395.4 104.6h0M374.1 147.5h0M445.1 103.4h0M389.9 137.2h0M495.2 165.0h0M484.8 151.0h0M410.4 149.9h0M417.5 192.4h0M380.6 126.5h0M435.1 91.4h0M378.7 165.6h0M479.0 83.8h0M382.3 111.6h0M370.2 152.4h0M511.4 133.0h0M363.5 136.6h0M355.4 188.1h0M359.7 172.2h0M465.6 139.3h0M355.6 107.3h0M394.7 119.8h0M524.4 143.8h0M477.1 164.1h0M474.9 116.8h0M479.9 169.7h0M444.4 127.7h0M391.1 178.5h0M399.4 101.7h0M462.6 178.1h0M459.0 207.2h0M346.8 162.4h0M372.6 107.3h0M447.6 101.3h0M438.3 97.5h0M425.9 196.5h0M522.6 133.3h0M508.0 128.3h0M424.7 114.3h0M429.1 83.5h0M458.6 89.9h0M374.3 137.0h0M513.2 183.3h0M491.0 131.4h0M403.9 100.0h0M491.7 189.8h0M380.1 167.8h0M432.7 191.5h0M382.9 182.4h0M406.3 194.6h0M385.5 165.4h0M377.9 139.6h0M396.7 103.8h0M358.1 187.7h0M405.8 114.5h0M366.4 179.7h0M479.5 204.4h0M447.8 82.9h0M405.3 112.3h0M487.8 92.8h0M401.6 189.9h0M393.1 102.5h0M512.9 104.2h0M433.6 124.9h0M436.2 84.8h0M455.8 80.6h0M481.1 82.7h0M462.8 166.5h0M449.3 88.2h0M473.3 157.6h0M390.3 123.9h0M535.7 134.6h0M465.1 82.9h0M477.8 153.8h0M423.6 118.1h0M400.7 182.7h0M513.7 143.9h0M424.8 108.4h0M461.8 90.8h0M350.2 152.0h0M409.7 210.8h0M404.6 110.9h0M421.6 174.4h0M415.9 175.2h0M493.8 173.0h0M379.1 101.3h0M354.8 178.7h0M445.2 168.9h0M452.4 164.7h0M405.3 211.6h0M425.1 98.3h0M487.4 152.0h0M425.4 167.9h0M341.4 126.6h0M468.3 118.5h0M476.6 141.6h0M422.3 99.5h0M394.6 183.9h0M532.4 137.6h0M500.8 111.4h0M456.4 207.0h0M403.9 119.4h0M483.9 110.2h0M358.7 135.9h0M422.5 166.8h0M477.8 109.2h0M441.2 83.5h0M423.2 74.3h0M462.2 111.8h0M469.9 161.8h0M370.7 166.1h0M476.9 95.4h0M369.9 167.3h0M426.8 113.0h0M388.2 90.4h0M377.1 131.8h0M531.9 153.2h0M395.5 174.9h0M515.2 132.7h0M407.8 96.1h0M530.3 161.2h0M353.8 119.5h0M386.4 119.7h0M349.7 145.9h0M494.9 107.3h0M502.0 179.1h0M526.4 166.5h0M406.0 116.4h0M531.0 118.1h0M382.5 175.2h0M343.6 123.5h0M491.8 173.6h0M456.2 97.5h0M377.4 175.8h0M465.4 158.2h0M514.5 123.1h0M459.0 89.5h0M507.5 120.8h0M386.6 175.0h0M370.3 156.0h0M354.8 117.7h0M446.4 207.9h0M506.9 181.3h0M446.8 86.6h0M454.5 153.7h0M356.4 116.2h0M399.1 114.7h0M517.3 168.1h0M342.6 159.2h0M437.2 101.6h0M353.1 118.3h0M430.0 97.9h0M436.7 97.3h0" stroke="#c0c46c" stroke-width="1.2" stroke-linecap="round" fill="none" stroke-opacity="0.9"/>
<path d="M524.3 136.9h0M339.6 138.3h0M438.7 179.9h0M500.9 120.1h0M421.3 187.5h0M531.7 143.3h0M429.2 186.9h0M497.2 129.0h0M504.8 127.2h0M493.9 97.8h0M403.3 172.5h0M400.4 156.3h0M460.1 93.9h0M438.8 204.0h0M438.2 166.7h0M406.6 153.1h0M399.4 126.0h0M437.3 173.9h0M477.1 181.5h0M418.6 106.6h0M450.7 175.7h0M429.3 93.5h0M393.6 85.4h0M488.1 169.4h0M518.3 171.8h0M411.9 170.5h0M441.2 101.6h0M351.6 163.6h0M398.0 123.6h0M411.3 150.4h0M341.6 149.6h0M415.7 202.7h0M483.6 186.3h0M364.2 175.2h0M518.6 149.3h0M413.6 191.5h0M523.1 117.8h0M417.3 151.0h0M460.7 136.7h0M534.6 151.3h0M398.7 202.7h0M487.3 130.8h0M357.3 184.1h0M438.2 106.8h0M509.0 97.2h0M500.9 118.4h0M480.0 193.5h0M428.9 197.5h0M377.4 151.1h0M422.3 190.0h0M420.4 193.9h0M417.1 90.7h0M345.0 121.2h0M368.5 174.9h0M412.2 135.3h0M388.8 112.3h0M509.9 124.8h0M449.8 177.5h0M356.3 139.5h0M400.4 194.5h0M525.0 141.5h0M389.8 179.0h0M372.1 100.0h0M382.2 169.5h0M400.5 170.6h0M436.5 159.9h0M372.7 123.6h0M427.0 203.0h0M518.3 121.7h0M527.4 169.8h0M455.5 148.7h0M394.2 190.1h0M524.8 155.2h0M434.7 168.1h0M504.8 123.0h0M482.9 137.8h0M339.8 152.6h0M445.3 189.0h0M365.5 183.4h0M509.0 178.8h0M515.3 114.4h0M347.5 168.0h0M407.0 115.0h0M514.7 177.9h0M447.4 74.9h0M358.2 156.4h0M459.4 108.4h0M487.0 112.4h0M384.8 193.2h0M454.2 162.3h0M419.2 207.6h0M469.3 81.7h0M504.4 137.3h0M482.5 84.5h0M483.2 119.5h0M479.3 173.5h0M357.3 147.9h0M481.9 166.5h0M447.5 107.0h0M357.0 164.2h0M352.9 146.2h0M511.0 136.1h0M418.9 192.6h0M419.2 100.7h0M453.6 153.4h0M494.0 108.9h0M510.4 180.2h0M531.7 128.2h0M491.7 116.1h0M346.3 159.4h0M420.1 192.2h0M457.8 144.0h0M406.5 156.4h0M424.9 179.7h0M532.4 144.2h0M468.7 186.6h0M501.9 108.7h0M508.9 181.4h0M514.0 118.6h0M445.8 122.6h0M519.8 127.3h0M530.1 133.8h0M422.6 104.0h0M361.3 141.0h0M397.9 134.4h0M380.4 177.0h0M476.7 125.4h0M414.7 132.3h0M509.5 131.3h0M349.9 153.0h0M399.9 121.6h0M505.5 166.0h0M432.4 81.1h0M401.6 85.1h0M342.6 129.6h0M423.8 183.8h0M410.6 199.7h0M529.9 128.3h0M431.0 117.3h0M448.6 101.4h0M473.3 178.7h0M470.7 99.6h0M424.9 107.5h0M416.1 183.1h0M459.4 109.0h0M414.6 126.9h0M462.2 143.4h0M353.3 161.7h0M355.1 150.3h0M427.7 158.1h0M453.6 83.7h0M349.3 135.5h0M414.6 130.4h0M467.5 139.5h0M384.9 187.7h0M452.2 175.1h0M409.7 142.5h0M456.2 114.8h0M523.8 136.4h0M352.6 163.9h0M511.6 102.0h0M362.0 171.1h0M470.9 166.3h0M428.8 97.9h0M494.8 121.0h0M373.6 168.3h0M509.5 179.0h0M366.3 138.8h0M448.6 182.7h0M410.8 120.6h0M346.8 166.9h0M459.4 144.1h0M500.4 165.1h0M363.2 172.8h0M450.5 183.2h0M478.2 178.9h0M390.8 185.5h0M379.5 177.4h0M511.8 134.4h0M453.9 166.0h0M404.7 144.4h0M517.1 182.8h0M502.7 97.3h0M490.2 116.4h0M500.6 101.3h0M513.5 112.3h0M409.2 115.4h0M364.3 169.1h0M401.4 173.0h0M459.4 128.1h0M413.9 187.6h0M393.6 157.2h0M378.2 135.9h0M413.0 132.9h0M531.3 147.8h0M464.8 185.1h0M528.8 153.1h0M444.6 165.1h0M425.3 208.8h0M490.9 137.5h0M442.0 113.8h0M347.7 133.9h0M417.8 178.3h0M527.3 160.6h0M525.8 146.7h0M495.1 158.2h0M456.9 86.2h0M429.3 207.6h0M473.4 93.7h0M536.3 147.8h0M413.7 125.8h0M466.9 101.4h0M345.9 135.7h0M474.7 100.8h0M387.9 194.5h0M444.6 103.0h0M436.0 119.1h0M450.3 181.0h0M361.4 185.6h0M418.9 204.0h0M502.1 119.2h0M383.3 185.9h0M400.0 153.9h0M407.2 122.2h0M528.3 147.0h0M420.6 163.0h0M414.9 85.2h0M462.6 147.3h0M459.3 146.5h0M474.5 151.0h0M532.6 150.3h0M387.8 189.2h0M371.6 131.2h0M401.4 177.5h0M479.0 118.9h0M403.7 190.2h0M396.2 148.3h0M401.5 170.5h0M372.2 176.6h0M451.5 196.7h0M363.2 166.3h0M463.2 166.9h0M530.1 164.4h0M518.6 140.2h0M468.0 109.0h0M405.8 183.4h0M507.0 99.5h0M387.0 114.4h0M402.6 199.0h0M522.1 162.2h0M503.8 193.3h0M471.7 109.6h0M482.1 111.0h0M462.7 80.2h0M464.3 140.1h0M491.0 162.2h0M479.8 194.5h0M400.8 170.9h0M440.3 195.8h0M372.8 112.5h0M491.1 181.1h0M491.5 182.0h0M340.0 134.9h0M490.8 107.4h0M394.8 100.2h0M503.3 125.4h0M520.0 125.8h0M408.6 118.5h0M386.9 174.9h0M349.0 134.8h0M478.7 127.8h0M459.2 181.1h0M454.1 151.6h0M418.7 117.0h0M469.3 118.2h0M356.9 178.8h0M488.0 160.2h0M503.7 192.1h0M471.6 186.6h0M391.8 99.0h0M516.9 117.7h0M504.2 153.7h0M415.2 111.0h0M365.3 172.2h0M498.6 153.5h0M518.6 165.2h0M363.0 153.1h0M383.7 121.1h0M479.0 177.1h0M408.1 134.2h0M436.1 97.9h0M477.8 167.3h0M497.4 170.6h0M444.9 78.8h0M412.6 124.2h0M351.2 163.1h0M349.9 133.5h0M518.5 101.1h0M482.4 133.8h0M399.2 143.2h0M417.1 212.6h0M445.0 175.8h0M380.5 85.8h0M525.9 153.4h0M518.1 151.3h0M476.2 93.5h0M363.5 189.9h0M513.6 112.6h0M466.5 133.4h0M453.7 153.3h0M371.1 115.1h0M472.9 167.3h0M427.1 179.6h0M504.8 154.6h0M371.3 98.6h0M418.8 96.4h0M433.4 174.3h0M470.8 115.9h0M344.5 124.7h0M437.5 97.0h0M449.9 135.0h0M401.6 192.7h0M442.5 101.1h0M493.4 136.2h0M424.1 119.6h0M413.3 182.3h0M475.6 133.4h0M371.6 128.8h0M493.8 121.5h0M399.1 118.3h0M533.5 152.8h0M378.5 88.4h0M364.5 107.9h0M521.3 136.2h0M479.4 84.6h0M469.2 138.5h0M459.3 111.2h0M524.4 159.1h0M428.2 179.1h0M345.4 142.0h0M370.7 189.8h0M476.3 106.6h0M416.6 127.4h0M442.6 92.2h0M513.2 128.4h0M445.8 164.2h0M381.3 113.1h0M357.5 147.5h0M490.9 181.4h0M421.6 130.2h0M391.2 176.0h0M475.1 146.6h0M447.5 83.5h0M362.2 162.2h0M354.9 165.1h0M352.6 170.0h0M516.4 169.1h0M344.9 120.5h0M530.6 152.6h0M508.1 169.2h0M412.9 102.5h0M437.0 110.9h0M450.4 167.1h0M472.3 117.1h0M497.8 174.0h0M433.7 172.9h0M508.3 123.0h0M455.2 160.8h0M420.3 127.5h0M457.6 115.5h0M458.0 110.5h0M405.2 183.3h0M378.9 175.0h0M384.0 91.6h0M391.4 189.4h0M444.1 178.2h0M521.3 106.4h0M483.4 86.1h0M421.7 165.0h0M484.0 143.4h0M411.8 176.0h0M362.0 140.6h0M470.2 171.2h0M358.3 150.2h0M469.9 149.9h0M512.6 187.8h0M430.9 179.3h0M466.8 152.8h0M410.3 102.3h0M459.7 181.0h0M445.6 90.4h0M460.4 173.2h0M451.9 79.4h0M375.1 102.7h0M521.0 118.8h0M515.5 156.3h0M440.1 176.6h0M521.8 176.9h0M339.8 145.8h0M437.8 170.0h0M371.1 173.8h0M387.0 155.5h0M472.2 204.0h0M371.5 184.2h0M525.1 159.0h0M524.8 136.6h0M370.1 170.2h0M532.3 158.9h0M342.0 136.1h0M388.0 161.4h0M487.9 203.1h0M352.4 126.3h0M479.1 100.5h0M480.7 99.4h0M395.0 184.6h0M493.8 87.1h0M377.7 172.0h0M433.5 118.1h0M385.7 186.6h0M438.8 100.7h0M426.9 83.9h0M533.3 150.6h0M397.9 197.8h0M344.9 126.0h0M497.4 139.0h0M392.6 172.1h0M424.6 178.5h0M430.2 189.0h0M513.4 188.3h0M390.8 121.6h0M487.1 82.0h0M426.6 124.2h0M439.7 196.6h0M468.1 146.2h0M503.8 106.1h0M440.6 82.6h0M487.7 164.5h0M530.4 128.5h0M488.1 167.2h0M407.5 179.3h0M369.5 182.1h0M362.4 111.3h0M420.2 113.8h0M362.1 148.5h0M411.2 162.9h0M397.5 149.9h0M505.9 103.2h0M532.6 136.2h0M406.3 184.3h0M493.5 135.2h0M425.7 104.6h0M393.4 197.4h0M433.9 174.7h0M437.2 184.6h0M431.7 118.9h0M534.2 146.4h0M428.5 178.7h0M472.6 161.2h0M353.7 121.0h0M443.3 92.8h0M414.6 170.8h0M397.2 193.1h0M403.9 94.9h0M367.3 124.7h0M457.5 158.6h0M431.0 193.9h0M392.8 177.9h0M528.9 158.3h0M511.6 139.9h0M364.4 97.4h0M417.9 121.3h0M419.5 174.4h0M471.8 174.6h0M490.0 121.0h0M448.8 74.9h0M346.4 138.7h0M407.7 82.5h0M485.9 128.2h0M507.8 185.5h0M371.5 108.4h0M342.7 135.8h0M435.2 170.6h0M351.3 117.4h0M435.1 111.1h0M401.0 107.4h0M405.0 110.7h0M483.1 148.6h0M398.3 108.8h0M371.8 107.6h0M442.9 73.8h0M530.1 142.1h0M471.5 175.2h0M401.5 97.0h0M444.8 108.4h0M460.7 147.0h0M438.9 174.1h0M529.6 132.7h0M493.9 128.6h0M354.4 162.4h0M479.1 189.9h0M465.6 102.2h0M342.2 141.5h0M468.2 157.8h0M470.7 142.4h0M463.6 94.8h0M494.5 131.7h0M439.3 90.7h0M415.1 150.2h0M429.8 190.5h0M509.0 103.6h0M387.8 173.8h0M496.4 119.9h0M345.8 150.8h0M424.6 121.7h0M517.7 110.4h0M385.0 178.1h0M375.1 186.3h0M494.3 129.9h0M495.1 120.8h0M483.4 152.3h0M421.6 116.6h0M411.5 133.9h0M490.2 84.2h0M452.6 177.6h0M377.7 188.5h0M532.1 161.3h0M343.6 168.0h0M481.8 92.4h0M523.0 127.5h0M477.1 109.2h0M470.5 149.9h0M410.4 140.5h0M348.6 115.8h0M477.0 163.7h0M486.0 83.3h0M518.3 147.0h0M517.8 172.1h0M500.5 116.5h0M488.5 131.6h0M449.2 107.9h0M377.8 174.5h0M427.5 159.3h0M489.7 183.7h0M498.7 147.1h0M385.1 179.6h0M525.1 161.6h0M395.6 166.1h0M441.1 179.0h0M369.5 127.2h0M396.0 191.7h0M497.5 100.4h0M530.9 132.5h0M458.7 120.3h0M473.3 145.6h0M357.1 158.5h0M436.6 122.5h0M380.0 196.4h0M444.8 116.9h0M503.6 166.3h0M425.8 125.2h0M472.3 92.9h0M478.2 146.4h0M453.2 194.4h0M488.1 94.1h0M510.7 180.6h0M494.0 173.8h0M450.5 169.8h0M393.1 91.7h0M384.0 151.5h0M368.8 110.2h0M401.0 127.8h0M526.0 143.4h0M444.5 97.6h0M466.1 111.3h0M392.8 90.6h0M471.1 111.5h0M521.2 99.7h0M386.7 153.3h0M481.7 152.9h0M415.5 122.7h0M411.5 196.3h0M354.1 165.8h0M479.8 171.2h0M392.5 158.3h0M392.1 189.1h0M423.4 167.8h0M492.1 103.3h0M350.3 123.1h0M381.6 195.8h0M357.5 154.8h0M464.0 116.7h0M407.3 174.0h0M487.7 162.9h0M506.3 176.5h0M363.6 174.6h0M487.8 140.9h0M414.5 204.0h0M496.9 124.9h0M403.3 141.9h0M386.0 99.1h0M394.8 185.8h0M383.4 150.6h0M497.9 177.5h0M368.8 140.1h0M409.9 209.2h0M430.0 173.9h0M390.7 94.5h0M449.3 103.7h0M363.0 148.8h0M348.2 123.7h0M431.2 109.0h0M383.5 166.5h0M442.7 95.3h0M409.3 81.3h0M348.2 136.4h0M485.2 141.7h0M357.9 146.1h0M497.9 97.9h0M395.5 150.9h0M462.0 161.4h0M456.9 122.0h0M400.7 128.5h0M436.5 103.2h0M517.0 120.6h0M453.9 105.9h0M470.5 81.6h0M514.6 183.9h0M406.5 138.4h0M429.9 113.6h0M462.7 133.3h0M419.7 86.8h0M448.9 156.2h0M456.5 110.3h0M351.7 123.1h0M450.9 85.2h0M463.1 139.3h0M428.8 189.0h0M397.9 197.8h0M388.0 123.2h0M411.2 192.0h0M450.2 114.6h0M520.2 167.7h0M408.6 114.5h0M478.0 169.6h0M501.5 169.4h0M383.1 147.7h0M519.4 164.5h0M463.5 202.1h0M523.7 171.4h0M364.3 105.2h0M377.9 128.8h0M373.3 125.3h0M486.7 163.6h0M425.9 165.7h0M439.6 173.9h0M489.1 95.0h0M477.0 173.3h0M455.7 79.5h0M465.5 132.8h0M492.0 161.4h0M415.6 137.1h0M443.8 164.7h0M486.0 142.2h0" stroke="#c4c874" stroke-width="1.2" stroke-linecap="round" fill="none" stroke-opacity="0.9"/>
<path d="M420.0 111.4h0M366.8 103.5h0M473.3 194.3h0M467.1 176.7h0M374.9 169.4h0M483.8 196.9h0M408.0 87.1h0M466.3 117.9h0M481.0 120.4h0M474.1 155.8h0M524.8 144.0h0M485.6 164.1h0M410.5 162.1h0M408.2 97.2h0M499.2 150.9h0M414.9 135.6h0M354.0 175.9h0M449.8 87.1h0M452.0 84.0h0M458.6 89.0h0M435.9 98.5h0M509.7 159.4h0M432.5 122.0h0M413.8 203.6h0M506.7 96.7h0M430.4 107.1h0M391.3 161.0h0M441.8 126.8h0M463.1 104.1h0M514.3 123.0h0M499.1 152.4h0M494.6 96.6h0M483.0 130.5h0M352.3 162.0h0M386.8 107.9h0M414.7 171.6h0M456.0 169.6h0M522.6 145.5h0M531.3 132.1h0M373.6 114.2h0M389.6 123.3h0M389.6 92.6h0M484.0 118.1h0M428.9 76.6h0M436.7 122.0h0M524.8 145.2h0M512.3 165.1h0M454.3 117.7h0M428.1 193.1h0M464.4 104.1h0M480.1 82.6h0M398.6 130.7h0M347.5 176.9h0M400.4 176.2h0M379.8 176.3h0M471.2 122.6h0M494.2 179.0h0M453.8 97.5h0M487.8 112.5h0M481.7 111.3h0M441.7 122.9h0M372.7 120.0h0M409.8 159.9h0M470.9 186.2h0M455.8 152.3h0M476.0 154.1h0M387.7 127.0h0M393.2 165.3h0M442.9 165.1h0M473.8 92.9h0M384.3 185.4h0M486.2 120.7h0M414.3 143.4h0M340.5 133.1h0M489.6 124.7h0M435.3 158.8h0M434.4 98.0h0M454.3 165.8h0M348.2 158.0h0M426.6 117.2h0M493.7 122.6h0M380.4 107.9h0M463.5 94.2h0M504.1 143.3h0M403.8 129.3h0M474.5 135.2h0M511.1 188.2h0M502.2 121.6h0M519.9 122.9h0M510.4 109.6h0M347.8 151.3h0M374.5 104.7h0M530.2 166.3h0M382.7 130.9h0M408.4 208.9h0M346.0 120.1h0M467.1 133.2h0M461.6 135.7h0M533.4 153.4h0M363.5 116.6h0M466.9 91.5h0M425.2 96.9h0M359.8 147.9h0M414.9 152.7h0M508.1 96.5h0M476.5 126.4h0M501.7 174.0h0M357.4 160.9h0M513.4 163.6h0M430.2 92.2h0M405.1 133.7h0M436.2 164.4h0M474.1 86.9h0M420.7 126.8h0M510.8 185.7h0M445.7 166.0h0M407.6 193.0h0M466.9 123.9h0M460.9 85.3h0M365.9 160.5h0M390.6 148.1h0M490.4 173.4h0M506.7 110.6h0M521.2 112.8h0M358.7 158.5h0M458.4 195.0h0M500.8 97.1h0M496.3 177.6h0M368.7 92.3h0M469.8 151.1h0M376.1 132.6h0M412.7 156.4h0M415.1 183.0h0M381.6 120.5h0M528.9 147.6h0M465.3 85.5h0M469.2 108.7h0M468.4 127.8h0M437.3 77.5h0M438.2 87.9h0M365.0 105.7h0M426.3 208.0h0M489.1 113.7h0M386.7 187.8h0M471.1 83.4h0M346.6 165.9h0M485.0 114.3h0M520.7 110.3h0M519.4 169.4h0M443.9 78.2h0M365.3 135.4h0M428.8 160.4h0M413.3 175.8h0M463.4 210.9h0M525.8 118.6h0M444.0 188.8h0M442.3 187.9h0M410.1 127.5h0M427.7 105.8h0M356.9 130.9h0M476.9 148.3h0M459.4 175.7h0M372.0 138.9h0M478.9 118.6h0M419.9 197.9h0M345.3 164.9h0M460.2 91.1h0M363.9 154.8h0M478.4 205.9h0M439.7 185.4h0M466.2 97.5h0M427.0 101.4h0M506.9 149.9h0M482.9 195.3h0M529.4 125.5h0M519.0 180.1h0M449.5 103.1h0M532.4 141.0h0M422.7 193.0h0M432.5 177.1h0M454.4 175.3h0M409.5 162.6h0M415.7 180.8h0M382.3 177.1h0M521.3 144.1h0M498.7 183.8h0M427.4 124.4h0M415.9 175.5h0M407.0 190.2h0M423.5 132.9h0M429.3 178.3h0M377.7 130.1h0M366.7 164.9h0M406.7 206.5h0M450.7 108.0h0M525.2 144.9h0M472.0 89.7h0M458.5 101.3h0M459.6 171.0h0M437.3 76.5h0M364.0 99.7h0M505.5 184.8h0M505.7 162.0h0M499.2 179.1h0M461.2 106.0h0M506.6 137.3h0M465.3 158.1h0M378.3 97.0h0M428.8 103.9h0M450.4 166.4h0M433.4 112.2h0M519.6 137.1h0M376.5 195.9h0M437.6 105.2h0M368.4 166.0h0M496.2 136.6h0M418.0 127.4h0M500.1 98.0h0M417.4 114.0h0M415.3 188.2h0M445.9 79.4h0M383.7 109.6h0M523.6 172.8h0M446.5 93.2h0M480.3 129.3h0M494.0 117.8h0M524.7 135.7h0M476.8 112.8h0M367.0 179.0h0M524.1 130.8h0M351.0 142.5h0M379.6 175.0h0M361.2 176.7h0M521.4 164.5h0M406.9 179.3h0M443.2 177.9h0M394.6 185.0h0M462.4 161.9h0M373.2 113.3h0M384.1 105.6h0M493.8 108.3h0M382.9 192.0h0M401.2 127.5h0M469.1 151.4h0M448.1 182.8h0M377.6 170.1h0M533.8 148.8h0M484.9 96.4h0M396.9 145.4h0M458.2 95.5h0M414.6 127.4h0M535.8 129.0h0M458.3 106.0h0M375.3 194.1h0M500.3 94.8h0M364.5 131.9h0M361.2 114.1h0M506.2 128.2h0M409.9 104.4h0M447.7 189.5h0M449.5 93.2h0M370.4 93.5h0M503.5 104.6h0M401.9 175.9h0M465.6 108.3h0M427.4 112.9h0M351.7 158.7h0M465.5 91.1h0M417.1 196.7h0M374.0 178.9h0M489.4 101.9h0M350.7 157.4h0M416.9 207.4h0M448.8 162.1h0M382.4 187.4h0M418.2 128.1h0M359.1 153.5h0M468.3 175.5h0M494.4 90.6h0M460.6 148.1h0M409.9 77.0h0M524.2 157.1h0M436.0 175.6h0M498.9 108.9h0M403.2 172.3h0M452.8 208.1h0M375.8 165.4h0M491.5 173.2h0M420.5 79.3h0M412.2 153.7h0M526.8 130.4h0M524.2 128.9h0M375.2 172.3h0M503.5 119.9h0M340.4 157.2h0M443.5 94.0h0M487.8 130.7h0M514.9 172.0h0M431.6 116.1h0M474.6 110.3h0M375.2 101.5h0M363.7 133.1h0M468.8 122.3h0M367.8 135.1h0M353.4 111.6h0M346.9 117.2h0M473.2 118.7h0M429.0 105.2h0M409.0 136.9h0M361.7 142.4h0M453.7 171.4h0M417.7 99.4h0M424.4 199.4h0M502.5 96.2h0M350.3 110.9h0M500.2 135.4h0M468.6 167.2h0M415.4 200.0h0M436.8 111.3h0M472.6 111.2h0M461.1 121.8h0M429.0 158.6h0M345.1 128.2h0M406.7 151.6h0M410.0 126.2h0M419.7 91.0h0M497.8 190.1h0M371.0 160.1h0M516.1 140.8h0M450.1 166.6h0M431.4 188.9h0M533.3 158.5h0M524.0 117.9h0M468.2 105.5h0M523.9 159.9h0M414.5 193.1h0M391.3 155.2h0M494.5 88.0h0M494.0 96.4h0M483.5 191.6h0M532.5 153.9h0M526.7 149.3h0M511.3 151.0h0M430.3 97.7h0M395.9 190.5h0M354.6 149.4h0M398.6 177.9h0M463.5 117.9h0M457.4 163.8h0M505.0 152.7h0M400.5 78.5h0M470.8 145.3h0M431.0 181.0h0M481.2 186.7h0M461.0 168.5h0M410.6 185.2h0M391.8 183.2h0M457.7 197.4h0M456.5 85.6h0M432.5 120.9h0M461.0 120.3h0M346.5 147.6h0M508.7 136.3h0M499.7 172.4h0M356.4 152.2h0M493.2 112.6h0M468.9 149.7h0M441.1 102.9h0M394.0 87.7h0M517.1 135.5h0M528.2 122.7h0M368.3 94.7h0M526.8 146.4h0M474.9 99.7h0M510.2 155.9h0M463.1 166.2h0M477.7 114.6h0M490.7 114.7h0M499.9 182.5h0M468.0 187.7h0M478.9 175.5h0M450.3 192.7h0M525.8 137.8h0M466.7 196.1h0M355.4 134.3h0M516.6 133.8h0M432.4 175.4h0M439.2 106.7h0M466.5 145.2h0M455.3 178.6h0M484.4 109.2h0M389.6 160.6h0M456.7 162.7h0M380.7 128.3h0M421.0 181.8h0M475.1 118.5h0M364.5 169.9h0M359.8 162.7h0M401.6 106.9h0M351.0 130.9h0M392.8 164.6h0M453.6 176.3h0M398.1 176.6h0M477.5 111.0h0M485.7 197.3h0M456.5 140.5h0M364.6 159.9h0M465.4 103.7h0M385.6 186.9h0M448.0 207.1h0M352.8 157.8h0M425.3 103.9h0M397.4 123.4h0M485.0 92.0h0M358.4 154.7h0M437.9 101.8h0M456.0 92.6h0M445.3 94.0h0M514.2 141.5h0M459.8 100.4h0M444.1 84.0h0M381.5 143.3h0M435.3 162.8h0M427.2 184.4h0M506.5 161.7h0M530.8 121.3h0M441.3 107.9h0M460.5 183.7h0M493.9 186.4h0M402.9 94.4h0M499.0 189.5h0M515.4 116.3h0M410.0 127.7h0M460.1 106.0h0M451.2 118.9h0M397.3 109.1h0M358.8 186.9h0M363.6 123.7h0M499.8 116.9h0M484.4 151.0h0M493.4 151.3h0M348.5 117.8h0M494.4 147.4h0M425.7 98.5h0M521.0 122.2h0M375.0 198.7h0M440.7 189.6h0M496.8 112.4h0M420.3 94.7h0M427.9 183.7h0M365.3 121.0h0M463.2 151.3h0M507.9 115.1h0M372.5 145.9h0M473.4 185.7h0M393.6 173.6h0M520.7 123.5h0M414.9 80.8h0M451.4 99.8h0M369.0 173.4h0M418.9 190.7h0M482.3 151.1h0M477.8 87.9h0M473.1 186.5h0M442.7 189.6h0M395.9 165.2h0M468.4 152.2h0M457.7 105.3h0M395.2 130.2h0M452.0 98.5h0M389.9 162.7h0M415.4 85.7h0M459.1 112.2h0M490.7 149.2h0M353.5 163.0h0M470.4 148.9h0M379.1 89.5h0M470.1 163.3h0M469.1 193.2h0M474.7 107.0h0M413.5 145.3h0M413.6 164.1h0M435.5 203.8h0M523.7 144.8h0M371.1 179.2h0M507.6 121.2h0M489.9 100.7h0M438.3 164.8h0M465.2 92.2h0M398.9 130.2h0M502.8 185.8h0M508.4 183.0h0M424.4 112.6h0M462.1 152.3h0M471.6 193.7h0M462.4 137.8h0M492.9 102.4h0M413.8 137.5h0M511.5 131.8h0M379.1 173.9h0M431.5 171.8h0M439.6 105.1h0M340.3 149.5h0M397.4 185.5h0M505.4 141.7h0M513.6 112.0h0M442.0 202.6h0M475.9 83.4h0M506.1 133.1h0M483.0 126.4h0M438.6 98.0h0M478.0 100.4h0M498.2 181.0h0M484.2 204.4h0M461.3 179.4h0M367.2 173.3h0M422.1 110.1h0M435.2 171.5h0M409.2 164.9h0M458.1 94.8h0M521.1 171.0h0M414.0 142.4h0M373.0 184.3h0M509.8 97.6h0M464.0 210.4h0M447.2 175.1h0M481.6 159.2h0M525.2 155.9h0M520.5 113.0h0M407.3 109.9h0M537.7 151.2h0M411.6 164.4h0M419.0 162.4h0M434.8 108.2h0M493.6 172.7h0M352.2 169.6h0M504.0 195.8h0M382.3 148.4h0M531.9 142.4h0M461.8 84.4h0M494.1 102.8h0M466.9 97.3h0M427.6 189.7h0M420.2 192.3h0M385.3 194.7h0M535.5 140.1h0M350.3 112.4h0M355.9 151.9h0M389.5 183.5h0M399.2 131.3h0M463.2 194.2h0M440.3 189.8h0M367.8 180.6h0M488.1 93.9h0M507.8 109.0h0M500.6 179.1h0M505.0 156.3h0M348.7 113.7h0M363.3 112.8h0M407.4 92.6h0M459.1 104.4h0M450.8 176.3h0M387.8 175.2h0M380.4 167.1h0M441.6 194.0h0M484.2 142.5h0M367.1 177.3h0M446.8 163.6h0M350.7 157.2h0M401.7 80.9h0M411.2 155.0h0M485.1 150.8h0M357.8 111.7h0M443.9 126.8h0M494.4 179.5h0M383.6 140.8h0M355.5 177.9h0M469.1 175.1h0M401.6 156.8h0M425.7 94.4h0M351.0 160.3h0M529.9 118.6h0M407.5 110.3h0M412.8 181.2h0M501.1 109.7h0M487.1 105.1h0M356.9 111.7h0M447.4 107.6h0M486.5 162.5h0M391.5 178.5h0M423.2 201.2h0M430.5 111.7h0M419.7 99.0h0M513.6 122.0h0M486.2 108.3h0M525.7 112.7h0M460.3 172.8h0M355.1 128.2h0M417.7 190.7h0M364.4 115.3h0M488.9 194.9h0M462.9 161.3h0M511.6 125.1h0M442.4 117.1h0M402.8 176.6h0M383.8 173.8h0M424.7 99.4h0M351.1 160.0h0M479.8 103.5h0M406.0 194.3h0M503.0 173.7h0M456.2 76.5h0M392.2 193.1h0M345.2 158.3h0M493.6 196.0h0M445.5 102.5h0M364.7 104.7h0M407.8 174.3h0M516.4 105.8h0M449.2 200.5h0M532.0 129.8h0M399.4 192.6h0" stroke="#c8d080" stroke-width="1.2" stroke-linecap="round" fill="none" stroke-opacity="0.9"/>
<path d="M473.2 167.8h0M501.3 163.5h0M415.3 111.9h0M431.0 100.7h0M515.4 161.2h0M407.7 167.7h0M399.0 80.3h0M521.0 144.8h0M341.7 137.5h0M417.2 109.9h0M387.5 149.6h0M523.6 161.7h0M470.4 127.5h0M357.8 139.7h0M455.5 77.5h0M364.1 155.3h0M389.3 181.4h0M372.5 187.6h0M342.7 163.8h0M476.4 137.2h0M370.1 153.4h0M413.8 129.6h0M433.3 164.0h0M445.8 116.8h0M409.8 135.8h0M361.7 176.5h0M344.4 147.0h0M361.5 176.7h0M432.8 161.0h0M462.2 167.7h0M380.1 87.5h0M351.6 158.1h0M503.4 133.8h0M423.4 187.7h0M343.7 152.7h0M422.1 85.8h0M461.4 141.1h0M401.1 89.0h0M513.7 175.6h0M420.7 78.3h0M461.0 161.7h0M477.7 99.5h0M494.5 154.3h0M391.6 145.3h0M374.4 180.4h0M407.5 82.2h0M354.8 167.3h0M485.7 199.3h0M371.9 124.6h0M462.3 84.3h0M522.0 130.5h0M440.7 170.6h0M400.6 150.7h0M430.5 75.2h0M400.5 200.8h0M463.4 183.4h0M371.2 167.1h0M530.4 159.2h0M425.4 185.3h0M422.4 126.4h0M457.6 164.0h0M455.1 182.4h0M383.6 188.4h0M517.5 160.5h0M490.7 189.0h0M360.5 122.8h0M447.1 167.3h0M445.6 104.0h0M379.3 184.4h0M366.4 111.7h0M369.5 115.7h0M352.8 135.6h0M364.0 152.4h0M367.1 187.7h0M525.8 127.0h0M385.8 173.5h0M515.4 144.1h0M435.0 108.0h0M445.1 77.8h0M457.2 95.3h0M345.7 117.4h0M452.0 190.6h0M519.2 180.4h0M518.8 147.5h0M474.3 143.1h0M418.8 195.5h0M487.6 140.3h0M393.7 166.4h0M499.8 196.9h0M529.3 124.4h0M421.2 81.1h0M346.2 123.9h0M502.3 145.5h0M491.5 113.9h0M518.6 109.6h0M438.6 122.1h0M414.9 207.9h0M452.1 168.1h0M433.8 165.2h0M428.6 109.9h0M378.6 99.5h0M341.3 135.2h0M369.1 131.3h0M470.9 155.1h0M392.1 169.5h0M460.1 127.1h0M385.3 130.1h0M342.4 153.3h0M486.7 112.3h0M532.7 148.8h0M361.0 155.5h0M499.1 100.2h0M509.6 165.1h0M521.0 169.6h0M358.1 181.4h0M484.6 188.8h0M449.1 88.2h0M402.9 177.0h0M474.8 94.9h0M351.0 157.1h0M380.8 194.2h0M475.4 142.2h0M450.0 98.8h0M438.5 73.0h0M402.7 133.9h0M529.0 129.2h0M440.8 104.3h0M395.8 185.6h0M409.3 121.1h0M414.6 186.1h0M484.1 106.7h0M484.3 198.3h0M410.3 201.8h0M479.7 131.8h0M451.0 203.8h0M407.4 211.0h0M438.4 158.3h0M510.7 188.0h0M411.3 151.7h0M337.9 139.8h0M494.9 103.6h0M421.6 172.9h0M416.7 197.4h0M462.5 184.4h0M400.1 181.5h0M380.3 109.5h0M440.3 182.2h0M465.6 178.8h0M467.4 154.2h0M430.5 182.4h0M383.6 202.2h0M486.9 168.6h0M420.1 88.9h0M518.4 113.6h0M378.8 158.3h0M342.7 135.0h0M482.0 166.5h0M414.2 188.4h0M446.1 173.5h0M403.2 105.3h0M478.1 147.2h0M439.9 185.1h0M351.0 135.9h0M417.1 129.0h0M351.8 141.6h0M441.6 159.2h0M464.6 171.6h0M518.5 139.1h0M403.2 124.3h0M353.5 154.1h0M455.9 108.0h0M365.0 125.8h0M406.4 76.5h0M360.1 157.8h0M378.4 160.7h0M514.8 127.1h0M494.3 92.2h0M427.1 77.8h0M495.5 109.6h0M483.2 150.5h0M533.2 144.1h0M362.1 185.0h0M419.4 111.5h0M476.3 142.6h0M460.0 97.2h0M475.9 91.0h0M476.6 105.7h0M373.0 158.3h0M467.2 155.5h0M380.6 194.7h0M476.4 116.8h0M346.1 115.5h0M396.4 196.6h0M385.6 115.2h0M522.1 164.9h0M451.4 116.7h0M441.3 188.5h0M488.1 100.6h0M506.7 93.2h0M477.7 113.6h0M458.8 89.8h0M495.8 162.5h0M347.1 163.2h0M459.2 99.5h0M418.1 153.3h0M444.3 175.6h0M474.6 115.4h0M521.2 122.1h0M468.7 92.2h0M371.5 126.7h0M442.7 207.0h0M467.7 112.9h0M433.4 173.2h0M370.2 150.8h0M459.5 154.4h0M503.2 165.4h0M402.2 131.1h0M402.9 134.1h0M423.2 119.8h0M494.0 109.5h0M457.4 86.9h0M400.5 193.5h0M469.9 109.1h0M523.6 116.9h0M481.1 107.8h0M442.6 104.8h0M471.4 110.9h0M385.9 154.3h0M413.2 119.2h0M380.2 106.5h0M392.2 178.2h0M465.4 169.6h0M356.6 178.9h0M405.3 172.0h0M418.3 177.3h0M520.0 128.7h0M426.5 88.2h0M500.1 131.6h0M412.2 129.9h0M505.3 153.1h0M466.1 173.4h0M418.0 177.7h0M345.8 174.9h0M344.1 147.8h0M352.8 152.1h0M450.9 101.5h0M463.0 140.2h0M429.6 190.8h0M439.8 174.5h0M367.8 113.2h0M396.2 161.1h0M490.8 106.1h0M354.1 169.4h0M448.5 134.1h0M464.9 119.0h0M416.4 155.8h0M526.4 147.0h0M452.3 118.3h0M396.3 204.8h0M415.2 155.8h0M400.5 183.1h0M372.8 140.1h0M401.5 124.0h0M472.7 85.2h0M503.4 167.9h0M416.4 138.6h0M428.5 176.7h0M340.9 132.6h0M517.0 134.2h0M455.0 116.3h0M474.7 93.8h0M489.2 149.8h0M498.2 107.1h0M340.3 136.2h0M459.0 202.2h0M448.6 74.3h0M359.9 173.8h0M489.0 113.6h0M469.3 78.0h0M430.7 106.2h0M474.0 104.5h0M481.6 126.5h0M501.5 135.1h0M493.1 138.0h0M391.2 165.7h0M452.8 184.0h0M403.0 176.9h0M475.9 183.7h0M438.9 77.6h0M413.1 175.5h0M515.6 126.2h0M370.2 154.6h0M506.1 112.7h0M495.9 135.3h0M497.2 146.8h0M417.4 185.3h0M386.3 161.0h0M475.3 79.8h0M499.0 115.2h0M464.3 79.2h0M449.1 128.8h0M503.3 100.4h0M463.8 203.2h0M362.5 188.3h0M464.8 146.3h0M399.8 102.3h0M429.9 114.2h0M425.8 130.4h0M473.6 105.0h0M340.6 131.3h0M490.2 94.9h0M378.4 150.0h0M420.2 171.7h0M484.8 123.5h0M452.8 99.0h0M454.8 104.8h0M447.6 80.0h0M358.3 124.2h0M520.5 144.4h0M458.2 96.6h0M371.2 135.9h0M422.7 113.6h0M403.5 144.6h0M459.3 170.1h0M342.9 130.8h0M384.6 153.1h0M408.5 173.1h0M494.2 111.0h0M388.5 157.9h0M453.1 105.5h0M408.6 128.4h0M374.5 112.7h0M357.6 180.6h0M457.8 180.4h0M516.3 135.4h0M353.5 123.7h0M521.2 132.4h0M469.0 166.2h0M384.3 170.8h0M421.3 172.9h0M513.2 113.2h0M416.8 169.8h0M471.6 78.6h0M418.5 124.2h0M404.8 135.3h0M498.5 101.6h0M448.2 96.2h0M399.5 88.6h0M524.1 157.7h0M436.6 173.9h0M460.9 109.7h0M387.7 95.3h0M447.2 197.4h0M426.4 178.0h0M481.9 125.7h0M407.6 117.3h0M471.4 188.3h0M504.7 99.1h0M370.1 182.8h0M465.4 173.3h0M357.5 150.2h0M418.4 182.6h0M503.9 148.2h0M474.8 154.8h0M436.8 203.9h0M376.3 151.6h0M388.4 133.3h0M506.9 167.7h0M517.5 119.2h0M374.3 130.7h0M417.5 149.2h0M534.9 135.5h0M399.1 90.8h0M423.3 197.4h0M357.1 126.0h0M491.7 127.0h0M509.0 118.7h0M370.6 175.2h0M480.4 101.7h0M490.1 169.1h0M379.5 196.8h0M440.7 119.2h0M341.7 143.7h0M341.0 161.0h0M436.9 114.7h0M472.1 203.4h0M452.7 186.6h0M409.5 98.8h0M521.0 165.9h0M435.7 203.0h0M434.0 112.2h0M519.6 114.0h0M493.2 114.7h0M486.9 119.2h0M438.7 178.5h0M389.1 184.4h0M383.8 112.9h0M394.0 144.4h0M475.1 118.8h0M459.2 96.4h0M452.8 182.9h0M348.3 144.0h0M385.9 194.3h0M458.0 97.5h0M363.1 184.3h0M398.0 133.1h0M365.6 161.9h0M456.3 145.7h0M375.7 172.0h0M388.6 97.6h0M430.0 107.4h0M421.5 212.3h0M374.7 88.5h0M435.3 164.1h0M396.9 179.5h0M385.9 131.6h0M467.7 110.0h0M448.0 181.7h0M342.1 154.8h0M393.3 158.7h0M402.5 146.9h0M418.1 192.0h0M454.7 102.3h0M458.8 200.5h0M365.8 179.5h0M385.7 172.7h0M412.2 182.3h0M410.2 174.5h0M464.7 163.0h0M409.2 209.1h0M460.9 205.4h0M487.3 94.5h0M395.0 169.0h0M449.5 92.8h0M482.3 136.7h0M421.1 187.1h0M419.6 196.3h0M431.6 190.8h0M390.6 125.3h0M423.4 117.3h0M467.0 77.1h0M530.9 157.7h0M374.5 182.2h0M352.0 119.6h0M354.3 179.2h0M454.3 182.1h0M522.9 171.0h0M446.9 121.5h0M475.2 191.7h0M395.3 157.9h0M476.7 88.6h0M465.4 124.2h0M465.4 87.4h0M380.4 191.2h0M484.3 135.7h0M418.4 89.5h0M434.1 98.0h0M356.6 162.7h0M433.1 82.2h0M383.8 98.2h0M411.1 132.4h0M524.9 132.1h0M411.2 119.3h0M346.6 116.4h0M398.2 174.2h0M412.3 146.9h0M350.7 168.7h0M530.2 139.4h0M354.8 149.4h0M449.9 187.6h0M364.9 157.5h0M376.2 194.2h0M377.8 88.2h0M347.5 167.8h0M420.8 110.0h0M514.9 131.6h0M531.0 158.4h0M452.5 175.7h0M455.4 93.9h0M378.3 166.8h0M424.7 93.2h0M440.0 175.0h0M464.9 152.2h0M347.9 149.7h0M413.9 143.3h0M448.5 89.8h0M354.2 160.3h0M413.8 183.0h0M497.6 114.0h0M502.1 131.6h0M391.8 179.2h0M458.4 90.3h0M371.5 126.2h0M479.5 96.1h0M529.8 128.3h0M358.4 132.6h0M460.4 187.9h0M462.2 94.4h0M384.1 127.8h0M444.9 84.0h0M403.4 144.0h0M375.9 173.0h0M387.0 146.3h0M478.6 168.7h0M404.5 186.1h0M388.8 172.9h0M508.2 108.4h0M478.6 126.8h0M366.5 110.5h0M456.6 115.7h0M512.9 103.0h0M427.1 207.7h0M453.8 182.7h0M366.7 182.0h0M449.1 93.0h0M386.2 177.6h0M424.8 193.6h0M466.1 112.5h0M369.2 109.9h0M362.0 174.7h0M375.5 148.6h0M420.7 157.2h0M434.1 188.7h0M370.0 159.3h0M404.7 208.3h0M397.7 130.3h0M396.1 207.4h0M492.1 127.9h0M475.4 205.8h0M479.7 88.9h0M373.5 123.4h0M527.6 121.9h0M371.4 138.6h0M492.0 116.2h0M487.6 191.6h0M367.5 191.0h0M505.6 97.3h0M379.2 184.1h0M431.3 98.0h0M376.2 111.3h0M533.7 146.8h0M379.1 178.3h0M514.1 131.6h0M469.3 168.0h0M365.1 193.6h0M527.6 161.6h0M443.1 98.2h0M339.9 154.3h0M427.2 203.9h0M492.8 151.5h0M460.3 84.5h0M466.6 199.9h0M528.7 126.7h0M487.9 202.6h0M472.9 116.6h0M456.3 171.0h0M405.0 80.1h0M479.9 194.4h0M425.8 175.1h0M383.6 186.3h0M416.7 127.2h0M519.2 146.0h0M462.1 132.9h0M345.5 173.8h0M365.9 144.4h0M435.7 183.3h0M526.8 170.9h0M361.3 186.9h0M449.5 183.8h0M405.9 185.1h0M368.4 165.8h0M358.4 175.4h0M446.5 163.6h0M365.2 113.1h0M352.5 162.7h0M479.8 97.0h0M378.6 199.3h0M478.2 94.6h0M362.4 136.6h0M492.2 83.6h0M403.1 123.8h0M434.3 113.0h0M462.5 160.0h0M416.2 202.4h0M479.3 179.1h0M407.6 93.1h0M391.1 184.1h0M356.1 116.3h0M426.1 212.4h0M425.1 98.5h0M467.1 177.2h0M504.7 192.4h0M351.4 134.5h0M466.3 95.8h0M398.6 149.1h0M419.4 115.8h0M397.4 192.6h0M472.4 145.3h0M366.2 191.6h0M398.3 180.0h0M463.3 112.7h0M451.4 163.4h0M430.7 200.4h0M522.3 127.5h0M451.8 122.3h0M503.5 139.5h0M416.9 172.6h0M496.5 181.2h0M437.3 170.4h0M350.4 114.9h0M340.6 150.1h0M520.0 143.9h0M345.0 135.5h0M368.3 151.1h0M423.8 194.0h0M508.8 118.0h0M413.9 98.6h0M464.3 78.4h0M490.2 175.5h0M417.1 140.9h0M505.6 136.3h0M455.5 86.4h0M421.4 115.4h0M403.2 123.7h0M418.0 111.5h0M517.6 143.1h0M403.5 146.4h0M381.9 189.8h0M456.4 138.8h0M348.2 168.2h0M530.5 138.7h0M426.6 212.3h0M503.1 135.1h0M418.7 164.6h0M440.0 186.6h0M428.2 92.5h0M360.9 145.1h0M434.8 119.5h0M364.2 139.1h0M446.5 158.3h0M397.8 95.6h0" stroke="#cccc80" stroke-width="1.2" stroke-linecap="round" fill="none" stroke-opacity="0.9"/>
<path d="M399.4 207.1h0M361.6 163.1h0M490.1 159.8h0M360.9 134.8h0M418.1 115.3h0M460.4 84.9h0M441.7 168.6h0M498.0 141.7h0M360.5 176.4h0M457.1 165.3h0M509.3 176.3h0M506.2 106.3h0M511.4 142.1h0M511.3 150.0h0M466.4 146.0h0M358.4 106.2h0M470.5 144.1h0M482.2 175.0h0M530.3 140.7h0M362.4 152.0h0M483.1 155.1h0M489.2 104.9h0M402.4 157.8h0M471.4 122.6h0M388.6 170.2h0M359.3 158.0h0M469.1 182.3h0M507.2 174.7h0M437.9 97.8h0M357.9 118.0h0M455.1 193.1h0M489.8 121.6h0M465.0 113.5h0M502.6 166.4h0M366.7 94.4h0M341.1 149.0h0M464.1 81.5h0M396.0 125.2h0M466.9 113.9h0M496.6 124.9h0M529.0 151.7h0M463.1 106.0h0M460.6 92.7h0M343.0 137.1h0M488.8 169.9h0M502.4 113.0h0M365.4 94.5h0M486.1 158.7h0M362.7 183.8h0M479.9 83.7h0M410.1 183.7h0M343.6 121.2h0M438.9 175.1h0M350.3 172.3h0M512.0 123.5h0M425.4 123.6h0M341.9 162.7h0M383.7 153.3h0M379.7 168.5h0M354.4 145.0h0M455.8 90.0h0M384.4 174.7h0M425.8 83.3h0M414.4 139.8h0M371.8 152.1h0M383.4 163.5h0M500.5 121.2h0M437.1 98.2h0M532.8 131.5h0M482.2 101.0h0M353.9 127.5h0M396.8 149.9h0M413.6 132.1h0M388.1 146.0h0M491.8 131.8h0M501.3 192.7h0M512.6 111.8h0M521.0 165.4h0M425.6 179.3h0M465.8 191.7h0M369.4 175.6h0M489.0 119.4h0M401.3 117.2h0M382.4 196.4h0M410.4 118.5h0M450.2 184.5h0M417.8 114.3h0M407.9 161.7h0M401.3 147.5h0M396.0 196.5h0M511.1 107.2h0M476.8 175.3h0M418.7 117.5h0M376.9 165.5h0M461.0 90.4h0M468.4 96.5h0M498.0 127.9h0M405.6 98.8h0M469.1 113.1h0M429.2 111.6h0M348.7 144.6h0M373.8 91.0h0M459.9 149.4h0M404.3 193.8h0M423.4 124.1h0M389.0 194.5h0M379.7 189.3h0M478.9 168.4h0M441.8 93.6h0M458.2 155.8h0M378.2 156.4h0M353.9 107.2h0M473.6 159.3h0M344.6 123.7h0M523.8 174.7h0M436.9 170.9h0M350.2 179.8h0M485.3 155.3h0M359.8 168.6h0M458.8 135.8h0M367.3 136.3h0M489.4 157.8h0M414.8 186.0h0M511.0 99.5h0M422.4 119.6h0M502.8 102.8h0M517.1 109.7h0M449.5 174.0h0M447.8 104.4h0M425.2 179.8h0M464.7 173.7h0M340.4 143.1h0M389.2 172.4h0M343.3 156.9h0M466.8 107.0h0M346.6 115.9h0M510.3 135.1h0M472.7 89.3h0M343.9 155.8h0M443.3 115.1h0M377.6 190.8h0M489.7 166.1h0M423.9 198.7h0M375.2 173.5h0M390.5 168.3h0M457.8 195.8h0M344.3 163.5h0M363.0 178.7h0M341.9 149.4h0M404.3 135.0h0M530.4 161.4h0M504.0 111.0h0M497.9 190.1h0M350.7 156.2h0M414.8 111.9h0M444.1 164.3h0M412.1 111.6h0M513.9 157.2h0M441.1 78.9h0M480.9 147.6h0M463.0 77.3h0M405.7 172.5h0M482.4 119.0h0M366.8 179.3h0M447.1 194.2h0M470.3 180.9h0M517.6 118.3h0M499.3 183.0h0M531.0 133.5h0M385.9 170.3h0M459.9 195.7h0M445.4 121.4h0M398.1 109.3h0M509.9 120.8h0M350.7 155.2h0M453.9 109.3h0M351.5 148.6h0M469.5 103.8h0M380.5 169.1h0M351.8 154.5h0M419.9 135.0h0M515.9 114.2h0M439.5 213.2h0M399.7 104.9h0M448.9 194.6h0M526.1 122.9h0M498.7 149.0h0M491.6 96.1h0M378.4 176.1h0M439.3 178.1h0M411.4 149.7h0M432.6 101.8h0M393.9 152.2h0M473.9 93.9h0M464.6 167.6h0M519.9 102.3h0M439.3 186.1h0M491.9 164.4h0M499.9 135.0h0M492.4 139.0h0M504.5 146.7h0M456.8 138.8h0M342.0 129.4h0M510.2 110.4h0M435.5 102.2h0M393.4 111.3h0M517.2 108.0h0M441.5 125.7h0M375.4 178.9h0M490.6 168.4h0M390.7 177.4h0M510.3 152.1h0M513.0 123.1h0M484.1 116.7h0M405.9 170.0h0M373.3 107.8h0M450.4 198.0h0M508.9 133.9h0M421.1 75.6h0M538.5 154.6h0M404.2 134.6h0M354.4 147.2h0M447.7 84.2h0M442.8 116.1h0M471.6 115.2h0M468.0 175.4h0M476.2 95.7h0M459.5 116.4h0M382.0 179.5h0M521.1 131.5h0M514.5 114.5h0M391.5 190.5h0M468.3 165.5h0M507.7 184.1h0M385.2 197.9h0M362.7 100.5h0M506.6 119.6h0M373.2 195.1h0M482.7 202.7h0M498.0 168.8h0M485.6 115.4h0M455.3 99.9h0M465.1 112.7h0M436.6 199.3h0M455.9 181.6h0M347.9 158.4h0M416.3 168.0h0M521.1 139.6h0M485.9 170.2h0M466.1 111.8h0M462.7 137.2h0M394.0 86.5h0M490.6 104.7h0M385.0 180.1h0M441.7 81.9h0M356.5 153.1h0M492.6 110.4h0M516.0 105.9h0M474.7 98.6h0M518.3 141.1h0M473.2 88.7h0M424.3 165.0h0M505.4 138.5h0M460.0 162.3h0M431.8 170.1h0M361.3 164.5h0M353.4 160.1h0M402.1 94.3h0M413.3 176.1h0M516.7 97.4h0M350.8 135.7h0M466.1 81.4h0M495.0 156.1h0M375.7 196.5h0M393.2 195.3h0M351.8 161.2h0M442.3 175.6h0M508.8 160.3h0M473.3 99.6h0M496.7 166.7h0M384.7 157.5h0M383.0 178.8h0M410.7 193.6h0M458.5 157.7h0M437.7 194.5h0M473.0 177.3h0M421.6 133.0h0M494.5 97.0h0M513.2 110.6h0M357.1 154.4h0M347.8 142.0h0M519.8 133.6h0M516.7 178.7h0M411.7 152.5h0M470.6 137.2h0M497.1 191.3h0M471.8 148.4h0M460.2 179.6h0M431.2 183.2h0M503.3 111.2h0M380.7 163.0h0M405.0 160.5h0M451.1 107.6h0M368.5 102.1h0M412.4 151.4h0M429.4 188.8h0M450.1 88.4h0M354.9 120.4h0M472.6 103.4h0M495.0 110.8h0M467.3 151.6h0M503.6 108.3h0M474.3 167.5h0M422.8 133.4h0M539.3 159.5h0M363.5 153.4h0M376.9 166.5h0M449.2 87.5h0M461.3 75.7h0M368.4 152.0h0M438.9 199.4h0M427.5 193.8h0M420.3 117.2h0M465.7 107.5h0M512.8 180.2h0M498.9 102.7h0M515.1 125.0h0M476.1 150.8h0M412.7 179.6h0M424.0 163.6h0M456.7 185.5h0M428.1 184.5h0M513.1 144.0h0M365.1 191.5h0M450.9 172.1h0M413.7 164.8h0M481.5 157.1h0M495.9 88.2h0M506.2 144.3h0M500.0 159.4h0M515.7 126.8h0M487.4 121.8h0M509.0 172.4h0M436.6 179.8h0M532.3 155.0h0M387.3 142.6h0M395.6 101.7h0M357.3 150.4h0M427.8 117.4h0M374.3 183.3h0M516.1 120.8h0M504.9 158.0h0M485.6 138.9h0M381.9 175.1h0M399.7 181.4h0M350.1 134.1h0M388.0 143.3h0M512.1 139.6h0M507.7 92.8h0M461.7 162.4h0M497.2 102.2h0M512.4 147.2h0M413.5 159.5h0M495.0 178.1h0M340.7 133.1h0M387.3 181.4h0M505.3 164.3h0M470.7 174.7h0M431.0 198.1h0M508.4 119.5h0M361.2 133.1h0M465.5 179.3h0M372.9 169.6h0M410.0 81.9h0M458.4 114.7h0M346.3 152.5h0M370.7 92.5h0M421.2 204.0h0M342.4 144.6h0M359.7 174.2h0M465.5 112.2h0M484.6 141.6h0M403.8 145.9h0M528.1 159.6h0M421.2 187.3h0M433.4 83.0h0M397.7 108.8h0M449.4 100.1h0M405.1 204.5h0M410.7 173.7h0M400.5 191.5h0M435.4 92.3h0M515.6 112.1h0M513.8 175.4h0M405.9 133.5h0M367.4 104.8h0M480.7 100.6h0M487.4 104.9h0M444.7 98.5h0M372.0 158.8h0M409.7 204.9h0M488.4 122.1h0M432.5 179.9h0M492.2 176.4h0M508.5 181.1h0M512.0 103.5h0M520.7 127.1h0M453.5 109.6h0M364.0 154.1h0M452.4 81.5h0M352.9 123.9h0M383.9 197.6h0M458.9 158.3h0M449.4 182.1h0M353.9 149.5h0M516.5 154.1h0M349.0 145.3h0M476.2 88.6h0M367.3 150.4h0M440.2 101.5h0M375.8 137.6h0M346.7 114.5h0M345.9 135.5h0M390.9 141.3h0M429.0 82.3h0M462.6 131.3h0M437.7 106.9h0M534.1 138.7h0M380.4 176.3h0M458.9 174.2h0M522.5 136.1h0M510.9 105.5h0M400.7 171.3h0M514.7 164.9h0M431.5 199.9h0M487.3 132.9h0M415.9 104.8h0M381.6 161.4h0M468.4 171.7h0M356.7 178.7h0M478.1 142.4h0M391.0 173.0h0M396.3 123.8h0M416.6 174.3h0M444.9 115.5h0M494.0 90.8h0M417.4 190.4h0M443.2 101.4h0M457.7 183.8h0M393.8 95.5h0M513.4 108.6h0M463.4 100.6h0M361.9 156.2h0M425.7 186.5h0M418.9 87.3h0M506.6 95.9h0M431.3 172.3h0M498.1 189.6h0M351.4 157.8h0M426.3 184.8h0M479.3 196.8h0M537.7 131.6h0M499.7 97.1h0M389.3 122.6h0M387.3 142.4h0M499.7 183.0h0M453.8 159.1h0M344.3 140.2h0M388.4 124.7h0M528.7 124.5h0M467.5 91.2h0M391.4 163.0h0M425.1 119.0h0M400.6 189.3h0M399.5 106.6h0M376.7 95.0h0M370.6 172.7h0M490.5 108.8h0M450.1 190.1h0M401.6 172.1h0M482.6 93.0h0M433.4 166.0h0M375.8 158.0h0M531.3 136.3h0M465.6 184.6h0M519.7 122.8h0M381.3 167.2h0M417.9 113.8h0M465.2 138.4h0M367.6 113.8h0M352.9 146.7h0M354.7 129.4h0M490.4 137.7h0M473.4 94.6h0M512.9 112.6h0M350.7 124.6h0M415.5 133.5h0M504.1 97.0h0M383.8 172.8h0M536.5 141.7h0M479.7 165.7h0M413.9 139.5h0M357.2 156.0h0M477.1 142.7h0M473.6 104.5h0M430.5 119.6h0M417.8 153.9h0M512.2 144.7h0M395.7 132.6h0M444.2 189.6h0M519.3 177.9h0M371.7 165.3h0M522.9 114.1h0M486.3 203.3h0M478.6 98.7h0M335.8 129.6h0M360.3 139.0h0M366.4 186.8h0M399.2 154.7h0M384.5 105.8h0M435.6 108.1h0M478.8 128.3h0M430.9 101.9h0M343.8 125.6h0M372.4 117.9h0M414.0 192.9h0M418.7 203.0h0M486.3 92.4h0M404.1 82.7h0M402.6 183.2h0M522.5 150.6h0M482.2 191.6h0M426.9 159.9h0M411.1 146.9h0M444.3 173.0h0M367.2 117.2h0M355.4 175.2h0M513.9 113.8h0M487.3 169.3h0M414.2 86.0h0M371.5 133.1h0M494.2 120.3h0M409.7 187.2h0M469.9 156.8h0M465.9 190.4h0M498.6 162.7h0M343.1 154.2h0M369.6 115.3h0M382.9 149.0h0M529.4 163.9h0M384.6 140.9h0M487.1 112.1h0M373.6 182.8h0M371.2 122.0h0M395.7 200.8h0M356.0 143.5h0M341.7 145.5h0M500.3 118.3h0M395.0 178.4h0M430.2 125.0h0M513.4 141.5h0M508.9 174.1h0M412.9 175.5h0M494.8 131.8h0M346.3 152.1h0M370.2 192.6h0M531.5 136.2h0M506.1 178.0h0M369.1 98.2h0M508.6 116.1h0M379.2 166.0h0M359.4 170.5h0M449.8 94.2h0M394.4 167.4h0M448.0 111.3h0M410.9 144.8h0M492.9 113.0h0M501.1 111.7h0M341.5 154.6h0M391.2 178.4h0M472.3 101.9h0M442.2 175.8h0M380.4 99.8h0M512.9 170.3h0M414.2 174.3h0M349.5 142.9h0M394.0 203.6h0M485.1 111.7h0M494.0 199.4h0M488.7 125.2h0M462.8 163.5h0M375.6 168.9h0M372.9 159.7h0M371.5 112.5h0M472.4 173.1h0M431.1 117.2h0M348.5 143.1h0M490.6 150.2h0M415.0 126.6h0M517.1 109.1h0M418.5 127.4h0M358.8 113.9h0M476.1 105.9h0M337.5 158.6h0M459.0 131.5h0M378.0 182.7h0M447.5 161.7h0M394.2 88.7h0M428.8 200.0h0M391.3 133.4h0M435.5 186.9h0M528.4 125.6h0M466.2 185.0h0M414.3 78.7h0M433.3 78.2h0M457.8 153.7h0M381.7 166.7h0M462.7 194.6h0M440.3 91.4h0M355.9 132.7h0M524.4 135.0h0M356.3 174.6h0" stroke="#d0cc84" stroke-width="1.2" stroke-linecap="round" fill="none" stroke-opacity="0.9"/>
<path d="M515.0 160.8h0M400.0 183.0h0M456.0 110.2h0M422.5 198.5h0M425.1 124.0h0M527.7 131.2h0M388.0 194.1h0M495.1 117.5h0M442.8 106.5h0M482.5 88.5h0M524.0 135.3h0M355.9 107.1h0M420.2 180.5h0M523.7 114.9h0M482.7 193.8h0M362.2 162.8h0M510.0 121.8h0M386.1 178.6h0M360.3 172.3h0M522.0 147.2h0M499.5 101.8h0M373.3 159.7h0M406.0 167.3h0M398.0 156.3h0M452.5 197.9h0M481.6 94.0h0M371.8 153.2h0M405.0 145.7h0M408.4 100.0h0M432.7 208.3h0M367.2 186.5h0M372.6 108.0h0M348.2 145.3h0M454.3 190.6h0M463.7 206.3h0M437.9 107.1h0M412.0 200.5h0M356.0 125.2h0M392.6 195.2h0M493.5 130.7h0M381.4 179.6h0M522.7 156.7h0M395.7 167.2h0M512.1 125.3h0M355.5 147.8h0M403.0 93.5h0M364.5 184.1h0M349.7 156.7h0M381.7 185.6h0M481.3 102.3h0M495.5 151.3h0M458.1 146.8h0M405.6 84.8h0M387.8 89.3h0M386.3 180.2h0M378.9 187.5h0M367.2 103.4h0M517.3 107.9h0M434.1 170.6h0M350.4 152.5h0M455.6 100.2h0M408.6 184.4h0M474.0 166.4h0M507.4 127.3h0M486.1 94.2h0M396.5 173.0h0M462.8 111.0h0M365.7 143.9h0M472.7 96.8h0M499.8 108.2h0M530.7 120.8h0M350.6 112.4h0M345.3 123.2h0M377.4 194.1h0M418.8 110.7h0M425.2 118.3h0M443.1 111.1h0M407.6 121.8h0M447.1 79.3h0M500.4 160.6h0M491.2 148.0h0M514.1 124.8h0M519.4 149.9h0M369.7 98.1h0M405.7 148.5h0M443.8 173.8h0M477.2 195.8h0M412.0 132.6h0M501.6 144.2h0M396.5 81.2h0M511.8 148.8h0M471.8 171.5h0M470.3 101.8h0M453.2 153.7h0M471.0 152.5h0M415.8 124.4h0M418.3 154.7h0M391.7 130.9h0M497.4 112.9h0M423.7 114.8h0M462.4 151.8h0M349.2 151.0h0M492.3 109.0h0M472.2 130.3h0M392.3 176.1h0M339.6 141.3h0M479.4 150.1h0M490.5 132.3h0M370.4 133.2h0M516.4 157.5h0M442.1 106.9h0M435.8 83.2h0M391.2 148.2h0M369.3 105.1h0M505.7 185.0h0M382.6 175.2h0M441.3 186.4h0M436.8 208.8h0M357.7 128.6h0M492.7 186.7h0M435.7 92.7h0M501.7 104.0h0M357.9 150.0h0M454.0 97.7h0M419.6 197.5h0M398.4 142.3h0M478.1 152.8h0M379.6 177.0h0M401.6 101.4h0M438.1 104.4h0M361.1 167.7h0M489.4 138.3h0M376.2 188.4h0M415.0 183.0h0M345.6 123.4h0M521.3 137.7h0M432.0 192.0h0M521.5 166.3h0M418.0 136.6h0M344.0 124.3h0M426.9 112.5h0M466.4 172.0h0M450.0 89.8h0M349.0 143.6h0M495.1 178.4h0M378.6 105.8h0M365.4 179.8h0M373.8 192.5h0M488.5 93.3h0M425.3 183.9h0M425.7 130.6h0M454.5 119.3h0M468.4 163.0h0M510.1 168.8h0M403.6 77.3h0M444.6 187.4h0M476.2 136.2h0M359.3 168.0h0M487.4 185.4h0M349.3 123.5h0M447.5 179.7h0M532.3 134.4h0M521.9 133.9h0M529.9 127.1h0M491.6 157.0h0M436.2 199.7h0M502.7 170.5h0M419.6 134.0h0M360.8 150.7h0M367.6 159.6h0M511.4 143.2h0M409.0 174.7h0M434.1 165.5h0M414.0 147.6h0M530.2 155.9h0M380.9 109.1h0M492.0 189.5h0M523.2 134.1h0M451.3 167.1h0M473.2 191.0h0M383.6 204.4h0M341.6 131.0h0M350.6 160.4h0M501.5 135.9h0M474.1 110.9h0M428.9 206.7h0M455.4 177.5h0M444.9 104.7h0M461.8 99.3h0M444.7 118.6h0M405.7 91.6h0M455.3 101.8h0M396.5 145.2h0M397.7 186.9h0M445.4 106.9h0M469.2 173.1h0M464.5 172.4h0M465.9 209.3h0M455.0 166.3h0M413.7 98.2h0M470.4 159.3h0M444.7 95.0h0M490.7 140.0h0M438.3 78.6h0M522.2 154.0h0M443.4 178.4h0M378.0 135.5h0M508.0 186.6h0M507.6 114.7h0M418.4 80.6h0M469.1 198.1h0M451.9 123.7h0M429.3 111.4h0M439.9 109.0h0M490.7 185.2h0M400.9 95.6h0M345.8 144.7h0M490.2 122.9h0M409.9 180.2h0M393.6 201.6h0M443.0 107.5h0M421.0 118.3h0M430.9 76.0h0M357.2 127.3h0M473.4 150.1h0M414.0 181.3h0M526.0 115.2h0M413.5 158.6h0M504.5 113.6h0M401.9 183.8h0M404.9 148.1h0M492.5 101.3h0M426.4 93.0h0M470.6 87.8h0M339.7 138.8h0M427.8 113.6h0M491.3 102.7h0M427.4 129.3h0M512.3 134.9h0M403.7 181.7h0M435.1 175.6h0M360.7 99.0h0M447.5 203.2h0M400.6 208.8h0M458.8 192.4h0M486.4 108.0h0M468.9 114.4h0M409.3 180.7h0M475.3 135.6h0M364.8 191.0h0M420.7 118.2h0M470.6 146.9h0M407.8 175.2h0M366.7 175.9h0M426.3 107.8h0M470.6 208.4h0M395.4 85.2h0M415.7 181.9h0M413.1 101.0h0M505.5 141.8h0M348.0 146.7h0M520.3 167.9h0M404.5 209.5h0M412.4 107.1h0M419.8 121.1h0M433.7 109.6h0M389.4 188.7h0M397.8 94.4h0M353.6 180.1h0M463.3 149.9h0M468.1 117.4h0M502.2 101.3h0M393.2 110.3h0M385.1 102.4h0M431.6 185.9h0M426.2 183.5h0M484.3 108.8h0M345.2 145.1h0M399.8 152.6h0M465.2 200.5h0M404.6 193.8h0M383.0 173.9h0M470.8 108.6h0M469.6 188.3h0M498.1 95.5h0M380.5 155.6h0M475.5 156.4h0M371.3 148.0h0M525.9 119.8h0M366.4 106.6h0M437.1 120.3h0M400.7 188.7h0M383.8 164.6h0M502.7 109.8h0M434.5 73.8h0M411.2 137.1h0M366.0 162.2h0M404.6 178.4h0M468.9 166.9h0M359.8 163.3h0M417.0 91.1h0M339.3 132.7h0M398.6 84.3h0M503.4 96.6h0M371.7 92.5h0M435.9 119.0h0M417.7 207.3h0M481.2 203.4h0M470.7 151.3h0M523.0 169.8h0M364.4 105.5h0M487.5 88.7h0M368.2 174.6h0M456.2 116.0h0M524.9 122.3h0M449.4 186.8h0M464.5 76.3h0M511.5 116.5h0M378.9 158.2h0M515.1 101.9h0M382.9 146.1h0M352.4 129.2h0M371.8 183.3h0M376.1 188.9h0M425.1 212.5h0M477.4 153.0h0M511.3 123.5h0M467.7 82.7h0M389.1 162.9h0M385.0 185.7h0M402.3 193.4h0M400.0 189.5h0M484.3 104.5h0M463.5 79.9h0M419.5 121.1h0M425.0 123.8h0M436.3 186.1h0M469.7 95.4h0M513.4 164.6h0M411.9 113.9h0M456.8 121.0h0M387.4 176.3h0M528.6 165.6h0M354.2 176.5h0M472.1 157.2h0M440.7 92.2h0M434.7 97.5h0M375.1 143.7h0M470.6 93.3h0M447.2 177.3h0M531.0 120.7h0M364.7 157.8h0M381.6 108.4h0M468.5 149.7h0M360.8 126.9h0M434.7 162.8h0M430.9 167.9h0M410.8 185.3h0M356.1 169.7h0M357.2 129.9h0M374.4 193.4h0M496.8 104.0h0M370.1 94.4h0M418.2 93.5h0M519.1 102.4h0M453.9 109.4h0M443.3 190.5h0M458.9 200.2h0M425.0 204.0h0M469.8 114.1h0M390.0 178.2h0M448.8 202.6h0M432.0 186.2h0M464.6 91.3h0M462.9 168.9h0M414.6 112.7h0M391.6 119.2h0M421.7 125.3h0M362.5 179.2h0M463.9 103.9h0M362.4 117.0h0M383.5 191.4h0M480.5 97.0h0M410.6 165.9h0M348.3 133.2h0M428.1 198.3h0M377.6 166.0h0M385.5 116.4h0M457.5 165.2h0M400.6 118.9h0M368.5 137.4h0M468.2 102.9h0M370.9 128.2h0M479.6 107.0h0M463.4 172.9h0M519.8 141.1h0M431.9 187.7h0M519.6 167.1h0M529.7 125.8h0M460.3 175.5h0M419.7 93.4h0M482.0 79.8h0M401.3 120.3h0M379.1 101.9h0M415.7 92.3h0M368.7 107.9h0M432.3 100.4h0M362.6 137.8h0M348.9 151.9h0M468.2 88.9h0M412.2 187.4h0M516.9 118.2h0M457.6 170.5h0M357.1 115.4h0M387.2 89.8h0M343.9 145.3h0M491.8 147.8h0M501.6 137.2h0M518.2 170.1h0M394.2 197.1h0M517.8 134.8h0M486.3 203.2h0M490.9 144.7h0M422.8 196.6h0M360.9 180.5h0M531.2 154.2h0M361.6 102.8h0M448.6 194.9h0M359.0 138.2h0M518.0 138.4h0M440.9 179.2h0M401.8 117.7h0M472.7 95.6h0M488.7 158.4h0M361.1 137.1h0M389.2 132.5h0M392.2 111.1h0M470.1 200.5h0M481.7 103.8h0M390.0 186.5h0M372.9 91.4h0M458.2 173.2h0M442.4 200.1h0M347.2 133.1h0M399.0 122.1h0M418.7 134.8h0M443.5 97.0h0M357.5 177.7h0M409.4 167.4h0M358.1 157.4h0M357.0 156.1h0M458.1 143.6h0M356.7 103.2h0M431.8 183.9h0M359.2 127.8h0M418.6 188.6h0M414.3 171.3h0M345.1 154.8h0M503.2 179.8h0M392.3 153.4h0M461.2 79.2h0M429.6 82.2h0M403.9 190.7h0M407.3 128.2h0M466.0 109.2h0M459.6 99.0h0M436.7 104.8h0M448.6 109.0h0M468.7 88.0h0M459.0 139.1h0M372.8 159.0h0M401.4 176.7h0M346.4 160.8h0M473.3 96.9h0M340.3 154.4h0M404.7 145.4h0M455.2 206.1h0M370.2 109.6h0M459.8 122.4h0M392.0 82.6h0M519.1 173.1h0M362.6 121.2h0M406.4 142.1h0M383.9 106.4h0M536.1 141.6h0M460.0 106.2h0M422.5 208.0h0M348.8 133.0h0M418.8 196.7h0M411.9 134.0h0M391.7 182.7h0M360.2 111.7h0M390.6 141.3h0M412.4 106.8h0M363.1 183.8h0M389.6 193.1h0M369.1 172.6h0M452.1 108.9h0M444.4 174.7h0M425.0 123.4h0M424.5 118.6h0M517.9 180.8h0M441.2 97.5h0M407.3 144.7h0M507.8 118.8h0M403.4 139.6h0M462.7 172.1h0M414.4 163.9h0M406.9 175.2h0M394.2 130.6h0M378.5 161.4h0M493.3 119.1h0M448.3 95.7h0M388.4 173.7h0M394.5 192.0h0M400.3 141.0h0M530.7 134.9h0M512.0 186.2h0M509.9 137.8h0M424.3 167.6h0M509.3 164.7h0M510.4 101.2h0M491.3 89.6h0M457.2 152.3h0M423.4 159.5h0M503.6 123.5h0M439.2 93.6h0M424.5 121.7h0M397.0 167.1h0M429.9 203.6h0M499.6 161.3h0M378.7 143.6h0M480.1 142.4h0M352.8 173.2h0M476.6 190.4h0M472.4 82.4h0M496.6 138.0h0M439.8 112.5h0M527.2 168.4h0M412.6 172.4h0M469.3 139.0h0M396.3 191.8h0M401.0 144.0h0M434.2 121.6h0M524.2 168.3h0M428.1 114.8h0M521.2 173.1h0M348.9 175.8h0M376.7 128.1h0M430.0 184.7h0M435.2 170.7h0M529.9 114.6h0M511.5 164.8h0M471.0 91.1h0M494.8 109.0h0M501.6 110.9h0M350.3 156.0h0M447.8 104.2h0M516.5 106.5h0M489.1 109.6h0M381.9 178.4h0M408.5 144.5h0M412.9 192.0h0M497.9 113.5h0M407.0 85.4h0M363.6 129.0h0M367.4 132.0h0M445.2 175.8h0M450.3 123.7h0M512.2 140.2h0M480.8 120.6h0M432.8 100.6h0M366.6 141.6h0M496.3 193.7h0M420.9 109.0h0M458.0 80.4h0M365.0 185.7h0M470.1 187.0h0M438.3 180.5h0M420.3 115.9h0M400.2 136.8h0M499.7 130.4h0M374.6 90.0h0M437.5 118.3h0M430.2 97.7h0M373.8 146.9h0M433.6 211.9h0M496.8 133.2h0M448.5 202.8h0M380.7 113.2h0M469.0 135.4h0M451.1 128.6h0M524.9 136.6h0M362.6 185.8h0M473.0 167.4h0M471.4 94.9h0M520.2 113.5h0M461.9 91.8h0M532.3 157.4h0M366.4 173.5h0M443.7 85.1h0M475.0 140.5h0M389.1 122.8h0M349.5 145.7h0M477.0 89.0h0M393.0 129.6h0M508.6 122.5h0M457.4 204.9h0M390.2 178.6h0M365.9 105.1h0M419.9 134.7h0M532.9 139.0h0M426.5 180.0h0M472.1 157.1h0M459.0 164.3h0M526.6 155.5h0M342.9 142.9h0M385.1 96.6h0M413.8 161.1h0" stroke="#d4d490" stroke-width="1.2" stroke-linecap="round" fill="none" stroke-opacity="0.9"/>
<ellipse cx="436.4" cy="141.8" rx="10.5" ry="7.6" fill="#3cf03c"/>
</g>
<defs><linearGradient id="sb" gradientUnits="userSpaceOnUse" x1="0" y1="5.7" x2="0" y2="145.5"><stop offset="0" stop-color="#1410e8"/><stop offset="0.2" stop-color="#1838f4"/><stop offset="0.33" stop-color="#1a70f4"/><stop offset="0.48" stop-color="#1aa8f0"/><stop offset="0.62" stop-color="#1ad8e8"/><stop offset="0.82" stop-color="#20e4b0"/><stop offset="1" stop-color="#30ea60"/></linearGradient></defs>
<path d="M432.65,8.76 A4.25,3.06 0 0 1 441.15,8.76 L439.80,145.50 L434.00,145.50 Z" fill="url(#sb)"/>
<ellipse cx="199" cy="398.5" rx="106" ry="74" fill="none" stroke="#f0f0f0" stroke-width="0.8"/>
<g filter="url(#bl)">
<path d="M196.4 398.7h0M194.7 397.2h0M195.5 395.9h0M200.4 396.4h0M202.3 396.5h0M199.5 398.5h0M196.1 398.9h0M199.0 399.3h0M196.7 398.8h0M197.5 399.4h0M195.5 397.6h0M199.1 398.5h0M202.6 397.4h0M196.6 398.7h0M200.9 396.0h0M202.4 397.2h0" stroke="#30e070" stroke-width="1.1" stroke-linecap="round" fill="none" stroke-opacity="0.9"/>
<path d="M199.4 394.0h0M201.3 390.1h0M193.7 396.8h0M203.8 393.5h0M208.2 399.4h0M197.9 393.3h0M195.2 401.4h0M191.5 398.5h0M193.9 397.0h0M199.6 391.1h0M191.6 393.9h0M211.0 395.3h0M203.9 394.0h0M211.8 396.9h0M206.5 391.3h0M190.2 402.1h0M198.1 393.2h0M187.1 398.0h0M194.5 395.6h0M189.7 396.0h0M195.3 390.9h0M195.3 401.5h0M199.0 401.6h0M195.6 404.4h0M200.6 403.6h0M197.4 401.1h0M210.6 393.7h0M208.8 392.4h0M192.8 392.0h0M204.2 402.7h0M189.0 402.5h0M197.2 391.0h0M203.1 390.4h0M192.8 404.4h0M189.9 394.7h0M187.8 401.1h0M190.9 395.0h0M203.0 399.2h0M194.5 404.4h0M190.3 395.0h0M206.6 400.5h0M190.6 398.2h0M189.1 402.8h0M194.7 395.0h0M205.7 402.5h0M212.2 397.4h0M201.4 404.2h0M190.1 393.7h0M209.5 392.7h0M189.8 395.9h0M200.7 405.0h0M197.9 402.3h0M203.0 400.1h0M207.7 399.9h0M190.8 393.5h0M196.0 393.4h0M203.7 397.3h0M194.3 395.7h0M204.3 390.8h0M202.6 399.5h0M201.2 390.8h0M198.6 390.3h0M194.9 404.3h0M205.3 391.2h0M206.3 396.1h0M190.2 402.9h0M199.7 390.3h0M188.1 401.5h0M211.0 394.1h0M207.5 398.3h0M194.8 391.5h0M190.8 403.7h0M202.8 393.5h0M205.0 390.8h0M185.8 397.4h0M202.5 391.0h0M194.0 392.5h0M198.5 393.9h0M201.2 401.1h0M189.2 402.8h0M199.3 400.9h0M201.5 401.5h0M196.4 393.2h0M192.8 400.4h0M211.5 397.8h0M193.1 392.5h0M205.1 402.9h0M196.9 390.6h0M195.4 405.2h0M193.7 404.4h0M198.2 390.0h0M211.3 395.4h0M198.3 401.2h0M186.6 398.5h0M205.4 390.5h0M202.1 393.7h0M203.8 399.4h0M190.8 397.6h0M190.4 393.2h0M198.4 404.3h0M197.5 391.0h0M210.3 394.0h0M205.7 391.4h0M200.9 401.6h0M194.9 395.9h0M206.2 395.2h0M195.0 391.4h0M195.0 400.9h0M203.8 398.0h0M207.0 391.7h0M194.3 395.4h0M197.3 389.9h0M198.4 393.0h0M191.4 394.3h0M197.0 401.5h0M201.7 401.3h0M207.1 391.8h0M195.4 395.1h0M202.2 393.4h0M194.1 395.9h0M211.4 396.1h0M192.4 400.9h0M204.6 393.7h0M202.4 403.8h0M189.3 401.6h0M195.8 404.7h0M201.0 393.1h0M195.1 404.3h0M200.1 404.4h0M200.1 393.0h0M191.2 393.5h0M198.4 404.4h0M191.3 393.3h0M210.4 393.5h0M203.5 397.1h0M191.6 403.5h0M200.9 393.1h0M190.9 403.5h0M194.8 401.8h0M204.2 399.3h0M194.1 392.3h0M203.0 400.3h0M200.5 401.6h0M197.1 404.5h0M207.4 396.0h0M202.7 390.4h0M203.9 397.6h0M195.5 391.4h0M207.5 391.9h0M197.2 390.0h0M205.7 395.3h0M204.2 403.7h0M186.4 397.7h0M197.6 402.1h0M200.7 401.3h0M205.3 394.0h0M206.3 401.7h0M210.0 394.0h0M197.0 404.7h0M209.1 392.6h0M194.1 396.1h0M194.8 400.9h0M196.8 394.5h0M193.1 392.0h0M193.3 403.6h0M205.8 391.4h0M197.6 390.7h0M197.5 404.5h0M203.1 393.5h0M201.2 401.6h0M194.4 394.9h0M192.7 393.3h0M203.7 399.4h0M190.4 402.9h0M206.4 391.8h0M192.3 393.2h0M208.0 397.1h0M201.3 390.3h0M198.9 390.6h0M197.7 394.3h0M197.2 404.6h0M204.3 403.0h0M199.5 401.0h0M193.3 391.9h0M186.5 399.7h0M203.8 403.2h0M198.8 404.3h0M192.2 403.6h0M209.2 393.1h0M198.6 404.4h0M199.4 404.2h0M209.6 392.7h0M195.2 405.0h0M201.0 401.2h0M197.6 404.6h0M203.8 394.3h0M190.0 403.3h0M186.7 400.0h0M200.2 404.0h0M199.0 391.1h0M195.4 390.8h0M195.2 403.9h0M203.9 394.1h0M196.5 404.7h0M205.8 391.3h0M193.5 404.4h0M189.8 397.6h0M195.8 394.0h0M203.8 391.0h0M193.5 404.3h0M194.8 404.6h0M203.4 399.6h0M197.4 393.4h0M205.8 401.9h0M205.8 391.8h0M203.0 399.6h0" stroke="#3ddd6f" stroke-width="1.1" stroke-linecap="round" fill="none" stroke-opacity="0.9"/>
<path d="M178.9 403.1h0M192.1 386.3h0M182.0 400.4h0M181.3 397.4h0M220.8 397.9h0M220.6 397.7h0M186.8 405.4h0M216.2 395.7h0M192.6 409.9h0M208.2 407.8h0M220.6 397.1h0M212.0 399.6h0M213.1 391.2h0M188.7 391.4h0M181.3 397.7h0M194.4 388.6h0M187.6 393.1h0M198.0 387.6h0M217.6 390.6h0M199.0 384.4h0M216.5 389.1h0M213.2 391.1h0M207.7 388.6h0M181.0 404.6h0M216.0 402.1h0M213.1 387.8h0M215.3 394.3h0M216.3 399.3h0M181.8 400.7h0M205.9 385.2h0M185.8 398.2h0M211.9 393.5h0M181.0 397.4h0M210.3 392.8h0M196.9 388.6h0M184.1 402.8h0M178.1 398.3h0M205.8 388.8h0M183.8 390.6h0M212.9 398.8h0M192.9 410.2h0M214.8 394.2h0M183.0 393.7h0M190.5 406.1h0M185.3 404.3h0M208.1 385.3h0M220.6 399.9h0M220.8 397.4h0M202.9 407.0h0M220.1 393.6h0M203.0 385.0h0M219.8 401.9h0M205.0 406.0h0M182.4 391.6h0M182.6 406.5h0M189.8 405.8h0M179.1 403.5h0M177.4 396.3h0M203.5 385.0h0M216.4 389.8h0M177.0 398.4h0M185.4 389.3h0M181.5 400.6h0M196.6 407.0h0M186.5 394.0h0M212.2 399.9h0M181.0 396.1h0M214.5 404.8h0M200.9 387.7h0M211.9 387.5h0M190.4 406.3h0M192.6 406.5h0M211.0 389.6h0M217.9 391.2h0M218.9 392.8h0M203.9 388.4h0M187.2 388.8h0M182.7 391.9h0M211.0 406.7h0M189.5 391.1h0M182.8 401.9h0M185.3 397.6h0M178.9 391.9h0M201.5 387.5h0M212.4 391.5h0M216.8 401.0h0M187.2 392.0h0M214.8 388.3h0M187.0 405.2h0M217.7 398.8h0M182.2 400.4h0M211.9 390.9h0M193.0 407.0h0M186.3 393.7h0M217.1 396.9h0M186.4 405.3h0M209.5 389.7h0M180.5 403.6h0M216.1 399.5h0M212.3 398.5h0M180.4 404.2h0M181.3 396.0h0M192.4 409.1h0M213.1 387.4h0M191.8 406.5h0M196.6 407.0h0M206.4 388.4h0M212.9 391.1h0M215.2 403.0h0M181.5 399.2h0M187.5 405.6h0M186.0 407.9h0M217.0 397.2h0M215.4 395.2h0M203.5 409.6h0M193.6 407.2h0M185.7 398.5h0M212.5 391.6h0M216.8 398.7h0M212.4 399.4h0M196.4 407.4h0M198.6 387.6h0M188.8 403.0h0M184.7 403.5h0M212.5 396.1h0M199.8 388.2h0M216.4 395.5h0M178.9 403.0h0M178.6 401.6h0M217.5 397.1h0M215.6 403.0h0M182.9 392.5h0M212.1 400.3h0M181.4 399.4h0M216.9 389.4h0M212.8 392.2h0M201.4 387.7h0M210.9 390.8h0M208.4 388.2h0M178.0 400.6h0M181.8 404.8h0M186.9 404.4h0M190.9 389.6h0M189.2 405.5h0M186.4 404.5h0M212.9 406.1h0M214.0 391.4h0M197.1 406.9h0M181.8 397.0h0M191.4 406.8h0M198.0 387.8h0M204.2 388.1h0M181.2 397.1h0M178.8 402.6h0M183.1 402.3h0M206.8 388.2h0M190.0 406.4h0M207.5 389.1h0M185.5 404.1h0M216.8 397.8h0M210.0 386.5h0M216.2 400.5h0M211.7 400.4h0M207.1 388.6h0M216.3 399.0h0M198.2 387.8h0M210.6 393.1h0M212.8 387.9h0M202.3 386.9h0M183.7 390.8h0M213.7 388.5h0M209.7 404.1h0M207.6 405.7h0M195.4 388.1h0M216.9 396.5h0M185.3 402.9h0M195.6 407.2h0M213.6 391.6h0M215.1 388.5h0M186.1 408.4h0M183.7 402.8h0M212.9 387.8h0M212.8 396.7h0M177.1 399.2h0M178.0 400.5h0M183.3 399.8h0M207.8 405.0h0M219.0 391.6h0M200.6 409.6h0M192.2 409.7h0M211.5 400.8h0M220.8 395.6h0M205.3 387.9h0M216.6 396.8h0M186.7 404.6h0M218.4 392.0h0M216.3 394.9h0M219.9 394.6h0M185.9 404.2h0M206.1 388.7h0M211.9 400.7h0M217.2 400.6h0M186.3 403.9h0M200.8 387.9h0M212.1 387.2h0M199.0 387.5h0M183.9 390.4h0M200.5 407.5h0M207.0 405.5h0M188.6 403.3h0" stroke="#4bdb6d" stroke-width="1.1" stroke-linecap="round" fill="none" stroke-opacity="0.9"/>
<path d="M179.3 411.6h0M194.3 382.9h0M204.4 415.5h0M179.7 390.4h0M222.8 406.0h0M220.5 393.6h0M200.6 416.0h0M177.7 392.3h0M228.7 393.2h0M225.6 396.8h0M221.2 401.4h0M190.9 382.7h0M226.2 389.1h0M204.7 412.3h0M176.7 398.3h0M180.8 387.8h0M174.8 390.2h0M172.7 400.5h0M218.7 390.9h0M225.6 401.5h0M172.6 399.4h0M176.8 396.9h0M194.8 416.7h0M174.5 389.6h0M222.2 386.1h0M179.6 388.7h0M222.5 406.6h0M194.4 380.0h0M174.3 389.6h0M177.1 406.4h0M176.0 389.8h0M176.7 395.4h0M218.4 405.3h0M221.2 398.3h0M225.2 398.1h0M168.5 396.8h0M219.0 409.3h0M185.4 381.8h0M169.1 401.3h0M221.0 402.3h0M221.4 395.6h0M210.5 413.8h0M222.5 390.6h0M209.4 414.1h0M226.5 398.8h0M219.9 392.8h0M182.0 412.0h0M219.1 404.5h0M218.3 382.6h0M221.1 400.4h0M181.2 388.6h0M172.2 395.4h0M198.0 416.3h0M176.7 395.6h0M196.6 415.8h0M223.6 403.0h0M224.5 403.1h0M221.1 400.1h0M201.7 381.9h0M176.4 396.9h0M218.8 405.6h0M225.9 394.9h0M224.4 404.2h0M177.3 394.1h0M179.3 411.4h0M225.5 393.0h0M191.5 411.9h0M181.2 383.3h0M183.8 382.2h0M219.9 402.2h0M176.8 400.0h0M220.7 393.6h0M174.7 402.6h0M173.5 392.1h0M180.7 384.0h0M184.4 382.1h0M217.1 387.0h0M181.7 383.5h0M220.6 408.5h0M175.0 409.5h0M221.1 385.6h0M184.6 411.1h0M176.4 398.7h0M172.0 394.4h0M171.4 395.0h0M168.7 401.0h0M188.4 381.1h0M229.0 393.1h0M183.1 386.8h0M180.9 381.8h0M218.1 406.5h0M192.4 379.4h0M220.0 403.6h0M188.3 414.3h0M186.4 381.6h0M218.0 410.2h0M185.7 382.0h0M212.8 409.5h0M212.5 384.3h0M194.7 412.8h0M198.2 412.6h0M225.1 396.0h0M205.8 411.7h0M225.3 397.6h0M217.8 409.6h0M168.1 398.0h0M220.9 407.4h0M169.6 402.9h0M224.5 401.8h0M194.0 380.1h0M208.2 382.9h0M221.4 388.6h0M190.2 383.5h0M216.9 410.4h0M172.3 395.1h0M178.0 385.8h0M183.4 383.3h0M224.1 392.0h0M176.9 395.7h0M219.2 383.2h0M187.0 384.4h0M220.4 393.5h0M222.7 406.1h0M185.9 410.7h0M173.0 395.2h0M187.6 411.2h0M179.5 385.4h0M173.7 402.0h0M210.5 413.4h0M222.8 390.3h0M220.5 408.4h0M168.7 394.1h0M221.1 395.5h0M172.5 396.1h0M177.1 399.5h0M182.0 387.2h0M174.6 407.2h0M171.7 405.9h0M218.6 406.2h0M192.9 383.3h0M177.0 388.3h0M176.4 399.0h0M174.3 402.2h0M179.8 389.4h0M173.4 407.3h0M184.7 410.2h0M215.3 408.0h0M187.5 411.6h0M222.6 406.0h0M173.3 402.0h0M213.0 381.0h0M212.2 380.3h0M179.7 389.1h0M176.9 395.3h0M187.5 384.0h0M185.9 411.4h0M212.0 412.8h0M172.1 399.0h0M175.8 388.2h0M215.0 412.1h0M221.6 400.0h0M172.4 396.8h0M174.5 401.6h0M201.9 379.1h0M176.4 392.2h0M171.5 397.0h0M216.0 381.9h0M221.0 394.6h0M170.8 404.9h0M217.5 410.6h0M213.8 413.1h0M182.4 409.4h0M169.6 402.5h0M172.0 397.8h0M224.7 401.7h0M171.9 399.7h0M173.1 391.4h0M197.2 415.9h0M195.9 379.5h0M184.9 382.3h0M191.9 415.5h0M194.0 379.6h0M200.1 382.2h0M184.5 385.4h0M221.9 395.8h0M220.5 393.8h0M203.4 382.1h0M184.6 386.3h0M224.3 402.4h0M224.6 402.5h0M222.8 389.8h0M168.5 397.0h0M173.2 393.5h0M224.6 403.9h0M223.3 405.5h0M183.9 387.1h0M189.1 381.2h0M173.0 391.9h0M176.0 389.3h0M222.2 398.2h0M209.9 414.0h0M213.6 384.6h0M220.3 408.2h0M176.8 392.9h0M211.4 413.3h0M218.9 409.4h0M224.9 401.5h0M193.8 415.7h0M224.8 394.5h0M219.7 409.8h0M220.6 388.6h0M203.5 381.3h0M221.8 385.2h0M225.1 401.4h0M180.4 408.8h0M215.5 407.8h0M179.6 388.6h0M221.0 394.5h0M229.4 396.0h0M219.0 409.4h0M221.7 389.8h0M171.8 395.8h0M225.5 396.4h0M176.1 410.0h0M217.1 382.0h0M213.5 384.9h0M213.4 412.8h0M173.4 394.2h0M221.5 395.6h0M177.5 392.0h0M176.9 398.2h0M221.7 395.2h0M226.0 388.5h0M222.0 406.2h0M176.9 393.0h0M219.5 409.1h0M221.5 399.0h0M184.6 385.9h0M225.1 400.8h0" stroke="#58d86c" stroke-width="1.1" stroke-linecap="round" fill="none" stroke-opacity="0.9"/>
<path d="M202.9 418.3h0M199.6 373.7h0M214.3 418.8h0M167.7 400.1h0M196.3 418.3h0M210.8 416.5h0M208.6 417.6h0M229.6 402.0h0M164.7 389.3h0M206.1 417.8h0M227.4 406.8h0M214.1 375.2h0M169.6 389.9h0M203.2 373.3h0M187.1 417.7h0M167.3 408.0h0M182.4 380.3h0M230.8 397.4h0M190.7 377.4h0M234.2 402.9h0M179.1 382.3h0M200.2 373.9h0M178.4 378.4h0M212.4 416.1h0M229.0 403.5h0M163.9 389.5h0M224.9 409.2h0M187.4 420.4h0M230.4 408.7h0M174.6 384.5h0M169.9 383.8h0M230.4 388.2h0M230.6 409.1h0M170.6 388.9h0M173.8 385.4h0M224.5 414.7h0M198.8 421.6h0M171.3 386.1h0M178.3 380.9h0M168.0 395.4h0M226.3 408.6h0M189.0 377.2h0M186.0 376.0h0M238.4 398.5h0M228.4 411.2h0M165.8 411.1h0M195.8 377.1h0M223.2 414.9h0M185.7 378.6h0M193.9 421.5h0M230.0 409.1h0M184.8 378.5h0M185.3 374.6h0M211.9 416.7h0M233.7 404.3h0M167.8 393.0h0M227.7 412.4h0M236.1 406.2h0M174.8 384.1h0M170.2 389.3h0M185.5 419.7h0M190.1 421.2h0M200.4 419.0h0M218.1 376.4h0M174.4 416.8h0M222.1 378.0h0M234.4 397.6h0M163.9 401.0h0M184.4 376.0h0M213.2 419.4h0M183.5 419.5h0M192.0 420.7h0M234.2 393.6h0M209.1 377.2h0M223.8 410.4h0M206.0 420.4h0M220.1 376.7h0M173.6 385.5h0M222.9 411.0h0M226.3 413.0h0M224.5 413.8h0M209.1 420.4h0M169.9 383.6h0M166.3 389.4h0M184.9 419.4h0M214.2 419.1h0M204.5 421.1h0M176.3 379.1h0M230.9 408.5h0M168.6 392.1h0M216.5 417.9h0M188.8 378.2h0M180.2 377.5h0M216.2 414.8h0M195.8 418.3h0M188.0 420.3h0M169.1 390.8h0M203.8 373.7h0M200.3 376.3h0M195.2 421.1h0M182.1 379.6h0M230.2 408.6h0M238.2 401.4h0M186.3 417.4h0M160.7 402.6h0M166.0 389.1h0M227.9 411.5h0M192.6 377.6h0M186.9 378.2h0M164.0 390.8h0M170.5 389.8h0M212.3 377.7h0M223.5 410.7h0M215.7 415.5h0M219.6 416.9h0M206.7 373.6h0M173.8 380.4h0M169.4 391.1h0M206.1 418.2h0M172.1 387.3h0M168.5 408.8h0M225.0 412.9h0M228.4 410.9h0M180.7 415.8h0M169.4 403.3h0M180.6 376.7h0M171.0 382.9h0M203.2 417.8h0M221.6 411.4h0M215.1 418.7h0M237.9 392.7h0M171.3 388.4h0M164.2 394.8h0M229.3 402.1h0M165.7 390.6h0M225.1 382.8h0M201.3 421.4h0M177.8 378.4h0M227.6 406.9h0M171.4 387.4h0M224.5 409.9h0M166.6 405.6h0M176.8 382.4h0M226.2 407.6h0M200.2 418.6h0M229.3 410.6h0M231.9 388.8h0M182.4 376.2h0M234.4 397.6h0M217.1 375.9h0M224.9 413.4h0M214.3 416.1h0M168.2 392.7h0M196.4 373.4h0M192.8 374.0h0M197.6 376.4h0M163.3 403.1h0M201.1 421.7h0M178.8 414.7h0M167.2 411.8h0M193.7 373.9h0M179.6 377.5h0M232.7 405.9h0M220.0 416.3h0M222.5 411.2h0M195.4 420.6h0M189.3 417.3h0M166.8 385.8h0M210.4 416.5h0M228.0 405.1h0M228.0 406.2h0M164.2 402.9h0M171.3 414.3h0M233.4 402.2h0M195.5 421.5h0M173.0 385.7h0M167.3 397.1h0M226.8 412.4h0M224.8 410.1h0M201.3 418.4h0M169.7 389.8h0M219.5 412.9h0M177.2 382.1h0M233.0 385.9h0M230.6 409.3h0M185.5 378.9h0M190.2 374.5h0M188.3 378.0h0M234.3 393.8h0M171.6 381.5h0M228.6 391.6h0M195.6 373.4h0M210.1 419.4h0M238.6 399.2h0M173.5 385.6h0M174.5 384.2h0M178.6 379.0h0M219.9 413.8h0M173.8 380.1h0M223.5 414.6h0M228.5 411.0h0M167.1 385.5h0M224.9 408.8h0M192.3 376.7h0M197.8 376.1h0M220.6 415.8h0M224.7 386.1h0M231.6 407.8h0M226.2 413.6h0M226.7 408.9h0M160.4 391.8h0M196.6 418.0h0M176.8 378.6h0M228.7 405.6h0M194.6 376.8h0M212.7 416.4h0M231.3 408.1h0M183.2 376.7h0M225.7 408.7h0M178.0 378.1h0M183.6 379.5h0M229.4 404.1h0M191.3 420.7h0M204.4 418.7h0M168.2 392.4h0M226.7 412.3h0M229.7 403.6h0M230.1 399.4h0M199.2 376.4h0M179.5 378.8h0M216.8 378.5h0M176.8 378.5h0M224.6 410.8h0M168.0 407.7h0M168.5 392.0h0M229.6 410.5h0M168.7 385.8h0M228.7 381.5h0M172.8 411.9h0M206.9 376.8h0M181.6 413.6h0M189.5 374.7h0M190.6 377.7h0M220.0 416.9h0M222.5 411.1h0M204.1 417.9h0M230.1 395.9h0M230.6 388.2h0M197.0 373.6h0M164.4 391.8h0M228.1 404.1h0M173.9 385.1h0M172.1 382.0h0M223.5 410.7h0M183.9 419.4h0M234.2 387.8h0M180.7 376.2h0M230.4 401.9h0M229.9 399.5h0M202.2 376.2h0M218.6 376.6h0M160.1 394.4h0M220.1 412.7h0M200.7 373.5h0M219.9 416.8h0M203.6 421.0h0M224.5 409.9h0M218.3 417.8h0M206.6 376.4h0M198.8 373.0h0M187.6 420.6h0M223.2 411.2h0M167.8 392.5h0M205.3 374.3h0M200.6 374.0h0M165.8 410.0h0M235.6 387.8h0M210.9 374.6h0M167.2 412.4h0M167.6 396.9h0M164.8 390.5h0" stroke="#65d56b" stroke-width="1.1" stroke-linecap="round" fill="none" stroke-opacity="0.9"/>
<path d="M229.5 419.3h0M200.5 426.9h0M220.3 423.8h0M177.2 375.6h0M192.3 426.3h0M195.3 368.9h0M187.4 369.4h0M193.6 368.6h0M176.1 375.2h0M159.3 385.0h0M154.5 394.4h0M183.3 425.6h0M188.2 369.6h0M174.0 420.2h0M200.7 424.1h0M169.3 379.7h0M154.4 406.8h0M220.9 422.9h0M196.4 424.0h0M237.6 413.2h0M193.9 368.1h0M165.1 418.0h0M224.3 421.5h0M172.5 374.3h0M161.8 387.1h0M207.5 423.2h0M207.6 426.4h0M204.4 426.8h0M201.5 426.9h0M222.1 375.6h0M223.1 418.9h0M212.7 368.6h0M186.9 368.7h0M240.7 407.0h0M212.8 425.2h0M182.9 422.5h0M223.9 371.9h0M171.0 378.4h0M234.9 377.6h0M199.4 423.8h0M223.0 371.0h0M204.8 426.9h0M154.3 398.3h0M192.5 426.4h0M203.9 367.9h0M192.9 371.0h0M195.0 368.0h0M236.8 383.1h0M237.7 412.1h0M180.5 424.5h0M224.0 371.6h0M159.0 398.9h0M210.3 422.7h0M161.8 380.9h0M161.0 381.1h0M234.5 377.0h0M186.6 369.7h0M238.6 395.2h0M235.9 408.1h0M194.7 426.9h0M224.3 421.4h0M240.2 386.7h0M227.5 420.4h0M198.1 367.9h0M158.7 400.6h0M227.0 376.3h0M231.2 379.4h0M220.1 371.4h0M204.4 370.8h0M189.1 426.5h0M226.7 416.6h0M165.1 418.4h0M221.6 422.8h0M201.3 368.9h0M162.6 385.6h0M230.8 374.6h0M202.1 368.2h0M212.8 371.8h0M215.4 369.4h0M178.1 371.5h0M208.3 371.6h0M198.2 368.3h0M218.5 373.0h0M231.9 412.3h0M186.5 423.1h0M162.9 384.6h0M225.2 376.7h0M231.4 376.3h0M196.9 371.1h0M150.7 399.5h0M172.4 374.3h0M202.0 426.9h0M151.6 403.4h0M154.6 398.1h0M187.3 369.1h0M207.5 426.5h0M172.7 377.1h0M156.6 410.8h0M177.8 371.8h0M224.8 372.4h0M201.9 423.9h0M156.5 404.3h0M215.4 421.5h0M173.3 376.7h0M222.1 419.1h0M180.7 422.8h0M233.3 376.0h0M223.9 375.1h0M191.3 371.5h0M152.3 405.9h0M221.9 370.9h0M191.3 423.1h0M181.2 373.8h0M195.2 367.9h0M239.3 410.5h0M243.0 398.2h0M228.5 415.1h0M173.2 377.5h0M190.7 369.4h0M240.8 389.2h0M237.2 405.7h0M219.0 373.7h0M214.9 369.5h0M196.4 370.8h0M231.7 413.1h0M195.2 426.7h0M187.0 426.2h0M186.5 426.1h0M225.1 420.7h0M224.5 420.7h0M202.0 371.6h0M166.9 415.8h0M171.5 418.4h0M192.2 368.9h0M161.1 415.4h0M199.3 423.7h0M190.3 426.1h0M243.7 400.0h0M213.8 421.8h0M172.1 373.6h0M243.7 402.6h0M210.1 368.9h0M203.1 371.4h0M182.9 425.7h0M175.2 423.3h0M178.7 425.0h0M204.0 371.3h0M189.0 368.8h0M179.4 374.5h0M193.4 426.8h0M203.7 423.4h0M232.8 411.4h0M237.7 404.3h0M168.8 375.7h0M199.1 371.0h0M240.2 411.1h0M170.5 417.4h0M168.7 379.7h0M199.3 368.5h0M194.5 368.0h0M211.2 425.6h0M201.6 368.1h0M234.5 409.6h0M178.1 375.0h0M189.4 423.7h0M157.2 405.4h0M212.6 369.3h0M216.7 424.2h0M200.7 424.2h0M221.8 419.1h0M229.8 418.7h0M219.2 424.0h0M239.6 387.0h0M238.5 385.4h0M214.5 424.9h0M213.1 425.4h0M231.3 379.5h0M206.8 423.7h0M198.8 371.3h0M166.1 419.1h0M198.1 424.1h0M158.3 394.5h0M215.8 370.2h0M203.1 426.6h0M192.5 368.1h0M180.0 421.4h0M244.1 397.1h0M170.3 421.5h0M155.0 390.8h0M227.9 373.8h0M204.8 423.2h0M221.8 418.8h0M158.6 397.9h0M189.8 371.0h0M238.3 386.0h0M154.7 400.6h0M207.2 371.4h0M204.0 371.4h0M235.0 377.4h0M241.1 405.8h0M161.6 406.2h0M180.5 371.4h0M212.6 422.2h0M180.9 374.3h0M168.9 375.4h0M185.7 372.9h0M231.9 416.8h0M186.0 372.5h0M236.7 389.6h0M187.2 372.6h0M174.1 423.2h0M224.3 372.4h0M217.0 421.3h0M221.4 374.8h0M197.5 370.8h0M181.4 373.6h0M159.2 401.4h0M242.0 389.7h0M190.0 426.0h0M205.5 367.9h0M156.1 389.7h0M239.2 394.7h0M233.4 415.9h0M200.5 424.4h0M188.8 426.5h0M189.4 371.8h0M222.0 419.1h0M187.0 369.8h0M181.7 370.5h0M178.0 371.6h0M220.2 423.3h0M242.6 394.0h0M179.3 424.2h0M175.8 375.8h0M198.1 368.7h0M159.3 414.1h0M220.9 370.8h0M171.1 378.9h0M160.8 410.9h0M207.7 423.6h0M156.8 388.5h0M175.3 376.3h0M238.5 390.1h0M188.6 426.4h0M171.6 420.9h0M187.9 371.8h0M232.4 412.4h0M187.3 423.5h0M184.6 372.8h0M233.1 411.3h0M215.7 424.6h0M175.5 420.3h0M241.7 407.4h0M173.2 373.8h0M219.4 422.9h0M208.3 423.6h0M165.5 377.7h0M177.0 420.6h0M227.3 416.7h0M209.2 372.0h0M160.2 382.3h0M204.4 368.8h0M175.3 376.2h0M212.1 425.2h0M181.3 422.1h0M221.3 375.0h0" stroke="#73d369" stroke-width="1.1" stroke-linecap="round" fill="none" stroke-opacity="0.9"/>
<path d="M226.6 424.5h0M240.9 414.5h0M246.8 405.7h0M215.4 363.6h0M184.2 363.5h0M188.0 432.6h0M190.2 430.0h0M141.1 398.0h0M250.6 388.6h0M240.6 377.8h0M209.5 431.1h0M217.9 366.9h0M198.8 429.7h0M192.5 366.0h0M194.3 365.6h0M154.9 410.7h0M206.5 365.2h0M218.5 367.2h0M174.5 369.9h0M152.8 380.2h0M232.9 372.2h0M186.5 432.5h0M161.5 423.5h0M179.9 368.3h0M206.9 364.9h0M225.0 423.7h0M151.0 411.3h0M189.3 366.5h0M222.6 368.0h0M250.4 406.0h0M151.1 404.4h0M175.4 369.9h0M216.2 427.4h0M223.2 367.9h0M172.6 370.5h0M221.9 425.8h0M178.3 427.2h0M214.0 428.0h0M181.4 367.1h0M199.9 432.9h0M201.0 432.6h0M246.4 384.2h0M213.3 430.4h0M156.7 376.3h0M185.6 364.1h0M160.1 373.7h0M154.3 384.1h0M229.7 371.2h0M179.3 427.2h0M240.0 376.8h0M200.8 365.2h0M185.3 366.4h0M181.9 364.5h0M247.5 402.0h0M233.5 372.7h0M217.9 427.1h0M175.1 425.9h0M179.5 430.9h0M188.7 366.4h0M160.9 419.9h0M180.8 365.1h0M228.3 371.0h0M154.3 419.1h0M204.5 429.1h0M175.9 426.7h0M181.9 431.0h0M212.1 428.2h0M238.3 376.3h0M150.5 390.6h0M247.9 378.2h0M203.9 362.6h0M145.6 399.5h0M149.0 407.7h0M156.4 380.2h0M185.0 363.9h0M150.6 411.1h0M247.9 411.5h0M203.7 429.4h0M238.0 417.2h0M218.6 367.1h0M252.8 394.5h0M151.1 382.1h0M171.4 425.2h0M172.3 371.2h0M202.4 365.3h0M152.2 412.1h0M194.9 429.7h0M187.4 432.1h0M167.3 423.0h0M214.2 428.0h0M216.3 367.0h0M251.4 392.0h0M201.2 429.6h0M230.1 421.9h0M166.9 426.7h0M155.9 420.3h0M180.4 430.2h0M217.5 430.4h0M180.4 427.8h0M151.1 389.7h0M220.6 426.4h0M163.0 372.4h0M152.6 386.9h0M222.3 426.2h0M209.7 431.8h0M222.8 365.8h0M213.7 365.9h0M251.9 400.3h0M241.7 373.7h0M214.2 427.9h0M201.8 362.2h0M210.5 366.2h0M193.8 432.2h0M229.6 426.2h0M214.1 427.9h0M236.7 374.1h0M224.8 427.8h0M205.0 432.4h0M178.3 429.5h0M251.9 403.1h0M159.8 418.7h0M167.2 423.1h0M151.8 380.8h0M146.7 401.8h0M204.4 431.9h0M192.9 365.7h0M163.7 375.3h0M190.3 365.6h0M182.0 367.8h0M192.4 365.8h0M239.3 420.7h0M233.9 423.3h0M254.1 388.5h0M173.3 370.1h0M248.6 411.8h0M152.0 386.3h0M236.0 374.0h0M166.4 422.8h0M227.0 423.0h0M160.2 377.4h0M178.7 430.5h0M153.3 384.1h0M208.9 363.4h0M218.5 427.0h0M150.1 398.8h0M176.2 426.8h0M255.5 403.4h0M221.0 368.4h0M237.9 375.8h0M206.4 365.1h0M150.1 399.6h0M209.4 365.6h0M223.7 369.0h0M155.8 417.1h0M174.9 369.6h0M186.0 363.7h0M205.0 428.6h0M195.5 365.6h0M211.7 431.4h0M226.7 423.3h0M164.9 422.2h0M223.1 425.7h0M200.1 429.6h0M231.0 368.5h0M216.3 427.5h0M221.5 365.3h0M250.6 388.5h0M165.7 374.2h0M207.9 431.8h0M241.5 373.7h0M195.7 433.1h0M145.8 401.4h0M194.0 432.9h0M240.1 415.4h0M161.6 420.1h0M194.0 365.7h0M252.5 395.0h0M208.2 366.3h0M219.7 367.5h0M187.1 366.1h0M209.4 428.8h0M199.3 429.7h0M157.7 380.1h0M210.6 366.1h0M162.6 424.5h0M236.2 374.1h0M172.3 370.5h0M228.2 422.8h0M193.6 365.9h0M163.4 375.0h0M188.0 366.3h0M166.9 373.2h0M225.5 369.0h0M242.5 379.7h0M232.5 424.7h0M198.3 429.7h0M217.2 430.3h0M220.7 426.7h0M222.7 367.9h0M221.2 368.4h0M140.9 399.9h0M228.9 423.2h0M193.2 429.8h0M212.9 366.7h0M245.7 382.5h0M182.1 367.8h0M177.6 430.7h0M153.6 384.2h0M187.1 429.1h0M225.1 369.8h0M211.4 363.1h0M192.2 365.3h0M157.2 417.7h0M210.1 365.6h0M167.7 423.4h0M225.6 369.2h0M207.0 432.2h0M192.4 362.8h0M153.0 379.0h0M233.4 420.8h0M183.0 428.7h0M196.6 365.5h0M231.4 371.5h0M185.1 428.8h0M251.7 392.1h0M235.2 377.1h0M184.5 366.6h0M150.1 397.9h0M227.7 370.0h0M220.0 367.9h0M241.9 382.8h0M243.2 417.2h0M177.5 368.5h0M212.4 366.6h0M163.4 374.9h0M207.6 431.6h0M216.9 427.0h0M236.0 418.3h0" stroke="#80d068" stroke-width="1.1" stroke-linecap="round" fill="none" stroke-opacity="0.9"/>
<path d="M172.5 383.7h0M238.0 371.8h0M245.2 389.8h0M240.9 453.7h0M288.0 403.1h0M274.0 358.8h0M140.8 360.4h0M151.7 456.7h0M286.4 372.8h0M282.3 414.7h0M101.9 406.3h0M170.2 332.1h0M248.2 343.1h0M117.0 398.5h0M131.6 356.9h0M105.3 389.5h0M149.2 459.1h0M281.2 377.5h0M261.8 382.4h0M124.2 435.1h0M261.7 398.8h0M296.7 409.8h0M231.3 411.6h0M282.6 392.9h0M162.1 442.1h0M170.1 417.3h0M154.4 443.9h0M279.9 427.4h0M288.5 391.6h0M279.1 402.4h0M194.2 464.7h0M251.2 363.6h0M284.6 404.0h0M163.8 426.9h0M144.9 407.1h0M153.8 386.2h0M284.3 384.1h0M154.9 359.4h0M266.5 358.3h0M250.5 361.1h0M173.5 440.9h0M118.8 383.8h0M287.9 400.5h0M262.6 343.7h0M131.6 445.5h0M195.3 367.2h0M266.3 427.1h0M141.6 371.0h0M121.9 409.3h0M167.0 442.9h0M185.9 419.2h0M198.0 368.1h0M235.0 348.6h0M239.1 390.6h0M106.4 414.6h0M144.7 415.8h0M143.5 416.8h0M134.8 404.8h0M127.2 385.2h0M139.2 403.0h0M184.7 351.9h0M272.4 367.3h0M129.1 380.1h0M173.2 430.1h0M115.1 430.2h0M265.8 351.9h0M119.5 412.7h0M292.0 381.8h0M217.6 442.2h0M163.5 448.8h0M230.7 407.4h0M179.3 365.8h0M267.9 400.9h0M154.4 380.8h0M214.4 343.8h0M212.6 432.4h0M155.2 420.1h0M273.3 438.6h0M278.2 359.9h0M153.1 446.2h0M157.5 381.7h0M256.7 359.4h0M164.0 386.2h0M147.8 435.5h0M228.6 408.5h0M181.2 377.7h0M235.9 362.1h0M276.5 396.4h0M179.3 351.2h0M103.9 384.3h0M207.9 458.4h0M122.1 358.3h0M289.8 416.9h0M121.1 364.0h0M272.1 357.3h0M149.3 392.6h0M251.1 405.9h0M124.5 410.3h0M197.7 424.0h0M286.9 379.8h0M229.6 421.6h0M287.6 390.3h0M179.3 383.0h0M267.5 360.0h0M235.1 365.6h0M193.2 439.0h0M297.8 397.7h0M278.6 360.0h0M276.3 396.8h0M108.7 420.2h0M252.0 411.2h0M153.9 433.7h0M175.1 361.2h0M154.4 444.7h0M251.7 412.7h0M276.0 377.9h0M237.3 365.9h0M163.3 447.3h0M293.3 386.7h0M259.5 368.0h0M259.3 412.6h0M137.9 387.3h0M109.0 400.5h0M121.6 416.3h0M169.3 439.8h0M280.4 423.6h0M115.9 389.1h0M246.7 404.2h0M209.0 362.6h0M295.4 404.0h0M198.5 362.4h0M125.7 370.3h0M208.7 443.5h0M283.7 419.2h0M217.6 425.4h0M276.6 384.6h0M118.2 412.3h0M272.1 444.3h0M192.9 344.3h0M181.0 379.1h0M243.4 454.1h0M231.8 394.9h0M167.4 354.3h0M147.6 372.1h0M103.7 398.6h0M226.8 396.0h0M184.3 427.9h0M204.6 373.6h0M166.8 372.4h0M264.9 352.6h0M147.8 412.0h0M262.7 402.4h0M226.2 371.4h0M204.5 352.1h0M156.8 457.8h0M171.7 373.2h0M213.1 415.6h0M197.1 444.6h0M165.2 373.5h0M198.6 430.2h0M285.0 386.0h0M129.5 434.5h0M173.8 446.4h0M103.8 405.8h0M134.5 429.7h0M137.9 368.2h0M121.5 415.5h0M221.3 339.3h0M203.5 421.4h0M293.2 390.8h0M159.0 447.3h0M141.3 348.0h0M181.8 427.1h0M240.3 355.7h0M242.0 363.6h0M252.6 457.1h0M185.6 349.1h0M239.3 367.2h0M224.9 399.4h0M238.1 393.3h0M252.7 351.5h0M269.9 418.4h0M123.9 388.9h0M264.3 356.0h0M117.2 385.0h0M162.5 377.4h0M136.0 345.0h0M212.7 437.1h0M249.2 381.4h0M136.6 434.7h0M204.7 349.2h0M293.8 410.6h0M172.0 451.4h0M241.3 350.6h0M247.8 379.6h0M152.1 398.4h0M231.6 406.7h0M204.7 443.7h0M179.5 439.1h0M108.2 384.8h0M158.1 439.3h0M250.3 382.9h0M229.2 369.7h0M247.6 354.6h0M217.1 427.4h0M114.8 375.5h0M111.2 399.8h0M143.8 444.9h0M128.3 417.6h0M172.3 431.7h0M233.7 358.0h0M168.1 441.7h0M159.4 458.5h0M226.3 397.6h0M201.0 450.3h0M135.2 417.1h0M200.3 435.4h0M271.8 407.1h0M246.3 454.0h0M220.0 424.8h0M194.8 434.3h0M255.5 372.4h0M288.4 403.9h0M268.1 366.6h0M213.4 420.1h0M209.9 428.3h0M231.6 393.4h0M133.2 418.0h0M270.0 405.3h0M245.1 352.3h0M282.4 366.8h0M195.7 367.2h0M179.8 446.8h0M135.2 345.9h0M167.9 406.5h0M130.8 431.0h0M211.2 372.0h0M269.1 396.8h0M265.3 442.7h0M151.2 398.3h0M122.2 380.9h0M267.1 388.4h0M165.3 390.6h0M110.0 401.9h0M195.3 362.5h0M124.9 367.6h0M152.6 416.9h0M245.1 444.8h0M246.9 352.7h0M169.2 356.8h0M160.8 452.6h0M183.3 433.6h0M147.1 429.8h0M174.0 372.7h0M176.3 387.6h0M284.6 379.7h0M123.8 420.5h0M190.8 333.9h0M291.7 373.2h0M142.3 426.4h0M272.8 385.5h0M136.2 433.7h0M142.2 450.5h0M222.1 420.2h0M239.1 373.3h0M258.1 433.5h0M229.9 408.2h0M130.9 392.4h0M276.9 381.1h0M115.5 431.6h0M183.4 369.0h0M182.2 456.8h0M185.7 434.5h0M175.9 423.7h0M110.6 391.3h0M225.6 428.3h0M233.9 402.2h0M173.8 372.0h0M271.2 373.2h0M106.4 415.3h0M104.0 385.3h0M210.8 427.9h0M166.0 403.4h0M273.3 367.6h0M221.3 421.9h0M254.0 392.6h0M227.6 381.1h0M139.1 365.0h0M212.9 415.9h0M224.5 376.0h0M279.7 392.2h0M128.3 442.6h0M237.7 340.6h0M122.8 421.2h0M216.0 348.6h0M236.3 428.7h0M240.1 397.4h0M137.2 395.7h0M140.3 439.7h0M232.3 359.0h0M265.7 391.3h0M233.6 463.2h0M177.1 383.4h0M191.3 357.7h0M297.5 393.4h0M203.3 428.6h0M177.4 385.0h0M255.6 345.2h0M178.3 361.9h0M200.8 357.9h0M284.1 379.7h0M203.4 362.4h0M109.9 407.4h0M222.6 338.4h0M120.6 432.8h0M152.3 442.4h0M294.2 385.8h0M141.4 445.7h0M160.0 451.6h0M138.1 435.4h0M222.5 374.1h0M195.1 439.7h0M269.7 380.6h0M187.1 379.5h0M215.0 428.3h0M177.1 442.9h0M146.0 441.7h0M182.3 360.5h0M133.1 440.8h0M120.4 356.3h0M277.7 429.8h0M236.4 364.6h0M222.5 436.4h0M134.6 434.1h0M118.9 421.3h0M255.1 358.2h0M268.7 382.7h0M267.0 420.4h0M286.2 382.9h0M157.4 359.2h0M211.9 359.4h0M126.2 441.7h0M209.3 383.0h0M244.0 378.0h0M137.2 419.0h0M138.2 431.1h0M108.5 402.0h0M222.6 344.8h0M185.0 373.7h0M178.4 434.7h0M131.6 428.9h0M223.5 355.2h0M118.3 396.8h0M123.8 422.9h0M195.9 352.6h0M149.9 436.1h0M271.4 354.7h0M280.9 366.9h0M246.8 403.7h0M178.2 416.2h0M222.7 350.6h0M201.2 377.1h0M115.2 371.7h0M118.0 380.2h0M249.1 417.2h0M162.6 395.5h0M229.6 387.3h0M116.9 389.6h0M199.5 362.5h0M219.9 440.3h0M213.0 442.4h0M205.4 341.8h0M230.2 391.8h0M145.2 350.7h0M116.9 432.6h0M287.2 387.2h0M223.4 371.2h0M175.0 366.8h0M284.1 368.9h0M127.8 395.2h0M101.9 395.3h0M197.1 439.3h0M116.2 391.9h0M130.7 423.7h0M294.3 404.3h0M222.4 350.3h0M121.8 413.5h0M236.2 440.8h0M107.0 410.3h0M130.9 391.5h0M207.4 338.2h0M207.2 433.6h0M181.3 461.7h0M129.4 440.4h0M253.9 345.8h0M282.4 381.1h0M231.5 406.6h0M257.4 384.0h0M233.5 395.1h0M218.5 417.6h0M274.8 359.6h0M162.8 440.1h0M157.7 429.9h0M265.6 390.0h0M286.2 421.8h0M201.9 442.2h0M190.9 442.4h0M236.2 456.8h0M243.3 350.0h0M230.4 359.0h0M260.1 445.0h0M128.2 414.4h0M152.4 444.7h0M276.2 415.8h0M177.8 443.5h0M222.5 408.3h0M280.5 415.1h0M160.2 458.9h0M149.6 415.0h0M219.6 329.7h0M281.3 391.0h0M254.4 378.3h0M272.2 386.4h0M261.3 352.8h0M234.7 442.1h0M290.4 386.4h0M179.5 366.1h0M174.9 384.0h0M123.0 406.3h0M136.5 401.0h0M263.8 382.7h0M280.5 373.2h0M208.1 362.9h0M264.2 358.1h0M160.4 358.1h0M289.8 394.6h0M210.1 378.7h0M222.5 423.4h0M261.8 401.5h0M247.5 366.7h0M199.7 420.3h0M292.9 396.8h0M131.1 415.8h0M160.2 433.9h0M151.1 455.5h0M167.6 348.7h0M184.5 442.2h0M283.0 379.9h0M277.7 371.5h0M164.9 391.0h0M170.5 436.7h0M191.3 438.9h0M127.1 379.0h0M219.4 357.8h0M224.9 372.2h0M205.1 335.7h0M113.5 378.0h0M178.1 446.8h0M255.8 358.9h0M117.6 407.1h0M136.1 401.6h0M104.7 382.5h0M210.0 363.3h0M242.3 357.0h0M133.9 376.9h0M270.3 361.7h0M125.4 415.1h0M279.6 371.8h0M133.4 347.5h0M145.4 453.0h0M132.8 422.8h0M168.4 338.6h0M253.4 378.7h0M224.4 360.9h0M259.8 397.2h0M274.2 372.8h0M166.7 434.1h0M118.0 421.0h0M219.0 441.3h0M274.6 392.9h0M156.4 353.5h0M280.1 370.7h0M165.3 343.8h0M142.5 414.3h0M271.1 375.3h0M227.8 340.7h0M214.2 368.9h0M123.0 430.9h0M137.7 423.7h0M293.3 383.4h0M208.8 363.7h0M185.7 443.3h0M140.1 351.0h0M136.1 420.6h0M178.1 366.7h0M271.1 353.2h0M195.6 443.5h0M239.6 383.0h0M198.8 438.4h0M274.8 401.6h0M121.8 424.7h0M115.6 396.4h0M239.9 410.8h0M240.9 424.3h0M122.0 434.3h0M250.2 420.9h0M180.2 360.8h0M220.7 360.9h0M101.6 391.1h0M207.3 429.0h0M221.5 360.0h0M105.0 418.3h0M107.5 378.1h0M226.5 416.8h0M278.1 392.4h0M231.3 364.5h0M259.8 348.3h0M268.8 360.4h0M282.7 432.7h0M163.2 451.2h0M204.9 347.9h0M117.8 408.5h0M192.1 439.5h0M220.9 434.6h0M225.8 367.0h0M156.5 440.9h0M180.1 337.3h0M174.7 431.4h0M207.6 352.8h0M171.3 370.5h0M112.3 427.6h0M186.8 353.6h0M130.2 428.3h0M131.0 443.1h0M228.1 353.8h0M131.5 444.3h0M186.6 425.2h0M154.4 369.8h0M223.3 349.8h0M281.3 381.4h0M260.1 353.1h0M209.1 445.0h0M208.5 417.8h0M216.8 370.7h0M264.9 374.0h0M262.8 369.8h0M158.3 452.5h0M203.6 362.1h0M193.0 363.0h0M202.7 352.2h0M176.3 361.8h0M121.3 416.2h0M238.2 361.1h0M248.8 344.1h0M293.3 416.8h0M289.7 403.7h0M194.2 373.3h0M233.9 461.0h0M175.8 389.3h0M171.7 419.3h0M177.1 431.2h0M280.5 388.8h0M248.7 367.4h0M288.2 390.3h0M140.2 355.6h0M220.7 349.9h0M134.4 444.8h0M284.1 405.1h0M283.6 415.7h0M121.5 365.9h0M160.5 385.7h0M182.2 370.0h0" stroke="#a8d080" stroke-width="1.2" stroke-linecap="round" fill="none" stroke-opacity="0.9"/>
<path d="M147.6 359.2h0M109.7 393.5h0M225.0 440.8h0M264.1 349.4h0M198.4 378.3h0M225.9 415.6h0M278.2 383.0h0M139.9 355.7h0M215.0 415.7h0M201.9 428.6h0M133.4 360.0h0M258.1 388.3h0M139.7 398.8h0M123.8 390.0h0M270.5 404.6h0M289.1 410.5h0M147.9 441.2h0M164.7 434.4h0M231.1 430.5h0M146.7 437.4h0M124.2 369.5h0M166.0 437.7h0M157.2 412.4h0M190.6 420.4h0M223.5 409.2h0M151.4 425.6h0M159.5 447.6h0M220.8 411.0h0M152.8 355.6h0M202.2 334.0h0M243.2 362.2h0M234.0 337.8h0M107.8 418.8h0M264.1 363.3h0M153.3 439.0h0M152.5 454.1h0M186.0 429.4h0M106.3 414.6h0M102.7 410.5h0M111.6 394.8h0M227.0 395.3h0M159.5 405.0h0M258.4 347.7h0M229.5 427.6h0M133.4 446.8h0M169.5 434.1h0M218.7 359.2h0M157.8 435.6h0M260.4 346.4h0M106.3 375.8h0M216.4 374.5h0M284.3 368.9h0M242.4 345.8h0M125.2 393.3h0M220.4 441.7h0M272.9 389.2h0M277.4 383.0h0M257.3 371.1h0M160.4 454.8h0M151.0 357.4h0M280.3 409.2h0M190.5 353.3h0M229.2 345.5h0M266.3 369.0h0M107.9 415.1h0M232.3 408.9h0M245.4 372.1h0M264.5 384.5h0M266.0 388.0h0M244.4 379.7h0M174.2 389.7h0M110.6 392.2h0M205.2 453.3h0M127.7 385.5h0M153.5 445.7h0M193.5 376.6h0M165.5 459.5h0M146.9 384.2h0M167.1 446.6h0M296.6 401.6h0M127.6 424.5h0M232.2 407.6h0M105.6 410.7h0M188.8 368.7h0M210.9 356.9h0M231.5 417.3h0M103.3 411.5h0M281.9 423.4h0M277.9 419.2h0M157.0 422.2h0M192.4 430.0h0M248.6 387.5h0M157.2 352.2h0M163.1 446.7h0M125.0 363.2h0M209.4 333.9h0M250.8 346.5h0M117.0 369.6h0M136.8 360.3h0M285.6 386.0h0M280.3 384.6h0M215.3 344.3h0M175.2 446.5h0M180.5 354.2h0M259.0 390.6h0M234.8 403.2h0M245.2 394.7h0M154.4 439.3h0M249.0 366.2h0M209.5 429.7h0M235.6 441.9h0M233.2 348.4h0M217.9 349.4h0M137.8 442.6h0M156.5 427.5h0M103.6 403.0h0M112.6 424.9h0M261.8 380.7h0M264.7 395.4h0M251.4 370.8h0M235.2 446.6h0M219.0 365.4h0M262.7 364.4h0M141.9 451.8h0M290.8 369.2h0M149.2 382.0h0M215.5 350.9h0M173.8 392.8h0M266.2 407.0h0M219.9 416.9h0M227.7 369.3h0M231.8 403.0h0M130.9 412.2h0M129.9 399.1h0M187.7 353.8h0M268.6 396.2h0M217.1 374.9h0M228.5 388.6h0M129.4 402.9h0M196.4 375.6h0M151.6 439.3h0M169.5 370.2h0M196.4 424.1h0M261.8 363.6h0M168.1 433.5h0M249.4 382.3h0M184.8 349.9h0M144.2 447.5h0M188.9 379.8h0M247.5 348.3h0M226.3 445.9h0M289.6 378.6h0M174.7 430.7h0M165.8 402.5h0M174.3 452.5h0M164.1 426.8h0M126.2 408.7h0M142.1 455.5h0M245.0 412.9h0M171.2 430.9h0M200.3 433.9h0M137.8 426.3h0M266.1 358.6h0M219.7 330.6h0M198.8 434.6h0M124.1 404.4h0M213.2 457.2h0M239.7 450.6h0M220.6 370.7h0M266.3 376.8h0M182.4 364.6h0M163.8 403.2h0M209.0 375.9h0M109.6 368.8h0M137.3 412.1h0M119.7 415.9h0M244.3 363.2h0M183.9 365.5h0M229.8 404.2h0M291.1 409.2h0M131.2 437.5h0M186.7 354.9h0M201.0 346.9h0M131.4 430.1h0M128.6 399.6h0M252.3 441.3h0M139.7 446.0h0M185.0 369.0h0M188.1 427.4h0M285.3 414.0h0M218.7 378.6h0M263.7 398.7h0M261.8 418.7h0M240.6 374.3h0M124.3 371.7h0M209.5 334.4h0M262.8 451.4h0M131.4 408.1h0M215.9 428.0h0M242.3 386.1h0M181.4 443.6h0M179.0 448.2h0M281.8 395.6h0M294.7 408.4h0M171.6 424.4h0M236.9 429.4h0M261.5 407.1h0M147.3 405.2h0M205.4 444.0h0M112.8 413.4h0M152.8 432.9h0M145.7 442.7h0M147.1 421.4h0M231.9 363.5h0M207.5 359.6h0M172.4 424.5h0M224.1 391.5h0M251.8 361.2h0M271.2 353.8h0M112.7 431.1h0M232.8 363.2h0M141.5 413.8h0M267.5 390.6h0M255.9 367.3h0M103.3 407.7h0M280.6 367.0h0M202.5 363.3h0M254.8 350.4h0M171.0 397.7h0M293.3 409.3h0M289.5 407.2h0M190.1 369.3h0M261.3 381.1h0M154.3 451.1h0M250.5 387.1h0M233.4 364.7h0M300.4 383.2h0M255.0 379.0h0M176.4 431.6h0M189.1 371.9h0M293.6 377.9h0M168.3 343.0h0M149.8 432.5h0M210.3 417.1h0M117.5 408.8h0M258.0 353.9h0M155.8 436.8h0M219.0 359.4h0M196.8 353.2h0M251.3 368.9h0M191.0 368.0h0M259.6 435.6h0M122.7 355.2h0M133.8 422.0h0M217.7 364.0h0M225.8 403.4h0M177.0 340.4h0M139.9 373.2h0M235.4 380.4h0M142.8 415.6h0M246.4 446.6h0M134.3 413.6h0M241.9 438.3h0M295.4 402.1h0M248.2 359.2h0M243.8 352.3h0M163.6 417.5h0M144.3 446.9h0M138.0 411.7h0M212.6 342.9h0M151.9 438.7h0M193.5 435.0h0M265.0 424.8h0M174.7 365.9h0M228.1 428.3h0M194.4 363.0h0M166.3 433.8h0M246.8 405.6h0M104.1 382.7h0M159.4 359.2h0M216.3 415.0h0M192.2 358.7h0M204.9 358.7h0M218.5 358.6h0M119.1 394.0h0M286.6 410.2h0M222.9 345.9h0M282.2 402.5h0M186.5 459.9h0M146.9 409.6h0M292.2 417.4h0M156.1 379.3h0M112.1 401.1h0M177.1 437.1h0M198.1 459.6h0M135.1 414.3h0M289.8 409.1h0M131.7 360.5h0M277.2 416.9h0M119.8 412.3h0M278.6 438.0h0M275.1 406.5h0M229.5 335.1h0M274.0 435.0h0M185.5 376.3h0M259.7 409.9h0M167.4 435.6h0M130.4 374.1h0M178.1 341.2h0M163.6 448.3h0M245.8 369.3h0M282.6 419.9h0M191.9 367.0h0M277.5 416.2h0M225.5 353.3h0M274.6 423.2h0M181.3 438.1h0M242.6 373.2h0M263.4 365.9h0M108.3 375.6h0M213.4 447.6h0M180.5 339.7h0M186.8 380.8h0M279.2 391.3h0M228.9 442.1h0M226.5 350.9h0M230.0 352.8h0M238.8 451.2h0M114.8 362.4h0M200.0 357.9h0M203.7 434.2h0M239.0 403.1h0M250.3 432.1h0M205.6 424.1h0M120.6 410.4h0M248.7 368.7h0M233.4 408.6h0M154.3 452.0h0M200.9 362.0h0M179.4 434.1h0M136.9 429.5h0M155.7 444.5h0M125.0 421.2h0M241.6 389.6h0M158.7 354.4h0M208.1 333.8h0M259.9 354.4h0M183.9 375.5h0M149.8 392.3h0M127.7 428.2h0M190.7 367.8h0M179.5 376.7h0M123.9 420.0h0M283.3 431.2h0M271.2 445.2h0M279.7 393.5h0M267.7 419.3h0M206.7 343.4h0M132.0 406.9h0M284.2 431.8h0M259.2 373.8h0M151.3 398.5h0M259.9 420.5h0M106.5 401.0h0M127.5 433.2h0M167.6 447.0h0M147.1 453.2h0M167.4 375.9h0M125.9 423.5h0M135.5 401.8h0M287.0 369.9h0M241.8 344.3h0M197.0 352.7h0M118.0 424.3h0M162.1 451.8h0M223.9 408.2h0M143.5 367.1h0M204.8 367.2h0M142.8 399.4h0M191.4 445.2h0M275.4 443.9h0M200.7 428.8h0M159.0 429.7h0M276.7 359.2h0M173.4 392.5h0M186.5 353.7h0M168.4 370.1h0M101.4 399.3h0M169.8 337.8h0M117.8 434.2h0M171.0 388.6h0M220.1 418.7h0M212.2 420.3h0M160.7 441.4h0M111.5 403.9h0M234.4 358.4h0M119.8 439.4h0M263.2 444.2h0M246.2 395.2h0M187.4 436.7h0M224.5 355.8h0M182.5 417.7h0M225.7 425.8h0M153.4 338.2h0M138.6 420.6h0M169.5 340.6h0M213.9 378.4h0M246.1 359.0h0M267.9 380.2h0M263.1 443.9h0M130.6 389.3h0M268.1 352.9h0M254.8 345.8h0M259.1 446.9h0M106.5 410.1h0M297.4 399.9h0M134.0 360.3h0M177.5 380.1h0M143.8 450.9h0M274.5 358.5h0M214.7 344.7h0M146.4 436.3h0M133.8 425.2h0M234.3 430.9h0M284.2 416.8h0M189.9 423.6h0M165.8 450.0h0M153.2 417.3h0M278.5 381.9h0M146.5 436.4h0M111.1 399.0h0M205.4 434.3h0M189.2 367.9h0M145.6 352.7h0M196.9 368.0h0M207.6 421.6h0M134.8 408.4h0M110.9 381.7h0M160.6 458.5h0M120.4 397.5h0M162.8 431.1h0M203.5 381.0h0M125.0 421.6h0M279.8 393.8h0M111.0 407.5h0M139.4 356.7h0M293.4 391.1h0M125.3 412.2h0M184.0 422.2h0M138.5 409.6h0M269.7 418.0h0M132.4 383.0h0M195.6 443.8h0M147.9 427.5h0M126.1 353.4h0M166.5 421.1h0M165.0 448.2h0M181.5 370.1h0M105.2 421.0h0M255.4 367.4h0M206.6 353.2h0M119.1 392.2h0M155.5 435.2h0M165.1 450.0h0M231.0 357.9h0M172.5 440.8h0M123.5 403.8h0M294.9 399.6h0M162.3 436.0h0M140.5 445.7h0M162.4 429.6h0M153.6 406.6h0M148.8 423.5h0M231.7 369.8h0M255.0 412.5h0M286.2 396.2h0M204.2 453.8h0M117.8 424.7h0M215.5 457.5h0M128.2 358.7h0M202.1 419.1h0M245.7 358.9h0M287.1 417.8h0M112.4 383.5h0M235.4 385.2h0M160.6 362.8h0M272.6 373.7h0M131.6 419.0h0M193.4 430.2h0M163.0 431.6h0M100.8 409.1h0M198.4 368.5h0M227.5 403.5h0M214.1 467.2h0M272.7 366.0h0M167.7 413.7h0M158.8 421.1h0M168.9 459.3h0M115.2 398.5h0M287.8 377.4h0M228.1 361.3h0M262.1 341.4h0M188.5 362.8h0M164.7 394.0h0M249.8 432.4h0M213.1 366.6h0M201.1 440.8h0M254.1 371.7h0M232.6 463.4h0M163.7 368.6h0M123.9 415.2h0M127.9 413.9h0M111.9 382.5h0M185.7 439.5h0M232.3 407.2h0M140.1 448.6h0M102.1 389.6h0M119.1 412.6h0M200.0 330.5h0M276.1 356.3h0M188.6 336.7h0M269.2 444.0h0M227.7 362.1h0M169.2 378.8h0M170.2 439.3h0M225.4 335.9h0M254.6 435.9h0M168.3 363.8h0M104.2 414.5h0M233.8 457.1h0M257.5 413.2h0M198.1 352.6h0M133.4 440.1h0M191.5 421.8h0M147.2 447.7h0M286.2 390.5h0M197.4 352.0h0M295.0 396.2h0M148.9 345.5h0M165.1 405.3h0M229.7 450.3h0M217.3 350.7h0M237.2 394.2h0M293.7 386.6h0M145.9 455.0h0M165.1 332.4h0M294.4 404.9h0M257.8 352.8h0M181.7 370.8h0M118.1 371.4h0M203.3 429.6h0M129.6 374.3h0M258.2 424.9h0M156.7 447.2h0M190.2 347.4h0M130.5 436.8h0M199.9 432.6h0M202.3 420.1h0M239.8 444.8h0M293.2 409.3h0M225.8 406.5h0M273.3 386.7h0M112.5 364.4h0M249.6 368.1h0M132.5 346.8h0M120.7 358.1h0M123.1 437.9h0M247.1 372.5h0M290.7 421.0h0M247.0 343.8h0M210.5 427.8h0M172.5 396.4h0M256.1 351.1h0M195.2 368.1h0M260.9 422.9h0M246.8 392.7h0" stroke="#acd07c" stroke-width="1.2" stroke-linecap="round" fill="none" stroke-opacity="0.9"/>
<path d="M236.7 385.4h0M193.8 335.9h0M281.7 365.7h0M197.7 436.0h0M233.3 365.1h0M131.8 421.0h0M183.0 427.9h0M226.5 362.5h0M223.9 423.5h0M210.1 448.1h0M210.5 373.7h0M199.7 367.2h0M281.9 404.7h0M157.5 336.5h0M296.3 404.0h0M133.7 362.9h0M117.6 411.8h0M275.9 364.8h0M296.5 408.9h0M170.2 389.0h0M117.0 423.2h0M296.2 395.1h0M172.6 384.0h0M251.3 344.5h0M133.2 430.4h0M183.7 373.9h0M190.6 372.9h0M233.3 406.1h0M263.3 351.0h0M111.7 415.7h0M198.8 366.0h0M160.6 357.8h0M129.1 428.1h0M223.2 435.9h0M267.4 444.5h0M255.3 363.2h0M225.8 350.2h0M132.0 429.8h0M275.5 441.7h0M119.1 381.8h0M138.3 366.8h0M287.4 413.5h0M223.9 365.1h0M269.5 382.1h0M246.4 364.4h0M264.2 371.9h0M253.7 369.5h0M135.3 447.8h0M234.5 377.1h0M236.7 421.9h0M173.3 370.6h0M249.4 366.5h0M163.0 450.1h0M136.3 365.2h0M260.2 348.4h0M232.5 363.6h0M275.3 396.8h0M255.7 372.1h0M254.9 369.7h0M163.8 395.1h0M266.8 360.3h0M129.6 419.2h0M213.8 367.5h0M103.5 385.7h0M130.4 373.0h0M230.7 331.4h0M251.0 379.1h0M177.6 349.9h0M120.1 410.4h0M166.3 444.0h0M170.4 396.5h0M273.5 386.7h0M121.0 438.6h0M106.8 393.7h0M270.9 445.1h0M156.2 436.1h0M190.2 344.0h0M237.6 355.1h0M249.7 374.1h0M162.3 453.5h0M176.5 386.7h0M261.7 369.3h0M150.7 436.0h0M146.6 427.7h0M294.0 406.5h0M221.2 446.6h0M260.0 411.6h0M124.8 390.0h0M270.3 346.2h0M210.0 432.7h0M230.1 362.3h0M214.3 432.9h0M272.2 383.6h0M138.5 388.0h0M221.5 381.7h0M177.8 370.8h0M207.4 344.0h0M222.6 415.9h0M200.1 431.5h0M242.0 384.6h0M169.9 431.4h0M188.3 452.6h0M260.6 402.5h0M199.7 377.3h0M188.8 454.3h0M243.0 460.5h0M252.2 411.1h0M258.2 376.3h0M195.8 337.2h0M127.5 413.5h0M175.6 429.4h0M263.9 435.9h0M116.4 424.1h0M166.4 392.1h0M106.8 378.7h0M295.0 386.5h0M252.9 357.1h0M295.7 404.1h0M207.8 337.5h0M204.7 357.7h0M260.1 400.6h0M168.6 445.4h0M139.4 364.6h0M140.1 443.5h0M167.9 428.8h0M125.8 415.1h0M258.5 367.7h0M169.3 369.2h0M293.0 395.4h0M281.0 386.1h0M147.9 435.9h0M196.3 439.1h0M233.3 441.7h0M225.5 408.8h0M257.1 348.4h0M245.1 352.8h0M165.1 413.2h0M150.6 448.9h0M190.0 424.6h0M154.4 437.3h0M180.8 427.1h0M174.4 389.3h0M170.4 450.2h0M184.5 432.8h0M231.7 375.5h0M196.5 468.4h0M274.0 404.1h0M270.1 393.8h0M280.7 425.8h0M119.9 414.3h0M226.1 341.2h0M237.3 339.4h0M172.7 395.4h0M116.2 388.1h0M211.9 443.8h0M283.3 383.0h0M272.1 408.8h0M233.9 343.9h0M151.0 369.0h0M250.7 432.3h0M211.7 427.0h0M243.8 363.6h0M293.0 419.4h0M124.9 422.9h0M253.5 388.6h0M237.5 429.8h0M148.9 362.1h0M124.5 362.1h0M214.1 353.6h0M261.4 373.9h0M190.0 443.7h0M239.8 365.5h0M114.2 418.6h0M287.2 384.0h0M215.2 456.9h0M189.5 358.7h0M187.4 459.4h0M263.7 433.0h0M223.7 367.3h0M106.1 376.8h0M211.7 357.8h0M249.1 361.2h0M135.8 416.9h0M176.6 362.0h0M186.2 369.9h0M117.2 393.1h0M127.6 425.3h0M192.0 368.7h0M280.8 381.9h0M184.3 414.2h0M136.3 369.1h0M244.1 408.8h0M120.0 416.4h0M195.4 363.2h0M131.8 382.8h0M216.5 428.7h0M247.2 374.9h0M296.5 405.8h0M200.4 447.6h0M208.5 357.7h0M144.9 415.3h0M199.3 428.0h0M252.0 357.2h0M253.3 356.7h0M114.6 403.3h0M170.3 439.7h0M280.3 369.2h0M114.6 429.2h0M202.1 439.0h0M223.3 460.2h0M149.7 341.9h0M131.5 451.6h0M296.1 394.0h0M281.7 364.9h0M235.1 378.7h0M175.9 385.3h0M129.5 389.4h0M148.6 358.6h0M264.8 413.5h0M209.3 424.7h0M234.0 347.8h0M220.3 339.4h0M297.0 395.8h0M180.4 370.4h0M219.6 368.0h0M158.8 436.4h0M168.4 375.0h0M134.1 446.7h0M230.0 406.7h0M113.5 416.5h0M224.2 407.1h0M218.7 354.2h0M192.8 433.0h0M109.9 398.6h0M238.8 379.5h0M173.2 425.1h0M223.0 339.5h0M202.6 455.9h0M186.1 364.5h0M217.1 415.5h0M165.6 372.9h0M247.0 418.4h0M124.6 439.8h0M166.9 343.5h0M136.6 429.6h0M240.1 345.5h0M191.2 334.2h0M181.3 437.2h0M220.2 436.8h0M133.4 412.4h0M179.8 365.5h0M268.1 360.2h0M180.0 421.3h0M272.9 355.7h0M138.5 429.7h0M179.3 383.0h0M272.4 376.3h0M164.1 393.2h0M217.5 369.5h0M194.6 339.8h0M149.6 350.0h0M155.5 414.7h0M136.0 415.9h0M250.4 354.0h0M251.9 363.5h0M188.4 463.9h0M108.1 390.7h0M236.0 413.2h0M116.5 418.0h0M189.1 444.7h0M115.3 378.7h0M172.2 381.5h0M209.6 424.4h0M260.2 432.6h0M213.5 358.0h0M201.6 421.8h0M157.6 398.6h0M224.1 410.1h0M147.5 421.4h0M144.7 378.2h0M131.1 438.4h0M214.2 368.3h0M248.0 375.7h0M166.1 365.2h0M206.9 353.9h0M212.6 452.3h0M188.1 463.8h0M167.5 364.6h0M209.2 418.6h0M164.4 433.4h0M285.2 383.8h0M140.5 350.0h0M118.0 368.9h0M215.7 426.0h0M186.1 374.9h0M147.2 347.1h0M250.4 438.6h0M281.5 429.0h0M132.2 446.5h0M197.0 426.1h0M164.4 459.8h0M172.8 440.6h0M205.7 376.6h0M112.2 367.5h0M116.8 369.3h0M251.1 386.5h0M168.1 347.8h0M141.6 425.4h0M182.6 339.9h0M152.4 369.0h0M127.8 384.3h0M150.8 423.2h0M136.9 442.2h0M132.3 422.3h0M119.9 438.2h0M253.8 376.3h0M203.8 381.3h0M271.1 440.7h0M164.1 449.5h0M214.8 359.2h0M107.4 392.3h0M270.5 445.3h0M272.9 375.8h0M265.4 375.6h0M189.6 434.4h0M208.5 423.9h0M164.0 382.4h0M227.7 401.3h0M254.3 377.0h0M230.4 380.3h0M178.1 376.1h0M148.1 435.9h0M263.7 436.7h0M173.1 466.2h0M283.7 369.7h0M131.3 401.5h0M228.7 362.1h0M205.3 422.8h0M233.3 416.0h0M210.8 456.8h0M216.4 434.5h0M198.8 434.5h0M253.6 350.1h0M252.1 356.4h0M215.2 344.2h0M183.3 438.3h0M106.9 414.3h0M245.1 436.4h0M154.4 424.8h0M108.0 417.1h0M136.7 442.1h0M147.7 361.5h0M160.6 364.3h0M145.6 442.9h0M261.2 375.6h0M192.2 459.0h0M238.8 360.7h0M297.5 377.8h0M129.2 375.0h0M165.9 435.3h0M212.6 377.4h0M290.9 384.2h0M152.9 397.6h0M138.5 445.6h0M224.8 460.1h0M233.5 383.2h0M215.2 374.0h0M179.1 462.3h0M277.2 418.2h0M209.9 448.1h0M214.5 446.4h0M266.6 403.7h0M268.4 360.9h0M145.7 440.3h0M214.9 363.2h0M194.2 419.5h0M224.9 430.4h0M106.9 399.3h0M250.9 367.5h0M129.2 366.7h0M254.0 381.1h0M107.7 397.4h0M126.3 432.3h0M293.5 389.9h0M293.7 415.6h0M147.3 404.2h0M274.6 405.5h0M117.6 431.2h0M272.3 361.9h0M274.8 400.4h0M201.1 372.4h0M172.7 384.9h0M241.5 415.2h0M216.6 420.1h0M230.3 353.9h0M117.6 403.0h0M166.2 404.3h0M205.3 338.3h0M242.1 363.7h0M126.1 360.3h0M230.1 348.4h0M130.3 395.3h0M245.2 454.5h0M267.1 369.4h0M148.7 436.3h0M227.8 362.2h0M177.8 432.5h0M168.9 386.4h0M259.2 389.9h0M222.7 358.4h0M230.3 432.2h0M120.9 425.3h0M239.5 351.2h0M275.8 383.0h0M155.1 450.5h0M244.1 346.8h0M287.7 383.5h0M264.9 429.1h0M241.9 385.4h0M221.5 466.9h0M131.8 409.7h0M108.3 403.9h0M205.0 359.0h0M102.4 408.5h0M122.9 395.5h0M249.5 434.2h0M256.3 416.8h0M176.3 406.4h0M245.2 340.6h0M110.8 397.1h0M233.7 403.8h0M280.8 427.0h0M294.9 384.9h0M118.3 391.4h0M124.2 407.8h0M250.7 355.4h0M122.8 362.3h0M193.0 455.1h0M280.6 372.2h0M248.4 352.8h0M278.1 370.3h0M263.2 354.8h0M229.4 345.9h0M135.3 349.3h0M247.6 440.3h0M230.9 380.7h0M143.0 398.0h0M155.8 354.3h0M254.8 430.1h0M183.4 369.2h0M149.0 410.9h0M239.9 366.7h0M188.8 348.1h0M212.6 448.2h0M111.0 399.7h0M140.9 413.1h0M253.0 378.2h0M215.2 358.4h0M244.9 436.4h0M222.3 355.9h0M156.6 382.3h0M174.2 342.8h0M223.5 341.7h0M136.9 439.3h0M190.3 429.2h0M113.1 408.6h0M144.5 402.9h0M124.3 421.0h0M286.8 389.9h0M204.3 465.5h0M244.2 355.9h0M112.1 428.9h0M277.2 380.9h0M115.6 397.3h0M122.0 393.9h0M271.8 389.1h0M165.1 444.5h0M227.9 426.4h0M285.3 359.6h0M272.7 364.9h0M178.5 457.9h0M111.2 411.3h0M161.4 373.8h0M157.4 384.3h0M293.9 413.4h0M160.8 441.5h0M110.2 392.5h0M282.5 375.1h0M132.8 354.1h0M127.6 441.9h0M242.5 356.9h0M223.6 423.3h0M226.5 345.5h0M196.8 376.4h0M242.8 363.4h0M250.9 416.8h0M207.6 333.7h0M149.2 375.2h0M160.1 378.8h0M186.8 369.0h0M174.3 447.6h0M245.0 363.4h0M231.7 381.3h0M135.5 414.8h0M276.0 397.2h0M210.4 447.7h0M176.7 388.4h0M123.5 405.5h0M175.9 376.9h0M131.8 436.5h0M125.0 423.6h0M274.3 394.4h0M113.6 409.4h0M275.1 402.8h0M283.4 418.7h0M260.0 391.6h0M245.9 383.1h0M186.1 433.4h0M247.1 346.0h0M285.1 430.9h0M295.9 406.3h0M199.0 366.4h0M104.0 406.3h0M272.7 442.8h0M202.3 377.1h0M233.6 348.1h0M229.6 341.5h0M246.4 365.0h0M170.2 369.5h0M129.1 395.5h0M146.5 352.7h0M222.4 418.5h0M235.0 441.5h0M198.7 440.7h0M167.7 437.5h0M250.5 426.1h0M244.9 342.6h0M140.3 435.8h0M231.8 368.6h0M175.2 436.4h0M137.8 391.6h0M130.9 393.1h0M136.3 437.3h0M164.3 432.0h0M122.6 357.4h0M286.9 401.8h0M138.1 345.3h0M268.2 378.3h0M216.8 444.4h0M121.4 395.1h0M279.8 389.0h0M180.2 432.2h0M145.2 452.3h0M258.4 360.5h0M138.9 410.1h0M254.8 363.3h0M178.7 461.0h0M222.7 343.5h0M181.2 410.6h0M138.0 376.7h0M207.4 339.1h0M257.3 453.0h0M285.9 414.0h0M255.6 373.3h0M262.4 438.4h0M223.1 410.8h0M274.0 366.0h0M220.6 412.6h0M102.8 382.6h0M170.5 406.5h0M177.7 436.2h0M292.5 410.5h0M143.9 346.4h0M140.9 430.3h0M238.0 433.9h0M225.1 415.5h0M165.6 379.7h0M277.1 382.1h0M227.4 412.4h0M226.9 421.9h0M162.5 427.4h0M116.0 395.4h0M255.3 346.2h0M107.5 376.4h0M225.8 348.9h0M215.0 330.7h0M115.2 396.4h0M214.6 438.2h0M111.2 385.4h0M138.0 427.5h0M204.6 439.3h0M295.5 402.2h0M231.5 364.6h0M292.9 387.2h0" stroke="#b0d488" stroke-width="1.2" stroke-linecap="round" fill="none" stroke-opacity="0.9"/>
<path d="M106.8 375.0h0M172.3 441.4h0M106.7 416.4h0M128.1 414.6h0M225.1 433.5h0M226.8 401.4h0M228.8 362.7h0M179.2 458.7h0M214.8 424.7h0M264.8 353.0h0M251.3 352.1h0M274.8 399.2h0M227.3 386.5h0M129.5 421.4h0M205.6 367.9h0M147.2 448.1h0M158.7 402.1h0M248.3 460.2h0M235.1 365.9h0M274.7 387.1h0M178.9 438.3h0M171.8 424.0h0M284.7 404.5h0M169.4 435.4h0M232.5 381.1h0M126.4 371.3h0M137.7 352.2h0M200.9 357.5h0M144.9 417.7h0M240.3 401.8h0M110.9 423.2h0M133.8 360.8h0M252.4 391.0h0M139.8 425.7h0M258.8 362.7h0M248.1 397.1h0M242.1 357.5h0M168.5 396.9h0M155.3 433.0h0M131.5 412.3h0M213.7 368.5h0M102.4 384.6h0M182.3 348.7h0M226.3 366.2h0M127.3 425.2h0M268.6 353.4h0M211.5 461.8h0M259.7 389.8h0M176.0 435.9h0M172.3 421.9h0M142.6 425.7h0M178.8 423.0h0M254.3 367.8h0M162.2 353.2h0M227.2 333.2h0M162.2 383.5h0M165.8 415.1h0M210.6 373.5h0M176.8 355.8h0M136.6 433.8h0M240.0 375.9h0M268.4 394.3h0M139.2 412.5h0M157.3 379.7h0M140.9 451.0h0M141.7 451.8h0M131.1 431.8h0M205.0 420.4h0M287.0 412.7h0M196.8 348.5h0M201.8 339.0h0M280.7 405.3h0M184.5 365.0h0M271.0 361.2h0M255.9 373.3h0M213.7 417.4h0M223.9 409.4h0M260.8 397.0h0M204.1 434.8h0M161.4 384.2h0M134.1 407.7h0M169.6 350.9h0M224.5 355.1h0M220.1 354.2h0M211.0 438.9h0M141.0 395.9h0M252.8 361.4h0M244.6 359.5h0M119.6 391.2h0M198.0 336.1h0M273.6 372.3h0M235.6 363.3h0M274.4 357.5h0M104.2 392.1h0M116.6 420.0h0M111.7 400.3h0M184.6 370.1h0M204.6 345.8h0M178.8 377.4h0M216.0 359.1h0M167.2 418.4h0M155.3 409.6h0M243.9 370.3h0M281.7 394.7h0M109.5 428.6h0M251.6 398.3h0M158.0 422.4h0M131.4 422.2h0M203.9 367.5h0M199.0 439.5h0M103.7 405.0h0M121.9 377.4h0M272.8 436.7h0M238.0 366.8h0M120.7 426.2h0M174.6 435.2h0M156.4 389.1h0M154.8 355.3h0M176.4 462.0h0M149.4 444.3h0M107.6 376.8h0M194.7 435.7h0M137.1 375.5h0M296.7 389.9h0M137.8 432.5h0M177.8 449.1h0M173.5 435.5h0M129.3 396.0h0M187.3 427.8h0M274.8 398.5h0M173.8 462.2h0M290.5 401.2h0M128.2 424.3h0M207.4 377.1h0M287.8 390.1h0M114.8 378.2h0M101.9 402.3h0M274.7 442.4h0M266.4 369.8h0M220.6 340.3h0M266.5 379.7h0M224.8 423.8h0M270.7 403.7h0M262.7 358.4h0M253.9 358.2h0M240.5 434.5h0M290.2 374.3h0M169.9 383.8h0M209.9 457.7h0M199.0 374.9h0M179.5 366.1h0M225.0 371.4h0M147.3 443.2h0M197.0 450.3h0M110.4 389.9h0M228.9 351.7h0M254.3 450.2h0M281.9 400.5h0M136.9 433.5h0M186.7 447.7h0M138.1 399.7h0M269.2 395.2h0M192.0 377.0h0M105.0 401.9h0M218.7 349.3h0M145.9 432.7h0M219.6 366.2h0M161.6 431.4h0M155.3 457.2h0M224.9 413.0h0M239.5 345.0h0M241.8 351.7h0M221.9 419.2h0M274.7 405.2h0M230.1 417.5h0M108.8 394.5h0M179.0 442.1h0M256.1 357.2h0M242.9 339.4h0M146.1 457.3h0M198.9 362.4h0M177.5 355.8h0M254.5 366.4h0M153.6 361.0h0M279.3 383.7h0M251.5 433.1h0M169.5 460.4h0M186.9 348.1h0M251.5 389.3h0M132.2 354.1h0M126.6 441.9h0M183.6 359.8h0M219.6 441.7h0M275.7 350.6h0M282.5 365.3h0M294.6 406.4h0M259.0 424.9h0M191.4 444.3h0M190.8 359.3h0M165.0 411.6h0M261.3 369.4h0M164.5 413.0h0M148.7 442.6h0M172.8 393.6h0M221.1 451.0h0M131.2 444.4h0M278.2 372.6h0M163.7 359.3h0M267.5 352.3h0M180.7 381.9h0M252.0 454.1h0M171.7 445.1h0M235.9 412.7h0M274.7 377.2h0M137.5 420.6h0M173.5 377.6h0M213.4 362.3h0M165.8 354.4h0M226.6 394.5h0M125.8 354.7h0M147.4 432.6h0M281.4 368.7h0M199.1 438.7h0M125.6 352.5h0M135.9 431.7h0M295.5 389.6h0M219.4 420.8h0M219.2 339.9h0M209.9 344.7h0M241.1 430.6h0M162.0 427.5h0M173.1 344.5h0M137.7 448.9h0M187.1 346.5h0M197.9 454.4h0M145.0 434.4h0M249.3 353.7h0M148.7 346.3h0M218.5 447.5h0M181.3 383.4h0M174.0 427.9h0M229.4 412.8h0M148.8 356.5h0M173.9 374.8h0M122.8 439.0h0M180.5 371.7h0M221.1 381.7h0M115.4 368.6h0M267.2 388.6h0M265.0 392.1h0M220.8 421.2h0M108.3 404.4h0M257.9 367.2h0M111.2 425.0h0M195.9 332.0h0M147.9 410.9h0M194.3 431.7h0M114.8 373.1h0M146.2 456.7h0M240.1 347.9h0M151.7 451.0h0M216.7 377.0h0M199.8 353.5h0M266.9 359.3h0M279.6 389.8h0M238.9 374.2h0M195.7 358.2h0M189.2 463.3h0M246.1 380.6h0M270.3 445.5h0M190.6 419.7h0M183.0 382.3h0M111.7 410.8h0M216.3 378.0h0M246.2 358.1h0M125.8 435.3h0M182.9 379.6h0M274.4 401.0h0M200.8 444.5h0M192.6 353.6h0M273.2 426.3h0M134.6 420.2h0M254.4 364.6h0M267.2 388.2h0M200.2 450.6h0M223.7 431.1h0M178.2 419.6h0M151.8 449.5h0M263.5 401.3h0M286.3 388.8h0M130.8 429.1h0M224.2 358.6h0M271.7 356.8h0M176.1 456.5h0M284.2 388.4h0M273.2 412.7h0M203.2 462.5h0M234.1 375.3h0M207.4 424.3h0M152.3 425.9h0M160.4 430.9h0M155.8 422.0h0M161.0 440.2h0M211.3 447.9h0M133.6 392.1h0M169.7 360.2h0M251.4 413.9h0M158.7 425.4h0M169.6 358.0h0M117.1 426.4h0M160.7 385.9h0M187.5 368.3h0M207.7 341.2h0M279.5 412.7h0M132.3 363.3h0M229.3 342.7h0M148.3 381.1h0M231.9 430.6h0M196.4 424.8h0M176.5 383.9h0M225.6 341.5h0M122.4 419.9h0M283.8 376.2h0M173.0 418.7h0M247.5 338.8h0M266.3 354.0h0M260.9 365.7h0M106.1 383.7h0M264.2 385.7h0M173.3 389.1h0M294.5 389.3h0M154.4 434.3h0M188.0 353.7h0M127.7 435.7h0M170.0 368.7h0M190.4 354.3h0M274.1 442.3h0M197.6 366.8h0M214.8 355.0h0M179.5 375.9h0M197.1 429.4h0M229.3 382.3h0M181.4 447.7h0M211.7 447.9h0M136.5 361.7h0M136.9 436.7h0M165.4 379.5h0M266.1 383.0h0M107.6 418.9h0M215.7 461.9h0M169.6 376.2h0M264.5 362.7h0M253.9 422.1h0M196.3 425.1h0M200.5 356.8h0M149.0 439.6h0M245.2 353.3h0M240.2 350.3h0M157.1 441.8h0M254.3 350.4h0M275.5 398.7h0M277.8 437.8h0M186.1 333.9h0M287.4 405.8h0M236.7 371.4h0M223.5 377.3h0M124.5 395.6h0M296.8 398.7h0M274.9 377.5h0M263.6 359.9h0M187.2 359.0h0M172.4 340.4h0M170.3 383.7h0M254.1 428.2h0M279.8 413.0h0M270.4 430.2h0M162.9 436.5h0M233.6 369.4h0M114.7 432.3h0M128.5 393.3h0M128.9 437.2h0M154.8 428.8h0M233.8 414.9h0M164.2 436.3h0M230.0 368.8h0M111.6 416.3h0M164.4 401.9h0M196.2 438.2h0M161.1 388.4h0M210.7 368.3h0M161.0 406.4h0M145.4 458.5h0M220.0 369.6h0M155.8 336.1h0M128.6 351.6h0M210.0 370.1h0M185.5 443.2h0M224.4 339.7h0M220.9 410.9h0M293.6 400.0h0M126.6 413.6h0M281.2 400.5h0M153.8 456.2h0M203.5 355.2h0M180.3 370.9h0M261.6 378.5h0M229.3 431.5h0M282.2 434.0h0M122.8 424.2h0M142.7 428.9h0M137.9 443.3h0M130.6 419.1h0M188.7 442.1h0M161.9 364.0h0M196.3 333.8h0M178.8 381.7h0M211.2 358.3h0M246.2 370.9h0M257.1 362.7h0M270.8 430.5h0M183.2 423.6h0M267.4 355.4h0M175.1 455.7h0M289.4 374.0h0M198.2 333.7h0M275.0 397.8h0M215.2 358.8h0M237.4 410.2h0M275.8 366.3h0M105.3 416.3h0M245.8 408.3h0M278.8 426.6h0M204.1 359.1h0M129.7 401.6h0M271.5 372.2h0M143.2 396.1h0M278.5 385.2h0M234.6 376.7h0M150.3 456.1h0M129.1 399.8h0M138.7 374.1h0M143.0 417.8h0M113.1 367.4h0M153.2 397.8h0M255.8 373.0h0M147.9 440.2h0M197.8 428.7h0M185.8 359.5h0M197.3 433.9h0M103.6 388.5h0M205.8 355.6h0M271.9 358.6h0M120.1 414.5h0M273.0 371.6h0M113.5 387.8h0M184.4 432.8h0M173.1 357.6h0M267.1 410.5h0M128.9 347.9h0M278.6 371.5h0M153.2 451.4h0M255.3 372.5h0M128.1 427.2h0M295.4 402.2h0M246.3 341.0h0M132.8 431.6h0M241.2 339.5h0M239.7 363.0h0M113.9 365.6h0M111.0 398.0h0M153.5 432.8h0M215.0 330.4h0M209.9 466.1h0M107.6 402.0h0M261.6 371.0h0M130.1 427.5h0M144.5 386.4h0M123.5 428.7h0M232.6 452.6h0M240.5 426.5h0M157.6 371.9h0M254.0 366.4h0M238.0 369.3h0M195.6 454.0h0M191.6 436.0h0M195.7 425.5h0M231.8 356.7h0M102.4 389.2h0M169.5 461.0h0M141.2 432.2h0M273.5 358.2h0M206.4 445.2h0M172.4 382.3h0M194.4 434.1h0M245.5 363.9h0M229.1 357.5h0M261.4 389.5h0M247.0 381.0h0M179.6 376.3h0M191.1 443.1h0M216.8 422.1h0M249.2 384.0h0M170.2 435.9h0M183.3 362.7h0M287.2 370.6h0M179.1 346.8h0M225.5 450.0h0M203.0 419.3h0M146.1 441.9h0M127.6 426.1h0M278.9 431.0h0M154.4 445.7h0M106.6 374.3h0M175.1 374.7h0M156.7 448.1h0M187.8 458.0h0M119.0 358.9h0M239.8 399.4h0M256.5 441.6h0M230.1 428.6h0M127.9 418.7h0M106.0 391.4h0M212.0 352.4h0M277.6 359.2h0M202.0 349.0h0M227.1 367.7h0M236.8 451.8h0M135.8 392.4h0M277.7 431.9h0M148.0 443.4h0M174.2 362.4h0M168.2 422.5h0M132.5 439.8h0" stroke="#b8d890" stroke-width="1.2" stroke-linecap="round" fill="none" stroke-opacity="0.9"/>
<path d="M138.7 434.0h0M284.3 370.6h0M109.6 399.4h0M106.8 399.4h0M105.9 385.7h0M209.9 367.8h0M135.3 440.2h0M143.6 348.2h0M247.5 342.4h0M191.0 329.4h0M143.8 422.1h0M254.5 455.2h0M201.5 445.5h0M109.2 414.9h0M195.1 377.2h0M267.5 439.7h0M253.1 364.0h0M178.5 340.4h0M191.1 453.4h0M167.4 420.6h0M170.2 429.1h0M169.2 453.7h0M291.8 387.5h0M184.2 444.1h0M212.7 428.0h0M201.3 367.7h0M137.0 449.1h0M178.6 416.0h0M239.1 425.7h0M166.7 437.5h0M119.7 422.5h0M138.4 443.8h0M186.7 344.4h0M150.3 395.8h0M208.9 371.6h0M178.8 451.9h0M164.6 438.0h0M212.1 369.0h0M198.1 468.5h0M106.2 410.0h0M122.7 413.6h0M169.0 371.1h0M150.4 432.4h0M171.8 393.8h0M239.0 395.2h0M296.3 413.8h0M100.7 405.1h0M259.3 367.3h0M116.2 386.4h0M126.8 442.6h0M167.6 463.1h0M263.1 370.6h0M206.5 344.5h0M258.3 434.3h0M120.6 435.7h0M186.9 428.8h0M134.2 445.3h0M118.2 392.2h0M138.9 396.3h0M187.1 372.5h0M130.1 429.4h0M210.8 367.3h0M293.6 410.7h0M171.9 379.4h0M204.9 433.0h0M211.5 463.0h0M239.1 434.1h0M200.9 353.4h0M133.0 422.3h0M206.4 361.6h0M129.2 416.3h0M125.4 405.3h0M275.4 368.9h0M213.2 417.9h0M104.7 405.1h0M128.2 392.6h0M237.4 367.3h0M146.7 391.0h0M142.8 424.2h0M185.5 365.7h0M205.7 466.3h0M267.7 379.3h0M227.7 340.1h0M203.5 341.1h0M179.3 443.1h0M248.2 393.5h0M278.9 374.9h0M166.4 389.6h0M131.0 437.7h0M295.2 397.7h0M153.5 438.5h0M104.5 385.9h0M190.1 353.0h0M143.5 433.1h0M293.3 412.7h0M113.7 416.1h0M106.2 375.9h0M197.1 368.0h0M205.2 336.2h0M217.0 364.6h0M270.3 363.2h0M231.2 364.9h0M112.5 373.1h0M111.2 402.3h0M276.3 400.4h0M214.6 456.2h0M205.2 362.0h0M119.6 429.2h0M122.0 426.5h0M175.2 363.0h0M252.2 390.0h0M196.5 429.7h0M179.9 377.6h0M184.6 380.8h0M254.3 422.9h0M283.8 396.8h0M122.5 444.9h0M191.7 347.2h0M190.5 362.8h0M238.0 441.6h0M103.2 406.1h0M154.1 382.8h0M144.5 342.1h0M224.4 407.8h0M247.5 426.8h0M145.6 434.3h0M248.8 446.1h0M240.9 423.1h0M220.3 389.3h0M260.1 400.8h0M153.0 445.8h0M126.2 413.7h0M194.7 351.8h0M242.6 361.9h0M177.0 436.2h0M128.9 394.5h0M256.5 384.0h0M254.8 362.0h0M163.9 354.8h0M159.2 445.4h0M214.0 443.8h0M139.2 399.0h0M266.9 410.3h0M102.1 403.0h0M158.0 452.7h0M161.3 345.0h0M151.2 450.4h0M107.8 430.9h0M132.7 355.3h0M175.9 450.3h0M142.6 356.3h0M186.2 442.8h0M213.9 356.9h0M284.8 383.1h0M149.9 411.7h0M100.6 386.8h0M209.7 429.6h0M114.7 429.4h0M183.3 365.7h0M122.6 364.1h0M121.9 418.6h0M135.4 414.4h0M243.5 376.8h0M241.6 400.4h0M132.0 433.9h0M112.9 366.2h0M165.6 393.2h0M259.1 383.0h0M180.1 432.2h0M172.9 393.4h0M158.3 445.5h0M229.3 388.3h0M140.9 348.9h0M113.1 437.4h0M270.5 383.6h0M214.0 458.6h0M147.4 382.5h0M272.9 354.1h0M221.3 360.4h0M120.1 426.9h0M140.7 415.0h0M142.7 391.8h0M162.9 418.3h0M277.4 429.9h0M198.4 332.9h0M285.5 432.7h0M152.2 408.6h0M226.0 454.1h0M281.9 395.9h0M268.7 378.9h0M179.0 335.9h0M142.2 438.4h0M155.6 458.1h0M204.9 438.9h0M225.0 364.9h0M111.6 426.6h0M190.4 419.7h0M203.1 468.1h0M126.6 439.0h0M129.0 368.5h0M244.0 452.5h0M239.0 392.6h0M227.8 401.7h0M134.3 392.7h0M268.8 412.5h0M275.0 367.0h0M294.3 386.9h0M186.0 443.8h0M274.5 405.8h0M167.4 440.1h0M196.4 349.6h0M198.1 419.3h0M151.5 399.9h0M130.5 418.2h0M235.7 434.9h0M130.7 410.0h0M252.1 432.3h0M151.2 380.6h0M181.3 378.3h0M222.0 335.7h0M290.9 420.8h0M270.7 418.0h0M194.8 366.7h0M251.4 359.7h0M215.0 446.6h0M122.7 401.9h0M193.7 452.6h0M157.3 422.0h0M200.4 453.5h0M154.1 451.2h0M202.6 327.6h0M197.3 428.2h0M228.0 363.3h0M256.5 433.5h0M269.2 439.6h0M205.0 368.6h0M185.2 428.7h0M142.5 395.8h0M209.7 332.1h0M192.8 420.7h0M181.5 450.6h0M227.0 425.3h0M124.7 433.5h0M295.4 403.4h0M261.4 437.0h0M279.0 429.6h0M237.4 349.7h0M283.0 379.9h0M212.7 353.0h0M218.1 422.7h0M168.9 455.6h0M245.4 420.8h0M201.5 429.7h0M191.7 434.0h0M151.5 404.0h0M226.7 384.7h0M235.1 402.9h0M242.2 346.1h0M194.5 357.1h0M241.8 422.1h0M267.5 399.0h0M282.0 393.5h0M126.1 448.5h0M188.5 469.3h0M159.8 442.0h0M210.9 329.2h0M161.6 443.3h0M105.7 412.0h0M258.3 360.4h0M283.7 412.2h0M176.5 426.5h0M200.9 365.9h0M287.0 378.8h0M169.2 415.6h0M148.4 429.8h0M272.9 404.9h0M268.8 365.1h0M114.3 390.8h0M268.0 379.5h0M211.3 457.7h0M181.1 448.2h0M230.2 377.1h0M203.6 420.2h0M185.7 425.8h0M186.9 335.3h0M172.4 375.9h0M161.6 457.3h0M222.6 453.7h0M222.8 389.3h0M217.0 359.4h0M114.1 429.7h0M156.2 385.0h0M155.5 381.0h0M214.1 428.4h0M112.7 429.7h0M170.2 397.7h0M271.2 363.9h0M224.8 346.7h0M254.5 352.0h0M141.7 372.5h0M187.0 364.3h0M222.8 354.8h0M293.7 385.8h0M241.0 355.1h0M288.6 376.4h0M230.3 419.1h0M290.1 399.9h0M156.7 396.4h0M156.0 445.9h0M173.2 438.8h0M247.0 359.4h0M188.3 365.2h0M146.8 454.7h0M273.7 414.8h0M225.7 361.9h0M251.1 344.7h0M152.3 336.1h0M247.0 401.5h0M231.5 399.5h0M133.3 426.9h0M184.7 377.4h0M154.7 342.7h0M215.4 421.4h0M265.4 372.7h0M117.7 413.9h0M252.8 407.3h0M175.5 453.4h0M217.9 437.4h0M166.0 459.8h0M273.5 422.9h0M189.2 339.0h0M155.6 434.8h0M188.1 438.2h0M125.3 413.3h0M216.3 366.1h0M221.0 452.4h0M142.2 446.2h0M169.3 451.0h0M233.1 422.2h0M135.0 432.5h0M112.9 427.3h0M250.2 353.5h0M164.6 395.6h0M261.1 350.9h0M273.7 443.4h0M132.8 372.7h0M207.8 366.0h0M256.2 380.5h0M131.6 406.2h0M121.1 435.7h0M144.6 392.4h0M176.5 420.4h0M255.7 350.9h0M209.9 437.5h0M220.9 344.3h0M142.4 369.8h0M212.6 367.6h0M215.0 338.0h0M231.0 407.3h0M229.0 334.9h0M201.4 429.1h0M149.6 424.4h0M155.8 440.0h0M278.0 359.1h0M214.7 438.3h0M249.2 448.1h0M120.4 380.0h0M225.5 415.3h0M105.4 416.9h0M272.1 370.2h0M268.5 384.1h0M161.5 443.6h0M180.1 427.2h0M135.3 355.8h0M189.3 443.7h0M182.1 359.5h0M269.2 392.2h0M222.8 408.3h0M199.7 363.1h0M228.0 420.3h0M176.9 337.3h0M115.2 398.9h0M168.7 383.5h0M177.6 371.4h0M163.5 442.1h0M273.1 358.8h0M290.4 371.2h0M257.6 348.3h0M278.5 357.9h0M232.7 416.8h0M152.6 444.8h0M176.8 415.6h0M119.0 425.6h0M294.7 409.7h0M163.5 437.6h0M248.0 361.6h0M176.2 385.0h0M291.7 387.2h0M171.1 411.7h0M239.6 438.4h0M220.2 364.8h0M163.3 432.1h0M206.5 463.1h0M144.4 416.1h0M160.1 429.8h0M214.7 380.3h0M133.9 440.5h0M287.5 407.1h0M191.9 428.5h0M246.6 458.8h0M208.4 333.2h0M160.6 368.7h0M116.3 421.7h0M195.6 459.7h0M151.7 374.9h0M113.3 417.4h0M170.3 445.0h0M188.7 428.3h0M141.7 426.9h0M260.9 400.3h0M116.9 414.2h0M131.5 355.8h0M176.8 466.7h0M151.1 402.2h0M151.9 395.6h0M174.5 386.8h0M177.9 383.9h0M170.7 424.5h0M154.5 456.2h0M228.4 458.6h0M283.9 416.4h0M234.4 344.7h0M238.0 361.0h0M246.6 459.2h0M267.9 390.2h0M218.5 423.9h0M286.7 363.5h0M145.6 380.4h0M141.9 391.7h0M145.6 410.1h0M262.8 357.3h0M249.6 452.5h0M118.1 391.7h0M216.8 427.6h0M148.7 344.6h0M286.1 430.6h0M171.3 400.3h0M173.3 436.3h0M262.4 380.1h0M284.4 420.1h0M159.5 422.5h0M258.3 353.8h0M118.7 435.5h0M263.8 429.3h0M235.0 364.7h0M112.3 379.4h0M190.7 368.2h0M146.6 374.0h0M162.7 454.2h0M283.3 381.7h0M148.6 429.1h0M154.7 450.3h0M248.7 452.4h0M144.7 434.5h0M225.3 346.9h0M105.4 380.1h0M173.9 456.2h0M204.6 437.4h0M185.0 334.2h0M154.9 434.4h0M151.3 437.4h0M246.8 416.7h0M253.9 430.5h0M210.1 468.4h0M195.3 365.7h0M247.8 361.4h0M137.1 416.7h0M159.3 377.5h0M152.7 389.4h0M190.3 352.4h0M252.9 349.4h0M192.6 454.5h0M218.1 358.3h0M199.7 350.0h0M162.8 431.6h0M200.8 425.7h0M167.3 405.4h0M125.0 446.5h0M225.0 403.4h0M247.0 365.7h0M255.9 363.0h0M272.9 364.5h0M138.9 410.0h0M106.9 374.2h0M267.0 374.3h0M116.1 375.5h0M269.3 401.3h0M230.9 348.4h0M117.4 421.9h0M231.8 348.5h0M112.4 414.2h0M287.3 411.7h0M157.2 426.1h0M164.2 367.6h0M238.9 424.6h0M266.4 367.6h0M168.0 384.9h0M242.0 417.6h0M177.5 433.1h0M271.2 369.9h0M222.0 449.9h0M187.9 370.7h0M281.2 378.3h0M245.1 358.7h0M161.4 383.8h0M129.8 437.4h0M268.9 393.6h0M286.5 412.2h0M139.9 394.3h0M277.1 371.7h0M108.7 379.9h0M171.3 388.2h0M166.5 443.3h0M219.8 340.0h0M199.6 334.2h0" stroke="#c0dc98" stroke-width="1.2" stroke-linecap="round" fill="none" stroke-opacity="0.9"/>
</g>
<defs><radialGradient id="gc"><stop offset="0" stop-color="#30e870" stop-opacity="1.0"/><stop offset="0.6" stop-color="#30e870" stop-opacity="0.7"/><stop offset="1" stop-color="#30e870" stop-opacity="0"/></radialGradient></defs>
<ellipse cx="199.5" cy="395.5" rx="11" ry="8" fill="url(#gc)"/>
<defs><linearGradient id="sc" gradientUnits="userSpaceOnUse" x1="0" y1="259.8" x2="0" y2="399"><stop offset="0" stop-color="#1410e8"/><stop offset="0.12" stop-color="#1838f4"/><stop offset="0.3" stop-color="#1a60f4"/><stop offset="0.55" stop-color="#1a98f0"/><stop offset="0.8" stop-color="#20d0f0"/><stop offset="1" stop-color="#28f0d8"/></linearGradient></defs>
<path d="M195.65,262.86 A4.25,3.06 0 0 1 204.15,262.86 L202.60,399.00 L197.20,399.00 Z" fill="url(#sc)"/>
<ellipse cx="435.5" cy="397.5" rx="105" ry="75" fill="none" stroke="#f0f0f0" stroke-width="0.8"/>
<g filter="url(#bl)">
<path d="M436.4 395.7h0M439.3 395.7h0M433.9 395.1h0M436.9 394.8h0M435.0 395.3h0M437.0 393.0h0M438.2 394.4h0M435.2 395.8h0M435.4 394.1h0M436.5 395.7h0M434.1 396.8h0M434.6 393.9h0M438.3 396.2h0M436.7 395.8h0M435.7 394.7h0M439.4 395.9h0M436.3 395.7h0M439.8 395.1h0M437.1 392.9h0M436.1 396.2h0M435.0 393.0h0M435.1 397.0h0M434.7 396.0h0M440.4 395.6h0M438.8 393.6h0M438.0 397.2h0M434.7 394.2h0M439.2 396.6h0M437.7 393.2h0M437.6 396.0h0M440.0 394.5h0M439.0 395.3h0M439.2 397.4h0M436.4 395.1h0M437.7 394.3h0M436.5 395.5h0M436.4 396.1h0M433.2 394.3h0M439.9 396.7h0M438.3 393.7h0M435.7 394.8h0M437.1 395.9h0M437.7 394.3h0M435.7 395.4h0M436.5 395.2h0M435.5 396.4h0M435.7 396.0h0M436.8 395.7h0M434.1 396.6h0M439.9 396.5h0M434.7 395.6h0M436.5 395.5h0M437.5 394.8h0M436.8 396.3h0M436.8 396.1h0M437.2 396.2h0M439.0 394.0h0M435.2 395.6h0M437.4 393.4h0M439.6 395.3h0M433.3 394.3h0M436.7 398.3h0M438.0 396.6h0M434.4 396.9h0M436.0 397.4h0M438.2 395.1h0M435.1 398.0h0M438.4 393.3h0M435.6 395.2h0M437.1 397.3h0M437.7 396.6h0M435.0 394.0h0M436.6 395.0h0M435.6 397.7h0M438.5 395.3h0M437.7 396.5h0M436.1 394.7h0M436.8 392.8h0M440.1 395.7h0M435.6 394.3h0M433.3 396.1h0M435.3 397.8h0M435.3 397.3h0M435.9 396.2h0M436.5 395.6h0M437.5 393.4h0M435.9 398.2h0M436.5 395.8h0M433.4 394.4h0M437.0 395.0h0M436.5 396.8h0M438.1 395.6h0M436.1 395.3h0M436.3 395.9h0M435.3 396.9h0M437.1 394.5h0M437.6 395.1h0M436.9 397.6h0M437.0 393.3h0M436.0 394.8h0M438.0 397.4h0M437.7 395.7h0M434.2 397.8h0M436.2 395.9h0M434.8 393.2h0M438.1 395.5h0M436.6 394.8h0M438.2 394.9h0M435.5 397.7h0M436.6 395.2h0M435.4 396.2h0M435.5 393.6h0M439.1 395.3h0M436.4 395.5h0M436.6 396.3h0M436.8 395.9h0M438.9 396.6h0M435.1 396.1h0M436.5 397.9h0M437.1 397.3h0M435.3 393.2h0M433.8 395.3h0M436.0 396.1h0M439.0 397.2h0M436.6 396.2h0M437.0 393.8h0M436.3 396.1h0M434.1 393.8h0M434.8 396.5h0M436.0 396.3h0M435.3 393.8h0M435.3 396.2h0M438.4 396.4h0M433.8 394.4h0M436.1 394.3h0M436.5 395.3h0M435.0 394.6h0M434.0 394.0h0M440.2 396.2h0M435.4 394.0h0M435.2 394.4h0M435.5 394.2h0M434.9 397.1h0M435.4 394.9h0M439.7 395.8h0M434.8 395.2h0M437.0 396.8h0M436.7 396.0h0M436.7 395.5h0M438.8 395.2h0M435.8 398.0h0M436.8 394.8h0M438.7 393.3h0M436.4 395.9h0M437.9 395.5h0M437.6 395.1h0M436.6 395.6h0M436.4 395.5h0M436.7 393.7h0M435.7 396.2h0M434.2 397.3h0M437.0 395.0h0M435.9 397.4h0M438.2 393.9h0M434.2 394.8h0M436.8 396.2h0M439.6 394.6h0M437.4 396.6h0M434.1 395.5h0M438.2 395.6h0M436.3 393.1h0M439.8 394.2h0M440.1 394.5h0M436.3 395.3h0M436.2 395.9h0M436.2 396.4h0M438.1 396.3h0M437.2 398.1h0M436.9 397.9h0M435.4 396.5h0M435.6 394.9h0M436.4 394.8h0M438.4 394.9h0M433.7 396.2h0M438.1 394.7h0M438.6 397.6h0M436.8 393.3h0M439.1 397.5h0M436.6 395.5h0M437.0 395.4h0M435.0 395.8h0M436.5 396.0h0M435.2 397.8h0M436.4 395.5h0M438.0 395.0h0M435.0 396.6h0M437.5 396.1h0M433.9 394.6h0M437.2 394.4h0M437.7 394.2h0M435.6 394.2h0M436.9 395.5h0M437.8 395.8h0M436.4 395.6h0M436.8 395.8h0M438.1 393.2h0M436.1 394.7h0M440.4 395.5h0M438.3 396.1h0M436.1 395.8h0M439.3 394.1h0M436.1 394.8h0M436.5 395.3h0M433.5 393.9h0M436.4 395.6h0M437.7 393.5h0M434.4 395.9h0M440.1 395.7h0M435.7 395.2h0M434.7 394.2h0M440.2 394.7h0M436.7 395.6h0M435.8 395.6h0M436.4 394.4h0M436.7 396.1h0M438.1 396.0h0M433.7 396.3h0M434.5 397.1h0M434.2 396.5h0M433.1 395.4h0M435.1 395.1h0M437.0 394.2h0M436.7 395.4h0M435.8 395.2h0M437.7 395.0h0M436.9 395.3h0M437.4 395.6h0M436.9 396.5h0M434.2 393.6h0M436.5 395.1h0M433.6 395.7h0M436.8 395.0h0M433.1 394.2h0M438.9 393.4h0M438.7 394.9h0M436.2 393.8h0M439.5 394.0h0M438.5 394.7h0M436.0 396.6h0M438.4 397.0h0M438.0 395.7h0M437.1 395.3h0M436.3 397.3h0M435.6 395.7h0M433.9 395.1h0M433.2 396.1h0M437.5 395.5h0M436.9 395.3h0M438.8 394.9h0M436.1 397.3h0M436.6 395.6h0M436.7 395.7h0M433.7 396.9h0M435.3 394.9h0M439.4 394.4h0" stroke="#30e8a0" stroke-width="1.1" stroke-linecap="round" fill="none" stroke-opacity="0.9"/>
<path d="M427.6 399.1h0M434.1 397.7h0M436.3 400.5h0M442.3 390.4h0M437.9 391.3h0M433.1 400.6h0M432.5 387.6h0M428.8 396.5h0M442.5 395.9h0M436.8 399.5h0M436.9 402.6h0M445.4 390.1h0M434.2 392.1h0M431.7 389.9h0M443.9 394.8h0M440.4 399.3h0M432.6 387.6h0M442.6 393.8h0M433.0 399.4h0M439.6 399.6h0M446.5 391.7h0M430.2 389.2h0M431.0 390.3h0M428.8 395.7h0M443.4 392.0h0M432.1 388.3h0M429.0 399.4h0M441.8 399.0h0M427.4 395.8h0M435.7 389.6h0M443.3 397.0h0M441.6 402.0h0M435.3 388.4h0M437.9 391.6h0M429.1 392.7h0M437.2 389.7h0M438.5 399.8h0M441.4 395.1h0M445.5 399.2h0M446.1 393.7h0M435.3 387.6h0M432.1 394.7h0M442.4 392.5h0M426.9 391.6h0M434.7 401.3h0M436.5 398.3h0M441.4 400.0h0M425.8 395.4h0M443.4 392.1h0M441.7 396.3h0M444.7 397.8h0M429.5 392.1h0M430.2 396.6h0M431.7 394.8h0M443.5 394.0h0M437.7 388.5h0M424.8 396.1h0M437.3 403.5h0M432.1 388.0h0M426.7 395.0h0M438.2 390.8h0M429.6 395.4h0M430.4 401.2h0M443.8 394.3h0M425.3 395.0h0M442.8 393.2h0M436.3 400.8h0M435.7 399.2h0M430.6 401.9h0M431.0 400.0h0M444.5 397.8h0M442.7 394.7h0M439.3 402.3h0M431.2 392.0h0M431.9 394.1h0M427.3 399.5h0M435.9 399.1h0M433.5 398.8h0M430.6 390.2h0M445.3 390.9h0M445.0 395.7h0M429.9 396.3h0M429.1 391.2h0M429.5 398.7h0M433.0 397.5h0M435.1 403.5h0M440.9 390.3h0M437.7 392.5h0M441.4 398.0h0M444.0 392.6h0M435.0 400.5h0M447.1 398.8h0M433.5 402.0h0M441.3 391.1h0M436.0 389.2h0M446.3 394.6h0M444.2 393.5h0M431.6 399.6h0M431.3 401.5h0M444.0 393.2h0M434.1 391.8h0M430.6 396.3h0M429.8 390.0h0M434.4 402.3h0M435.3 387.8h0M427.0 397.6h0M443.1 394.0h0M428.2 395.2h0M436.2 392.2h0M432.1 391.4h0M437.6 403.7h0M430.6 392.5h0M430.3 399.1h0M440.6 399.5h0M433.7 401.4h0M432.1 394.9h0M440.0 397.4h0M441.2 389.7h0M429.5 392.7h0M434.4 398.8h0M431.5 390.7h0M442.4 396.4h0M437.6 392.8h0M448.2 395.9h0M431.1 392.2h0M431.2 402.3h0M427.8 399.7h0M428.9 392.8h0M438.6 392.9h0M432.2 390.1h0M433.5 390.2h0M443.5 394.0h0M445.5 397.9h0M441.7 399.2h0M441.1 388.6h0M438.5 393.0h0M431.6 396.1h0M445.4 398.4h0M437.4 392.7h0M433.5 389.3h0M442.6 393.9h0M439.0 391.2h0M430.5 396.9h0M432.2 397.6h0M431.4 398.7h0M440.6 391.5h0M445.2 399.2h0M436.3 400.3h0M444.0 399.2h0M430.6 400.8h0M433.0 391.2h0M437.0 399.5h0M431.6 391.6h0M428.5 400.8h0M440.1 403.3h0M429.4 399.1h0M442.3 397.7h0M435.9 401.3h0M428.3 401.4h0M430.8 392.8h0M431.2 398.8h0M434.0 389.9h0M438.3 400.8h0M445.1 392.4h0M440.7 396.0h0M429.6 392.4h0M444.4 396.8h0M444.8 395.6h0M430.2 391.4h0M438.9 400.6h0M427.6 390.2h0M443.4 390.0h0M433.7 401.7h0M435.2 392.3h0M432.8 389.7h0M445.2 396.6h0M433.4 403.2h0M440.4 387.8h0M447.2 399.0h0M428.9 399.0h0M445.4 391.2h0M436.7 399.5h0M438.6 390.3h0M430.9 394.4h0M442.4 394.0h0M426.5 392.4h0M431.5 392.3h0M430.3 394.1h0M442.2 396.0h0M445.8 392.2h0M426.1 398.5h0M427.9 392.4h0M435.6 398.3h0M441.3 394.1h0M438.9 398.4h0M442.3 397.6h0M433.2 397.2h0M432.7 397.2h0M440.5 395.2h0M444.5 393.7h0M427.3 396.9h0M432.2 393.3h0M438.4 399.4h0M442.2 400.9h0M445.1 396.8h0M439.7 391.6h0M430.8 393.5h0M441.9 398.0h0M431.1 394.8h0M438.1 401.2h0M432.4 393.9h0M432.7 401.6h0M442.5 398.0h0M434.0 402.2h0M444.3 392.2h0M434.4 390.6h0M445.3 394.6h0M441.9 397.8h0M431.2 393.3h0M442.9 391.7h0M434.6 390.0h0M439.7 393.3h0M441.8 395.4h0M435.4 402.8h0M439.7 398.8h0M439.5 391.6h0M431.2 390.6h0M426.2 398.8h0M428.5 396.2h0M435.5 387.5h0M426.3 391.7h0M438.6 392.0h0M433.5 393.2h0M431.1 402.3h0M434.6 398.5h0M431.6 399.8h0M440.8 397.6h0M440.1 399.3h0M434.4 389.6h0M429.5 390.7h0M440.2 402.8h0M430.9 388.8h0M437.6 391.7h0M442.0 400.2h0M444.9 400.3h0M433.6 391.4h0M436.5 398.7h0M445.8 394.3h0M432.5 391.3h0M433.3 388.5h0M429.2 389.8h0M446.9 398.9h0M432.7 393.7h0M441.4 392.3h0M433.0 393.8h0M441.4 396.2h0M429.1 400.5h0M434.4 392.6h0M442.8 393.9h0M432.8 396.9h0M443.3 394.5h0M427.6 399.0h0M443.7 392.9h0M444.1 401.7h0M442.0 394.5h0M432.9 393.8h0M437.1 398.3h0M428.3 397.1h0M439.8 398.5h0M433.8 391.5h0M439.0 389.2h0M440.5 395.6h0M432.8 397.0h0M433.7 400.0h0M436.1 390.5h0M438.9 392.0h0M435.4 391.8h0M437.3 402.7h0M442.4 399.6h0M429.3 389.9h0M430.4 391.2h0M435.9 392.4h0M438.8 400.5h0M429.9 395.0h0M435.2 401.4h0M445.1 400.5h0M438.4 398.2h0M439.7 391.1h0M432.1 395.5h0M431.7 396.3h0M440.1 393.7h0M430.0 393.3h0M427.1 396.7h0M445.3 396.3h0M434.9 399.9h0M431.2 401.0h0M440.0 402.8h0M434.4 393.0h0M444.4 401.6h0M433.6 400.6h0M445.2 391.2h0M435.5 392.2h0M442.5 402.5h0M438.4 400.5h0M445.5 393.6h0M434.4 398.8h0M443.0 396.5h0M436.3 398.6h0M441.0 400.1h0M428.5 397.4h0M445.2 400.8h0M435.5 398.4h0M433.4 391.6h0M433.6 398.3h0M437.8 389.4h0M435.9 388.9h0M442.2 400.1h0M442.3 398.0h0M441.6 395.1h0M430.1 395.4h0M435.5 389.6h0M433.4 393.4h0M441.0 398.1h0M440.3 388.3h0M444.3 389.7h0M431.7 394.5h0M442.5 395.6h0M440.3 390.8h0M436.6 390.8h0M431.5 398.0h0M430.8 398.1h0M433.6 393.5h0M445.2 392.3h0M445.7 399.3h0M425.3 393.4h0M441.8 398.7h0M440.7 389.2h0M442.0 399.0h0M443.3 397.6h0M435.5 390.9h0M443.4 400.4h0M431.0 396.3h0M442.2 392.5h0M427.6 395.7h0M427.0 395.9h0M441.4 391.0h0M434.4 389.3h0M427.7 392.4h0M430.7 399.1h0M435.5 402.3h0M431.0 401.1h0M437.7 399.0h0M434.0 398.1h0M445.3 396.3h0M432.9 392.9h0M442.9 401.5h0M433.7 399.3h0M436.5 400.1h0M443.0 398.0h0M441.7 399.5h0M440.5 395.8h0M437.5 399.1h0M428.6 400.6h0M442.9 394.0h0M427.9 399.7h0M440.8 397.1h0M446.9 396.4h0M443.1 392.2h0M432.5 396.3h0M446.2 393.9h0M436.3 399.8h0M437.4 399.2h0M430.0 396.5h0M435.9 399.6h0M431.9 398.0h0M434.4 398.2h0M433.2 397.2h0M432.5 397.9h0M429.6 393.4h0M430.4 397.5h0M432.7 392.1h0M431.0 398.0h0M440.6 399.7h0M442.2 398.4h0M425.5 394.5h0M427.3 390.6h0M441.4 397.8h0M445.4 397.4h0M439.9 400.1h0M441.2 400.7h0M439.2 392.8h0M432.5 393.5h0M434.9 392.8h0M429.8 399.3h0M442.3 399.2h0M442.9 391.2h0M435.6 392.5h0M437.8 387.4h0M434.9 391.2h0M441.7 397.0h0M439.9 393.6h0M429.5 392.7h0M443.5 392.5h0M430.3 393.1h0M436.1 389.7h0M438.6 387.2h0M440.6 397.5h0M431.5 392.8h0M440.8 389.1h0M440.3 392.3h0M431.4 389.0h0M427.1 397.5h0M438.1 401.0h0M446.5 391.1h0M427.7 396.8h0M432.4 396.8h0M432.0 395.8h0M439.8 390.6h0M435.1 389.3h0M438.4 388.6h0M426.8 397.4h0M426.8 394.1h0M440.3 397.1h0M429.7 396.6h0M430.5 395.3h0M441.2 401.7h0M439.7 401.3h0M429.4 397.5h0M435.0 403.2h0M435.3 398.7h0M447.3 397.1h0M440.2 393.3h0M433.9 400.2h0M442.5 398.4h0M430.1 388.8h0M437.9 399.5h0M445.7 399.7h0M439.3 392.9h0M435.3 399.0h0M440.3 396.5h0M439.8 393.2h0M432.3 390.3h0M433.1 392.7h0M441.9 399.0h0M443.1 392.0h0M447.6 394.7h0M439.1 391.2h0M433.2 392.9h0M445.9 396.3h0M446.3 395.3h0M446.5 393.0h0M438.8 398.2h0M441.4 392.2h0M426.2 397.9h0M429.2 389.1h0M437.8 392.2h0M432.8 400.1h0M432.0 392.7h0M443.7 393.0h0M426.2 399.2h0M444.5 401.4h0M438.5 398.1h0M446.9 399.1h0M437.2 399.7h0M437.6 399.8h0M427.6 400.6h0M445.3 395.7h0M442.0 392.8h0M443.3 399.4h0M432.8 403.0h0M427.5 398.2h0M432.0 391.9h0M445.6 396.0h0M431.9 399.8h0M441.2 395.1h0M445.5 396.5h0M438.8 392.1h0M432.8 390.9h0M445.1 394.7h0M445.8 393.5h0M442.9 395.8h0M443.8 397.2h0M430.5 397.4h0M432.8 388.4h0M440.0 388.6h0M438.0 389.0h0M437.8 399.3h0M436.8 392.4h0M425.4 396.3h0M447.4 393.6h0M441.9 392.4h0M434.9 399.3h0M431.4 395.8h0M428.2 391.5h0M445.7 395.8h0M441.5 388.9h0M427.5 390.2h0M436.0 388.9h0M434.4 400.6h0M431.8 396.8h0" stroke="#39e599" stroke-width="1.1" stroke-linecap="round" fill="none" stroke-opacity="0.9"/>
<path d="M448.2 393.8h0M425.7 384.9h0M438.0 404.8h0M441.6 404.2h0M440.1 385.4h0M429.7 406.7h0M449.0 404.3h0M445.0 385.9h0M437.6 405.2h0M420.5 394.9h0M441.7 386.2h0M434.5 407.4h0M423.9 395.0h0M429.2 388.1h0M426.6 402.7h0M425.1 399.5h0M452.3 400.9h0M435.9 406.0h0M424.0 393.3h0M438.2 384.5h0M429.7 408.6h0M420.7 401.7h0M437.4 386.1h0M428.3 384.4h0M451.1 389.8h0M426.4 389.0h0M430.6 385.9h0M424.6 396.2h0M427.0 407.7h0M437.3 386.6h0M428.7 402.4h0M420.9 391.1h0M430.4 402.9h0M443.5 408.6h0M433.2 407.0h0M441.8 403.3h0M454.2 397.1h0M444.4 403.4h0M417.7 393.5h0M446.6 401.2h0M450.4 395.8h0M451.9 392.0h0M435.9 406.3h0M421.8 393.9h0M449.6 392.9h0M449.3 398.7h0M450.0 394.1h0M450.0 395.1h0M426.9 402.4h0M455.4 392.0h0M429.4 403.6h0M425.1 400.4h0M450.3 393.5h0M424.5 404.0h0M424.2 387.5h0M436.7 406.2h0M437.0 407.8h0M431.5 406.6h0M451.8 387.5h0M430.1 405.8h0M444.1 386.9h0M430.2 403.1h0M418.0 390.7h0M422.7 401.2h0M419.2 392.8h0M428.0 386.9h0M418.3 400.1h0M441.1 406.7h0M448.6 387.7h0M447.2 403.1h0M423.7 402.0h0M449.1 393.9h0M428.1 403.9h0M441.7 385.2h0M422.4 398.1h0M427.5 405.4h0M440.0 406.0h0M436.6 404.1h0M426.9 402.6h0M440.9 407.1h0M444.9 385.5h0M446.4 403.4h0M424.6 391.6h0M449.1 394.2h0M432.4 404.4h0M427.8 383.7h0M451.3 390.9h0M420.6 401.1h0M427.0 402.1h0M423.3 394.2h0M448.6 399.9h0M429.8 405.1h0M431.8 382.1h0M448.9 393.5h0M434.3 386.4h0M431.8 406.1h0M437.0 409.2h0M419.5 389.0h0M452.2 403.6h0M454.4 394.6h0M451.3 402.8h0M431.2 407.9h0M445.1 389.7h0M442.8 386.3h0M434.8 405.4h0M451.2 403.7h0M452.4 394.0h0M434.8 406.9h0M448.6 400.5h0M449.9 393.7h0M454.3 395.1h0M448.0 391.7h0M450.2 404.4h0M436.0 407.1h0M428.3 402.4h0M417.1 397.0h0M436.2 406.3h0M448.4 393.2h0M444.8 386.2h0M421.7 403.7h0M422.7 389.4h0M435.6 404.1h0M424.6 393.9h0M443.8 402.9h0M451.4 401.0h0M421.9 391.6h0M419.8 393.4h0M425.3 387.3h0M432.9 387.2h0M443.8 384.6h0M426.6 388.9h0M452.7 392.2h0M423.1 401.8h0M430.7 384.0h0M423.8 389.0h0M418.6 399.6h0M422.7 391.9h0M443.6 404.0h0M428.4 387.0h0M424.5 406.0h0M417.8 397.2h0M430.4 387.2h0M451.7 404.4h0M434.7 407.5h0M448.4 403.4h0M445.6 403.1h0M430.0 403.1h0M425.4 390.4h0M427.9 389.5h0M452.9 396.6h0M422.3 389.5h0M425.0 401.4h0M436.6 404.7h0M426.0 406.7h0M419.4 397.4h0M445.6 406.2h0M442.1 403.6h0M448.0 406.8h0M453.3 401.4h0M450.5 389.2h0M430.0 406.1h0M427.1 390.1h0M430.0 385.2h0M435.4 404.2h0M449.0 390.7h0M419.2 397.0h0M430.5 402.8h0M452.7 390.7h0M449.7 386.4h0M427.2 385.8h0M418.4 394.2h0M449.2 400.5h0M440.4 383.7h0M443.2 387.8h0M433.2 405.1h0M417.5 398.4h0M447.8 398.4h0M435.5 405.4h0M427.3 389.9h0M426.8 389.6h0M446.2 387.2h0M452.6 389.0h0M445.9 389.1h0M440.0 386.2h0M426.6 404.3h0M446.4 406.7h0M449.4 400.2h0M447.6 405.7h0M424.6 392.8h0M449.1 387.7h0M454.9 392.5h0M423.6 395.2h0M436.2 385.0h0M420.6 392.7h0M428.7 387.8h0M430.7 387.5h0M446.8 406.0h0M435.5 385.5h0M435.2 406.6h0M450.7 398.6h0M427.4 401.1h0M437.4 406.9h0M447.2 387.1h0M435.0 405.0h0M440.1 407.0h0M442.3 408.4h0M438.9 385.6h0M433.4 383.5h0M448.7 395.9h0M427.4 402.2h0M440.7 384.6h0M431.5 408.6h0M447.8 388.8h0M450.1 386.1h0M440.9 385.0h0M437.8 381.6h0M441.2 383.9h0M449.0 392.5h0M422.8 403.0h0M419.3 396.0h0M424.4 404.4h0M451.3 400.8h0M426.7 405.7h0M421.8 399.8h0M452.6 399.1h0M439.3 385.9h0M440.3 406.6h0M429.9 408.1h0M451.0 388.7h0M428.0 404.2h0M444.6 402.3h0M426.4 402.7h0M446.8 403.9h0M426.2 399.7h0M433.6 385.2h0M435.3 405.9h0M445.9 384.0h0M443.0 402.7h0M447.2 400.3h0M448.3 391.0h0M437.9 408.9h0M451.6 395.4h0M448.4 395.3h0M427.7 405.0h0M437.7 404.2h0M419.1 391.1h0M439.9 404.7h0M448.6 400.9h0M435.2 384.1h0M448.7 403.1h0M429.2 385.0h0M449.9 394.4h0M418.7 400.5h0M420.8 400.9h0M423.2 397.4h0M440.7 406.6h0M440.9 407.2h0M425.9 389.3h0M446.4 386.0h0M444.4 402.6h0M423.2 404.4h0M432.0 404.1h0M435.9 381.9h0M432.2 408.3h0M419.2 400.2h0M452.5 398.3h0M450.2 403.4h0M441.6 407.6h0M436.4 406.8h0M437.1 406.2h0M450.8 398.3h0M448.8 386.1h0M422.2 404.9h0M422.8 399.9h0M449.5 389.0h0M442.6 387.4h0M441.1 406.1h0M424.8 398.0h0M425.7 384.6h0M447.8 399.9h0M445.7 385.4h0M429.6 403.4h0M438.7 406.6h0M452.1 389.3h0M446.1 401.2h0M447.6 398.9h0M449.9 399.2h0M444.6 386.7h0M452.2 389.9h0M444.8 389.2h0M432.4 403.6h0M426.9 383.9h0M421.0 392.2h0M429.1 383.6h0M434.0 406.2h0M452.5 402.1h0M419.9 391.7h0M419.9 391.8h0M428.4 389.1h0M446.1 406.9h0M447.9 391.4h0M450.5 404.9h0M443.9 407.7h0M432.5 386.5h0M447.7 405.3h0M427.1 384.4h0M444.4 407.2h0M419.0 401.0h0M448.3 397.4h0M428.3 385.3h0M418.2 390.7h0M427.1 389.5h0M418.7 401.2h0M454.4 390.9h0M422.0 403.8h0M420.2 390.2h0M450.7 392.7h0M444.4 383.2h0M432.1 406.6h0M436.6 383.2h0M437.4 384.8h0M431.5 382.7h0M452.7 389.9h0M419.1 399.0h0M444.0 406.2h0M444.0 405.7h0M433.4 382.6h0M422.3 393.1h0M425.2 400.0h0M420.2 402.0h0M434.3 404.1h0M424.2 391.3h0M453.5 389.6h0M423.7 406.0h0M425.2 404.0h0M426.7 386.6h0M422.0 403.3h0M429.4 408.4h0M447.6 390.1h0M435.4 404.9h0M428.8 406.7h0M423.8 393.5h0M444.1 383.0h0M449.5 397.3h0M445.0 404.2h0M438.5 407.7h0M444.5 385.1h0M442.3 403.4h0M423.5 389.7h0M452.0 400.4h0M424.8 398.2h0M424.8 391.2h0M440.0 383.6h0M423.0 392.0h0M451.8 396.9h0M441.4 405.5h0M442.3 387.2h0M441.1 405.6h0M441.7 384.8h0M426.3 384.6h0M446.0 402.8h0M448.8 394.2h0M436.8 386.4h0M425.4 386.2h0M417.0 397.1h0M449.0 394.8h0M449.0 395.4h0M430.6 406.1h0M421.6 388.8h0M420.6 392.1h0M453.5 399.0h0M428.6 383.3h0M426.3 404.3h0M424.1 399.5h0M421.7 395.8h0M435.7 406.1h0M440.3 386.5h0M418.2 398.4h0M444.7 404.2h0M424.3 395.6h0M447.7 404.5h0M422.2 390.8h0M423.6 390.7h0M450.1 396.8h0M421.2 391.3h0M423.1 401.2h0M447.7 403.1h0M431.8 403.5h0M455.0 396.8h0M427.7 389.1h0M446.9 388.6h0M443.3 387.5h0M444.2 384.1h0M435.6 405.2h0M445.9 387.0h0M436.4 385.2h0M426.1 400.3h0M443.2 383.5h0M440.4 385.9h0M440.5 382.7h0M421.1 399.8h0M424.2 395.3h0M447.7 403.8h0M436.2 386.9h0M448.5 394.4h0M429.6 402.6h0M425.0 402.0h0M443.8 383.3h0M448.2 387.6h0M420.9 387.1h0M441.8 385.1h0" stroke="#43e393" stroke-width="1.1" stroke-linecap="round" fill="none" stroke-opacity="0.9"/>
<path d="M454.1 406.3h0M417.2 387.6h0M417.0 386.0h0M450.3 381.7h0M449.3 406.5h0M455.3 387.3h0M459.4 405.7h0M422.9 379.8h0M445.6 408.4h0M416.6 383.1h0M415.2 405.5h0M413.7 397.8h0M416.1 406.8h0M434.9 410.2h0M457.1 401.8h0M448.2 382.6h0M430.8 381.3h0M422.6 383.8h0M438.0 413.8h0M449.1 406.6h0M442.6 380.3h0M440.9 410.8h0M414.0 390.7h0M456.3 382.5h0M462.9 390.3h0M421.0 406.0h0M454.8 408.2h0M429.6 381.1h0M430.3 376.6h0M460.2 387.5h0M442.5 409.4h0M415.7 397.4h0M435.6 412.8h0M457.9 407.4h0M437.4 378.2h0M451.9 404.7h0M413.1 385.8h0M426.6 382.1h0M414.8 394.3h0M438.7 413.0h0M451.1 383.5h0M443.2 409.0h0M416.9 386.8h0M462.8 398.6h0M420.6 384.5h0M425.9 378.2h0M433.4 412.2h0M455.6 406.4h0M436.5 414.6h0M448.3 408.7h0M414.2 405.7h0M460.4 398.4h0M424.8 408.1h0M422.1 384.2h0M455.8 404.3h0M455.6 384.3h0M443.1 380.5h0M455.5 382.9h0M417.7 389.3h0M457.6 392.0h0M425.5 383.7h0M444.0 379.2h0M443.0 376.9h0M409.6 392.1h0M447.1 411.4h0M410.9 400.3h0M458.7 400.5h0M447.0 413.6h0M452.5 404.6h0M426.1 379.2h0M421.8 385.1h0M414.9 395.0h0M444.6 409.5h0M455.6 382.1h0M459.2 388.1h0M444.2 376.9h0M437.7 381.4h0M437.3 410.1h0M442.2 410.6h0M416.8 389.9h0M455.3 402.1h0M456.1 397.0h0M421.6 407.8h0M431.1 380.1h0M434.1 413.9h0M411.3 403.1h0M434.5 378.4h0M418.1 383.9h0M458.5 398.2h0M439.3 381.5h0M452.6 403.8h0M421.8 408.7h0M440.1 380.4h0M422.6 408.7h0M411.1 388.4h0M456.9 386.8h0M416.2 399.2h0M412.3 390.5h0M454.3 408.7h0M450.9 409.3h0M439.1 376.7h0M414.5 392.6h0M438.1 410.7h0M418.3 381.9h0M419.0 380.8h0M429.9 410.1h0M432.5 376.3h0M457.6 406.1h0M416.7 402.1h0M415.8 402.1h0M410.2 397.7h0M424.8 383.2h0M459.6 386.1h0M413.8 406.5h0M454.6 389.5h0M454.8 386.0h0M435.2 411.6h0M427.7 413.1h0M449.2 411.0h0M423.6 379.7h0M412.0 401.6h0M422.6 406.6h0M414.1 396.1h0M450.7 383.3h0M449.2 384.6h0M424.6 408.6h0M455.3 401.4h0M415.9 404.8h0M440.0 412.8h0M454.8 383.8h0M439.2 414.0h0M456.3 401.0h0M461.8 402.1h0M439.6 381.5h0M433.1 413.8h0M410.5 401.5h0M409.6 394.9h0M461.8 387.8h0M456.9 391.4h0M442.0 381.2h0M448.0 379.8h0M449.9 408.8h0M447.3 407.6h0M456.2 403.6h0M428.9 381.0h0M420.4 385.4h0M456.8 388.7h0M461.2 399.2h0M448.5 382.3h0M456.4 396.5h0M451.7 406.4h0M461.7 395.5h0M422.3 412.3h0M416.2 396.4h0M425.4 380.0h0M445.0 377.8h0M417.6 404.5h0M453.1 403.6h0M433.0 376.4h0M417.2 399.6h0M439.7 410.0h0M415.1 394.9h0M414.9 392.7h0M421.5 410.8h0M444.6 382.2h0M447.0 381.6h0M416.9 407.9h0M429.5 412.2h0M461.1 402.4h0M460.2 395.7h0M411.3 400.3h0M437.4 376.3h0M428.2 378.1h0M410.4 396.8h0M421.8 380.6h0M434.0 412.1h0M455.3 389.8h0M452.2 410.9h0M427.9 412.4h0M438.0 414.6h0M437.0 411.5h0M420.4 409.7h0M460.9 392.6h0M414.0 386.5h0M425.2 411.4h0M414.0 399.3h0M432.3 413.5h0M421.9 409.6h0M425.2 408.2h0M416.7 395.3h0M413.5 386.9h0M424.8 379.2h0M454.6 406.8h0M441.4 381.8h0M455.5 408.0h0M423.5 412.4h0M433.0 379.8h0M419.0 383.5h0M444.3 413.1h0M454.5 406.4h0M449.7 383.6h0M416.8 386.7h0M457.3 384.9h0M456.0 400.8h0M461.3 392.8h0M452.6 386.7h0M452.0 384.8h0M433.4 377.3h0M459.9 402.2h0M426.8 408.4h0M413.3 391.8h0M453.4 408.9h0M449.5 383.9h0M460.8 403.3h0M436.4 410.8h0M416.2 393.5h0M418.8 405.5h0M420.7 384.7h0M414.1 404.0h0M412.9 390.6h0M441.0 381.2h0M411.2 395.4h0M417.7 409.3h0M438.2 413.6h0M416.2 389.8h0M458.2 400.0h0M458.9 397.5h0M411.8 400.4h0M453.5 385.8h0M441.7 380.2h0M453.7 405.0h0M434.4 381.2h0M424.6 379.3h0M448.4 378.4h0M412.4 401.9h0M411.3 388.6h0M424.5 410.4h0M416.8 382.3h0M454.9 386.5h0M459.2 395.0h0M461.0 396.5h0M413.5 404.0h0M427.2 379.4h0M449.2 407.5h0M452.3 385.9h0M416.7 402.0h0M451.5 385.7h0M428.4 412.1h0M452.2 405.4h0M420.5 408.5h0M424.8 383.7h0M431.8 379.9h0M458.1 398.2h0M444.0 410.2h0M424.3 383.4h0M456.1 385.2h0M452.5 381.6h0M450.9 406.2h0M458.6 384.2h0M450.5 380.1h0M459.7 404.5h0M425.0 383.7h0M421.6 380.0h0M411.4 388.8h0M438.3 412.2h0M457.9 389.9h0M420.3 386.0h0M415.2 388.7h0M453.1 387.8h0M438.3 414.6h0M446.8 409.0h0M454.3 384.6h0M417.3 388.4h0M412.1 390.5h0M415.1 399.0h0M417.0 400.9h0M439.1 412.1h0M442.5 411.1h0M415.1 396.0h0M414.9 391.6h0M410.7 391.3h0M451.4 408.4h0M462.4 401.1h0M457.9 396.9h0M422.1 406.9h0M446.8 382.3h0M441.8 410.9h0M444.5 413.4h0M414.4 401.9h0M456.4 397.0h0M457.3 394.0h0M442.7 412.5h0M433.4 378.0h0M414.8 383.7h0M432.7 412.8h0M431.8 409.2h0M431.4 381.8h0M428.8 380.8h0M460.1 403.1h0M440.1 380.9h0M463.0 396.7h0M411.2 389.0h0M432.1 379.8h0M454.9 388.9h0M458.8 388.6h0M454.4 405.5h0M438.6 411.1h0M459.4 394.4h0M415.0 399.6h0M419.5 383.1h0M440.9 381.2h0M456.7 396.7h0M439.6 379.7h0M428.7 411.2h0M421.4 405.1h0M460.0 389.4h0M410.3 400.2h0M415.0 399.2h0M414.2 393.5h0M421.4 409.9h0M434.7 410.6h0M443.7 411.1h0M422.3 408.2h0M460.6 387.1h0M452.3 410.9h0M416.7 393.7h0M462.5 392.1h0M415.2 395.0h0M455.0 401.0h0M423.5 409.5h0M458.8 387.6h0M416.9 387.8h0M411.3 399.1h0M459.5 388.8h0M437.8 381.4h0M448.9 411.9h0M460.2 404.5h0M436.2 412.3h0M447.2 408.5h0M431.2 414.4h0M427.9 381.1h0M416.4 408.4h0M446.1 412.3h0M453.2 407.0h0M447.0 382.7h0M425.4 408.2h0M460.6 389.3h0M412.6 398.8h0M445.2 382.3h0M451.0 405.6h0M448.3 384.1h0M417.0 393.4h0M428.5 408.7h0M455.6 406.8h0M422.7 410.0h0M463.0 399.0h0M454.1 389.0h0M410.7 392.9h0M457.9 384.8h0M456.1 404.1h0M425.4 378.4h0M455.7 388.8h0M413.7 406.4h0M415.8 383.9h0" stroke="#4ce08c" stroke-width="1.1" stroke-linecap="round" fill="none" stroke-opacity="0.9"/>
<path d="M413.0 407.9h0M407.5 398.9h0M425.1 416.6h0M454.1 375.2h0M458.6 413.4h0M462.4 405.7h0M428.0 374.8h0M455.3 379.4h0M433.1 375.7h0M461.4 407.3h0M465.1 391.0h0M407.5 400.1h0M439.0 416.8h0M428.8 415.9h0M465.5 381.1h0M458.5 376.8h0M467.5 389.1h0M471.1 392.6h0M403.2 387.8h0M402.9 398.3h0M465.2 387.7h0M404.8 387.2h0M467.9 391.1h0M407.2 403.6h0M463.0 388.0h0M436.8 375.4h0M403.6 388.3h0M449.0 375.4h0M471.4 392.4h0M444.5 375.3h0M410.4 389.1h0M448.6 377.0h0M414.1 375.9h0M408.7 384.0h0M441.1 416.6h0M444.7 371.6h0M402.6 398.7h0M453.5 375.6h0M457.5 380.0h0M441.2 416.0h0M469.8 393.4h0M437.1 415.9h0M469.1 391.8h0M419.5 413.3h0M451.7 375.5h0M440.8 371.5h0M439.8 418.4h0M425.2 414.2h0M468.1 391.9h0M407.1 406.6h0M461.7 386.7h0M458.5 377.7h0M405.5 405.0h0M463.9 392.4h0M410.7 407.1h0M405.0 388.4h0M446.8 414.3h0M409.3 401.3h0M432.3 419.3h0M409.2 404.4h0M466.1 404.7h0M430.0 417.0h0M411.2 385.9h0M405.1 393.1h0M423.8 375.9h0M445.7 419.1h0M411.5 380.6h0M452.5 378.7h0M455.9 411.2h0M466.5 393.8h0M468.8 400.5h0M463.0 404.1h0M436.8 419.3h0M420.7 414.8h0M405.6 393.7h0M465.7 405.7h0M404.8 399.6h0M458.4 380.6h0M458.4 381.4h0M464.8 380.8h0M417.3 380.8h0M428.1 373.0h0M445.4 375.3h0M431.7 375.1h0M463.3 402.6h0M446.4 377.1h0M421.9 412.4h0M402.4 399.9h0M464.0 391.1h0M409.7 389.1h0M433.7 371.9h0M461.3 405.2h0M403.7 400.9h0M409.6 384.8h0M414.4 381.4h0M453.0 379.3h0M442.0 371.5h0M447.6 374.0h0M412.1 380.9h0M432.6 370.4h0M406.3 407.1h0M445.4 414.4h0M416.5 414.0h0M410.5 408.9h0M449.4 417.4h0M417.9 410.1h0M416.4 378.0h0M405.4 401.1h0M423.3 375.6h0M405.7 402.2h0M457.1 414.4h0M428.5 374.3h0M419.2 417.4h0M453.6 413.2h0M440.7 372.4h0M439.9 416.1h0M410.1 389.3h0M412.8 410.2h0M446.6 419.3h0M440.8 374.4h0M443.7 416.4h0M458.0 382.6h0M427.0 373.9h0M408.7 404.6h0M467.6 387.3h0M424.0 374.9h0M456.1 410.2h0M446.7 417.3h0M423.0 375.1h0M456.7 416.1h0M441.8 415.8h0M430.9 415.5h0M406.1 391.0h0M463.7 402.5h0M455.1 416.5h0M463.7 402.4h0M406.3 394.4h0M406.4 382.5h0M456.8 409.1h0M455.1 413.8h0M417.1 416.0h0M470.1 389.1h0M457.8 414.2h0M422.0 377.0h0M406.7 405.4h0M417.3 410.8h0M454.5 416.8h0M427.7 376.5h0M414.4 413.4h0M436.1 374.3h0M412.7 385.2h0M455.3 381.1h0M410.0 409.3h0M461.2 410.9h0M467.5 401.0h0M431.3 415.3h0M407.5 389.7h0M424.8 416.5h0M453.7 379.0h0M457.2 412.9h0M464.6 386.4h0M466.3 405.1h0M459.6 407.0h0M403.8 396.1h0M416.7 381.4h0M439.9 375.5h0M412.7 410.0h0M467.4 398.4h0M464.6 404.5h0M426.3 418.9h0M447.0 418.0h0M449.1 376.0h0M407.6 399.3h0M434.5 416.9h0M456.8 414.0h0M422.6 414.2h0M467.0 397.5h0M410.6 410.8h0M444.9 416.2h0M461.9 407.6h0M438.1 373.5h0M413.3 410.5h0M462.8 406.7h0M416.5 410.7h0M471.1 398.7h0M427.7 417.3h0M451.1 373.9h0M460.0 383.3h0M406.1 403.6h0M407.2 386.5h0M463.5 384.6h0M405.2 403.2h0M415.1 380.6h0M438.8 417.2h0M464.1 390.2h0M406.6 400.2h0M434.2 417.0h0M449.9 376.3h0M411.1 385.5h0M406.1 404.9h0M419.0 380.1h0M437.6 419.9h0M451.6 415.5h0M450.3 413.0h0M449.2 377.1h0M464.4 405.7h0M411.0 404.2h0M449.8 372.2h0M436.0 373.4h0M465.9 393.9h0M468.5 406.2h0M436.2 420.2h0M425.7 373.0h0M464.2 402.9h0M467.7 402.1h0M462.0 381.5h0M422.6 416.0h0M445.8 372.2h0M457.0 413.6h0M464.6 401.3h0M428.8 372.1h0M455.1 375.3h0M404.6 399.2h0M406.2 397.3h0M409.0 402.7h0M405.8 398.7h0M452.7 377.5h0M443.4 371.8h0M414.9 380.5h0M418.1 414.8h0M435.8 370.7h0M457.6 414.5h0M418.3 380.3h0M414.1 408.6h0M410.7 386.0h0M453.1 379.0h0M408.0 384.6h0M434.6 374.9h0M461.0 381.3h0M444.4 376.6h0M426.8 376.5h0M469.5 401.5h0M451.1 378.7h0M404.1 395.9h0M422.1 413.9h0M453.4 416.0h0M434.4 415.2h0M467.3 403.6h0M408.9 396.9h0M411.4 408.1h0M406.7 397.0h0M436.3 374.2h0M413.7 376.5h0M411.7 385.2h0M449.0 413.8h0M429.1 415.6h0M408.4 381.0h0M470.6 402.0h0M408.2 407.3h0M415.7 375.6h0M467.4 399.3h0M451.1 416.7h0M460.3 406.8h0M463.5 385.4h0M448.6 374.9h0M410.3 386.7h0M470.8 391.4h0M460.1 379.6h0M463.5 400.2h0M407.3 395.1h0M409.3 409.1h0M431.0 375.5h0M416.2 375.3h0M414.5 411.8h0M407.9 398.2h0M446.2 415.2h0M406.0 383.2h0M460.7 409.4h0M406.1 394.3h0M412.5 410.6h0M460.5 405.3h0" stroke="#55dd85" stroke-width="1.1" stroke-linecap="round" fill="none" stroke-opacity="0.9"/>
<path d="M472.5 411.4h0M468.2 379.3h0M410.4 413.8h0M406.5 410.7h0M426.7 421.2h0M420.2 371.0h0M430.8 366.9h0M407.2 381.0h0M397.7 389.4h0M401.0 406.4h0M476.7 404.6h0M412.0 376.5h0M476.0 386.2h0M436.5 424.9h0M411.6 371.6h0M432.8 422.6h0M399.2 382.7h0M475.7 400.7h0M431.6 368.6h0M435.0 424.7h0M423.9 368.4h0M471.9 390.8h0M470.1 379.1h0M457.5 373.7h0M435.1 369.7h0M436.6 367.2h0M406.8 374.1h0M397.1 395.9h0M472.0 392.9h0M396.5 386.0h0M460.8 371.9h0M452.1 422.7h0M399.8 388.0h0M470.2 383.5h0M432.9 425.7h0M396.0 402.8h0M474.1 401.1h0M421.5 420.6h0M422.7 422.7h0M428.3 370.4h0M397.5 396.4h0M458.1 418.0h0M429.1 421.2h0M474.7 387.3h0M419.4 421.9h0M449.7 367.1h0M427.5 422.0h0M413.9 371.0h0M466.3 379.9h0M447.0 419.8h0M476.9 400.8h0M439.9 369.0h0M427.9 424.3h0M453.5 422.2h0M472.3 401.4h0M425.3 369.6h0M408.0 376.8h0M477.0 397.3h0M442.4 423.7h0M405.1 413.0h0M426.9 420.9h0M400.7 405.1h0M413.3 374.1h0M427.2 423.8h0M478.6 394.9h0M445.8 369.4h0M403.6 385.0h0M472.6 398.8h0M405.0 383.4h0M445.9 368.0h0M407.3 376.3h0M455.8 367.8h0M411.4 414.7h0M471.3 388.6h0M409.9 373.3h0M419.5 417.7h0M400.5 404.5h0M468.9 378.5h0M469.2 380.4h0M465.4 378.4h0M419.3 369.2h0M466.6 376.2h0M448.1 421.6h0M423.2 369.8h0M403.5 413.2h0M469.7 386.0h0M465.6 410.5h0M444.3 367.9h0M407.2 376.9h0M473.9 383.2h0M435.8 369.8h0M447.7 422.2h0M420.2 371.8h0M399.3 400.6h0M401.3 399.5h0M421.0 371.0h0M463.2 412.4h0M448.1 423.9h0M434.5 368.4h0M398.9 390.6h0M473.6 402.7h0M477.0 387.3h0M472.6 411.8h0M460.5 418.7h0M422.5 419.4h0M472.4 392.6h0M418.5 372.7h0M399.1 399.7h0M459.4 376.0h0M400.1 391.8h0M403.4 409.3h0M398.1 409.6h0M404.1 415.2h0M472.7 390.2h0M475.9 402.4h0M393.9 397.9h0M456.3 417.1h0M400.9 391.4h0M460.8 415.7h0M406.1 412.2h0M473.6 400.7h0M467.7 414.8h0M424.6 369.2h0M460.0 420.6h0M456.0 373.0h0M396.3 387.8h0M472.1 380.1h0M470.6 406.5h0M459.3 415.0h0M443.5 368.6h0M404.7 381.4h0M410.5 417.7h0M449.8 371.3h0M399.4 395.9h0M448.8 419.5h0M418.5 418.9h0M470.8 403.8h0M468.9 379.7h0M470.4 410.3h0M403.8 376.0h0M405.7 382.7h0M400.7 408.0h0M473.8 400.7h0M431.6 424.6h0M446.5 421.0h0M416.8 419.2h0M416.9 370.2h0M469.7 376.7h0M458.5 415.9h0M401.1 379.6h0M468.0 374.6h0M467.4 377.4h0M400.5 395.3h0M427.6 367.9h0M429.6 423.9h0M402.6 403.9h0M404.3 381.0h0M450.6 371.3h0M402.1 409.7h0M415.5 374.7h0M439.0 368.5h0M398.2 395.8h0M417.8 417.4h0M399.3 403.4h0M467.2 413.7h0M430.3 421.5h0M428.0 421.1h0M438.9 367.3h0M404.8 381.9h0M408.0 417.5h0M422.0 366.6h0M409.1 412.3h0M445.4 369.0h0M475.0 384.4h0M434.5 365.4h0M427.4 421.0h0M465.7 379.7h0M410.1 418.2h0M471.8 384.7h0M403.7 410.4h0M415.0 416.1h0M441.3 367.4h0M410.8 413.2h0M472.6 393.1h0M468.9 379.8h0M403.8 381.7h0M459.2 369.6h0M474.3 399.0h0M472.3 389.0h0M403.3 406.5h0M396.3 402.5h0M409.4 414.7h0" stroke="#5fdb7f" stroke-width="1.1" stroke-linecap="round" fill="none" stroke-opacity="0.9"/>
<path d="M475.5 429.8h0M441.0 363.3h0M429.5 430.2h0M468.5 433.0h0M424.6 428.8h0M397.3 374.0h0M463.0 371.0h0M471.9 429.1h0M394.6 382.5h0M463.3 349.9h0M464.8 420.0h0M414.3 347.6h0M480.5 379.4h0M441.1 431.4h0M424.7 430.5h0M398.1 422.5h0M426.4 358.5h0M457.7 422.7h0M417.4 427.3h0M405.7 352.6h0M390.7 416.8h0M425.1 442.2h0M445.5 324.0h0M445.8 437.1h0M473.4 416.5h0M514.7 381.4h0M411.1 421.4h0M402.7 372.2h0M481.5 377.7h0M442.0 426.9h0M487.9 416.6h0M454.4 428.5h0M488.1 386.5h0M393.7 417.2h0M374.3 389.8h0M401.7 354.4h0M486.3 370.8h0M389.9 391.9h0M503.4 417.0h0M446.0 444.6h0M450.1 433.4h0M442.3 355.2h0M483.1 388.3h0M472.7 422.0h0M446.6 427.0h0M477.9 373.3h0M379.5 386.3h0M485.2 406.9h0M451.9 427.3h0M502.3 378.2h0M424.4 353.4h0M481.7 401.0h0M482.8 391.7h0M401.3 417.6h0M453.9 433.5h0M459.8 424.9h0M458.3 424.7h0M477.9 382.6h0M436.6 430.0h0M469.9 361.6h0M477.7 373.8h0M468.6 420.4h0M384.6 385.1h0M481.6 412.8h0M415.4 363.3h0M461.3 368.7h0M489.3 396.6h0M384.5 396.5h0M463.6 359.4h0M417.4 426.3h0M454.2 359.5h0M488.3 384.3h0M429.6 428.9h0M475.0 362.7h0M397.2 436.2h0M504.0 405.2h0M437.6 358.4h0M432.9 429.1h0M480.2 351.5h0M390.8 432.6h0M461.3 367.9h0M483.1 390.3h0M452.2 427.8h0M464.2 425.9h0M472.0 362.2h0M488.7 381.0h0M467.6 421.2h0M402.7 422.3h0M476.1 411.4h0M469.2 364.0h0M417.1 362.3h0M418.8 355.1h0M387.9 405.2h0M480.7 402.0h0M508.4 399.1h0M476.1 374.1h0M415.4 365.6h0M475.4 410.8h0M459.4 366.3h0M476.2 370.8h0M487.3 368.8h0M480.5 389.6h0M495.9 382.9h0M389.5 363.4h0M476.9 383.7h0M392.7 390.8h0M393.4 409.9h0M406.0 364.9h0M476.2 417.5h0M391.2 417.0h0M463.4 370.8h0M469.3 370.4h0M409.2 369.3h0M482.0 402.3h0M443.4 360.4h0M403.2 417.2h0M421.6 429.0h0M481.9 399.7h0M428.2 357.5h0M479.7 377.1h0M398.5 417.7h0M480.4 373.1h0M475.5 377.8h0M468.8 424.1h0M388.8 405.1h0M435.2 431.6h0M478.6 384.9h0M404.0 373.1h0M406.2 428.0h0M491.2 409.7h0M497.9 377.8h0M476.2 431.4h0M491.2 396.9h0M420.0 425.5h0M462.8 424.2h0M415.0 429.0h0M402.8 420.2h0M486.6 423.2h0M390.5 385.7h0M471.3 374.8h0M397.3 380.3h0M481.9 382.6h0M490.5 409.4h0M476.8 407.4h0M395.9 416.7h0M395.6 376.8h0M401.2 423.4h0M447.7 362.3h0M381.4 390.9h0M386.0 356.7h0M396.9 358.9h0M391.9 399.2h0M375.5 407.7h0M393.5 399.8h0M474.1 411.0h0M390.0 393.9h0M387.6 422.1h0M450.4 364.4h0M450.7 431.8h0M391.2 408.0h0M442.8 358.5h0M408.7 433.1h0M387.3 403.5h0M418.4 362.1h0M480.0 382.6h0M481.4 424.5h0M403.8 373.7h0M492.4 400.5h0M492.4 389.3h0M423.7 429.9h0M435.2 362.0h0M471.0 373.5h0M437.0 359.3h0M490.0 417.5h0M422.0 348.4h0M440.1 431.1h0M380.4 384.8h0M453.1 425.6h0M385.3 399.3h0M475.7 374.6h0M469.9 447.0h0M410.0 423.2h0M475.3 410.1h0M459.2 425.6h0M418.5 425.5h0M474.5 378.2h0M426.0 347.8h0" stroke="#68d878" stroke-width="1.1" stroke-linecap="round" fill="none" stroke-opacity="0.9"/>
<path d="M400.5 395.3h0M395.0 344.9h0M476.6 337.0h0M480.0 350.4h0M361.8 382.8h0M376.9 426.1h0M482.3 389.1h0M388.4 390.3h0M478.0 423.5h0M361.2 434.6h0M406.1 335.6h0M506.0 385.6h0M495.3 406.5h0M437.1 394.1h0M434.1 426.8h0M437.5 369.1h0M382.0 418.2h0M345.5 403.5h0M369.0 424.5h0M469.9 367.1h0M488.1 420.0h0M424.7 370.6h0M384.5 393.5h0M481.9 427.9h0M481.2 399.7h0M446.7 405.2h0M461.4 463.1h0M430.0 429.0h0M458.1 418.1h0M449.3 412.7h0M437.9 451.5h0M384.4 377.0h0M450.9 398.3h0M464.7 341.7h0M467.5 450.3h0M475.7 454.0h0M445.2 443.1h0M529.9 389.2h0M424.1 428.7h0M458.7 428.8h0M449.5 334.2h0M417.5 353.8h0M396.0 337.1h0M433.4 368.6h0M511.5 411.7h0M506.8 439.4h0M492.9 421.3h0M484.2 353.2h0M459.9 343.9h0M507.1 384.5h0M494.8 366.8h0M429.5 427.7h0M508.5 430.0h0M365.4 403.5h0M516.1 420.3h0M410.9 379.2h0M366.4 350.3h0M464.5 337.4h0M446.3 386.9h0M447.8 381.6h0M483.3 342.3h0M435.1 360.4h0M390.9 355.0h0M419.0 437.8h0M429.8 360.2h0M454.9 380.5h0M416.2 434.4h0M370.7 388.8h0M353.7 428.6h0M490.6 354.1h0M426.5 379.1h0M503.9 358.8h0M478.8 362.8h0M434.7 358.5h0M425.7 425.4h0M383.5 366.0h0M520.8 416.4h0M367.5 399.7h0M447.2 342.6h0M409.1 342.1h0M452.5 334.8h0M469.9 452.4h0M392.3 385.4h0M371.1 408.5h0M477.1 414.4h0M502.5 397.8h0M391.8 417.2h0M407.2 360.5h0M420.3 430.0h0M431.9 380.4h0M368.9 375.2h0M463.3 348.9h0M457.2 357.4h0M490.7 436.0h0M470.0 350.0h0M458.0 451.9h0M402.5 422.8h0M419.0 375.9h0M382.2 416.2h0M372.0 426.2h0M515.1 370.9h0M530.0 396.7h0M417.3 424.1h0M382.2 364.7h0M485.0 447.9h0M386.8 360.9h0M452.0 348.8h0M404.5 442.5h0M492.1 423.6h0M520.2 392.1h0M358.1 405.7h0M454.1 366.5h0M399.0 444.3h0M456.6 405.0h0M406.3 352.9h0M443.6 347.9h0M514.8 385.0h0M461.3 431.1h0M452.6 358.1h0M464.9 344.4h0M488.3 439.7h0M508.9 377.0h0M396.6 340.2h0M438.9 337.4h0M375.3 350.4h0M434.3 451.3h0M434.7 349.0h0M404.3 336.8h0M412.6 424.0h0M510.7 407.3h0M475.3 415.3h0M505.5 440.7h0M423.0 328.9h0M491.4 402.5h0M412.9 445.1h0M452.5 423.2h0M361.0 407.0h0M419.8 386.2h0M415.4 362.2h0M392.2 379.8h0M421.0 432.7h0M441.9 399.8h0M489.8 392.5h0M463.4 389.5h0M464.4 460.3h0M426.6 410.7h0M387.6 349.1h0M353.5 378.7h0M459.3 385.1h0M412.3 447.4h0M497.8 439.8h0M524.3 394.2h0M491.9 378.1h0M403.0 352.1h0M474.8 413.5h0M365.5 350.8h0M434.0 372.3h0M499.6 351.2h0M459.4 405.3h0M514.0 431.0h0M410.9 361.5h0M514.8 401.7h0M435.1 408.6h0M512.5 406.1h0M483.5 353.7h0M362.6 427.0h0M432.1 347.1h0M476.6 428.5h0M431.1 374.8h0M403.6 364.4h0M444.2 450.7h0M455.2 347.0h0M468.0 416.2h0M476.7 347.5h0M472.2 397.3h0M466.0 438.7h0M509.8 378.9h0M431.5 410.4h0M413.8 462.5h0M388.1 421.0h0M461.4 336.2h0M394.1 438.5h0M441.5 446.4h0M509.2 399.2h0M367.0 368.4h0M519.3 419.9h0M384.6 384.5h0M347.2 387.0h0M474.3 348.3h0M407.3 363.3h0M490.9 369.4h0M412.8 412.2h0M427.2 401.8h0M464.4 378.8h0M483.3 430.3h0M500.6 410.2h0M496.6 399.9h0M513.9 389.8h0M414.0 415.9h0M511.2 356.2h0M352.5 396.4h0M432.6 425.8h0M461.7 334.0h0M435.2 353.4h0M467.0 367.0h0M517.7 378.8h0M518.6 382.5h0M459.6 429.6h0M442.2 351.1h0M361.5 371.9h0M381.9 445.2h0M430.8 353.4h0M411.1 332.7h0M492.4 380.9h0M530.2 410.6h0M466.9 443.9h0M446.1 424.6h0M381.0 382.7h0M346.1 375.2h0M495.6 399.0h0M446.0 344.6h0M407.5 441.9h0M378.6 377.5h0M411.2 447.4h0M469.2 442.1h0M457.2 409.5h0M392.3 442.7h0M391.1 417.3h0M456.4 361.6h0M370.4 398.2h0M490.6 436.0h0M445.3 395.0h0M436.2 365.3h0M435.6 427.7h0M464.8 343.3h0M508.6 353.7h0M445.1 464.2h0M450.7 389.6h0M423.7 353.2h0M391.5 356.4h0M343.7 394.6h0M359.6 371.5h0M349.8 399.9h0M434.4 444.6h0M414.8 418.6h0M426.6 387.9h0M404.8 356.2h0M470.3 454.2h0M518.3 379.9h0M424.7 398.7h0M499.0 401.3h0M475.1 448.8h0M346.2 401.6h0M447.5 452.1h0M422.0 365.6h0M420.3 423.2h0M359.3 389.6h0M349.4 403.3h0M418.9 423.6h0M429.2 421.9h0M477.5 451.5h0M415.3 407.5h0M432.7 410.5h0M481.5 382.5h0M427.1 455.5h0M425.6 334.8h0M360.9 439.0h0M416.0 409.4h0M438.5 405.5h0M393.5 360.6h0M489.1 342.5h0M494.3 351.3h0M374.2 345.7h0M446.8 453.6h0M392.5 377.4h0M346.6 406.1h0M388.6 445.8h0M461.5 398.7h0M398.3 424.6h0M448.2 387.6h0M425.1 388.8h0M393.1 340.1h0M469.2 349.6h0M371.8 377.0h0M474.1 340.7h0M495.4 429.0h0M473.0 389.2h0M451.7 343.1h0M371.9 394.9h0M519.2 372.1h0M390.8 409.9h0M467.9 351.6h0M417.4 426.9h0M386.2 411.2h0M448.4 412.7h0M406.9 458.3h0M453.1 331.4h0M493.1 410.5h0M492.9 394.9h0M395.8 406.9h0M487.3 425.6h0M431.5 463.2h0M508.6 378.6h0M466.3 359.2h0M453.9 389.4h0M507.8 364.3h0M485.9 399.7h0M432.4 407.5h0M358.1 360.3h0M465.0 384.9h0M425.1 348.3h0M527.7 406.4h0M409.9 401.3h0M416.7 389.3h0M414.1 445.3h0M412.6 341.9h0M450.6 343.9h0M355.8 375.9h0M475.3 436.9h0M384.4 444.8h0M471.4 460.9h0M427.6 439.6h0M413.1 463.6h0M362.7 356.9h0M492.7 434.0h0M435.3 360.7h0M462.9 437.4h0M387.5 383.8h0M420.5 411.7h0M385.9 444.7h0M373.3 401.7h0M398.9 375.9h0M468.3 415.6h0M482.8 450.1h0M464.2 344.3h0M399.3 391.1h0M453.4 419.9h0M467.5 441.2h0M347.7 408.3h0M412.3 442.0h0M394.5 367.0h0M457.3 351.7h0M373.0 429.9h0M405.4 431.8h0M403.0 399.9h0M494.4 381.9h0M431.0 453.7h0M502.5 352.7h0M430.6 413.6h0M514.6 382.6h0M418.0 440.5h0M402.6 379.7h0M476.9 376.7h0M473.0 339.8h0M491.7 446.2h0M458.2 370.2h0M389.9 342.4h0M407.1 375.2h0M504.6 426.5h0M449.9 429.3h0M490.2 392.5h0M425.2 445.9h0M397.8 441.6h0M500.7 392.4h0M380.5 360.8h0M348.0 367.7h0M368.0 412.8h0M371.8 417.8h0M510.2 395.0h0M493.0 452.2h0M486.5 415.1h0M373.9 346.0h0M421.3 393.1h0M413.0 434.9h0M461.7 401.3h0M376.4 357.5h0M463.9 361.7h0M372.4 412.5h0M426.5 427.9h0M496.6 429.2h0M388.2 394.6h0M445.1 400.4h0M498.7 391.9h0M447.3 417.9h0M501.4 369.1h0M499.0 397.8h0M422.7 425.1h0M455.3 353.3h0M451.6 401.6h0M454.6 410.8h0M382.8 342.4h0M508.3 433.5h0M479.7 434.0h0M480.9 346.7h0M451.3 342.0h0M367.0 352.1h0M479.0 357.1h0M364.2 421.6h0M420.5 430.1h0M458.3 384.4h0M458.0 393.0h0M358.8 402.9h0M512.5 359.1h0M514.5 384.2h0M379.8 440.8h0M409.6 371.7h0M398.3 451.5h0M394.9 444.8h0M449.9 455.5h0M342.3 401.6h0M391.1 364.1h0M464.4 403.3h0M516.9 375.6h0M476.6 445.7h0M379.8 419.2h0M484.8 344.3h0M396.0 342.3h0M489.2 411.7h0M358.8 404.3h0M483.7 396.2h0M427.8 411.6h0M451.4 367.0h0M404.5 360.7h0M439.5 402.0h0M389.8 351.1h0M410.7 447.7h0M386.1 431.0h0M352.6 394.0h0M471.8 439.3h0M350.3 418.7h0M487.5 428.2h0M501.7 407.6h0M451.9 420.9h0M505.2 443.4h0M368.4 352.8h0M403.6 342.9h0M470.5 381.4h0M417.0 346.0h0M499.2 369.8h0M493.7 396.0h0M427.4 446.8h0M488.6 372.7h0M384.7 406.8h0M359.7 361.7h0M405.6 384.4h0M377.2 415.7h0M455.2 436.7h0M481.6 393.4h0M473.4 451.8h0M427.3 360.2h0M481.7 402.7h0M437.3 389.4h0M438.1 336.8h0M404.4 389.2h0M406.4 385.9h0M526.6 379.7h0M378.0 451.4h0M471.3 400.0h0M400.3 448.0h0M473.4 455.0h0M365.2 420.1h0M399.7 451.8h0M349.5 411.4h0M438.0 392.2h0M338.4 396.9h0M524.3 371.1h0M360.7 380.6h0M434.8 431.6h0M500.6 401.8h0M437.5 385.8h0M378.3 387.7h0M376.2 412.4h0M356.4 379.1h0M476.4 360.5h0M355.0 405.1h0M361.8 442.1h0M506.6 438.1h0M349.8 378.0h0M374.0 408.6h0M443.4 361.3h0M473.1 449.3h0M395.2 356.9h0M364.4 383.9h0M393.6 408.8h0M485.0 377.0h0M481.7 452.1h0M441.9 368.4h0M423.8 393.7h0M443.3 395.9h0M365.4 418.5h0M511.9 361.2h0M489.2 341.1h0M480.6 427.8h0M370.0 413.8h0M496.0 446.8h0M414.5 402.4h0" stroke="#78d070" stroke-width="1.2" stroke-linecap="round" fill="none" stroke-opacity="0.9"/>
<path d="M378.1 386.4h0M441.3 423.9h0M396.6 384.7h0M461.2 392.7h0M436.1 430.5h0M516.5 397.1h0M411.9 376.4h0M484.8 353.8h0M451.1 361.4h0M492.0 449.8h0M428.4 341.0h0M497.0 420.7h0M417.5 449.4h0M499.1 438.6h0M452.3 420.4h0M414.9 350.3h0M431.2 401.8h0M392.5 435.7h0M370.1 379.5h0M341.2 383.4h0M451.4 445.2h0M459.1 423.2h0M384.4 436.3h0M485.3 416.5h0M487.9 386.4h0M407.1 333.5h0M370.2 421.0h0M512.4 383.4h0M462.0 386.9h0M371.9 418.7h0M357.3 379.3h0M400.7 362.1h0M436.1 432.3h0M442.6 361.0h0M393.9 402.8h0M494.2 420.6h0M339.4 406.0h0M427.0 362.6h0M477.0 339.6h0M407.1 445.7h0M352.2 423.8h0M419.9 383.6h0M443.3 462.0h0M430.2 465.9h0M443.3 431.4h0M466.8 449.7h0M396.3 361.3h0M423.4 389.7h0M477.9 349.6h0M528.8 396.9h0M477.7 445.4h0M484.2 409.9h0M443.9 423.3h0M493.2 390.1h0M388.9 438.6h0M497.4 366.8h0M404.8 441.7h0M356.5 391.9h0M377.4 363.8h0M409.1 445.7h0M443.9 398.7h0M493.5 374.0h0M454.9 465.6h0M473.9 365.5h0M350.9 387.1h0M379.6 414.8h0M472.3 458.9h0M468.1 443.4h0M409.3 413.9h0M481.3 440.1h0M473.1 408.4h0M468.7 428.7h0M409.7 347.0h0M414.2 445.0h0M409.4 355.8h0M472.3 441.7h0M386.2 349.5h0M425.9 398.4h0M449.6 387.2h0M439.3 466.1h0M509.6 439.9h0M463.1 389.3h0M523.4 375.6h0M351.7 428.1h0M513.6 413.2h0M354.6 417.6h0M357.1 408.3h0M438.7 456.1h0M415.4 337.0h0M348.0 367.5h0M472.1 373.8h0M439.5 375.5h0M500.8 378.0h0M495.2 407.3h0M406.2 437.5h0M369.2 408.5h0M448.3 416.7h0M385.5 351.9h0M452.1 387.9h0M396.9 440.9h0M385.7 377.0h0M398.8 363.1h0M375.9 379.5h0M492.5 354.1h0M471.0 419.2h0M405.0 457.9h0M431.6 390.7h0M373.9 358.1h0M489.7 391.6h0M442.4 347.6h0M367.4 402.5h0M373.5 393.2h0M413.6 343.5h0M440.1 372.1h0M441.3 446.6h0M462.0 426.4h0M376.6 359.8h0M365.0 417.2h0M457.1 369.6h0M506.9 419.1h0M391.0 385.8h0M407.0 412.1h0M457.8 413.0h0M468.4 440.3h0M420.8 339.5h0M517.3 415.6h0M374.2 416.6h0M439.3 329.6h0M510.9 419.9h0M388.5 393.6h0M406.5 444.9h0M426.7 419.6h0M461.5 396.3h0M426.7 409.8h0M440.0 462.7h0M458.6 450.2h0M489.6 342.3h0M478.9 335.7h0M468.4 419.4h0M522.1 389.3h0M356.7 358.7h0M490.3 418.0h0M406.3 382.9h0M391.7 412.8h0M413.4 392.6h0M355.1 394.0h0M487.2 439.8h0M360.6 399.8h0M439.9 423.1h0M497.2 358.0h0M449.3 417.2h0M507.0 432.2h0M421.3 391.0h0M392.6 361.0h0M377.0 384.4h0M423.2 403.7h0M512.8 429.4h0M503.9 383.5h0M520.5 410.3h0M518.4 387.0h0M456.0 352.5h0M417.3 380.7h0M360.7 435.8h0M389.7 389.1h0M359.8 387.6h0M396.8 334.5h0M408.9 385.3h0M469.1 424.5h0M509.4 428.5h0M440.4 438.7h0M467.5 449.4h0M391.2 403.1h0M414.9 385.3h0M471.8 405.5h0M460.4 405.7h0M423.6 361.7h0M400.7 351.8h0M405.9 375.4h0M388.4 349.2h0M488.2 359.9h0M415.1 359.1h0M383.1 427.0h0M406.0 389.4h0M419.5 437.9h0M529.5 397.3h0M416.2 365.9h0M392.2 439.1h0M426.2 330.8h0M339.9 390.2h0M502.1 429.8h0M412.0 393.3h0M482.1 388.3h0M513.1 404.7h0M474.7 391.5h0M412.2 384.6h0M412.4 392.2h0M465.4 393.9h0M376.5 437.9h0M422.4 407.0h0M473.2 388.8h0M410.8 418.6h0M509.5 361.6h0M415.8 374.0h0M343.8 391.2h0M350.0 419.8h0M504.9 434.9h0M446.1 380.7h0M503.8 396.0h0M508.3 354.4h0M442.7 360.9h0M494.1 351.7h0M421.3 347.3h0M391.5 449.9h0M463.6 378.4h0M360.4 411.2h0M520.4 396.4h0M369.9 373.5h0M498.2 368.2h0M410.6 396.7h0M466.1 383.2h0M354.5 386.2h0M370.1 387.3h0M372.7 428.5h0M496.5 419.5h0M478.1 416.7h0M488.7 365.6h0M419.3 338.8h0M437.5 393.4h0M423.2 422.3h0M389.0 371.5h0M394.9 351.6h0M401.7 402.3h0M430.5 414.7h0M471.4 342.4h0M509.9 440.3h0M394.7 401.1h0M515.8 364.1h0M420.4 398.5h0M522.6 383.6h0M446.1 378.3h0M386.8 367.1h0M349.2 382.0h0M451.4 461.1h0M427.1 377.3h0M456.3 425.3h0M465.2 451.6h0M379.2 367.6h0M482.7 374.2h0M362.7 359.7h0M462.1 443.2h0M401.4 374.7h0M437.8 459.5h0M361.0 413.4h0M356.0 369.0h0M386.0 410.6h0M486.2 438.4h0M504.0 395.2h0M511.6 412.4h0M396.3 460.9h0M460.7 445.9h0M359.1 373.6h0M450.5 436.5h0M494.9 418.1h0M434.5 449.7h0M365.6 407.6h0M496.7 406.9h0M478.3 416.3h0M452.4 434.6h0M513.6 362.4h0M368.5 354.7h0M359.4 397.0h0M394.3 344.5h0M433.0 376.8h0M467.6 453.8h0M413.7 350.8h0M449.2 380.7h0M357.9 405.8h0M448.1 376.9h0M347.8 378.8h0M357.8 405.3h0M400.0 363.1h0M474.1 447.2h0M463.3 453.7h0M397.1 441.6h0M364.1 431.3h0M391.3 421.8h0M480.2 371.0h0M442.9 404.7h0M368.5 400.1h0M416.4 435.5h0M507.2 394.0h0M410.0 405.1h0M388.7 391.2h0M486.9 357.0h0M473.3 406.2h0M445.8 401.5h0M394.5 396.6h0M358.3 364.1h0M469.2 400.0h0M459.1 425.6h0M514.4 382.4h0M500.0 392.9h0M437.6 372.6h0M462.7 381.0h0M428.9 342.3h0M390.0 425.7h0M354.2 435.6h0M446.3 375.3h0M449.4 354.9h0M450.9 362.3h0M415.0 373.4h0M458.9 421.2h0M437.2 416.4h0M506.4 385.4h0M341.0 403.5h0M446.7 378.6h0M418.6 460.6h0M429.8 436.9h0M460.4 337.2h0M443.4 437.0h0M398.7 353.2h0M391.6 352.0h0M481.4 425.8h0M452.8 382.3h0M368.0 371.8h0M401.5 333.4h0M392.7 389.5h0M377.7 380.9h0M390.7 344.9h0M404.6 340.2h0M406.4 455.6h0M517.2 402.2h0M403.4 451.0h0M390.2 458.6h0M481.3 350.9h0M490.1 342.1h0M443.6 389.3h0M399.1 404.4h0M360.1 440.6h0M488.6 435.7h0M397.1 390.8h0M432.4 339.2h0M458.8 416.8h0M423.4 444.9h0M384.5 430.5h0M375.7 365.1h0M377.4 421.5h0M368.6 350.4h0M441.8 395.7h0M396.6 353.3h0M395.4 383.5h0M410.9 393.5h0M461.1 405.9h0M453.8 436.5h0M489.9 403.2h0M392.3 380.5h0M377.5 415.9h0M465.0 393.5h0M345.9 415.2h0M467.0 441.6h0M504.7 359.6h0M377.8 421.9h0M368.3 424.7h0M444.8 340.9h0M353.2 426.6h0M448.5 341.3h0M362.6 400.4h0M348.9 377.5h0M395.7 390.7h0M493.2 373.1h0M362.4 442.7h0M409.8 391.3h0M429.0 355.6h0M436.4 393.7h0M498.1 434.5h0M376.9 436.3h0M479.9 358.5h0M443.6 413.7h0M438.3 439.7h0M345.0 422.6h0M355.2 415.8h0M438.9 454.3h0M384.5 416.3h0M466.1 413.3h0M440.1 404.1h0M396.9 408.3h0M519.6 401.2h0M444.1 435.1h0M426.0 413.2h0M428.9 419.5h0M473.6 390.6h0M439.8 429.2h0M396.6 457.9h0M490.4 392.1h0M425.2 371.3h0M438.5 402.5h0M393.6 394.4h0M442.0 352.4h0M523.1 409.9h0M422.6 409.3h0M423.6 391.8h0M514.5 369.7h0M400.8 418.1h0M440.1 457.9h0M485.4 425.4h0M353.9 402.0h0M450.2 330.4h0M480.8 377.2h0M521.0 430.6h0M409.7 340.9h0M361.1 369.2h0M509.4 417.6h0M476.0 420.3h0M417.7 455.3h0M472.3 398.2h0M426.2 336.0h0M452.7 368.4h0M362.5 400.0h0M403.3 343.8h0M410.7 355.8h0M464.3 434.3h0M428.6 400.1h0M438.0 393.6h0M483.9 434.1h0M522.1 409.8h0M501.1 384.9h0M410.4 388.1h0M517.5 382.6h0M370.0 355.2h0M453.1 446.3h0M502.6 397.0h0M420.3 373.9h0M371.9 435.6h0M466.4 437.4h0M400.7 417.4h0M401.7 353.2h0M442.8 407.5h0M448.1 399.1h0M464.2 436.8h0M385.3 428.0h0M433.2 339.9h0M459.5 398.7h0M415.7 391.0h0M371.4 367.9h0M452.0 364.6h0M476.0 336.4h0M413.6 381.4h0M495.2 384.8h0M503.3 403.2h0M432.5 411.4h0M425.4 434.1h0M506.0 403.8h0M345.6 413.7h0M467.4 352.6h0M417.5 354.7h0M441.9 377.7h0M473.5 361.8h0M463.8 350.2h0M404.1 377.4h0M466.5 414.7h0M373.9 356.3h0M385.8 453.3h0M377.4 345.6h0M366.8 369.1h0M470.5 347.5h0M431.5 387.5h0M448.0 394.7h0M373.3 358.0h0M453.0 378.7h0M467.0 336.3h0M376.7 442.0h0M350.7 377.8h0M441.3 464.6h0M340.2 392.5h0M445.0 358.0h0M422.2 448.4h0M430.2 338.3h0M439.2 420.9h0M486.6 418.8h0M361.3 371.5h0M462.9 377.9h0M495.6 429.7h0M387.0 352.0h0M520.9 367.8h0M477.2 450.4h0M512.1 423.7h0M419.6 455.1h0M348.9 394.7h0M487.5 408.5h0M487.1 451.7h0M473.0 453.7h0M411.2 446.2h0M347.1 413.0h0M482.0 380.9h0M456.9 362.4h0M378.3 406.2h0M395.0 362.7h0M389.8 391.6h0M428.0 432.7h0M431.6 398.0h0M399.1 404.2h0M492.2 424.5h0M403.2 411.4h0M466.6 416.1h0M406.9 459.3h0M413.8 382.9h0M429.4 403.2h0M435.3 456.4h0M364.8 380.0h0M432.6 384.1h0M468.7 456.9h0M424.6 380.5h0M385.3 400.4h0M502.2 368.5h0M377.5 405.2h0M439.7 433.6h0M410.4 383.7h0M476.6 349.4h0" stroke="#80d878" stroke-width="1.2" stroke-linecap="round" fill="none" stroke-opacity="0.9"/>
<path d="M448.1 383.6h0M400.2 395.8h0M355.9 366.2h0M463.7 364.8h0M531.3 396.0h0M422.1 367.1h0M440.7 429.7h0M503.8 419.2h0M501.7 399.1h0M467.7 376.9h0M455.3 385.7h0M378.0 353.2h0M487.4 379.2h0M452.4 365.2h0M361.9 384.9h0M415.9 454.3h0M443.2 449.9h0M480.1 380.9h0M519.9 392.6h0M462.0 364.0h0M483.5 446.0h0M456.0 454.0h0M422.3 375.1h0M360.1 420.8h0M376.4 385.8h0M386.8 437.9h0M366.2 349.4h0M347.1 408.1h0M398.0 345.7h0M426.0 362.5h0M361.5 402.5h0M466.9 351.4h0M531.6 400.5h0M400.8 363.6h0M394.6 456.2h0M355.1 396.8h0M464.0 394.9h0M365.9 362.6h0M469.6 397.2h0M381.7 430.7h0M447.0 341.1h0M358.2 362.0h0M384.4 352.5h0M438.7 388.1h0M373.4 406.4h0M410.7 408.3h0M394.0 343.5h0M503.8 394.1h0M525.8 388.2h0M450.3 422.0h0M483.6 378.0h0M506.0 411.5h0M371.0 402.0h0M416.5 423.0h0M478.5 385.1h0M502.3 405.6h0M391.3 438.3h0M479.0 396.4h0M434.2 408.5h0M433.0 360.9h0M398.7 452.8h0M381.0 440.9h0M490.2 390.9h0M381.6 368.7h0M463.7 409.2h0M468.3 352.2h0M431.2 336.1h0M506.5 440.4h0M479.4 415.3h0M451.7 385.5h0M448.9 358.0h0M472.0 335.8h0M467.0 360.9h0M440.6 413.5h0M375.0 398.1h0M477.4 345.5h0M441.6 401.7h0M412.2 370.9h0M520.9 414.9h0M406.7 336.9h0M463.7 450.3h0M395.8 336.3h0M526.0 421.9h0M398.8 372.1h0M499.8 439.6h0M382.9 454.6h0M468.8 422.3h0M499.1 423.3h0M496.0 420.3h0M503.2 440.6h0M439.2 348.2h0M414.6 369.4h0M429.2 429.2h0M463.8 362.4h0M401.5 375.1h0M384.2 385.0h0M481.8 424.9h0M515.2 397.5h0M358.8 364.9h0M389.2 380.2h0M462.3 395.9h0M443.1 349.0h0M366.6 422.3h0M476.3 396.7h0M442.0 463.5h0M421.6 336.0h0M415.6 411.9h0M389.7 446.4h0M418.1 449.9h0M426.7 451.1h0M477.5 412.2h0M478.8 428.7h0M430.2 404.0h0M518.5 366.1h0M509.1 398.6h0M487.5 356.1h0M379.8 360.3h0M390.7 390.3h0M468.3 374.8h0M474.8 358.4h0M341.5 409.8h0M437.1 420.2h0M469.3 350.9h0M442.5 349.4h0M385.2 348.5h0M467.9 436.5h0M443.3 362.5h0M360.1 435.4h0M470.6 448.5h0M383.4 426.8h0M428.9 449.5h0M421.0 399.7h0M406.1 442.1h0M528.3 407.4h0M519.8 407.2h0M463.4 364.0h0M363.6 396.1h0M511.8 408.8h0M467.5 367.5h0M404.2 343.1h0M449.0 453.9h0M456.9 351.7h0M519.0 381.3h0M451.0 459.3h0M459.0 411.0h0M385.7 421.4h0M486.9 418.1h0M467.6 449.4h0M378.4 362.7h0M368.7 365.2h0M510.3 384.1h0M487.8 433.0h0M453.0 412.4h0M365.6 437.8h0M521.4 367.2h0M432.0 431.4h0M513.6 378.0h0M408.3 386.4h0M467.3 387.2h0M522.3 386.1h0M450.4 428.9h0M512.5 420.2h0M377.1 397.7h0M385.0 439.6h0M440.2 392.7h0M421.3 436.0h0M419.0 344.3h0M448.0 390.4h0M450.0 405.7h0M491.6 427.1h0M378.5 418.5h0M454.4 339.1h0M436.7 413.3h0M415.5 413.3h0M429.3 407.0h0M432.7 437.1h0M348.2 406.6h0M449.0 429.0h0M457.1 370.4h0M388.2 425.0h0M465.0 377.8h0M393.0 390.8h0M399.8 354.5h0M397.6 420.6h0M401.4 419.9h0M383.0 442.6h0M428.7 433.6h0M470.6 440.0h0M445.4 430.1h0M474.4 396.4h0M350.3 382.2h0M457.6 417.6h0M459.1 397.6h0M421.3 390.3h0M442.6 331.7h0M474.7 367.3h0M502.7 413.1h0M517.2 432.7h0M440.9 410.4h0M468.3 372.7h0M385.1 446.7h0M358.3 434.2h0M396.3 383.0h0M413.1 342.7h0M376.3 343.1h0M455.5 360.8h0M454.9 340.6h0M448.7 443.1h0M494.9 411.3h0M381.1 412.2h0M374.8 374.4h0M389.6 347.2h0M479.4 441.5h0M413.5 373.3h0M519.8 428.2h0M520.6 403.4h0M392.3 451.5h0M376.2 413.4h0M367.4 429.8h0M483.9 351.3h0M518.6 366.4h0M356.1 405.9h0M425.5 363.7h0M449.8 350.5h0M385.4 394.7h0M374.0 380.3h0M454.6 364.0h0M463.4 341.3h0M526.6 382.4h0M448.6 428.5h0M492.2 370.9h0M378.8 382.6h0M404.1 457.2h0M382.6 353.0h0M386.2 354.1h0M452.9 451.7h0M505.4 373.5h0M463.6 442.2h0M369.4 374.0h0M509.6 389.1h0M423.9 361.4h0M461.3 340.2h0M390.6 362.4h0M515.4 402.3h0M381.4 441.2h0M450.3 466.0h0M434.1 421.6h0M394.1 391.4h0M449.8 452.7h0M506.2 364.2h0M436.0 332.6h0M513.4 392.7h0M425.3 456.0h0M521.4 367.4h0M404.3 369.9h0M397.8 386.5h0M354.2 381.6h0M400.8 387.3h0M461.0 367.3h0M499.8 391.1h0M408.9 426.0h0M398.8 447.7h0M363.5 409.4h0M484.0 425.2h0M405.2 332.2h0M503.2 378.6h0M482.8 367.5h0M457.0 464.8h0M449.2 455.1h0M450.8 343.4h0M499.4 354.2h0M410.7 458.2h0M418.3 405.9h0M445.9 406.6h0M428.3 451.4h0M512.3 434.7h0M436.9 466.5h0M426.4 431.1h0M398.5 403.1h0M527.2 381.5h0M396.9 447.2h0M371.1 439.3h0M451.7 340.1h0M461.9 427.4h0M469.3 436.2h0M369.7 365.6h0M412.3 355.1h0M486.3 381.5h0M388.0 372.0h0M443.3 423.1h0M435.5 386.4h0M456.3 387.5h0M464.0 419.2h0M442.7 329.6h0M498.7 424.4h0M404.9 433.4h0M396.9 394.9h0M390.0 410.6h0M414.0 378.3h0M472.6 404.1h0M501.1 347.3h0M395.7 353.6h0M470.2 336.2h0M471.8 395.1h0M460.7 403.0h0M418.0 381.8h0M496.6 430.6h0M429.4 391.9h0M387.1 386.4h0M478.4 336.7h0M434.9 380.5h0M398.4 374.5h0M396.0 450.9h0M438.5 411.5h0M410.8 360.8h0M445.7 376.2h0M403.4 447.1h0M426.5 414.9h0M430.3 433.1h0M449.0 365.2h0M405.7 462.4h0M505.0 417.6h0M528.3 409.0h0M505.8 381.5h0M409.8 387.5h0M365.9 444.3h0M424.5 368.2h0M406.4 332.7h0M404.1 459.0h0M458.6 362.3h0M423.2 334.8h0M412.7 369.5h0M443.9 382.9h0M448.6 417.9h0M501.6 443.5h0M521.6 390.6h0M442.0 378.9h0M411.5 383.8h0M429.1 393.7h0M459.1 331.3h0M402.1 389.9h0M484.9 405.6h0M440.7 359.6h0M471.2 451.6h0M489.8 387.2h0M399.1 443.6h0M415.0 445.4h0M405.4 445.6h0M376.8 411.2h0M363.3 367.5h0M400.5 393.9h0M495.9 377.5h0M373.2 379.9h0M370.7 404.8h0M479.2 367.9h0M454.0 398.7h0M462.1 430.2h0M389.7 390.6h0M375.4 371.7h0M433.6 346.8h0M360.5 388.3h0M431.5 329.6h0M505.4 422.8h0M415.8 464.9h0M460.7 446.2h0M369.2 414.0h0M429.1 431.9h0M415.2 354.5h0M409.1 338.1h0M376.0 362.9h0M525.1 403.2h0M341.8 387.9h0M478.5 350.9h0M420.7 395.0h0M526.9 405.2h0M476.6 371.8h0M494.2 409.0h0M347.4 423.3h0M375.5 409.4h0M453.9 363.7h0M436.4 455.5h0M436.8 400.8h0M349.6 408.3h0M439.9 361.6h0M354.2 389.0h0M448.2 454.7h0M461.7 463.2h0M441.4 408.2h0M462.4 335.1h0M400.9 373.3h0M415.6 395.8h0M470.3 386.1h0M376.8 377.6h0M412.0 388.1h0M390.3 396.3h0M444.2 448.8h0M390.0 381.1h0M458.2 363.9h0M468.4 421.0h0M501.4 346.6h0M390.0 388.9h0M395.1 342.8h0M404.7 462.2h0M473.3 379.9h0M381.2 441.4h0M471.8 439.6h0M457.7 435.3h0M373.8 362.7h0M477.0 442.0h0M440.2 450.9h0M471.8 350.9h0M485.1 358.8h0M386.5 413.5h0M433.9 337.8h0M383.8 348.6h0M417.4 330.2h0M359.4 434.6h0M441.7 398.3h0M357.9 420.7h0M396.3 437.7h0M411.0 347.7h0M498.8 371.2h0M382.8 391.0h0M385.4 425.8h0M486.9 403.2h0M437.9 369.6h0M445.4 386.3h0M506.9 388.7h0M458.8 342.1h0M405.1 451.1h0M473.2 370.8h0M370.0 401.3h0M484.2 355.9h0M379.5 393.8h0M422.5 330.2h0M419.8 415.9h0M474.1 440.9h0M456.6 349.3h0M399.3 335.7h0M489.8 448.6h0M380.0 376.5h0M486.3 365.6h0M380.6 347.0h0M359.7 374.0h0M419.1 391.0h0M433.0 413.8h0M460.0 443.3h0M372.5 418.8h0M429.9 401.9h0M458.0 358.2h0M417.8 428.6h0M476.1 431.3h0M478.7 369.3h0M488.4 415.7h0M403.1 446.6h0M365.9 422.6h0M438.8 354.7h0M447.0 358.4h0M390.2 417.8h0M470.3 441.4h0M378.7 381.7h0M368.6 402.5h0M415.2 435.7h0M347.5 375.2h0M417.1 465.2h0M458.6 391.2h0M443.7 348.1h0M453.1 347.9h0M425.1 443.6h0M416.9 334.7h0M390.7 377.4h0M397.6 384.9h0M418.7 465.1h0M436.0 377.6h0M482.8 383.9h0M486.3 430.6h0M506.0 429.5h0M383.6 403.5h0M491.5 436.6h0M381.7 418.6h0M459.7 436.1h0M439.7 442.1h0M477.6 438.6h0M481.8 373.5h0M404.5 448.3h0M388.7 362.8h0M436.1 337.4h0M503.4 379.5h0M423.1 352.9h0M416.5 410.1h0M372.7 388.8h0M417.3 426.4h0M522.0 420.2h0M503.0 403.4h0M458.3 387.9h0M431.8 459.1h0M399.3 411.2h0M458.5 380.4h0M438.6 434.7h0M414.3 413.4h0M426.6 404.5h0M382.7 409.1h0M409.5 337.3h0M397.5 458.8h0M502.1 371.4h0M493.5 365.5h0M387.3 430.8h0M380.0 392.2h0M451.8 465.3h0M431.3 394.4h0M426.4 386.8h0M427.3 398.0h0M459.9 392.9h0M474.8 451.5h0M375.1 394.6h0M453.0 433.5h0M419.0 337.2h0M352.8 428.0h0M463.5 351.4h0M480.7 440.1h0M365.4 403.4h0M432.5 397.9h0M480.4 356.5h0" stroke="#88d468" stroke-width="1.2" stroke-linecap="round" fill="none" stroke-opacity="0.9"/>
<path d="M459.1 440.5h0M365.1 384.4h0M445.1 407.9h0M358.1 406.6h0M435.2 413.9h0M455.9 387.2h0M448.2 444.5h0M464.0 419.0h0M515.2 368.6h0M477.5 339.8h0M397.0 416.3h0M471.9 446.3h0M452.3 429.7h0M394.5 361.5h0M437.1 389.6h0M444.5 408.8h0M418.4 408.5h0M492.8 414.3h0M503.4 395.0h0M446.8 343.4h0M514.1 407.0h0M494.0 401.1h0M430.5 417.5h0M448.0 347.9h0M432.6 451.2h0M485.3 404.9h0M444.4 394.5h0M373.1 394.8h0M445.0 356.7h0M500.3 412.3h0M446.3 414.4h0M414.5 333.1h0M392.7 342.1h0M526.8 391.4h0M471.1 333.8h0M442.5 458.3h0M481.1 439.6h0M478.3 339.2h0M447.1 394.6h0M342.3 414.4h0M400.6 413.6h0M503.2 399.2h0M396.6 411.5h0M510.3 412.3h0M387.2 377.6h0M386.1 355.5h0M474.3 413.4h0M389.8 403.0h0M416.7 382.3h0M467.9 409.3h0M495.2 349.4h0M403.0 425.2h0M413.5 455.6h0M443.5 411.9h0M476.2 456.6h0M498.6 418.8h0M387.7 404.8h0M403.6 407.6h0M398.8 341.2h0M394.6 460.1h0M488.1 355.6h0M406.5 418.4h0M420.0 437.6h0M399.4 432.5h0M521.7 401.7h0M486.5 431.1h0M415.5 413.0h0M506.7 444.6h0M523.3 386.9h0M367.4 395.9h0M484.4 393.1h0M461.2 456.7h0M455.1 448.3h0M520.3 380.5h0M448.8 336.7h0M407.0 402.9h0M438.6 377.2h0M405.1 362.2h0M462.6 379.7h0M425.9 388.9h0M411.7 420.2h0M439.7 330.7h0M453.0 387.2h0M339.7 405.8h0M377.8 374.0h0M342.5 403.4h0M373.7 422.5h0M443.2 359.9h0M434.7 421.1h0M442.0 421.2h0M426.9 357.7h0M453.0 401.2h0M479.9 382.1h0M526.7 418.4h0M463.6 394.5h0M406.4 438.4h0M402.5 340.3h0M443.5 457.2h0M453.6 445.4h0M342.8 381.5h0M361.8 420.3h0M407.7 370.7h0M349.8 408.0h0M463.3 354.7h0M430.1 460.7h0M441.6 446.9h0M370.5 356.3h0M366.2 435.8h0M480.5 347.1h0M375.2 377.5h0M493.5 430.5h0M513.6 388.6h0M462.8 420.4h0M365.4 419.1h0M484.8 392.6h0M502.2 381.2h0M434.4 349.5h0M453.6 437.5h0M368.4 440.8h0M473.4 383.6h0M443.4 448.1h0M439.7 433.6h0M422.4 370.8h0M417.0 418.0h0M439.7 438.8h0M419.5 411.5h0M429.5 410.3h0M464.7 340.0h0M366.0 421.8h0M401.4 410.6h0M388.9 343.6h0M394.7 394.7h0M497.4 374.5h0M376.6 434.3h0M411.3 359.2h0M407.6 420.5h0M448.2 388.4h0M487.0 366.2h0M445.0 401.7h0M472.1 371.2h0M488.7 366.0h0M348.6 384.5h0M492.2 378.5h0M489.9 344.1h0M405.6 441.9h0M501.3 413.1h0M444.5 407.7h0M436.4 439.2h0M455.7 393.7h0M502.5 364.0h0M387.2 444.2h0M382.0 374.8h0M504.6 438.4h0M403.1 370.2h0M452.6 408.4h0M381.8 383.5h0M507.7 420.5h0M448.1 455.9h0M370.9 399.3h0M514.5 408.5h0M368.0 371.5h0M497.3 391.9h0M489.4 451.0h0M447.1 463.2h0M374.6 448.0h0M517.4 407.7h0M496.9 363.8h0M489.6 432.1h0M476.2 448.1h0M519.2 419.3h0M499.2 361.9h0M396.7 422.9h0M421.4 341.3h0M457.0 382.3h0M499.4 410.7h0M455.5 393.5h0M390.3 458.6h0M486.8 383.7h0M485.3 380.1h0M486.2 374.8h0M501.2 364.8h0M402.0 422.2h0M455.6 436.7h0M419.9 404.6h0M454.2 415.2h0M373.6 438.5h0M390.8 449.8h0M520.6 401.3h0M470.6 431.3h0M390.6 441.5h0M377.6 385.0h0M491.6 418.3h0M523.8 382.0h0M470.0 382.2h0M347.9 420.9h0M504.6 380.0h0M450.8 380.1h0M427.2 354.5h0M464.7 462.0h0M523.9 398.2h0M368.7 385.7h0M436.4 401.8h0M462.3 338.4h0M387.5 416.5h0M474.1 393.4h0M417.8 423.5h0M409.3 393.0h0M455.4 429.6h0M441.5 360.7h0M388.0 396.3h0M434.7 462.4h0M434.9 447.9h0M350.5 373.5h0M520.5 423.1h0M434.1 398.5h0M427.1 423.7h0M459.8 406.2h0M420.9 375.3h0M384.7 365.0h0M519.7 397.6h0M472.7 431.0h0M385.0 348.3h0M458.7 397.3h0M474.2 453.7h0M510.9 390.9h0M339.1 397.5h0M421.8 378.6h0M474.4 435.8h0M423.6 432.7h0M451.0 358.1h0M431.6 344.2h0M517.0 412.1h0M473.4 418.8h0M408.3 401.0h0M435.0 344.8h0M446.8 331.0h0M446.1 338.6h0M458.1 330.2h0M509.5 437.6h0M475.1 338.2h0M479.5 404.7h0M438.8 412.7h0M415.0 352.6h0M455.8 458.7h0M449.0 399.8h0M406.6 393.9h0M436.0 447.8h0M492.9 365.6h0M506.2 374.0h0M415.3 449.8h0M474.1 439.8h0M463.7 409.5h0M428.0 382.2h0M433.1 432.2h0M347.4 425.6h0M451.5 386.3h0M425.3 417.2h0M382.3 439.5h0M451.4 394.8h0M464.5 341.5h0M430.2 459.7h0M376.3 420.2h0M375.4 392.1h0M434.6 373.4h0M521.6 385.1h0M469.0 435.0h0M430.1 458.6h0M409.8 454.9h0M470.4 460.1h0M453.9 458.3h0M489.4 381.1h0M520.4 398.5h0M507.7 359.6h0M414.6 451.1h0M500.8 355.9h0M515.8 424.4h0M521.0 379.5h0M509.0 392.0h0M497.7 353.7h0M447.6 439.8h0M497.3 403.7h0M460.0 447.8h0M351.6 410.8h0M463.2 368.3h0M456.1 340.4h0M471.7 369.7h0M435.3 446.9h0M449.9 374.7h0M464.8 363.9h0M367.7 353.0h0M495.8 375.4h0M475.8 343.6h0M452.2 440.7h0M406.5 438.7h0M430.7 374.5h0M401.6 377.8h0M466.5 398.3h0M363.3 401.1h0M380.0 369.3h0M491.3 399.0h0M497.9 346.0h0M421.2 384.1h0M419.3 445.9h0M467.1 334.7h0M495.8 379.6h0M451.9 457.9h0M441.4 429.7h0M414.7 459.3h0M361.2 436.6h0M479.1 354.2h0M392.2 414.9h0M413.4 439.9h0M372.0 391.2h0M453.3 440.9h0M388.3 453.4h0M443.7 422.2h0M390.0 341.3h0M490.6 445.9h0M459.1 395.4h0M524.5 407.0h0M394.2 343.9h0M353.1 379.6h0M425.0 438.6h0M451.5 330.9h0M385.0 427.1h0M499.4 364.7h0M461.3 461.1h0M441.1 448.7h0M423.7 390.1h0M441.8 364.1h0M387.8 429.0h0M381.6 416.3h0M384.9 417.2h0M399.7 372.3h0M428.6 395.7h0M391.3 423.2h0M387.9 407.9h0M480.8 391.9h0M404.9 438.6h0M412.8 358.9h0M470.0 366.3h0M453.5 380.8h0M440.1 403.8h0M460.5 446.6h0M503.4 427.9h0M495.9 435.5h0M456.5 459.7h0M432.1 377.4h0M377.0 443.6h0M376.2 409.2h0M390.5 382.7h0M466.0 439.9h0M421.2 395.1h0M462.2 442.1h0M363.8 444.1h0M394.5 442.5h0M409.7 449.7h0M423.8 465.5h0M492.7 365.9h0M506.5 373.6h0M358.6 427.6h0M472.5 386.8h0M365.6 419.0h0M428.6 447.1h0M447.6 341.4h0M382.8 439.7h0M502.7 350.7h0M500.7 368.2h0M527.8 375.7h0M414.8 407.0h0M427.1 450.2h0M491.6 429.1h0M470.9 403.7h0M392.5 385.5h0M401.3 431.4h0M379.0 389.2h0M473.4 335.5h0M502.8 381.5h0M497.3 427.9h0M425.4 410.8h0M504.1 382.7h0M521.4 373.7h0M418.7 461.1h0M458.6 417.9h0M367.5 356.7h0M411.9 341.3h0M381.1 344.2h0M445.4 371.2h0M428.3 384.4h0M460.7 405.9h0M420.5 419.0h0M527.1 414.0h0M447.1 420.3h0M413.6 340.9h0M453.6 407.5h0M446.4 406.7h0M429.6 381.9h0M465.7 394.1h0M368.6 398.1h0M474.8 444.4h0M394.6 381.1h0M392.8 456.0h0M463.3 399.2h0M503.8 384.9h0M468.0 414.7h0M338.5 397.8h0M454.4 370.5h0M355.7 403.0h0M516.9 419.6h0M341.1 394.9h0M466.5 361.3h0M394.1 410.6h0M354.3 414.5h0M516.0 425.3h0M422.4 429.0h0M477.5 415.5h0M446.0 378.3h0M385.8 391.4h0M418.9 424.5h0M449.0 401.5h0M371.1 448.9h0M452.3 364.9h0M463.2 356.0h0M395.7 353.0h0M376.0 392.4h0M439.5 446.9h0M378.1 392.2h0M427.4 352.1h0M405.2 436.0h0M494.4 415.4h0M454.7 387.2h0M348.7 395.4h0M512.6 370.0h0M387.0 418.0h0M483.1 448.2h0M500.9 408.6h0M464.1 413.6h0M412.8 414.6h0M508.8 375.8h0M460.8 432.0h0M485.1 338.5h0M367.0 413.0h0M422.6 358.1h0M388.2 424.9h0M391.7 337.8h0M434.1 412.0h0M467.8 454.6h0M357.8 372.6h0M447.2 430.2h0M476.8 415.3h0M463.8 394.2h0M368.4 366.5h0M397.5 373.2h0M403.3 437.0h0M457.7 353.0h0M430.9 395.5h0M499.2 421.5h0M499.5 433.5h0M464.8 458.3h0M475.3 455.1h0M385.0 362.9h0M423.1 418.8h0M512.0 390.8h0M480.0 354.4h0M353.1 430.2h0M415.3 378.1h0M428.9 458.6h0M528.7 394.6h0M390.4 441.2h0M434.2 463.8h0M471.2 376.8h0M452.5 449.4h0M378.1 428.4h0M416.0 384.0h0M485.5 408.1h0M517.1 422.4h0M456.2 395.7h0M381.0 342.8h0M361.8 377.7h0M486.2 343.2h0M520.0 421.9h0M399.7 334.6h0M429.5 396.9h0" stroke="#90d880" stroke-width="1.2" stroke-linecap="round" fill="none" stroke-opacity="0.9"/>
<path d="M452.3 394.5h0M495.4 407.9h0M500.7 395.6h0M390.8 443.9h0M415.2 448.9h0M417.4 366.0h0M456.0 388.5h0M387.2 359.6h0M488.5 400.8h0M377.4 397.1h0M372.7 348.6h0M404.9 444.9h0M451.1 352.9h0M485.0 427.6h0M400.6 447.1h0M390.5 447.8h0M350.5 406.2h0M416.9 393.0h0M434.2 390.5h0M416.5 339.2h0M385.3 391.1h0M430.4 462.8h0M465.3 408.9h0M501.4 406.8h0M373.3 386.9h0M426.6 375.8h0M396.1 349.3h0M524.7 415.1h0M439.9 381.5h0M427.3 462.2h0M390.3 356.0h0M486.6 453.9h0M429.6 460.3h0M365.7 437.7h0M385.2 420.6h0M419.3 342.4h0M364.0 382.0h0M423.9 387.7h0M435.9 334.2h0M472.0 443.1h0M390.5 445.7h0M425.3 456.6h0M489.2 398.0h0M460.7 350.3h0M427.9 405.3h0M496.5 447.7h0M488.0 425.3h0M420.6 444.3h0M364.9 436.9h0M508.5 369.2h0M344.5 385.6h0M425.9 417.9h0M438.8 466.0h0M411.8 388.3h0M390.0 452.0h0M362.3 401.8h0M425.5 448.5h0M403.0 422.8h0M484.0 342.1h0M352.7 385.0h0M436.6 397.9h0M433.0 361.8h0M448.9 370.2h0M504.8 354.7h0M384.9 381.8h0M461.3 434.7h0M409.5 414.3h0M365.0 424.1h0M396.9 392.0h0M467.5 386.1h0M503.4 359.2h0M352.6 395.6h0M418.5 356.4h0M444.0 399.5h0M381.7 425.4h0M420.0 334.6h0M458.1 337.9h0M416.9 378.3h0M453.2 345.7h0M518.1 415.8h0M370.8 443.9h0M459.1 387.0h0M484.2 427.3h0M452.1 367.3h0M454.4 428.2h0M442.8 392.5h0M346.6 408.0h0M417.3 417.5h0M367.0 445.4h0M476.1 360.4h0M381.1 340.7h0M340.7 391.4h0M459.3 370.6h0M436.7 366.2h0M483.3 453.1h0M417.1 396.7h0M378.8 408.5h0M427.2 417.8h0M458.1 372.6h0M496.2 378.7h0M421.9 361.9h0M408.2 384.9h0M526.8 377.7h0M425.0 438.0h0M491.4 369.5h0M397.7 394.4h0M496.3 343.7h0M437.1 415.1h0M363.2 379.9h0M413.8 455.4h0M422.3 368.0h0M420.7 348.3h0M516.6 418.5h0M479.3 384.0h0M419.1 371.1h0M443.9 397.6h0M359.0 427.2h0M516.8 404.3h0M408.0 408.5h0M433.3 401.1h0M490.9 428.3h0M494.9 450.2h0M446.9 402.8h0M369.1 378.4h0M502.6 354.8h0M441.8 463.7h0M425.6 335.4h0M453.8 393.4h0M497.6 444.5h0M462.4 362.0h0M373.6 431.4h0M439.2 411.4h0M448.2 404.2h0M498.6 442.2h0M516.6 386.3h0M460.5 372.5h0M394.0 377.3h0M450.6 385.3h0M501.5 376.6h0M420.4 410.6h0M442.8 401.1h0M439.3 368.6h0M364.6 374.1h0M427.0 363.3h0M467.2 439.3h0M405.4 391.1h0M432.7 342.3h0M516.2 389.9h0M463.9 340.5h0M438.6 404.5h0M398.9 441.4h0M417.4 453.7h0M451.3 347.3h0M390.7 381.8h0M407.3 375.3h0M436.6 337.5h0M388.5 378.3h0M393.6 335.1h0M359.3 365.9h0M401.3 453.4h0M471.0 354.8h0M434.2 400.6h0M379.2 397.6h0M411.7 380.2h0M448.1 444.4h0M434.0 409.0h0M463.0 388.2h0M446.1 407.8h0M475.0 434.8h0M513.6 364.4h0M416.1 378.7h0M434.3 390.9h0M474.0 353.7h0M400.1 386.9h0M354.7 423.3h0M441.4 398.4h0M415.6 333.8h0M471.1 450.8h0M346.7 408.8h0M462.1 354.8h0M398.2 351.8h0M451.0 392.8h0M467.9 386.0h0M484.1 430.0h0M434.7 388.4h0M379.1 381.8h0M506.9 388.0h0M411.5 446.2h0M453.0 445.4h0M364.5 374.6h0M452.9 383.7h0M513.7 359.2h0M468.3 353.2h0M397.4 396.0h0M441.8 330.6h0M442.0 393.9h0M444.8 388.0h0M443.6 419.2h0M389.8 376.7h0M479.5 351.3h0M519.1 395.1h0M362.7 367.7h0M465.8 435.3h0M480.0 405.1h0M420.5 429.6h0M473.1 354.0h0M343.1 415.3h0M367.6 355.9h0M383.5 385.5h0M363.8 359.1h0M429.8 393.5h0M363.2 351.8h0M430.9 369.9h0M412.4 346.8h0M375.4 359.3h0M462.0 415.7h0M488.3 411.6h0M461.5 454.4h0M514.6 358.2h0M449.6 436.2h0M485.2 405.4h0M392.3 424.0h0M469.6 435.3h0M347.5 370.0h0M471.9 403.4h0M455.6 406.4h0M430.4 391.3h0M363.6 372.4h0M435.2 409.9h0M390.0 422.6h0M517.6 362.5h0M445.7 394.4h0M497.3 364.5h0M460.1 396.0h0M363.2 370.7h0M479.4 392.1h0M384.0 344.4h0M434.5 462.5h0M389.8 458.0h0M417.1 436.8h0M416.5 359.9h0M505.2 378.3h0M493.9 374.7h0M531.2 407.2h0M356.4 433.8h0M443.6 399.5h0M466.4 356.4h0M421.7 369.1h0M397.5 364.0h0M456.8 378.2h0M451.3 335.5h0M490.3 354.8h0M427.4 414.5h0M433.5 368.5h0M440.8 418.2h0M448.5 385.1h0M440.6 398.9h0M459.4 411.9h0M442.4 378.3h0M485.2 371.9h0M343.4 419.3h0M502.1 347.9h0M425.8 339.7h0M491.7 387.0h0M523.7 389.1h0M366.0 350.7h0M375.0 426.7h0M405.0 342.7h0M497.0 347.2h0M444.0 416.5h0M381.7 391.8h0M409.5 458.8h0M414.3 357.0h0M378.6 440.4h0M518.4 394.1h0M483.9 412.0h0M432.6 330.9h0M355.9 390.7h0M378.6 372.9h0M423.8 411.1h0M412.8 340.3h0M461.8 435.2h0M401.0 368.9h0M414.3 341.9h0M395.1 338.0h0M508.2 356.3h0M444.1 452.0h0M421.0 425.2h0M406.9 344.8h0M407.3 352.8h0M436.1 332.5h0M433.5 425.9h0M451.5 416.7h0M466.1 350.9h0M393.7 350.4h0M414.7 405.7h0M468.8 453.5h0M395.5 376.3h0M400.4 360.5h0M417.5 406.4h0M418.5 377.1h0M381.6 360.6h0M362.0 379.1h0M441.3 391.0h0M502.7 357.9h0M450.1 338.5h0M429.2 363.9h0M528.4 407.4h0M503.3 390.9h0M436.4 354.7h0M387.7 387.3h0M426.4 447.4h0M400.4 425.6h0M364.0 358.4h0M376.6 445.3h0M491.2 415.9h0M505.1 380.6h0M500.9 442.4h0M435.1 385.1h0M381.5 364.9h0M456.1 373.0h0M344.6 403.5h0M392.6 392.8h0M399.8 413.6h0M477.6 385.8h0M457.7 356.1h0M503.3 395.9h0M348.6 423.2h0M443.0 436.5h0M469.2 458.8h0M415.6 462.5h0M453.1 330.8h0M385.6 358.3h0M370.1 349.3h0M509.2 424.2h0M441.4 445.6h0M503.2 366.0h0M402.8 336.0h0M480.0 344.0h0M446.8 368.2h0M456.9 442.9h0M415.1 344.0h0M435.0 347.5h0M402.1 352.3h0M435.7 430.3h0M524.6 399.0h0M523.4 371.1h0M396.5 452.5h0M467.0 354.0h0M493.4 369.5h0M461.5 436.6h0M496.6 445.9h0M499.0 348.7h0M466.4 359.9h0M360.3 385.7h0M508.3 380.5h0M477.7 355.3h0M390.8 340.8h0M505.0 385.2h0M439.1 357.1h0M454.9 421.5h0M437.0 336.9h0M430.6 451.1h0M414.4 340.0h0M416.6 423.1h0M524.5 369.7h0M440.8 391.3h0M454.1 415.2h0M477.5 372.9h0M382.3 415.6h0M468.2 373.0h0M376.1 391.8h0M421.0 344.2h0M437.6 459.5h0M354.5 382.7h0M397.8 399.8h0M389.8 453.3h0M407.4 350.7h0M466.7 366.3h0M419.5 431.3h0M370.2 439.0h0M418.1 358.5h0M473.1 460.6h0M407.5 346.3h0M466.0 393.7h0M376.1 383.6h0M376.3 447.8h0M386.2 422.4h0M416.2 375.2h0M400.2 336.1h0M478.0 454.8h0M487.5 376.5h0M463.9 386.5h0M515.9 404.1h0M499.6 381.5h0M456.3 393.8h0M395.7 337.8h0M422.0 384.3h0M503.6 398.0h0M404.5 439.5h0M445.0 412.2h0M399.7 390.4h0M448.7 461.6h0M402.9 374.1h0M499.9 421.3h0M358.0 413.5h0M355.4 372.6h0M471.3 348.0h0M436.8 403.4h0M373.9 383.5h0M483.4 349.3h0M384.6 435.8h0M439.8 335.9h0M387.8 456.0h0M347.5 382.8h0M512.8 418.1h0M351.7 412.2h0M452.5 369.4h0M454.4 368.4h0M446.9 438.3h0M412.5 403.8h0M449.3 367.4h0M442.4 348.9h0M514.8 372.8h0M397.1 409.2h0M461.5 424.2h0M407.4 373.0h0M418.7 397.4h0M442.8 390.3h0M431.7 379.7h0M366.4 358.6h0M385.8 374.9h0M380.1 369.1h0M434.8 366.5h0M491.4 359.4h0M359.2 383.4h0M448.6 385.6h0M358.2 363.3h0M482.7 417.7h0M527.1 407.7h0M472.1 399.7h0M401.3 355.3h0M411.6 456.7h0M382.5 387.9h0M387.6 438.4h0M500.9 377.5h0M442.7 382.6h0M387.7 424.3h0M509.8 423.8h0M464.7 392.2h0M428.4 461.9h0M428.4 413.7h0M451.9 356.9h0M524.3 419.2h0M428.7 366.7h0M378.7 414.4h0M385.4 411.5h0M386.0 399.8h0M406.0 423.8h0M397.1 383.6h0M427.6 463.7h0M526.7 399.8h0M363.2 384.8h0M359.9 423.2h0M452.7 449.3h0M422.7 395.8h0M415.4 361.8h0M364.3 372.6h0M376.1 408.6h0M486.0 346.1h0M476.0 426.7h0M387.2 358.9h0M397.6 345.6h0M410.6 456.9h0M409.6 350.4h0M484.2 443.9h0M461.9 384.9h0M403.5 387.7h0M472.0 400.0h0M405.1 395.5h0" stroke="#98d478" stroke-width="1.2" stroke-linecap="round" fill="none" stroke-opacity="0.9"/>
<path d="M378.1 436.8h0M423.9 404.7h0M380.2 404.8h0M454.5 404.3h0M420.5 430.6h0M472.8 373.3h0M504.4 422.3h0M402.6 432.0h0M370.0 396.2h0M514.7 393.6h0M461.1 344.2h0M477.2 379.5h0M367.8 414.9h0M400.0 426.7h0M503.2 373.0h0M470.6 353.8h0M407.2 392.4h0M498.5 410.4h0M395.8 371.3h0M417.0 356.4h0M365.5 438.5h0M466.0 363.9h0M509.7 393.3h0M445.8 401.9h0M479.5 437.6h0M489.4 403.0h0M505.4 394.7h0M505.2 397.5h0M411.6 375.9h0M415.7 381.7h0M459.3 401.6h0M410.8 358.4h0M412.6 457.6h0M520.8 391.6h0M461.7 409.9h0M342.2 387.3h0M430.7 338.8h0M507.8 398.7h0M362.2 430.9h0M449.8 387.4h0M434.9 343.5h0M467.9 336.8h0M398.9 393.1h0M408.8 341.3h0M431.2 466.5h0M467.7 340.8h0M439.6 357.9h0M457.9 449.5h0M479.7 444.4h0M435.5 412.5h0M473.3 435.0h0M434.3 407.0h0M421.3 418.1h0M483.3 365.2h0M417.1 376.0h0M444.8 420.3h0M413.9 384.2h0M460.6 405.8h0M515.0 385.1h0M359.9 415.8h0M427.4 391.2h0M480.9 355.9h0M437.2 463.7h0M407.9 360.6h0M375.6 356.4h0M354.6 383.4h0M465.1 335.8h0M487.8 405.5h0M503.2 399.7h0M449.5 465.6h0M409.3 426.9h0M470.5 437.7h0M512.5 373.2h0M385.7 340.2h0M348.1 371.4h0M396.1 402.1h0M346.0 417.6h0M497.6 408.7h0M351.2 378.7h0M413.8 465.2h0M358.1 377.8h0M462.7 460.3h0M470.5 400.5h0M391.4 377.2h0M481.2 351.2h0M362.3 360.1h0M477.1 383.9h0M452.6 465.2h0M481.3 352.0h0M495.3 392.7h0M468.9 363.0h0M462.0 442.4h0M458.9 439.7h0M349.3 381.4h0M355.3 362.5h0M420.5 401.0h0M431.4 372.8h0M488.9 412.6h0M400.5 412.1h0M372.5 394.5h0M520.4 392.6h0M429.0 355.4h0M412.6 422.0h0M457.0 451.7h0M453.3 438.5h0M513.0 404.1h0M494.8 382.1h0M504.5 392.5h0M425.1 352.8h0M363.8 372.5h0M438.2 359.7h0M528.6 387.7h0M532.3 396.6h0M504.1 366.0h0M424.2 409.4h0M526.6 398.2h0M471.5 380.8h0M485.0 378.2h0M487.7 389.9h0M388.8 450.6h0M389.9 400.1h0M514.1 370.7h0M446.4 453.8h0M442.8 385.4h0M399.3 339.4h0M459.7 436.2h0M449.1 419.8h0M452.6 434.6h0M413.3 389.2h0M514.4 410.4h0M462.0 356.6h0M433.6 395.9h0M429.2 386.4h0M424.2 388.0h0M434.7 399.7h0M459.1 388.6h0M399.6 395.3h0M423.5 405.3h0M407.5 415.0h0M503.4 379.2h0M458.3 332.6h0M377.1 377.8h0M454.1 433.7h0M490.3 365.8h0M383.9 436.8h0M415.8 363.1h0M442.5 412.8h0M341.1 408.4h0M526.6 381.7h0M505.4 370.2h0M426.5 424.3h0M453.5 349.0h0M467.4 408.0h0M393.9 352.7h0M424.6 462.2h0M357.9 406.5h0M488.8 435.1h0M465.6 399.7h0M473.1 387.2h0M413.4 415.3h0M496.3 433.0h0M446.3 367.9h0M408.8 447.8h0M530.0 387.6h0M382.5 371.9h0M443.1 389.0h0M421.9 406.4h0M438.0 390.4h0M527.1 405.6h0M354.6 384.1h0M427.2 357.0h0M391.5 432.1h0M396.7 403.3h0M457.6 368.0h0M457.3 376.9h0M339.7 394.6h0M358.9 402.6h0M451.2 431.5h0M459.6 386.9h0M395.7 441.2h0M424.2 465.4h0M436.0 429.1h0M375.5 366.4h0M514.6 402.3h0M469.3 402.6h0M382.7 402.0h0M518.0 401.7h0M396.3 419.0h0M438.2 369.5h0M372.7 381.0h0M449.6 385.7h0M382.8 438.7h0M469.6 400.6h0M397.4 376.7h0M387.6 380.4h0M384.0 421.9h0M508.9 438.0h0M407.8 451.5h0M464.5 374.5h0M453.6 409.6h0M364.3 421.5h0M414.7 334.9h0M459.6 333.0h0M494.0 443.1h0M384.9 344.9h0M486.4 348.9h0M346.7 398.6h0M422.9 397.6h0M383.6 400.1h0M405.9 462.4h0M428.3 370.8h0M468.0 363.9h0M391.9 362.2h0M394.1 353.4h0M372.2 347.4h0M416.8 414.4h0M512.0 422.4h0M510.4 422.4h0M396.9 338.4h0M442.3 428.2h0M517.1 405.5h0M389.1 345.0h0M508.7 364.8h0M479.8 438.3h0M412.6 377.2h0M445.4 388.4h0M432.4 399.7h0M450.3 444.5h0M384.5 359.3h0M418.5 426.7h0M434.4 410.6h0M389.7 427.0h0M495.9 421.3h0M462.7 444.1h0M363.7 400.1h0M442.5 418.2h0M398.1 380.4h0M429.2 369.8h0M385.2 360.9h0M443.4 427.2h0M410.3 449.9h0M491.8 352.1h0M394.7 443.6h0M483.5 444.1h0M416.7 355.4h0M420.2 394.2h0M427.4 381.8h0M441.8 361.7h0M460.3 385.3h0M450.6 457.4h0M484.4 365.1h0M508.7 388.1h0M385.3 435.1h0M352.6 406.0h0M424.1 392.3h0M524.8 415.8h0M426.7 350.5h0M412.0 399.2h0M438.7 369.3h0M387.8 410.4h0M485.8 419.6h0M402.3 449.9h0M418.1 385.3h0M422.2 416.7h0M520.5 371.9h0M511.8 419.1h0M503.5 389.0h0M477.5 424.9h0M365.9 393.0h0M404.8 434.7h0M490.4 420.3h0M469.3 432.8h0M492.3 424.1h0M393.4 420.2h0M506.6 395.9h0M448.2 407.1h0M357.5 425.6h0M444.5 354.3h0M376.7 378.5h0M406.9 421.8h0M500.5 414.2h0M461.1 398.4h0M440.2 422.3h0M406.1 399.6h0M372.6 378.2h0M432.2 330.3h0M436.5 425.0h0M479.9 414.2h0M432.6 442.2h0M470.0 435.5h0M498.8 355.3h0M373.0 350.7h0M416.4 442.0h0M500.6 406.1h0M503.8 374.4h0M434.3 434.3h0M418.6 411.6h0M515.6 425.1h0M384.7 440.5h0M372.5 438.3h0M510.7 374.4h0M410.9 332.5h0M440.0 363.9h0M435.8 401.0h0M388.0 443.9h0M419.9 381.9h0M371.8 390.2h0M409.8 385.4h0M343.6 409.5h0M437.2 402.0h0M464.9 442.3h0M351.9 363.3h0M469.5 402.3h0M496.4 395.1h0M437.7 350.4h0M375.5 359.9h0M361.4 425.7h0M397.7 356.0h0M516.5 386.6h0M448.0 371.7h0M417.1 346.9h0M422.1 404.1h0M488.2 453.1h0M525.1 397.1h0M508.6 384.8h0M502.6 389.6h0M403.2 350.6h0M458.8 392.1h0M449.2 427.9h0M386.9 424.5h0M385.2 376.4h0M455.6 332.3h0M445.9 340.7h0M401.7 460.6h0M357.0 387.5h0M495.5 361.0h0M423.7 385.9h0M453.4 394.9h0M522.0 395.8h0M371.3 405.3h0M429.7 393.6h0M415.7 361.2h0M427.4 397.3h0M405.9 396.7h0M528.0 417.0h0M369.7 393.7h0M352.8 427.0h0M446.3 381.6h0M413.8 422.8h0M474.2 344.6h0M387.8 434.6h0M397.6 431.7h0M346.8 404.5h0M492.9 413.7h0M465.5 436.1h0M463.6 346.5h0M496.6 407.1h0M522.4 377.5h0M454.1 354.7h0M475.8 375.4h0M428.9 439.4h0M447.2 421.6h0M404.4 459.3h0M516.7 373.5h0M515.3 417.1h0M472.1 364.0h0M408.8 421.9h0M475.6 359.7h0M433.2 390.9h0M504.0 429.3h0M452.9 452.5h0M443.7 337.5h0M405.8 386.3h0M483.7 441.3h0M400.2 442.8h0M400.1 455.2h0M402.7 393.5h0M413.3 349.2h0M401.9 347.9h0M417.4 394.0h0M444.2 370.6h0M518.6 363.8h0M465.1 390.5h0M470.7 443.1h0M425.6 397.4h0M438.3 459.6h0M504.2 390.0h0M530.8 408.0h0M420.4 443.2h0M360.6 363.3h0M449.6 397.4h0M363.6 365.4h0M494.5 432.6h0M412.0 346.7h0M513.1 386.4h0M470.1 374.7h0M506.5 357.1h0M417.7 449.3h0M459.3 444.3h0M388.9 434.8h0M339.5 407.9h0M453.5 361.9h0M477.6 379.3h0M459.9 450.2h0M422.4 453.0h0M498.3 411.5h0M434.2 400.0h0M421.6 328.8h0M497.1 448.1h0M517.2 371.6h0M366.7 409.2h0M421.5 407.3h0M454.8 420.5h0M395.1 442.5h0M381.8 428.8h0M504.2 369.8h0M503.1 384.0h0M381.0 388.4h0M449.7 382.4h0M411.1 442.5h0M427.1 421.9h0M489.0 408.2h0M450.3 330.5h0M470.4 411.1h0M484.6 398.0h0M411.7 427.1h0M370.7 386.2h0M395.4 356.0h0M391.2 386.9h0M416.4 373.1h0M461.8 340.6h0M470.9 336.7h0M511.9 391.2h0M427.4 450.9h0M416.8 399.3h0M415.8 393.8h0M472.9 455.7h0M350.8 369.9h0M396.2 423.8h0M428.2 466.1h0M499.6 359.3h0M401.3 381.8h0M519.6 362.7h0M376.6 368.9h0M464.7 438.1h0M389.5 345.8h0M448.1 437.4h0M417.6 409.7h0M406.7 350.0h0M489.8 386.3h0M381.3 386.6h0M391.8 352.7h0M487.6 397.1h0M472.3 349.5h0M455.2 377.7h0M422.7 453.2h0M401.8 458.2h0M424.7 400.6h0M476.5 351.4h0M463.0 387.6h0M371.7 387.1h0M442.3 428.3h0M505.1 412.7h0M495.3 437.8h0M373.3 433.1h0M475.1 400.1h0M367.4 391.4h0M398.5 422.9h0M436.5 454.1h0M395.6 377.7h0M373.7 362.3h0M426.7 392.6h0M473.7 402.5h0M478.5 453.7h0M374.5 355.7h0M402.6 440.6h0M504.6 359.9h0M473.9 421.6h0M371.8 384.1h0M381.3 419.4h0M433.4 361.7h0M462.9 430.4h0M468.1 338.4h0M432.5 418.6h0M414.5 381.3h0M424.9 398.9h0M391.8 452.7h0M394.0 411.8h0M435.3 344.5h0M446.7 396.9h0M444.1 367.6h0M446.7 376.2h0M389.7 390.1h0M448.5 412.0h0M449.1 351.5h0M420.2 415.5h0M480.2 419.7h0M438.8 377.3h0M361.1 421.1h0M444.2 383.8h0" stroke="#a0dc90" stroke-width="1.2" stroke-linecap="round" fill="none" stroke-opacity="0.9"/>
</g>
<defs><radialGradient id="gd"><stop offset="0" stop-color="#40f0b0" stop-opacity="0.7"/><stop offset="0.6" stop-color="#40f0b0" stop-opacity="0.48999999999999994"/><stop offset="1" stop-color="#40f0b0" stop-opacity="0"/></radialGradient></defs>
<ellipse cx="437.0" cy="394.5" rx="12" ry="8" fill="url(#gd)"/>
<defs><linearGradient id="sd" gradientUnits="userSpaceOnUse" x1="0" y1="259.8" x2="0" y2="399"><stop offset="0" stop-color="#1410e8"/><stop offset="0.25" stop-color="#1838f4"/><stop offset="0.55" stop-color="#1a68f4"/><stop offset="0.78" stop-color="#1a90f0"/><stop offset="0.92" stop-color="#20c0f0"/><stop offset="1" stop-color="#30f0e8"/></linearGradient></defs>
<path d="M432.70,262.90 A4.30,3.10 0 0 1 441.30,262.90 L439.90,399.00 L434.10,399.00 Z" fill="url(#sd)"/>
<text x="130.3" y="245.7" font-size="17.0" style="stroke-width:0.1px">(a) <tspan font-style="italic">Q</tspan> = 100 mL/min</text>
<text x="367.0" y="245.6" font-size="17.0" style="stroke-width:0.1px">(b) <tspan font-style="italic">Q</tspan> = 200 mL/min</text>
<text x="130.5" y="502.4" font-size="17.0" style="stroke-width:0.1px">(c) <tspan font-style="italic">Q</tspan> = 300 mL/min</text>
<text x="367.0" y="502.3" font-size="17.0" style="stroke-width:0.1px">(d) <tspan font-style="italic">Q</tspan> = 400 mL/min</text>
<defs><clipPath id="cm"><rect x="168.7" y="529.2" width="305.60" height="221.90"/></clipPath><clipPath id="ci"><rect x="308.4" y="624.3" width="155.20" height="104.60"/></clipPath></defs>
<g stroke="#000" stroke-width="1.3" fill="none">
<line x1="168.7" x2="173.7" y1="751.10" y2="751.10"/>
<line x1="168.7" x2="171.7" y1="738.77" y2="738.77"/>
<line x1="168.7" x2="173.7" y1="726.44" y2="726.44"/>
<line x1="168.7" x2="171.7" y1="714.12" y2="714.12"/>
<line x1="168.7" x2="173.7" y1="701.79" y2="701.79"/>
<line x1="168.7" x2="171.7" y1="689.46" y2="689.46"/>
<line x1="168.7" x2="173.7" y1="677.13" y2="677.13"/>
<line x1="168.7" x2="171.7" y1="664.81" y2="664.81"/>
<line x1="168.7" x2="173.7" y1="652.48" y2="652.48"/>
<line x1="168.7" x2="171.7" y1="640.15" y2="640.15"/>
<line x1="168.7" x2="173.7" y1="627.82" y2="627.82"/>
<line x1="168.7" x2="171.7" y1="615.49" y2="615.49"/>
<line x1="168.7" x2="173.7" y1="603.17" y2="603.17"/>
<line x1="168.7" x2="171.7" y1="590.84" y2="590.84"/>
<line x1="168.7" x2="173.7" y1="578.51" y2="578.51"/>
<line x1="168.7" x2="171.7" y1="566.18" y2="566.18"/>
<line x1="168.7" x2="173.7" y1="553.86" y2="553.86"/>
<line x1="168.7" x2="171.7" y1="541.53" y2="541.53"/>
<line x1="168.7" x2="173.7" y1="529.20" y2="529.20"/>
<line y1="751.1" y2="746.1" x1="168.70" x2="168.70"/>
<line y1="751.1" y2="748.1" x1="183.98" x2="183.98"/>
<line y1="751.1" y2="746.1" x1="199.26" x2="199.26"/>
<line y1="751.1" y2="748.1" x1="214.54" x2="214.54"/>
<line y1="751.1" y2="746.1" x1="229.82" x2="229.82"/>
<line y1="751.1" y2="748.1" x1="245.10" x2="245.10"/>
<line y1="751.1" y2="746.1" x1="260.38" x2="260.38"/>
<line y1="751.1" y2="748.1" x1="275.66" x2="275.66"/>
<line y1="751.1" y2="746.1" x1="290.94" x2="290.94"/>
<line y1="751.1" y2="748.1" x1="306.22" x2="306.22"/>
<line y1="751.1" y2="746.1" x1="321.50" x2="321.50"/>
<line y1="751.1" y2="748.1" x1="336.78" x2="336.78"/>
<line y1="751.1" y2="746.1" x1="352.06" x2="352.06"/>
<line y1="751.1" y2="748.1" x1="367.34" x2="367.34"/>
<line y1="751.1" y2="746.1" x1="382.62" x2="382.62"/>
<line y1="751.1" y2="748.1" x1="397.90" x2="397.90"/>
<line y1="751.1" y2="746.1" x1="413.18" x2="413.18"/>
<line y1="751.1" y2="748.1" x1="428.46" x2="428.46"/>
<line y1="751.1" y2="746.1" x1="443.74" x2="443.74"/>
<line y1="751.1" y2="748.1" x1="459.02" x2="459.02"/>
<line y1="751.1" y2="746.1" x1="474.30" x2="474.30"/>
</g>
<rect x="168.7" y="529.2" width="305.6" height="221.9" fill="none" stroke="#000" stroke-width="1.4"/>
<g clip-path="url(#cm)">
<polyline points="168.70,751.10 183.98,751.10 199.26,751.10 214.54,751.10 229.82,751.10 245.10,751.10 260.38,751.10 275.66,626.84 290.94,577.28 306.22,571.61 321.50,563.47 336.78,564.21 352.06,566.18 367.34,571.36 382.62,570.87 397.90,564.21 413.18,555.83 428.46,548.18 443.74,546.21 459.02,546.95 474.30,546.71" fill="none" stroke="#72b492" stroke-width="1.8"/>
<rect x="166.00" y="748.40" width="5.40" height="5.40" fill="#72b492"/>
<rect x="181.28" y="748.40" width="5.40" height="5.40" fill="#72b492"/>
<rect x="196.56" y="748.40" width="5.40" height="5.40" fill="#72b492"/>
<rect x="211.84" y="748.40" width="5.40" height="5.40" fill="#72b492"/>
<rect x="227.12" y="748.40" width="5.40" height="5.40" fill="#72b492"/>
<rect x="242.40" y="748.40" width="5.40" height="5.40" fill="#72b492"/>
<rect x="257.68" y="748.40" width="5.40" height="5.40" fill="#72b492"/>
<rect x="272.96" y="624.14" width="5.40" height="5.40" fill="#72b492"/>
<rect x="288.24" y="574.58" width="5.40" height="5.40" fill="#72b492"/>
<rect x="303.52" y="568.91" width="5.40" height="5.40" fill="#72b492"/>
<rect x="318.80" y="560.77" width="5.40" height="5.40" fill="#72b492"/>
<rect x="334.08" y="561.51" width="5.40" height="5.40" fill="#72b492"/>
<rect x="349.36" y="563.48" width="5.40" height="5.40" fill="#72b492"/>
<rect x="364.64" y="568.66" width="5.40" height="5.40" fill="#72b492"/>
<rect x="379.92" y="568.17" width="5.40" height="5.40" fill="#72b492"/>
<rect x="395.20" y="561.51" width="5.40" height="5.40" fill="#72b492"/>
<rect x="410.48" y="553.13" width="5.40" height="5.40" fill="#72b492"/>
<rect x="425.76" y="545.48" width="5.40" height="5.40" fill="#72b492"/>
<rect x="441.04" y="543.51" width="5.40" height="5.40" fill="#72b492"/>
<rect x="456.32" y="544.25" width="5.40" height="5.40" fill="#72b492"/>
<rect x="471.60" y="544.01" width="5.40" height="5.40" fill="#72b492"/>
<polyline points="168.70,751.10 183.98,751.10 199.26,751.10 214.54,751.10 229.82,735.32 245.10,668.50 260.38,618.45 275.66,596.51 290.94,591.09 306.22,582.46 321.50,571.61 336.78,560.02 352.06,557.55 367.34,557.55 382.62,559.28 397.90,558.79 413.18,557.80 428.46,558.54 443.74,558.54 459.02,558.05 474.30,559.03" fill="none" stroke="#f4b65e" stroke-width="1.8"/>
<circle cx="168.70" cy="751.10" r="3.00" fill="#f4b65e"/>
<circle cx="183.98" cy="751.10" r="3.00" fill="#f4b65e"/>
<circle cx="199.26" cy="751.10" r="3.00" fill="#f4b65e"/>
<circle cx="214.54" cy="751.10" r="3.00" fill="#f4b65e"/>
<circle cx="229.82" cy="735.32" r="3.00" fill="#f4b65e"/>
<circle cx="245.10" cy="668.50" r="3.00" fill="#f4b65e"/>
<circle cx="260.38" cy="618.45" r="3.00" fill="#f4b65e"/>
<circle cx="275.66" cy="596.51" r="3.00" fill="#f4b65e"/>
<circle cx="290.94" cy="591.09" r="3.00" fill="#f4b65e"/>
<circle cx="306.22" cy="582.46" r="3.00" fill="#f4b65e"/>
<circle cx="321.50" cy="571.61" r="3.00" fill="#f4b65e"/>
<circle cx="336.78" cy="560.02" r="3.00" fill="#f4b65e"/>
<circle cx="352.06" cy="557.55" r="3.00" fill="#f4b65e"/>
<circle cx="367.34" cy="557.55" r="3.00" fill="#f4b65e"/>
<circle cx="382.62" cy="559.28" r="3.00" fill="#f4b65e"/>
<circle cx="397.90" cy="558.79" r="3.00" fill="#f4b65e"/>
<circle cx="413.18" cy="557.80" r="3.00" fill="#f4b65e"/>
<circle cx="428.46" cy="558.54" r="3.00" fill="#f4b65e"/>
<circle cx="443.74" cy="558.54" r="3.00" fill="#f4b65e"/>
<circle cx="459.02" cy="558.05" r="3.00" fill="#f4b65e"/>
<circle cx="474.30" cy="559.03" r="3.00" fill="#f4b65e"/>
<polyline points="168.70,751.10 183.98,751.10 199.26,751.10 214.54,751.10 229.82,691.19 245.10,640.64 260.38,595.03 275.66,575.80 290.94,565.44 306.22,562.73 321.50,563.72 336.78,563.96 352.06,563.22 367.34,563.96 382.62,563.47 397.90,563.96 413.18,563.22 428.46,563.96 443.74,562.73 459.02,564.21 474.30,563.72" fill="none" stroke="#742c10" stroke-width="1.8"/>
<path d="M168.70,747.70 L172.10,753.65 L165.30,753.65 Z" fill="#742c10"/>
<path d="M183.98,747.70 L187.38,753.65 L180.58,753.65 Z" fill="#742c10"/>
<path d="M199.26,747.70 L202.66,753.65 L195.86,753.65 Z" fill="#742c10"/>
<path d="M214.54,747.70 L217.94,753.65 L211.14,753.65 Z" fill="#742c10"/>
<path d="M229.82,687.79 L233.22,693.74 L226.42,693.74 Z" fill="#742c10"/>
<path d="M245.10,637.24 L248.50,643.19 L241.70,643.19 Z" fill="#742c10"/>
<path d="M260.38,591.63 L263.78,597.58 L256.98,597.58 Z" fill="#742c10"/>
<path d="M275.66,572.40 L279.06,578.35 L272.26,578.35 Z" fill="#742c10"/>
<path d="M290.94,562.04 L294.34,567.99 L287.54,567.99 Z" fill="#742c10"/>
<path d="M306.22,559.33 L309.62,565.28 L302.82,565.28 Z" fill="#742c10"/>
<path d="M321.50,560.32 L324.90,566.27 L318.10,566.27 Z" fill="#742c10"/>
<path d="M336.78,560.56 L340.18,566.51 L333.38,566.51 Z" fill="#742c10"/>
<path d="M352.06,559.82 L355.46,565.77 L348.66,565.77 Z" fill="#742c10"/>
<path d="M367.34,560.56 L370.74,566.51 L363.94,566.51 Z" fill="#742c10"/>
<path d="M382.62,560.07 L386.02,566.02 L379.22,566.02 Z" fill="#742c10"/>
<path d="M397.90,560.56 L401.30,566.51 L394.50,566.51 Z" fill="#742c10"/>
<path d="M413.18,559.82 L416.58,565.77 L409.78,565.77 Z" fill="#742c10"/>
<path d="M428.46,560.56 L431.86,566.51 L425.06,566.51 Z" fill="#742c10"/>
<path d="M443.74,559.33 L447.14,565.28 L440.34,565.28 Z" fill="#742c10"/>
<path d="M459.02,560.81 L462.42,566.76 L455.62,566.76 Z" fill="#742c10"/>
<path d="M474.30,560.32 L477.70,566.27 L470.90,566.27 Z" fill="#742c10"/>
<polyline points="168.70,751.10 183.98,751.10 199.26,751.10 214.54,723.73 229.82,672.20 245.10,613.52 260.38,581.22 275.66,570.37 290.94,569.39 306.22,569.39 321.50,569.14 336.78,569.88 352.06,568.40 367.34,568.65 382.62,569.14 397.90,568.90 413.18,568.90 428.46,568.16 443.74,568.40 459.02,569.39 474.30,569.88" fill="none" stroke="#e4442a" stroke-width="1.8"/>
<path d="M168.70,747.40 L172.21,751.10 L168.70,754.80 L165.19,751.10 Z" fill="#e4442a"/>
<path d="M183.98,747.40 L187.49,751.10 L183.98,754.80 L180.47,751.10 Z" fill="#e4442a"/>
<path d="M199.26,747.40 L202.77,751.10 L199.26,754.80 L195.75,751.10 Z" fill="#e4442a"/>
<path d="M214.54,720.03 L218.05,723.73 L214.54,727.43 L211.03,723.73 Z" fill="#e4442a"/>
<path d="M229.82,668.50 L233.33,672.20 L229.82,675.90 L226.31,672.20 Z" fill="#e4442a"/>
<path d="M245.10,609.82 L248.61,613.52 L245.10,617.22 L241.59,613.52 Z" fill="#e4442a"/>
<path d="M260.38,577.52 L263.89,581.22 L260.38,584.92 L256.87,581.22 Z" fill="#e4442a"/>
<path d="M275.66,566.67 L279.18,570.37 L275.66,574.07 L272.15,570.37 Z" fill="#e4442a"/>
<path d="M290.94,565.69 L294.45,569.39 L290.94,573.09 L287.43,569.39 Z" fill="#e4442a"/>
<path d="M306.22,565.69 L309.74,569.39 L306.22,573.09 L302.71,569.39 Z" fill="#e4442a"/>
<path d="M321.50,565.44 L325.01,569.14 L321.50,572.84 L317.99,569.14 Z" fill="#e4442a"/>
<path d="M336.78,566.18 L340.29,569.88 L336.78,573.58 L333.26,569.88 Z" fill="#e4442a"/>
<path d="M352.06,564.70 L355.58,568.40 L352.06,572.10 L348.55,568.40 Z" fill="#e4442a"/>
<path d="M367.34,564.95 L370.86,568.65 L367.34,572.35 L363.83,568.65 Z" fill="#e4442a"/>
<path d="M382.62,565.44 L386.13,569.14 L382.62,572.84 L379.11,569.14 Z" fill="#e4442a"/>
<path d="M397.90,565.20 L401.41,568.90 L397.90,572.60 L394.38,568.90 Z" fill="#e4442a"/>
<path d="M413.18,565.20 L416.69,568.90 L413.18,572.60 L409.67,568.90 Z" fill="#e4442a"/>
<path d="M428.46,564.46 L431.98,568.16 L428.46,571.86 L424.95,568.16 Z" fill="#e4442a"/>
<path d="M443.74,564.70 L447.25,568.40 L443.74,572.10 L440.23,568.40 Z" fill="#e4442a"/>
<path d="M459.02,565.69 L462.54,569.39 L459.02,573.09 L455.51,569.39 Z" fill="#e4442a"/>
<path d="M474.30,566.18 L477.81,569.88 L474.30,573.58 L470.79,569.88 Z" fill="#e4442a"/>
</g>
<rect x="321.50" y="541.53" width="152.80" height="36.98" fill="#d4d4d4" fill-opacity="0.62" stroke="#f48888" stroke-width="1.4"/>
<line x1="474.3" x2="474.3" y1="529.2" y2="751.1" stroke="#000" stroke-width="1.4"/>
<text x="164.6" y="754.80" font-size="10.8" text-anchor="end">0.0</text>
<text x="164.6" y="730.14" font-size="10.8" text-anchor="end">1.0</text>
<text x="164.6" y="705.49" font-size="10.8" text-anchor="end">2.0</text>
<text x="164.6" y="680.83" font-size="10.8" text-anchor="end">3.0</text>
<text x="164.6" y="656.18" font-size="10.8" text-anchor="end">4.0</text>
<text x="164.6" y="631.52" font-size="10.8" text-anchor="end">5.0</text>
<text x="164.6" y="606.87" font-size="10.8" text-anchor="end">6.0</text>
<text x="164.6" y="582.21" font-size="10.8" text-anchor="end">7.0</text>
<text x="164.6" y="557.56" font-size="10.8" text-anchor="end">8.0</text>
<text x="164.6" y="532.90" font-size="10.8" text-anchor="end">9.0</text>
<text x="168.70" y="763.2" font-size="10.8" text-anchor="middle">0.0</text>
<text x="199.26" y="763.2" font-size="10.8" text-anchor="middle">0.1</text>
<text x="229.82" y="763.2" font-size="10.8" text-anchor="middle">0.2</text>
<text x="260.38" y="763.2" font-size="10.8" text-anchor="middle">0.3</text>
<text x="290.94" y="763.2" font-size="10.8" text-anchor="middle">0.4</text>
<text x="321.50" y="763.2" font-size="10.8" text-anchor="middle">0.5</text>
<text x="352.06" y="763.2" font-size="10.8" text-anchor="middle">0.6</text>
<text x="382.62" y="763.2" font-size="10.8" text-anchor="middle">0.7</text>
<text x="413.18" y="763.2" font-size="10.8" text-anchor="middle">0.8</text>
<text x="443.74" y="763.2" font-size="10.8" text-anchor="middle">0.9</text>
<text x="474.30" y="763.2" font-size="10.8" text-anchor="middle">1.0</text>
<text x="169.2" y="526.4" font-size="10.5"><tspan font-size="9.5">×</tspan><tspan dx="0.6">10</tspan><tspan font-size="7" dy="-4.8" dx="0.4">3</tspan></text>
<text x="317.8" y="775.5" font-size="12.5" text-anchor="middle">Time (s)</text>
<text transform="translate(144.4,640.2) rotate(-90)" font-size="12.5" text-anchor="middle">The number of abrasive particles</text>
<text x="318.5" y="800.4" font-size="16" text-anchor="middle" style="stroke-width:0.1px">(e)</text>
<line x1="178" x2="203.5" y1="538.2" y2="538.2" stroke="#72b492" stroke-width="1.8"/>
<rect x="188.30" y="535.50" width="5.40" height="5.40" fill="#72b492"/>
<text x="206.3" y="541.8" font-size="10.5">100mL/min</text>
<line x1="178" x2="203.5" y1="552.3" y2="552.3" stroke="#f4b65e" stroke-width="1.8"/>
<circle cx="191.00" cy="552.30" r="3.00" fill="#f4b65e"/>
<text x="206.3" y="555.9" font-size="10.5">200mL/min</text>
<line x1="178" x2="203.5" y1="565.6" y2="565.6" stroke="#742c10" stroke-width="1.8"/>
<path d="M191.00,562.20 L194.40,568.15 L187.60,568.15 Z" fill="#742c10"/>
<text x="206.3" y="569.2" font-size="10.5">300mL/min</text>
<line x1="178" x2="203.5" y1="579.0" y2="579.0" stroke="#e4442a" stroke-width="1.8"/>
<path d="M191.00,575.30 L194.51,579.00 L191.00,582.70 L187.49,579.00 Z" fill="#e4442a"/>
<text x="206.3" y="582.6" font-size="10.5">400mL/min</text>
<line x1="400.4" y1="584.6" x2="400.4" y2="614" stroke="#ff0000" stroke-width="1.3"/>
<path d="M397.0,612.8 L403.8,612.8 L400.4,620.6 Z" fill="#ff0000"/>
<rect x="308.4" y="624.3" width="155.2" height="104.6" fill="#fff"/>
<g stroke="#e2e2e2" stroke-width="0.6" stroke-dasharray="3,2">
<line x1="308.4" x2="463.6" y1="715.82" y2="715.82"/>
<line x1="308.4" x2="463.6" y1="702.75" y2="702.75"/>
<line x1="308.4" x2="463.6" y1="689.67" y2="689.67"/>
<line x1="308.4" x2="463.6" y1="676.60" y2="676.60"/>
<line x1="308.4" x2="463.6" y1="663.52" y2="663.52"/>
<line x1="308.4" x2="463.6" y1="650.45" y2="650.45"/>
<line x1="308.4" x2="463.6" y1="637.37" y2="637.37"/>
<line y1="728.9" y2="624.3" x1="339.44" x2="339.44"/>
<line y1="728.9" y2="624.3" x1="370.48" x2="370.48"/>
<line y1="728.9" y2="624.3" x1="401.52" x2="401.52"/>
<line y1="728.9" y2="624.3" x1="432.56" x2="432.56"/>
</g>
<g stroke="#000" stroke-width="1.2" fill="none">
<line x1="308.4" x2="313.4" y1="728.90" y2="728.90"/>
<line x1="308.4" x2="311.4" y1="722.36" y2="722.36"/>
<line x1="308.4" x2="313.4" y1="715.82" y2="715.82"/>
<line x1="308.4" x2="311.4" y1="709.29" y2="709.29"/>
<line x1="308.4" x2="313.4" y1="702.75" y2="702.75"/>
<line x1="308.4" x2="311.4" y1="696.21" y2="696.21"/>
<line x1="308.4" x2="313.4" y1="689.67" y2="689.67"/>
<line x1="308.4" x2="311.4" y1="683.14" y2="683.14"/>
<line x1="308.4" x2="313.4" y1="676.60" y2="676.60"/>
<line x1="308.4" x2="311.4" y1="670.06" y2="670.06"/>
<line x1="308.4" x2="313.4" y1="663.52" y2="663.52"/>
<line x1="308.4" x2="311.4" y1="656.99" y2="656.99"/>
<line x1="308.4" x2="313.4" y1="650.45" y2="650.45"/>
<line x1="308.4" x2="311.4" y1="643.91" y2="643.91"/>
<line x1="308.4" x2="313.4" y1="637.37" y2="637.37"/>
<line x1="308.4" x2="311.4" y1="630.84" y2="630.84"/>
<line x1="308.4" x2="313.4" y1="624.30" y2="624.30"/>
<line y1="728.9" y2="723.9" x1="308.40" x2="308.40"/>
<line y1="728.9" y2="725.9" x1="323.92" x2="323.92"/>
<line y1="728.9" y2="723.9" x1="339.44" x2="339.44"/>
<line y1="728.9" y2="725.9" x1="354.96" x2="354.96"/>
<line y1="728.9" y2="723.9" x1="370.48" x2="370.48"/>
<line y1="728.9" y2="725.9" x1="386.00" x2="386.00"/>
<line y1="728.9" y2="723.9" x1="401.52" x2="401.52"/>
<line y1="728.9" y2="725.9" x1="417.04" x2="417.04"/>
<line y1="728.9" y2="723.9" x1="432.56" x2="432.56"/>
<line y1="728.9" y2="725.9" x1="448.08" x2="448.08"/>
<line y1="728.9" y2="723.9" x1="463.60" x2="463.60"/>
</g>
<g clip-path="url(#ci)">
<polyline points="308.40,689.02 323.92,690.98 339.44,696.21 354.96,709.94 370.48,708.63 386.00,690.98 401.52,668.75 417.04,648.49 432.56,643.26 448.08,645.22 463.60,644.57" fill="none" stroke="#72b492" stroke-width="1.8"/>
<rect x="305.70" y="686.32" width="5.40" height="5.40" fill="#72b492"/>
<rect x="321.22" y="688.28" width="5.40" height="5.40" fill="#72b492"/>
<rect x="336.74" y="693.51" width="5.40" height="5.40" fill="#72b492"/>
<rect x="352.26" y="707.24" width="5.40" height="5.40" fill="#72b492"/>
<rect x="367.78" y="705.93" width="5.40" height="5.40" fill="#72b492"/>
<rect x="383.30" y="688.28" width="5.40" height="5.40" fill="#72b492"/>
<rect x="398.82" y="666.05" width="5.40" height="5.40" fill="#72b492"/>
<rect x="414.34" y="645.79" width="5.40" height="5.40" fill="#72b492"/>
<rect x="429.86" y="640.56" width="5.40" height="5.40" fill="#72b492"/>
<rect x="445.38" y="642.52" width="5.40" height="5.40" fill="#72b492"/>
<rect x="460.90" y="641.87" width="5.40" height="5.40" fill="#72b492"/>
<polyline points="308.40,710.59 323.92,679.87 339.44,673.33 354.96,673.33 370.48,677.91 386.00,676.60 401.52,673.99 417.04,675.95 432.56,675.95 448.08,674.64 463.60,677.25" fill="none" stroke="#f4b65e" stroke-width="1.8"/>
<circle cx="308.40" cy="710.59" r="3.00" fill="#f4b65e"/>
<circle cx="323.92" cy="679.87" r="3.00" fill="#f4b65e"/>
<circle cx="339.44" cy="673.33" r="3.00" fill="#f4b65e"/>
<circle cx="354.96" cy="673.33" r="3.00" fill="#f4b65e"/>
<circle cx="370.48" cy="677.91" r="3.00" fill="#f4b65e"/>
<circle cx="386.00" cy="676.60" r="3.00" fill="#f4b65e"/>
<circle cx="401.52" cy="673.99" r="3.00" fill="#f4b65e"/>
<circle cx="417.04" cy="675.95" r="3.00" fill="#f4b65e"/>
<circle cx="432.56" cy="675.95" r="3.00" fill="#f4b65e"/>
<circle cx="448.08" cy="674.64" r="3.00" fill="#f4b65e"/>
<circle cx="463.60" cy="677.25" r="3.00" fill="#f4b65e"/>
<polyline points="308.40,689.67 323.92,690.33 339.44,688.37 354.96,690.33 370.48,689.02 386.00,690.33 401.52,688.37 417.04,690.33 432.56,687.06 448.08,690.98 463.60,689.67" fill="none" stroke="#742c10" stroke-width="1.8"/>
<path d="M308.40,686.27 L311.80,692.22 L305.00,692.22 Z" fill="#742c10"/>
<path d="M323.92,686.93 L327.32,692.88 L320.52,692.88 Z" fill="#742c10"/>
<path d="M339.44,684.97 L342.84,690.92 L336.04,690.92 Z" fill="#742c10"/>
<path d="M354.96,686.93 L358.36,692.88 L351.56,692.88 Z" fill="#742c10"/>
<path d="M370.48,685.62 L373.88,691.57 L367.08,691.57 Z" fill="#742c10"/>
<path d="M386.00,686.93 L389.40,692.88 L382.60,692.88 Z" fill="#742c10"/>
<path d="M401.52,684.97 L404.92,690.92 L398.12,690.92 Z" fill="#742c10"/>
<path d="M417.04,686.93 L420.44,692.88 L413.64,692.88 Z" fill="#742c10"/>
<path d="M432.56,683.66 L435.96,689.61 L429.16,689.61 Z" fill="#742c10"/>
<path d="M448.08,687.58 L451.48,693.53 L444.68,693.53 Z" fill="#742c10"/>
<path d="M463.60,686.27 L467.00,692.22 L460.20,692.22 Z" fill="#742c10"/>
<polyline points="308.40,704.06 323.92,706.02 339.44,702.10 354.96,702.75 370.48,704.06 386.00,703.40 401.52,703.40 417.04,701.44 432.56,702.10 448.08,704.71 463.60,706.02" fill="none" stroke="#e4442a" stroke-width="1.8"/>
<path d="M308.40,700.36 L311.91,704.06 L308.40,707.76 L304.88,704.06 Z" fill="#e4442a"/>
<path d="M323.92,702.32 L327.44,706.02 L323.92,709.72 L320.41,706.02 Z" fill="#e4442a"/>
<path d="M339.44,698.40 L342.95,702.10 L339.44,705.80 L335.93,702.10 Z" fill="#e4442a"/>
<path d="M354.96,699.05 L358.47,702.75 L354.96,706.45 L351.44,702.75 Z" fill="#e4442a"/>
<path d="M370.48,700.36 L374.00,704.06 L370.48,707.76 L366.97,704.06 Z" fill="#e4442a"/>
<path d="M386.00,699.70 L389.51,703.40 L386.00,707.10 L382.49,703.40 Z" fill="#e4442a"/>
<path d="M401.52,699.70 L405.04,703.40 L401.52,707.10 L398.01,703.40 Z" fill="#e4442a"/>
<path d="M417.04,697.74 L420.56,701.44 L417.04,705.14 L413.53,701.44 Z" fill="#e4442a"/>
<path d="M432.56,698.40 L436.07,702.10 L432.56,705.80 L429.05,702.10 Z" fill="#e4442a"/>
<path d="M448.08,701.01 L451.60,704.71 L448.08,708.41 L444.57,704.71 Z" fill="#e4442a"/>
<path d="M463.60,702.32 L467.12,706.02 L463.60,709.72 L460.09,706.02 Z" fill="#e4442a"/>
</g>
<rect x="308.4" y="624.3" width="155.2" height="104.6" fill="none" stroke="#000" stroke-width="1.4"/>
<text x="303.6" y="732.60" font-size="10.8" text-anchor="end">7.0</text>
<text x="303.6" y="719.52" font-size="10.8" text-anchor="end">7.2</text>
<text x="303.6" y="706.45" font-size="10.8" text-anchor="end">7.4</text>
<text x="303.6" y="693.38" font-size="10.8" text-anchor="end">7.6</text>
<text x="303.6" y="680.30" font-size="10.8" text-anchor="end">7.8</text>
<text x="303.6" y="667.23" font-size="10.8" text-anchor="end">8.0</text>
<text x="303.6" y="654.15" font-size="10.8" text-anchor="end">8.2</text>
<text x="303.6" y="641.07" font-size="10.8" text-anchor="end">8.4</text>
<text x="303.6" y="628.00" font-size="10.8" text-anchor="end">8.6</text>
<text x="308.40" y="740.5" font-size="10.8" text-anchor="middle">0.5</text>
<text x="339.44" y="740.5" font-size="10.8" text-anchor="middle">0.6</text>
<text x="370.48" y="740.5" font-size="10.8" text-anchor="middle">0.7</text>
<text x="401.52" y="740.5" font-size="10.8" text-anchor="middle">0.8</text>
<text x="432.56" y="740.5" font-size="10.8" text-anchor="middle">0.9</text>
<text x="463.60" y="740.5" font-size="10.8" text-anchor="middle">1.0</text>
<text x="308.8" y="621.8" font-size="10.5"><tspan font-size="9.5">×</tspan><tspan dx="0.6">10</tspan><tspan font-size="7" dy="-4.8" dx="0.4">3</tspan></text>
</svg>
</body></html>
